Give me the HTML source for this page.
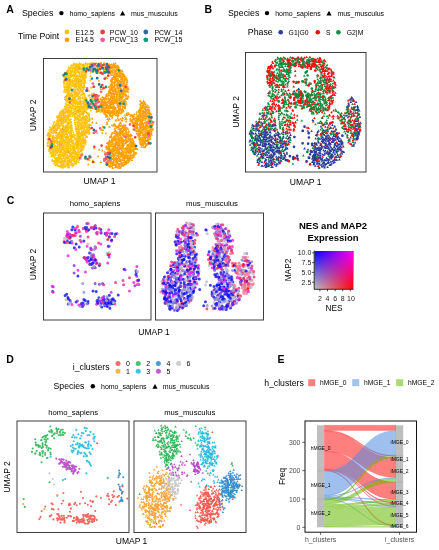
<!DOCTYPE html>
<html lang="en"><head><meta charset="utf-8"><title>Figure</title>
<style>html,body{margin:0;padding:0;background:#fff}svg{display:block}text{white-space:pre}</style></head>
<body>
<svg width="439" height="550" viewBox="0 0 439 550" font-family="'Liberation Sans', sans-serif">
<rect width="439" height="550" fill="#fff"/>
<path fill="#FF9E00" d="M133.8 154.4l1.3 2.3h-2.6zM138.9 117.8l1.3 2.3h-2.6zM114.3 85.1l1.3 2.3h-2.6zM113.5 147.4l1.3 2.3h-2.6zM101.7 103.3l1.3 2.3h-2.6zM98.1 154.9l1.3 2.3h-2.6zM103.8 67.7l1.3 2.3h-2.6zM120.7 86.8l1.3 2.3h-2.6zM119.8 72.5l1.3 2.3h-2.6zM65.2 95.6l1.3 2.3h-2.6zM105.7 96.4l1.3 2.3h-2.6zM144.4 106.1l1.3 2.3h-2.6zM143.4 139.5l1.3 2.3h-2.6zM144.7 140.7l1.3 2.3h-2.6zM112.1 109.5l1.3 2.3h-2.6zM115.9 118.7l1.3 2.3h-2.6zM135.8 151.8l1.3 2.3h-2.6zM126.2 119.9l1.3 2.3h-2.6zM118.7 65.4l1.3 2.3h-2.6zM128.6 138l1.3 2.3h-2.6zM149.7 129.6l1.3 2.3h-2.6zM116.5 78.7l1.3 2.3h-2.6zM105.5 112.9l1.3 2.3h-2.6zM124.7 76.4l1.3 2.3h-2.6zM116.5 84l1.3 2.3h-2.6zM152.7 123.2l1.3 2.3h-2.6zM107.2 77l1.3 2.3h-2.6zM121.5 144.3l1.3 2.3h-2.6zM118 159.4l1.3 2.3h-2.6zM99.9 71.3l1.3 2.3h-2.6zM133 148.4l1.3 2.3h-2.6zM110.9 83.1l1.3 2.3h-2.6zM114.1 63.4l1.3 2.3h-2.6zM124.7 76.2l1.3 2.3h-2.6zM137.1 110.4l1.3 2.3h-2.6zM69.1 77.7l1.3 2.3h-2.6zM122.2 129.7l1.3 2.3h-2.6zM109.4 106.8l1.3 2.3h-2.6zM88.1 123.7l1.3 2.3h-2.6zM121.3 102.5l1.3 2.3h-2.6zM56.6 131.2l1.3 2.3h-2.6zM102.4 149.3l1.3 2.3h-2.6zM114.2 105.1l1.3 2.3h-2.6zM116.6 141.6l1.3 2.3h-2.6zM146.5 143.6l1.3 2.3h-2.6zM117.5 131.1l1.3 2.3h-2.6zM141.5 121.9l1.3 2.3h-2.6zM105.2 96.1l1.3 2.3h-2.6zM120.5 130.3l1.3 2.3h-2.6zM134.4 143.4l1.3 2.3h-2.6zM119.4 165.3l1.3 2.3h-2.6zM114.6 99.5l1.3 2.3h-2.6zM125.4 104.3l1.3 2.3h-2.6zM127.3 86l1.3 2.3h-2.6zM133.1 117.8l1.3 2.3h-2.6zM139.2 127.9l1.3 2.3h-2.6zM110.7 148.2l1.3 2.3h-2.6zM114.5 101.6l1.3 2.3h-2.6zM109.2 90.6l1.3 2.3h-2.6zM133.5 140l1.3 2.3h-2.6zM117 71.8l1.3 2.3h-2.6zM123.1 142.3l1.3 2.3h-2.6zM116.3 159.5l1.3 2.3h-2.6zM114.4 70.2l1.3 2.3h-2.6zM102.8 65.8l1.3 2.3h-2.6zM104.9 71.4l1.3 2.3h-2.6zM116.7 67.4l1.3 2.3h-2.6zM125.5 141.1l1.3 2.3h-2.6zM119 96.7l1.3 2.3h-2.6zM133.5 150.2l1.3 2.3h-2.6zM116.2 166l1.3 2.3h-2.6zM115.4 62.1l1.3 2.3h-2.6zM147.5 126.9l1.3 2.3h-2.6zM92.5 64.9l1.3 2.3h-2.6zM145.8 109.7l1.3 2.3h-2.6zM113.5 103.5l1.3 2.3h-2.6zM149.9 137.1l1.3 2.3h-2.6zM146.6 122.3l1.3 2.3h-2.6zM128.3 95.5l1.3 2.3h-2.6zM127.7 157l1.3 2.3h-2.6zM142.6 101.6l1.3 2.3h-2.6zM142.8 122.6l1.3 2.3h-2.6zM142.3 111.7l1.3 2.3h-2.6zM143.6 136l1.3 2.3h-2.6zM117.5 154.4l1.3 2.3h-2.6zM149.7 121.9l1.3 2.3h-2.6zM108.3 111.1l1.3 2.3h-2.6zM122.8 101.8l1.3 2.3h-2.6zM144.5 114.2l1.3 2.3h-2.6zM122.6 126l1.3 2.3h-2.6zM113.9 150.5l1.3 2.3h-2.6zM106.5 93.8l1.3 2.3h-2.6zM147.6 129.4l1.3 2.3h-2.6zM121 93.1l1.3 2.3h-2.6zM134.9 124.3l1.3 2.3h-2.6zM129.6 151l1.3 2.3h-2.6zM122.9 139.7l1.3 2.3h-2.6zM106.4 161.1l1.3 2.3h-2.6zM123.6 87.1l1.3 2.3h-2.6zM116.4 156.8l1.3 2.3h-2.6zM107.6 162.7l1.3 2.3h-2.6zM140.7 114.3l1.3 2.3h-2.6zM150.7 112.4l1.3 2.3h-2.6zM125.5 151.3l1.3 2.3h-2.6zM110.2 66.3l1.3 2.3h-2.6zM125.2 156.4l1.3 2.3h-2.6zM122.5 107.4l1.3 2.3h-2.6zM122.1 90.8l1.3 2.3h-2.6zM117.2 151.5l1.3 2.3h-2.6zM122.9 93.2l1.3 2.3h-2.6zM112.5 84l1.3 2.3h-2.6zM130.8 135l1.3 2.3h-2.6zM118.1 147.7l1.3 2.3h-2.6zM117.9 110.4l1.3 2.3h-2.6zM125.9 139.4l1.3 2.3h-2.6zM116.6 77.2l1.3 2.3h-2.6zM115.6 129.2l1.3 2.3h-2.6zM117 98.3l1.3 2.3h-2.6zM115.3 71.6l1.3 2.3h-2.6zM136.3 123.2l1.3 2.3h-2.6zM113 92.3l1.3 2.3h-2.6zM140.5 120l1.3 2.3h-2.6zM141 131.1l1.3 2.3h-2.6zM120.5 101.6l1.3 2.3h-2.6zM112.6 148.6l1.3 2.3h-2.6zM141.7 119.4l1.3 2.3h-2.6zM150.1 133.3l1.3 2.3h-2.6zM116.2 101.2l1.3 2.3h-2.6zM140.6 111.3l1.3 2.3h-2.6zM123.7 143.8l1.3 2.3h-2.6zM92.5 65.7l1.3 2.3h-2.6zM121.4 96.6l1.3 2.3h-2.6zM140.5 126.8l1.3 2.3h-2.6zM131.4 119.9l1.3 2.3h-2.6zM100 103.8l1.3 2.3h-2.6zM133.6 124.5l1.3 2.3h-2.6zM148.1 130.9l1.3 2.3h-2.6zM113.1 68.4l1.3 2.3h-2.6zM126.8 97l1.3 2.3h-2.6zM127.2 146.7l1.3 2.3h-2.6zM138.5 132.5l1.3 2.3h-2.6zM101.5 99.8l1.3 2.3h-2.6zM135.9 119.8l1.3 2.3h-2.6zM106.5 104.6l1.3 2.3h-2.6zM112.3 157.7l1.3 2.3h-2.6zM117.9 115l1.3 2.3h-2.6zM115.8 90l1.3 2.3h-2.6zM134.2 144.6l1.3 2.3h-2.6zM121.3 91l1.3 2.3h-2.6zM115.6 91.7l1.3 2.3h-2.6zM119.6 108.4l1.3 2.3h-2.6zM106.5 94.7l1.3 2.3h-2.6zM145.4 132.1l1.3 2.3h-2.6zM114.6 73.1l1.3 2.3h-2.6zM109.3 153.9l1.3 2.3h-2.6zM95.6 93.9l1.3 2.3h-2.6zM118.9 163.1l1.3 2.3h-2.6zM105.9 98.2l1.3 2.3h-2.6zM119.9 127.1l1.3 2.3h-2.6zM152.4 128.4l1.3 2.3h-2.6zM122.3 143.2l1.3 2.3h-2.6zM114.1 157.5l1.3 2.3h-2.6zM114.7 65.8l1.3 2.3h-2.6zM109.1 149.7l1.3 2.3h-2.6zM115.7 119.3l1.3 2.3h-2.6zM122.8 151.9l1.3 2.3h-2.6zM130.5 137.9l1.3 2.3h-2.6zM116.9 142.9l1.3 2.3h-2.6zM103.6 102.9l1.3 2.3h-2.6zM119.2 74.5l1.3 2.3h-2.6zM119.9 157.7l1.3 2.3h-2.6zM126.6 86.9l1.3 2.3h-2.6zM143.5 99.6l1.3 2.3h-2.6zM143.6 133.4l1.3 2.3h-2.6zM117.6 64.2l1.3 2.3h-2.6zM119.2 94.9l1.3 2.3h-2.6zM129.4 142.4l1.3 2.3h-2.6zM105.9 106.3l1.3 2.3h-2.6zM101.1 101.7l1.3 2.3h-2.6zM106.5 93l1.3 2.3h-2.6zM148.7 117.8l1.3 2.3h-2.6zM113.7 62.5l1.3 2.3h-2.6zM111 95.7l1.3 2.3h-2.6zM117.3 109.8l1.3 2.3h-2.6zM123.9 86.4l1.3 2.3h-2.6zM110 63.9l1.3 2.3h-2.6zM110.9 102.9l1.3 2.3h-2.6zM118 113.6l1.3 2.3h-2.6zM97.9 66.4l1.3 2.3h-2.6zM108 106.1l1.3 2.3h-2.6zM124.5 139.1l1.3 2.3h-2.6zM143.3 106.2l1.3 2.3h-2.6zM111.5 94l1.3 2.3h-2.6zM142.5 126.1l1.3 2.3h-2.6zM116.4 148.9l1.3 2.3h-2.6zM122.4 145.9l1.3 2.3h-2.6zM140.1 113.1l1.3 2.3h-2.6zM119.3 111.1l1.3 2.3h-2.6zM123.6 89.6l1.3 2.3h-2.6zM151.6 130.2l1.3 2.3h-2.6zM108.8 66.5l1.3 2.3h-2.6zM126.1 153.6l1.3 2.3h-2.6zM95.4 63.6l1.3 2.3h-2.6zM130.5 114.5l1.3 2.3h-2.6zM117.2 74.8l1.3 2.3h-2.6zM143.6 138.2l1.3 2.3h-2.6zM127.5 159l1.3 2.3h-2.6zM115.3 160.8l1.3 2.3h-2.6zM140.5 134l1.3 2.3h-2.6zM112.9 100.7l1.3 2.3h-2.6zM116.4 113.6l1.3 2.3h-2.6zM111.1 134.9l1.3 2.3h-2.6zM119.8 129.5l1.3 2.3h-2.6zM113.8 154.8l1.3 2.3h-2.6zM108.7 104.7l1.3 2.3h-2.6zM131.9 145.6l1.3 2.3h-2.6zM118.7 137l1.3 2.3h-2.6zM124.1 157l1.3 2.3h-2.6zM120.4 69l1.3 2.3h-2.6zM113.6 156.6l1.3 2.3h-2.6zM112.8 77.4l1.3 2.3h-2.6zM111.1 65l1.3 2.3h-2.6zM126.5 113.6l1.3 2.3h-2.6zM123.7 128.5l1.3 2.3h-2.6zM111 159.5l1.3 2.3h-2.6zM113.9 86.3l1.3 2.3h-2.6zM132.9 141.9l1.3 2.3h-2.6zM126.7 146.6l1.3 2.3h-2.6zM99.2 62l1.3 2.3h-2.6zM117.5 117.3l1.3 2.3h-2.6zM143.6 127.6l1.3 2.3h-2.6zM112.3 80.8l1.3 2.3h-2.6zM114.5 111.7l1.3 2.3h-2.6zM123.9 150.6l1.3 2.3h-2.6zM106.4 97.3l1.3 2.3h-2.6zM148.3 109.4l1.3 2.3h-2.6zM113 111.4l1.3 2.3h-2.6zM110.2 102.6l1.3 2.3h-2.6zM124.1 82.5l1.3 2.3h-2.6zM119.1 83.7l1.3 2.3h-2.6zM111.6 98.9l1.3 2.3h-2.6zM115.4 71.9l1.3 2.3h-2.6zM116.7 74.9l1.3 2.3h-2.6zM116.4 139.9l1.3 2.3h-2.6zM126.2 149.9l1.3 2.3h-2.6zM111.1 162l1.3 2.3h-2.6zM112.6 138.6l1.3 2.3h-2.6zM127.6 127.3l1.3 2.3h-2.6zM102.8 109.9l1.3 2.3h-2.6zM136.6 123.8l1.3 2.3h-2.6zM123.1 82.5l1.3 2.3h-2.6zM120 152.8l1.3 2.3h-2.6zM118 135.4l1.3 2.3h-2.6zM112.7 113.8l1.3 2.3h-2.6zM114 85.7l1.3 2.3h-2.6zM121 71.6l1.3 2.3h-2.6zM120.6 84.7l1.3 2.3h-2.6zM77.4 154.5l1.3 2.3h-2.6zM136.7 120.2l1.3 2.3h-2.6zM120.3 155.2l1.3 2.3h-2.6zM133.9 116.7l1.3 2.3h-2.6zM149.4 113.2l1.3 2.3h-2.6zM100.3 97.4l1.3 2.3h-2.6zM111.6 105.5l1.3 2.3h-2.6zM107.1 152.5l1.3 2.3h-2.6zM136.6 123l1.3 2.3h-2.6zM116.3 137.3l1.3 2.3h-2.6zM145.5 112.2l1.3 2.3h-2.6zM144.2 111.9l1.3 2.3h-2.6zM121.3 127.8l1.3 2.3h-2.6zM126.6 90.2l1.3 2.3h-2.6zM128.9 159.2l1.3 2.3h-2.6zM119.5 79.5l1.3 2.3h-2.6zM101.9 107.7l1.3 2.3h-2.6zM128.1 94.8l1.3 2.3h-2.6zM106 75.7l1.3 2.3h-2.6zM111.4 157.8l1.3 2.3h-2.6zM117.5 85.3l1.3 2.3h-2.6zM123 152.8l1.3 2.3h-2.6zM121.8 126.7l1.3 2.3h-2.6z"/>
<path fill="#FFC20A" d="M59.7 164.8l1.3 2.3h-2.6zM60.5 112.2l1.3 2.3h-2.6zM65.7 157l1.3 2.3h-2.6zM83.6 82l1.3 2.3h-2.6zM68.4 70.3l1.3 2.3h-2.6zM72.6 80.9l1.3 2.3h-2.6zM66.5 94.2l1.3 2.3h-2.6zM72.5 114.8l1.3 2.3h-2.6zM69.4 72.2l1.3 2.3h-2.6zM76.3 93.1l1.3 2.3h-2.6zM63.4 132.9l1.3 2.3h-2.6zM75.9 106.2l1.3 2.3h-2.6zM77.1 124.9l1.3 2.3h-2.6zM92.5 97.6l1.3 2.3h-2.6zM72.4 94.2l1.3 2.3h-2.6zM64.2 159.5l1.3 2.3h-2.6zM88.7 128.8l1.3 2.3h-2.6zM52.4 140.5l1.3 2.3h-2.6zM71.6 137.1l1.3 2.3h-2.6zM77.3 155.9l1.3 2.3h-2.6zM65.6 124.7l1.3 2.3h-2.6zM70.9 69.6l1.3 2.3h-2.6zM76.7 100.2l1.3 2.3h-2.6zM81.5 64.2l1.3 2.3h-2.6zM98 69.1l1.3 2.3h-2.6zM71.3 162.9l1.3 2.3h-2.6zM82.8 116.8l1.3 2.3h-2.6zM62.1 120.4l1.3 2.3h-2.6zM62.2 108.9l1.3 2.3h-2.6zM84 66.4l1.3 2.3h-2.6zM79.3 97.2l1.3 2.3h-2.6zM84.7 74.3l1.3 2.3h-2.6zM78.6 110.8l1.3 2.3h-2.6zM73.2 130.5l1.3 2.3h-2.6zM91.9 96.9l1.3 2.3h-2.6zM79.2 157.2l1.3 2.3h-2.6zM59.5 152.8l1.3 2.3h-2.6zM73.2 150.9l1.3 2.3h-2.6zM56.3 141l1.3 2.3h-2.6zM69.9 101l1.3 2.3h-2.6zM76.1 112.4l1.3 2.3h-2.6zM61.1 137.8l1.3 2.3h-2.6zM91 106.7l1.3 2.3h-2.6zM83.6 130.4l1.3 2.3h-2.6zM57.8 142.3l1.3 2.3h-2.6zM72.5 150.8l1.3 2.3h-2.6zM75.3 153.2l1.3 2.3h-2.6zM72.7 100.5l1.3 2.3h-2.6zM58.2 126.3l1.3 2.3h-2.6zM83.7 106.1l1.3 2.3h-2.6zM86 74.1l1.3 2.3h-2.6zM87.2 123.9l1.3 2.3h-2.6zM78 133.3l1.3 2.3h-2.6zM62.9 127.1l1.3 2.3h-2.6zM80.1 105.8l1.3 2.3h-2.6zM85.9 71.8l1.3 2.3h-2.6zM58.2 123.5l1.3 2.3h-2.6zM56 156.5l1.3 2.3h-2.6zM76.6 152.3l1.3 2.3h-2.6zM70.7 98l1.3 2.3h-2.6zM73.6 87.8l1.3 2.3h-2.6zM67.4 122.9l1.3 2.3h-2.6zM80.1 138.3l1.3 2.3h-2.6zM123.7 150.1l1.3 2.3h-2.6zM77.5 101.7l1.3 2.3h-2.6zM65.3 125.6l1.3 2.3h-2.6zM66 110.6l1.3 2.3h-2.6zM58.1 121.4l1.3 2.3h-2.6zM92 103.4l1.3 2.3h-2.6zM63.4 144.1l1.3 2.3h-2.6zM85.8 61.7l1.3 2.3h-2.6zM68.1 142.3l1.3 2.3h-2.6zM79.2 81.9l1.3 2.3h-2.6zM116.9 112.6l1.3 2.3h-2.6zM61.3 129.9l1.3 2.3h-2.6zM75.2 96.5l1.3 2.3h-2.6zM81.1 102.4l1.3 2.3h-2.6zM98.5 98.9l1.3 2.3h-2.6zM73.6 98.9l1.3 2.3h-2.6zM89.1 65.1l1.3 2.3h-2.6zM53.4 150.8l1.3 2.3h-2.6zM67.1 75.3l1.3 2.3h-2.6zM53.6 145.3l1.3 2.3h-2.6zM50.7 150.2l1.3 2.3h-2.6zM50.3 138.5l1.3 2.3h-2.6zM81.9 68.1l1.3 2.3h-2.6zM81.7 148l1.3 2.3h-2.6zM82.2 141.6l1.3 2.3h-2.6zM75 155.1l1.3 2.3h-2.6zM74.9 136.8l1.3 2.3h-2.6zM74.2 74.3l1.3 2.3h-2.6zM66.4 95.9l1.3 2.3h-2.6zM68.1 117.1l1.3 2.3h-2.6zM62.3 119.2l1.3 2.3h-2.6zM76.1 64.1l1.3 2.3h-2.6zM56 150.3l1.3 2.3h-2.6zM74.7 86l1.3 2.3h-2.6zM67 140.6l1.3 2.3h-2.6zM67.4 157.1l1.3 2.3h-2.6zM82.9 121.5l1.3 2.3h-2.6zM55.3 158.7l1.3 2.3h-2.6zM64.1 84.7l1.3 2.3h-2.6zM68.7 141.8l1.3 2.3h-2.6zM59.7 150.7l1.3 2.3h-2.6zM84.2 77l1.3 2.3h-2.6zM82.1 80.3l1.3 2.3h-2.6zM68.8 163.2l1.3 2.3h-2.6zM83.3 112.8l1.3 2.3h-2.6zM71 73.7l1.3 2.3h-2.6zM78.3 78.7l1.3 2.3h-2.6zM78.9 134.6l1.3 2.3h-2.6zM68.2 118.7l1.3 2.3h-2.6zM80.6 110l1.3 2.3h-2.6zM69 108.4l1.3 2.3h-2.6zM78.7 106.1l1.3 2.3h-2.6zM77.4 114.5l1.3 2.3h-2.6zM97.3 131.6l1.3 2.3h-2.6zM86.8 112l1.3 2.3h-2.6zM101.6 101.5l1.3 2.3h-2.6zM79.4 124.3l1.3 2.3h-2.6zM65.3 158.5l1.3 2.3h-2.6zM63.6 118l1.3 2.3h-2.6zM61.4 124.1l1.3 2.3h-2.6zM75.9 81.6l1.3 2.3h-2.6zM73.4 63.6l1.3 2.3h-2.6zM67.3 141.9l1.3 2.3h-2.6zM85.5 114.8l1.3 2.3h-2.6zM57.7 134.7l1.3 2.3h-2.6zM77.6 128.1l1.3 2.3h-2.6zM48 140.9l1.3 2.3h-2.6zM70.9 122.4l1.3 2.3h-2.6zM66.8 72.6l1.3 2.3h-2.6zM124.5 113.9l1.3 2.3h-2.6zM50 125.9l1.3 2.3h-2.6zM68.9 95.9l1.3 2.3h-2.6zM50.6 151.1l1.3 2.3h-2.6zM55.8 136.7l1.3 2.3h-2.6zM74.1 88.4l1.3 2.3h-2.6zM70.8 93.1l1.3 2.3h-2.6zM62 118.1l1.3 2.3h-2.6zM64.5 140.7l1.3 2.3h-2.6zM77.8 122.5l1.3 2.3h-2.6zM82.2 81.7l1.3 2.3h-2.6zM74.4 78.8l1.3 2.3h-2.6zM66.7 77.4l1.3 2.3h-2.6zM69.9 150.2l1.3 2.3h-2.6zM67.1 72.3l1.3 2.3h-2.6zM63.9 151.8l1.3 2.3h-2.6zM74.5 80l1.3 2.3h-2.6zM62.6 147.6l1.3 2.3h-2.6zM57.3 141.4l1.3 2.3h-2.6zM80.9 67.8l1.3 2.3h-2.6zM69 166l1.3 2.3h-2.6zM76.3 102.2l1.3 2.3h-2.6zM56.6 160.8l1.3 2.3h-2.6zM63.8 79.1l1.3 2.3h-2.6zM82.3 112.1l1.3 2.3h-2.6zM72.8 73.5l1.3 2.3h-2.6zM84.8 128.2l1.3 2.3h-2.6zM80.1 108.6l1.3 2.3h-2.6zM75.9 90.6l1.3 2.3h-2.6zM74.6 112.2l1.3 2.3h-2.6zM66.1 127.3l1.3 2.3h-2.6zM57.1 157.1l1.3 2.3h-2.6zM62.7 139.4l1.3 2.3h-2.6zM56 149l1.3 2.3h-2.6zM68.5 107.3l1.3 2.3h-2.6zM62.3 152.5l1.3 2.3h-2.6zM72.4 156.1l1.3 2.3h-2.6zM61.7 116.5l1.3 2.3h-2.6zM85.2 141l1.3 2.3h-2.6zM67.7 88.5l1.3 2.3h-2.6zM81.2 145.6l1.3 2.3h-2.6zM51.9 145.4l1.3 2.3h-2.6zM76 91.8l1.3 2.3h-2.6zM71.5 111.2l1.3 2.3h-2.6zM67 124l1.3 2.3h-2.6zM83.2 136.1l1.3 2.3h-2.6zM84 66.3l1.3 2.3h-2.6zM70.9 163.4l1.3 2.3h-2.6zM83.4 139.7l1.3 2.3h-2.6zM93.1 61.8l1.3 2.3h-2.6zM79.7 152.8l1.3 2.3h-2.6zM69.2 151.8l1.3 2.3h-2.6zM76.2 127.8l1.3 2.3h-2.6zM71 70.4l1.3 2.3h-2.6zM68.6 129.1l1.3 2.3h-2.6zM61.3 132.5l1.3 2.3h-2.6zM59.9 123.8l1.3 2.3h-2.6zM58.3 156l1.3 2.3h-2.6zM47.4 141.9l1.3 2.3h-2.6zM88.7 120l1.3 2.3h-2.6zM84.5 128.5l1.3 2.3h-2.6zM70.2 79.8l1.3 2.3h-2.6zM72.8 158.3l1.3 2.3h-2.6zM67.1 133.1l1.3 2.3h-2.6zM56.2 162.5l1.3 2.3h-2.6zM77.7 70.7l1.3 2.3h-2.6zM57.1 147l1.3 2.3h-2.6zM81.6 143.1l1.3 2.3h-2.6zM74.4 100.3l1.3 2.3h-2.6zM95.3 97.4l1.3 2.3h-2.6zM96.7 71.3l1.3 2.3h-2.6zM51.4 130.9l1.3 2.3h-2.6zM82.7 77.6l1.3 2.3h-2.6zM60.5 128.6l1.3 2.3h-2.6zM97.5 63.5l1.3 2.3h-2.6zM65.3 129.1l1.3 2.3h-2.6zM71 152.8l1.3 2.3h-2.6zM90.9 64.3l1.3 2.3h-2.6zM76.4 141.7l1.3 2.3h-2.6zM56.5 138.4l1.3 2.3h-2.6zM60.5 143.6l1.3 2.3h-2.6zM55.5 140.2l1.3 2.3h-2.6zM73.9 132.7l1.3 2.3h-2.6zM65.3 138.1l1.3 2.3h-2.6zM86.4 120.9l1.3 2.3h-2.6zM71 94.8l1.3 2.3h-2.6zM78.1 105.6l1.3 2.3h-2.6zM71.1 131.9l1.3 2.3h-2.6zM81.4 131.6l1.3 2.3h-2.6zM57.9 116.5l1.3 2.3h-2.6zM84.7 134l1.3 2.3h-2.6zM71.6 151.5l1.3 2.3h-2.6zM76.1 161.5l1.3 2.3h-2.6zM73.3 146.9l1.3 2.3h-2.6zM56.4 122.5l1.3 2.3h-2.6zM51.4 154.8l1.3 2.3h-2.6zM71.8 148.2l1.3 2.3h-2.6zM84.3 78.6l1.3 2.3h-2.6zM67.9 79.2l1.3 2.3h-2.6zM74.8 118.7l1.3 2.3h-2.6zM83.1 117.6l1.3 2.3h-2.6zM86.1 98.5l1.3 2.3h-2.6zM82.5 152.2l1.3 2.3h-2.6zM60.4 117.5l1.3 2.3h-2.6zM61.1 121.2l1.3 2.3h-2.6zM67 86.3l1.3 2.3h-2.6zM54.8 126.8l1.3 2.3h-2.6zM65.6 160.1l1.3 2.3h-2.6zM52.9 150.1l1.3 2.3h-2.6zM50.1 130l1.3 2.3h-2.6zM80.5 86.9l1.3 2.3h-2.6zM75.3 137.8l1.3 2.3h-2.6zM58.3 132.1l1.3 2.3h-2.6zM80.9 119l1.3 2.3h-2.6zM93.6 65.5l1.3 2.3h-2.6zM81.3 84.4l1.3 2.3h-2.6zM70.8 83.1l1.3 2.3h-2.6zM48.3 138.3l1.3 2.3h-2.6zM72.6 154.5l1.3 2.3h-2.6zM57.1 124.4l1.3 2.3h-2.6zM78.7 154.9l1.3 2.3h-2.6zM70.8 86.3l1.3 2.3h-2.6zM64.7 134.5l1.3 2.3h-2.6z"/>
<path fill="#FF9E00" d="M130.8 113.8l1.3 2.3h-2.6zM96.1 61.9l1.3 2.3h-2.6zM130.4 119.1l1.3 2.3h-2.6zM130.2 117.3l1.3 2.3h-2.6zM113.6 159.2l1.3 2.3h-2.6zM109.2 117.5l1.3 2.3h-2.6zM112.2 154.7l1.3 2.3h-2.6zM139.5 128.9l1.3 2.3h-2.6zM130.7 136.9l1.3 2.3h-2.6zM134.7 123.2l1.3 2.3h-2.6zM144.5 127l1.3 2.3h-2.6zM119.3 107.4l1.3 2.3h-2.6zM141.7 145.5l1.3 2.3h-2.6zM129.5 148.4l1.3 2.3h-2.6zM132.7 115.8l1.3 2.3h-2.6zM101.4 98.8l1.3 2.3h-2.6zM116.4 126.1l1.3 2.3h-2.6zM103.7 96.5l1.3 2.3h-2.6zM139.8 139.2l1.3 2.3h-2.6zM150.7 132.2l1.3 2.3h-2.6zM109.6 138.9l1.3 2.3h-2.6zM121.3 158.5l1.3 2.3h-2.6zM126.7 80.6l1.3 2.3h-2.6zM122.3 119l1.3 2.3h-2.6zM146.7 142.7l1.3 2.3h-2.6zM104.2 108l1.3 2.3h-2.6zM121.6 147.8l1.3 2.3h-2.6zM101.4 128.5l1.3 2.3h-2.6zM134.5 113l1.3 2.3h-2.6zM145.2 145.9l1.3 2.3h-2.6zM112.2 99.1l1.3 2.3h-2.6zM116.7 165.6l1.3 2.3h-2.6zM149.2 137.9l1.3 2.3h-2.6zM112 151l1.3 2.3h-2.6zM143.1 129.2l1.3 2.3h-2.6zM146.7 108.6l1.3 2.3h-2.6zM114.7 64.8l1.3 2.3h-2.6zM96.2 108l1.3 2.3h-2.6zM127.4 132.6l1.3 2.3h-2.6zM150.1 116.9l1.3 2.3h-2.6zM129.3 152.1l1.3 2.3h-2.6zM110.1 71.1l1.3 2.3h-2.6zM111.1 69.9l1.3 2.3h-2.6zM93.1 92.4l1.3 2.3h-2.6zM145.8 105.4l1.3 2.3h-2.6zM143.5 109.6l1.3 2.3h-2.6zM109.6 156.6l1.3 2.3h-2.6zM144.8 107.8l1.3 2.3h-2.6zM141.2 120.6l1.3 2.3h-2.6zM136.2 116.7l1.3 2.3h-2.6zM129 150.3l1.3 2.3h-2.6zM128.5 143.4l1.3 2.3h-2.6zM107.8 109.2l1.3 2.3h-2.6zM119.3 136.9l1.3 2.3h-2.6zM147.2 114l1.3 2.3h-2.6zM121.9 72.9l1.3 2.3h-2.6zM121.7 80.1l1.3 2.3h-2.6zM125.3 83.7l1.3 2.3h-2.6zM145 139.9l1.3 2.3h-2.6zM108.6 66.1l1.3 2.3h-2.6zM104.4 97.8l1.3 2.3h-2.6zM115.1 142l1.3 2.3h-2.6zM136.1 151.5l1.3 2.3h-2.6zM109.3 147.2l1.3 2.3h-2.6zM66.7 132.6l1.3 2.3h-2.6zM148 108.7l1.3 2.3h-2.6zM130.8 155.9l1.3 2.3h-2.6zM111.8 70l1.3 2.3h-2.6zM145.1 116.8l1.3 2.3h-2.6zM117.5 103.7l1.3 2.3h-2.6zM147.4 132.2l1.3 2.3h-2.6zM110.7 144.9l1.3 2.3h-2.6zM131 142.8l1.3 2.3h-2.6zM143.9 145.7l1.3 2.3h-2.6zM97.7 101l1.3 2.3h-2.6zM126.5 133l1.3 2.3h-2.6zM122.5 116.4l1.3 2.3h-2.6zM94.9 102.5l1.3 2.3h-2.6zM145.6 144.5l1.3 2.3h-2.6zM146.8 126.5l1.3 2.3h-2.6zM117.5 157.7l1.3 2.3h-2.6zM110.4 110.4l1.3 2.3h-2.6zM132.4 156.5l1.3 2.3h-2.6zM125.9 100.1l1.3 2.3h-2.6zM126.8 126.5l1.3 2.3h-2.6zM112.5 95.1l1.3 2.3h-2.6zM108.9 146.2l1.3 2.3h-2.6zM112.6 114l1.3 2.3h-2.6zM112.3 142.5l1.3 2.3h-2.6zM118.6 104.7l1.3 2.3h-2.6zM92.3 121.1l1.3 2.3h-2.6zM118.5 118.6l1.3 2.3h-2.6zM108.2 96.5l1.3 2.3h-2.6zM105 69.3l1.3 2.3h-2.6zM97.8 104l1.3 2.3h-2.6zM150.8 119.5l1.3 2.3h-2.6zM138.7 129.6l1.3 2.3h-2.6zM131.5 141.1l1.3 2.3h-2.6zM133.4 141.4l1.3 2.3h-2.6zM124 128.7l1.3 2.3h-2.6zM112.8 105.5l1.3 2.3h-2.6zM147.1 114.4l1.3 2.3h-2.6zM122.7 134l1.3 2.3h-2.6zM125.8 142.1l1.3 2.3h-2.6zM117.1 73.6l1.3 2.3h-2.6zM109 89.4l1.3 2.3h-2.6zM123.3 128.9l1.3 2.3h-2.6zM95.7 100l1.3 2.3h-2.6zM140.2 131.8l1.3 2.3h-2.6zM115.5 156.7l1.3 2.3h-2.6zM119.8 83.1l1.3 2.3h-2.6zM132.1 118.9l1.3 2.3h-2.6zM126.3 159.7l1.3 2.3h-2.6zM147 123.6l1.3 2.3h-2.6zM124.4 79.5l1.3 2.3h-2.6zM101.9 99l1.3 2.3h-2.6zM117.7 143l1.3 2.3h-2.6zM125.4 127.4l1.3 2.3h-2.6zM140.7 107.9l1.3 2.3h-2.6zM119.2 151.7l1.3 2.3h-2.6zM108.4 119.4l1.3 2.3h-2.6zM113.7 149.8l1.3 2.3h-2.6zM121.2 91.4l1.3 2.3h-2.6zM139.6 108.1l1.3 2.3h-2.6zM116.2 64.8l1.3 2.3h-2.6zM121.7 136.1l1.3 2.3h-2.6zM142.1 104.3l1.3 2.3h-2.6zM110.3 69.8l1.3 2.3h-2.6zM110.3 106.7l1.3 2.3h-2.6zM112.3 102.7l1.3 2.3h-2.6zM112.1 79.1l1.3 2.3h-2.6zM110.8 162.9l1.3 2.3h-2.6zM121 109.2l1.3 2.3h-2.6zM116.4 151l1.3 2.3h-2.6zM117.7 105.6l1.3 2.3h-2.6zM136.5 126.1l1.3 2.3h-2.6zM122.5 137.4l1.3 2.3h-2.6zM109.1 159.2l1.3 2.3h-2.6zM131.6 118.9l1.3 2.3h-2.6zM126.5 136.6l1.3 2.3h-2.6zM105.8 131.9l1.3 2.3h-2.6zM118.7 103.6l1.3 2.3h-2.6zM113.6 163.3l1.3 2.3h-2.6zM109.5 152l1.3 2.3h-2.6zM124.8 142.3l1.3 2.3h-2.6zM138.5 114.3l1.3 2.3h-2.6zM106.3 157.8l1.3 2.3h-2.6zM104.2 107.4l1.3 2.3h-2.6zM113.9 75l1.3 2.3h-2.6zM71.3 140.2l1.3 2.3h-2.6zM136.7 126l1.3 2.3h-2.6zM142.5 101.6l1.3 2.3h-2.6zM129.4 158.1l1.3 2.3h-2.6zM115.7 69.5l1.3 2.3h-2.6zM107.5 155.7l1.3 2.3h-2.6zM113.4 124.1l1.3 2.3h-2.6zM127.7 85.2l1.3 2.3h-2.6zM109.1 99l1.3 2.3h-2.6zM125.5 146.7l1.3 2.3h-2.6zM144.8 125.8l1.3 2.3h-2.6zM128.2 145.2l1.3 2.3h-2.6zM111 66.3l1.3 2.3h-2.6zM60 118.6l1.3 2.3h-2.6zM92.6 106.8l1.3 2.3h-2.6zM102.8 98.2l1.3 2.3h-2.6zM117 161.4l1.3 2.3h-2.6zM101.4 110.2l1.3 2.3h-2.6zM121.6 161.6l1.3 2.3h-2.6zM121.2 77.7l1.3 2.3h-2.6zM120.1 89.9l1.3 2.3h-2.6zM116.6 164.8l1.3 2.3h-2.6zM116.3 92.7l1.3 2.3h-2.6zM145.4 109.4l1.3 2.3h-2.6zM126.6 140.7l1.3 2.3h-2.6zM134.3 117.9l1.3 2.3h-2.6zM150.4 135.1l1.3 2.3h-2.6zM133.2 149l1.3 2.3h-2.6zM135.5 126.9l1.3 2.3h-2.6zM123 129.8l1.3 2.3h-2.6zM123 88.9l1.3 2.3h-2.6zM63.6 113.9l1.3 2.3h-2.6zM107.4 68.3l1.3 2.3h-2.6zM97.5 108.6l1.3 2.3h-2.6zM110.2 90.5l1.3 2.3h-2.6zM125.4 126l1.3 2.3h-2.6zM109.3 146.8l1.3 2.3h-2.6zM110.8 136.1l1.3 2.3h-2.6zM121.5 76.5l1.3 2.3h-2.6zM145.2 138.1l1.3 2.3h-2.6zM104.7 107.9l1.3 2.3h-2.6zM129.4 146l1.3 2.3h-2.6zM107.1 100.6l1.3 2.3h-2.6zM104.1 61.6l1.3 2.3h-2.6zM145.4 135.9l1.3 2.3h-2.6zM149 114.7l1.3 2.3h-2.6zM93.6 99.8l1.3 2.3h-2.6zM113.7 89.7l1.3 2.3h-2.6zM126.6 136.2l1.3 2.3h-2.6zM112.8 151.9l1.3 2.3h-2.6zM149.6 113l1.3 2.3h-2.6zM117.9 76.7l1.3 2.3h-2.6zM120 157.6l1.3 2.3h-2.6zM126.1 155.2l1.3 2.3h-2.6zM111.5 106l1.3 2.3h-2.6zM124.1 128l1.3 2.3h-2.6zM78.8 138.4l1.3 2.3h-2.6zM119.4 139.9l1.3 2.3h-2.6zM119.5 133.1l1.3 2.3h-2.6zM126.3 139.7l1.3 2.3h-2.6zM113.7 111.2l1.3 2.3h-2.6zM118.2 163.4l1.3 2.3h-2.6zM133.5 123.2l1.3 2.3h-2.6zM117 139.4l1.3 2.3h-2.6zM120.7 80.7l1.3 2.3h-2.6zM148.3 111.8l1.3 2.3h-2.6zM135.7 146.9l1.3 2.3h-2.6zM112 88.9l1.3 2.3h-2.6zM112.5 71.1l1.3 2.3h-2.6zM110.1 114.3l1.3 2.3h-2.6zM112 139.8l1.3 2.3h-2.6zM137.2 114.4l1.3 2.3h-2.6zM125.6 93.2l1.3 2.3h-2.6zM122.9 92.6l1.3 2.3h-2.6zM107.8 115.2l1.3 2.3h-2.6zM149.7 121.8l1.3 2.3h-2.6zM112.9 163.7l1.3 2.3h-2.6zM116.2 95l1.3 2.3h-2.6zM143 131.3l1.3 2.3h-2.6zM147.1 138.9l1.3 2.3h-2.6zM145.3 114.6l1.3 2.3h-2.6zM111.2 134.6l1.3 2.3h-2.6zM115.6 106.5l1.3 2.3h-2.6zM124 105.4l1.3 2.3h-2.6zM135.3 128.8l1.3 2.3h-2.6zM121.5 119.2l1.3 2.3h-2.6zM91.6 67.5l1.3 2.3h-2.6zM142.4 106.1l1.3 2.3h-2.6zM119.2 93.3l1.3 2.3h-2.6zM111.9 149.7l1.3 2.3h-2.6zM89.4 93.9l1.3 2.3h-2.6zM69.8 105.7l1.3 2.3h-2.6zM108.1 163.3l1.3 2.3h-2.6zM120.1 159.5l1.3 2.3h-2.6zM120.4 106.5l1.3 2.3h-2.6zM109.9 139.6l1.3 2.3h-2.6zM111.1 78.6l1.3 2.3h-2.6zM114.8 144.6l1.3 2.3h-2.6zM145.3 118.5l1.3 2.3h-2.6zM109.9 157.5l1.3 2.3h-2.6zM138.6 115.7l1.3 2.3h-2.6z"/>
<path fill="#FFC20A" d="M60.5 165.5l1.3 2.3h-2.6zM62.9 149l1.3 2.3h-2.6zM76.8 130.3l1.3 2.3h-2.6zM85.9 70.4l1.3 2.3h-2.6zM66 138.1l1.3 2.3h-2.6zM78.1 120.1l1.3 2.3h-2.6zM56.3 137l1.3 2.3h-2.6zM67.5 127.5l1.3 2.3h-2.6zM64.9 114.6l1.3 2.3h-2.6zM65.9 102.3l1.3 2.3h-2.6zM84.9 125.7l1.3 2.3h-2.6zM78.8 68.1l1.3 2.3h-2.6zM81.8 104.5l1.3 2.3h-2.6zM71.2 99.7l1.3 2.3h-2.6zM57.2 126.2l1.3 2.3h-2.6zM86.3 110.8l1.3 2.3h-2.6zM84.1 79.4l1.3 2.3h-2.6zM87.5 107.3l1.3 2.3h-2.6zM53.6 146.5l1.3 2.3h-2.6zM64.8 105l1.3 2.3h-2.6zM71 153.5l1.3 2.3h-2.6zM89.1 69.6l1.3 2.3h-2.6zM74.8 97.8l1.3 2.3h-2.6zM74.4 107.4l1.3 2.3h-2.6zM59.4 113.9l1.3 2.3h-2.6zM72.6 78.7l1.3 2.3h-2.6zM49 149.5l1.3 2.3h-2.6zM78.5 70.9l1.3 2.3h-2.6zM79.2 146.4l1.3 2.3h-2.6zM78.4 153l1.3 2.3h-2.6zM88.7 100.7l1.3 2.3h-2.6zM70.4 160.8l1.3 2.3h-2.6zM66.7 117.8l1.3 2.3h-2.6zM78.6 142.4l1.3 2.3h-2.6zM71.2 148.2l1.3 2.3h-2.6zM55.8 149.6l1.3 2.3h-2.6zM72.8 93l1.3 2.3h-2.6zM49.9 132.7l1.3 2.3h-2.6zM75.1 77.4l1.3 2.3h-2.6zM81.9 130.3l1.3 2.3h-2.6zM61.8 144.1l1.3 2.3h-2.6zM69 81.3l1.3 2.3h-2.6zM49.1 133.7l1.3 2.3h-2.6zM74.6 69.2l1.3 2.3h-2.6zM84.3 75.5l1.3 2.3h-2.6zM71 106.7l1.3 2.3h-2.6zM79.6 114.6l1.3 2.3h-2.6zM65.6 143.1l1.3 2.3h-2.6zM73.3 111.1l1.3 2.3h-2.6zM59.2 144.7l1.3 2.3h-2.6zM59.4 135.6l1.3 2.3h-2.6zM71 153.3l1.3 2.3h-2.6zM66.6 105.9l1.3 2.3h-2.6zM57.5 127.9l1.3 2.3h-2.6zM75.9 140.9l1.3 2.3h-2.6zM80.6 126.2l1.3 2.3h-2.6zM67 146.3l1.3 2.3h-2.6zM72.2 80.3l1.3 2.3h-2.6zM85.4 130l1.3 2.3h-2.6zM58.8 124.2l1.3 2.3h-2.6zM60.6 116.3l1.3 2.3h-2.6zM81.5 130.8l1.3 2.3h-2.6zM81.2 144.1l1.3 2.3h-2.6zM88.1 112.5l1.3 2.3h-2.6zM66.8 70l1.3 2.3h-2.6zM83 145l1.3 2.3h-2.6zM80.5 89.4l1.3 2.3h-2.6zM50.9 126.9l1.3 2.3h-2.6zM60.1 148.6l1.3 2.3h-2.6zM93.9 68.2l1.3 2.3h-2.6zM53.1 152.1l1.3 2.3h-2.6zM79.8 109.6l1.3 2.3h-2.6zM63.3 163.6l1.3 2.3h-2.6zM72.1 133.8l1.3 2.3h-2.6zM54.2 127.5l1.3 2.3h-2.6zM69.8 153.2l1.3 2.3h-2.6zM59.6 144.8l1.3 2.3h-2.6zM57.3 151.6l1.3 2.3h-2.6zM75.6 65.6l1.3 2.3h-2.6zM86.7 131.9l1.3 2.3h-2.6zM75 112.7l1.3 2.3h-2.6zM64.1 82l1.3 2.3h-2.6zM84 81.9l1.3 2.3h-2.6zM77.9 91.9l1.3 2.3h-2.6zM61.7 122.9l1.3 2.3h-2.6zM64.8 149.7l1.3 2.3h-2.6zM62.7 144.9l1.3 2.3h-2.6zM52.7 159.8l1.3 2.3h-2.6zM78.8 95.6l1.3 2.3h-2.6zM64 108.2l1.3 2.3h-2.6zM78.8 143.3l1.3 2.3h-2.6zM57.8 120.3l1.3 2.3h-2.6zM88 62.5l1.3 2.3h-2.6zM81.5 149.9l1.3 2.3h-2.6zM51.9 131.1l1.3 2.3h-2.6zM70.4 137.5l1.3 2.3h-2.6zM88.5 65.4l1.3 2.3h-2.6zM80.1 116.1l1.3 2.3h-2.6zM87.4 125.6l1.3 2.3h-2.6zM62.4 137.3l1.3 2.3h-2.6zM81.4 75.1l1.3 2.3h-2.6zM79.6 71.8l1.3 2.3h-2.6zM82 107.4l1.3 2.3h-2.6zM85.6 139l1.3 2.3h-2.6zM65 117.7l1.3 2.3h-2.6zM79.6 61.7l1.3 2.3h-2.6zM56 131.9l1.3 2.3h-2.6zM64.8 86.3l1.3 2.3h-2.6zM63.6 135.3l1.3 2.3h-2.6zM82 123.8l1.3 2.3h-2.6zM59.7 146l1.3 2.3h-2.6zM89.4 123.2l1.3 2.3h-2.6zM75.4 103.5l1.3 2.3h-2.6zM78.5 97.1l1.3 2.3h-2.6zM73.3 98.1l1.3 2.3h-2.6zM60.6 153.2l1.3 2.3h-2.6zM90.4 123.8l1.3 2.3h-2.6zM81.9 110l1.3 2.3h-2.6zM69.5 82.5l1.3 2.3h-2.6zM149.7 124.7l1.3 2.3h-2.6zM87.8 130.4l1.3 2.3h-2.6zM73.7 139.3l1.3 2.3h-2.6zM78.8 142.5l1.3 2.3h-2.6zM74.4 67.6l1.3 2.3h-2.6zM68.3 86l1.3 2.3h-2.6zM150.2 124.1l1.3 2.3h-2.6zM72.7 95.5l1.3 2.3h-2.6zM79.1 124l1.3 2.3h-2.6zM89.7 117.8l1.3 2.3h-2.6zM82.4 70.5l1.3 2.3h-2.6zM68.3 71.2l1.3 2.3h-2.6zM85.9 122l1.3 2.3h-2.6zM54.5 155.2l1.3 2.3h-2.6zM74.2 147.3l1.3 2.3h-2.6zM70.5 109.5l1.3 2.3h-2.6zM52.6 154.6l1.3 2.3h-2.6zM81.6 130.5l1.3 2.3h-2.6zM81.3 83.3l1.3 2.3h-2.6zM71.6 155.6l1.3 2.3h-2.6zM70.6 70.9l1.3 2.3h-2.6zM72.5 164.9l1.3 2.3h-2.6zM53.5 150.1l1.3 2.3h-2.6zM50.7 128l1.3 2.3h-2.6zM84 99.8l1.3 2.3h-2.6zM61.3 110.1l1.3 2.3h-2.6zM86.7 135.7l1.3 2.3h-2.6zM74.4 96.6l1.3 2.3h-2.6zM66.6 79.8l1.3 2.3h-2.6zM72.1 142.3l1.3 2.3h-2.6zM73.8 147.8l1.3 2.3h-2.6zM61.5 162.2l1.3 2.3h-2.6zM64 111.7l1.3 2.3h-2.6zM62.8 163.1l1.3 2.3h-2.6zM79.9 121.1l1.3 2.3h-2.6zM49.8 134.2l1.3 2.3h-2.6zM59.1 126.7l1.3 2.3h-2.6zM52 142.8l1.3 2.3h-2.6zM75.2 72.8l1.3 2.3h-2.6zM73.7 163.4l1.3 2.3h-2.6zM71.3 148.5l1.3 2.3h-2.6zM78.9 141.8l1.3 2.3h-2.6zM80.6 67.9l1.3 2.3h-2.6zM97.1 100.7l1.3 2.3h-2.6zM94.4 147.1l1.3 2.3h-2.6zM71.3 79.1l1.3 2.3h-2.6zM82.4 120.1l1.3 2.3h-2.6zM51.1 148.5l1.3 2.3h-2.6zM57.9 115.6l1.3 2.3h-2.6zM69.2 162.3l1.3 2.3h-2.6zM75.1 89.8l1.3 2.3h-2.6zM73.6 135.4l1.3 2.3h-2.6zM67.6 160.4l1.3 2.3h-2.6zM60.1 139.4l1.3 2.3h-2.6zM84 100.6l1.3 2.3h-2.6zM89.5 105.9l1.3 2.3h-2.6zM82.8 75.6l1.3 2.3h-2.6zM70.1 121.8l1.3 2.3h-2.6zM62 133.4l1.3 2.3h-2.6zM69.8 113.7l1.3 2.3h-2.6zM79.2 89.9l1.3 2.3h-2.6zM83.9 106.1l1.3 2.3h-2.6zM70.7 110.1l1.3 2.3h-2.6zM86.7 99.7l1.3 2.3h-2.6zM65.6 153.5l1.3 2.3h-2.6zM64.1 154.3l1.3 2.3h-2.6zM88 111.6l1.3 2.3h-2.6zM64.4 75.8l1.3 2.3h-2.6zM58.7 149.6l1.3 2.3h-2.6zM86 123.5l1.3 2.3h-2.6zM79.9 115.9l1.3 2.3h-2.6zM49.2 135.9l1.3 2.3h-2.6zM78.4 66.9l1.3 2.3h-2.6zM68 157.1l1.3 2.3h-2.6zM55.5 126.6l1.3 2.3h-2.6zM86.1 67.3l1.3 2.3h-2.6zM81.7 147.4l1.3 2.3h-2.6zM81.4 132.8l1.3 2.3h-2.6zM66.7 70.6l1.3 2.3h-2.6zM80.2 157.5l1.3 2.3h-2.6zM84.2 92.2l1.3 2.3h-2.6zM92.8 62l1.3 2.3h-2.6zM74.7 159.8l1.3 2.3h-2.6zM78.4 117.6l1.3 2.3h-2.6zM53.3 131.6l1.3 2.3h-2.6zM76.8 99.4l1.3 2.3h-2.6zM76.3 112.2l1.3 2.3h-2.6zM95.6 67.3l1.3 2.3h-2.6zM51 151.6l1.3 2.3h-2.6zM72.9 96.2l1.3 2.3h-2.6zM76 151.9l1.3 2.3h-2.6zM68.5 67.9l1.3 2.3h-2.6zM84.8 101.9l1.3 2.3h-2.6zM77 77.8l1.3 2.3h-2.6zM71.2 65.3l1.3 2.3h-2.6zM51.1 134.2l1.3 2.3h-2.6zM89.4 62.3l1.3 2.3h-2.6zM77.7 142.1l1.3 2.3h-2.6zM77.9 120.2l1.3 2.3h-2.6zM86.4 119.3l1.3 2.3h-2.6zM68.3 94.7l1.3 2.3h-2.6zM69.1 126.9l1.3 2.3h-2.6zM83.7 87.5l1.3 2.3h-2.6zM79 128.4l1.3 2.3h-2.6zM51.3 129.1l1.3 2.3h-2.6zM59.1 122.3l1.3 2.3h-2.6zM89.5 126.7l1.3 2.3h-2.6zM132.1 147.6l1.3 2.3h-2.6zM84.3 99.3l1.3 2.3h-2.6zM73.8 112.3l1.3 2.3h-2.6zM61.3 109.8l1.3 2.3h-2.6zM66.9 143.1l1.3 2.3h-2.6zM90 96.2l1.3 2.3h-2.6zM67.7 92.1l1.3 2.3h-2.6zM65.7 75.8l1.3 2.3h-2.6zM66.9 78.7l1.3 2.3h-2.6zM57.4 144.1l1.3 2.3h-2.6zM68.6 121.4l1.3 2.3h-2.6zM68.4 162.5l1.3 2.3h-2.6zM67.1 153.2l1.3 2.3h-2.6zM68.4 146.8l1.3 2.3h-2.6zM66.6 144.5l1.3 2.3h-2.6zM76.2 129.2l1.3 2.3h-2.6zM68.9 108.3l1.3 2.3h-2.6zM64 115.1l1.3 2.3h-2.6zM68.3 148.4l1.3 2.3h-2.6zM81.6 107.8l1.3 2.3h-2.6zM69.1 103.5l1.3 2.3h-2.6zM63.2 160.2l1.3 2.3h-2.6zM51.1 144l1.3 2.3h-2.6zM80.8 123.3l1.3 2.3h-2.6zM83.4 133.1l1.3 2.3h-2.6zM87.4 64.7l1.3 2.3h-2.6zM97.2 100.4l1.3 2.3h-2.6zM73.9 107.8l1.3 2.3h-2.6zM57.1 115.4l1.3 2.3h-2.6zM54.9 146.4l1.3 2.3h-2.6zM89.7 126.2l1.3 2.3h-2.6zM70.5 152.1l1.3 2.3h-2.6zM56.9 138.1l1.3 2.3h-2.6zM70.4 71.8l1.3 2.3h-2.6zM69.7 83.6l1.3 2.3h-2.6zM76.7 116.5l1.3 2.3h-2.6zM83.3 65.9l1.3 2.3h-2.6zM56.9 160.6l1.3 2.3h-2.6zM71.9 88.5l1.3 2.3h-2.6zM84.7 63.7l1.3 2.3h-2.6zM64.7 162.5l1.3 2.3h-2.6zM57.8 139.6l1.3 2.3h-2.6zM90.9 109.2l1.3 2.3h-2.6zM67.5 115.5l1.3 2.3h-2.6zM65.6 137.1l1.3 2.3h-2.6zM78.2 102.4l1.3 2.3h-2.6zM52.3 146.5l1.3 2.3h-2.6zM83.4 116.9l1.3 2.3h-2.6zM50.8 150.7l1.3 2.3h-2.6zM77.7 147l1.3 2.3h-2.6zM75 117.2l1.3 2.3h-2.6zM79.3 92.3l1.3 2.3h-2.6zM68.8 97l1.3 2.3h-2.6zM51.2 126.9l1.3 2.3h-2.6zM87 62.8l1.3 2.3h-2.6zM49.5 132.8l1.3 2.3h-2.6zM76.5 139.8l1.3 2.3h-2.6zM79 139.7l1.3 2.3h-2.6zM79 74.6l1.3 2.3h-2.6z"/>
<path fill="#FF9E00" d="M112.8 86.3l1.3 2.3h-2.6zM119.5 162.9l1.3 2.3h-2.6zM106.8 104.1l1.3 2.3h-2.6zM123.1 72.9l1.3 2.3h-2.6zM119.1 148l1.3 2.3h-2.6zM124.7 78.9l1.3 2.3h-2.6zM136.7 116.6l1.3 2.3h-2.6zM123.1 140.5l1.3 2.3h-2.6zM142.1 125.4l1.3 2.3h-2.6zM112.2 65.4l1.3 2.3h-2.6zM111.4 73.4l1.3 2.3h-2.6zM151.6 133.4l1.3 2.3h-2.6zM113.8 101.6l1.3 2.3h-2.6zM113.5 62.2l1.3 2.3h-2.6zM139 135.2l1.3 2.3h-2.6zM106.5 110l1.3 2.3h-2.6zM138 123.1l1.3 2.3h-2.6zM125 148.9l1.3 2.3h-2.6zM102.3 131.5l1.3 2.3h-2.6zM110.7 150.6l1.3 2.3h-2.6zM123.7 163.9l1.3 2.3h-2.6zM145.3 130.9l1.3 2.3h-2.6zM127.5 158.4l1.3 2.3h-2.6zM110.6 149.6l1.3 2.3h-2.6zM112.1 101.5l1.3 2.3h-2.6zM101 65.9l1.3 2.3h-2.6zM102.4 95.8l1.3 2.3h-2.6zM107.8 160.6l1.3 2.3h-2.6zM109 161.7l1.3 2.3h-2.6zM123.5 150.2l1.3 2.3h-2.6zM113 160.3l1.3 2.3h-2.6zM115.4 165.6l1.3 2.3h-2.6zM136.3 112.8l1.3 2.3h-2.6zM105.5 110.2l1.3 2.3h-2.6zM104.1 101.8l1.3 2.3h-2.6zM111 86.4l1.3 2.3h-2.6zM120.8 131l1.3 2.3h-2.6zM111.5 67.1l1.3 2.3h-2.6zM118.5 80.9l1.3 2.3h-2.6zM107.8 65.7l1.3 2.3h-2.6zM148.9 105.7l1.3 2.3h-2.6zM126.4 162l1.3 2.3h-2.6zM134.4 153.2l1.3 2.3h-2.6zM141.8 130.6l1.3 2.3h-2.6zM121.9 109.7l1.3 2.3h-2.6zM127.6 155.3l1.3 2.3h-2.6zM142.4 137.1l1.3 2.3h-2.6zM143.8 125.7l1.3 2.3h-2.6zM126.5 94.3l1.3 2.3h-2.6zM114 93.3l1.3 2.3h-2.6zM114.5 75.5l1.3 2.3h-2.6zM124.8 131.8l1.3 2.3h-2.6zM112.7 101.9l1.3 2.3h-2.6zM129.3 134.9l1.3 2.3h-2.6zM130.3 132.9l1.3 2.3h-2.6zM133.3 140.1l1.3 2.3h-2.6zM110.3 72.2l1.3 2.3h-2.6zM114.3 109.6l1.3 2.3h-2.6zM61.4 135.2l1.3 2.3h-2.6zM128.4 156.5l1.3 2.3h-2.6zM128.6 148.9l1.3 2.3h-2.6zM117.9 125.3l1.3 2.3h-2.6zM112.9 141.5l1.3 2.3h-2.6zM115.4 87.4l1.3 2.3h-2.6zM120.7 104.4l1.3 2.3h-2.6zM138.6 131.9l1.3 2.3h-2.6zM121.6 100.1l1.3 2.3h-2.6zM110 88.4l1.3 2.3h-2.6zM116.2 98.5l1.3 2.3h-2.6zM118.5 137.8l1.3 2.3h-2.6zM98.3 106.4l1.3 2.3h-2.6zM117.1 101.2l1.3 2.3h-2.6zM109.7 63l1.3 2.3h-2.6zM120.8 112l1.3 2.3h-2.6zM127 156.5l1.3 2.3h-2.6zM136.7 132.2l1.3 2.3h-2.6zM135.6 146.4l1.3 2.3h-2.6zM119 143.8l1.3 2.3h-2.6zM99.2 108.6l1.3 2.3h-2.6zM113 73.5l1.3 2.3h-2.6zM112 77.3l1.3 2.3h-2.6zM126.6 134.5l1.3 2.3h-2.6zM108.1 94.1l1.3 2.3h-2.6zM134.1 147.3l1.3 2.3h-2.6zM151.2 118.3l1.3 2.3h-2.6zM110 158.5l1.3 2.3h-2.6zM109.8 91.6l1.3 2.3h-2.6zM114.1 155.2l1.3 2.3h-2.6zM109.4 147.7l1.3 2.3h-2.6zM140.2 130.4l1.3 2.3h-2.6zM140.6 140.4l1.3 2.3h-2.6zM146 122.5l1.3 2.3h-2.6zM144.2 115.2l1.3 2.3h-2.6zM121.4 162l1.3 2.3h-2.6zM115.6 77.1l1.3 2.3h-2.6zM133.4 116.6l1.3 2.3h-2.6zM114.2 152.8l1.3 2.3h-2.6zM131.7 144.3l1.3 2.3h-2.6zM104 67.6l1.3 2.3h-2.6zM117.7 161.7l1.3 2.3h-2.6zM119.3 85.3l1.3 2.3h-2.6zM117.6 144.3l1.3 2.3h-2.6zM117.2 81.3l1.3 2.3h-2.6zM123.7 92.6l1.3 2.3h-2.6zM112.1 147.3l1.3 2.3h-2.6zM106.4 146.3l1.3 2.3h-2.6zM147.5 124.8l1.3 2.3h-2.6zM133.8 118.1l1.3 2.3h-2.6zM118.8 155.1l1.3 2.3h-2.6zM146 120.4l1.3 2.3h-2.6zM119.1 94.7l1.3 2.3h-2.6zM122.3 110.5l1.3 2.3h-2.6zM126.5 155.1l1.3 2.3h-2.6zM111.7 140.4l1.3 2.3h-2.6zM112.9 153.1l1.3 2.3h-2.6zM118.5 86.7l1.3 2.3h-2.6zM120.3 96.2l1.3 2.3h-2.6zM115.1 89.6l1.3 2.3h-2.6zM108.7 157l1.3 2.3h-2.6zM118.7 73.7l1.3 2.3h-2.6zM121.9 69.3l1.3 2.3h-2.6zM109.5 125.4l1.3 2.3h-2.6zM62.3 127.5l1.3 2.3h-2.6zM116.1 146.6l1.3 2.3h-2.6zM124.7 99.2l1.3 2.3h-2.6zM121.9 109.2l1.3 2.3h-2.6zM134.3 120.8l1.3 2.3h-2.6zM122.7 164l1.3 2.3h-2.6zM119.2 141.8l1.3 2.3h-2.6zM140.8 129.6l1.3 2.3h-2.6zM148.2 120.4l1.3 2.3h-2.6zM138.7 119.9l1.3 2.3h-2.6zM118.2 139.9l1.3 2.3h-2.6zM147.8 138.3l1.3 2.3h-2.6zM121.3 164.2l1.3 2.3h-2.6zM116.2 156.3l1.3 2.3h-2.6zM140.3 137.2l1.3 2.3h-2.6zM111.4 135.1l1.3 2.3h-2.6zM131.4 156.2l1.3 2.3h-2.6zM125.3 125.4l1.3 2.3h-2.6zM106.4 114l1.3 2.3h-2.6zM139.7 137.9l1.3 2.3h-2.6zM92.2 117.1l1.3 2.3h-2.6zM113.4 107.4l1.3 2.3h-2.6zM151 117.3l1.3 2.3h-2.6zM125.3 97.5l1.3 2.3h-2.6zM114.3 130.5l1.3 2.3h-2.6zM114.4 135l1.3 2.3h-2.6zM126.3 77.4l1.3 2.3h-2.6zM141.6 138.6l1.3 2.3h-2.6zM143.8 114.3l1.3 2.3h-2.6zM99.1 65.8l1.3 2.3h-2.6zM151.7 119.8l1.3 2.3h-2.6zM109.8 87.7l1.3 2.3h-2.6zM122.9 74.4l1.3 2.3h-2.6zM144.1 135.1l1.3 2.3h-2.6zM115.4 135.1l1.3 2.3h-2.6zM105.2 86.5l1.3 2.3h-2.6zM140.5 121.7l1.3 2.3h-2.6zM145.1 128.2l1.3 2.3h-2.6zM112.9 89.5l1.3 2.3h-2.6zM107.8 163.4l1.3 2.3h-2.6zM137.2 147.6l1.3 2.3h-2.6zM97 110l1.3 2.3h-2.6zM95.5 104.2l1.3 2.3h-2.6zM123.9 135.1l1.3 2.3h-2.6zM118.1 140.5l1.3 2.3h-2.6zM110.1 143.5l1.3 2.3h-2.6zM122.2 109.3l1.3 2.3h-2.6zM99 93.9l1.3 2.3h-2.6zM116.3 132.3l1.3 2.3h-2.6zM143.4 117.5l1.3 2.3h-2.6zM116 142.6l1.3 2.3h-2.6zM137.2 129.5l1.3 2.3h-2.6zM142.7 109.6l1.3 2.3h-2.6zM140.5 142.4l1.3 2.3h-2.6zM65.8 108l1.3 2.3h-2.6zM124 90.9l1.3 2.3h-2.6zM149.3 108.9l1.3 2.3h-2.6zM150.1 126.1l1.3 2.3h-2.6zM132.1 113.6l1.3 2.3h-2.6zM112.9 161.5l1.3 2.3h-2.6zM109.3 93.9l1.3 2.3h-2.6zM118.8 123.6l1.3 2.3h-2.6zM121.9 138.7l1.3 2.3h-2.6zM106.5 144.9l1.3 2.3h-2.6zM130.3 134.2l1.3 2.3h-2.6zM122.5 77.4l1.3 2.3h-2.6zM115.8 70.1l1.3 2.3h-2.6zM125.6 93.5l1.3 2.3h-2.6zM122 139.3l1.3 2.3h-2.6zM128.9 134.1l1.3 2.3h-2.6zM124.9 106.9l1.3 2.3h-2.6zM125 105.5l1.3 2.3h-2.6zM118.9 106.6l1.3 2.3h-2.6zM119.1 101.1l1.3 2.3h-2.6zM121.4 73.5l1.3 2.3h-2.6zM118.9 150.4l1.3 2.3h-2.6zM102.9 66.6l1.3 2.3h-2.6zM125.2 123.6l1.3 2.3h-2.6zM122.8 124.8l1.3 2.3h-2.6zM122.5 158.7l1.3 2.3h-2.6zM123.6 138.6l1.3 2.3h-2.6zM109.7 104.2l1.3 2.3h-2.6zM142.4 128.2l1.3 2.3h-2.6zM102.7 125.3l1.3 2.3h-2.6zM130.4 154.9l1.3 2.3h-2.6zM112.7 166.6l1.3 2.3h-2.6zM114.4 83l1.3 2.3h-2.6zM116.9 79.6l1.3 2.3h-2.6zM118.5 125.9l1.3 2.3h-2.6zM123.8 153l1.3 2.3h-2.6zM119.9 93.2l1.3 2.3h-2.6zM111.9 82.3l1.3 2.3h-2.6zM134.3 120.7l1.3 2.3h-2.6zM134.7 142.6l1.3 2.3h-2.6zM120.4 124.5l1.3 2.3h-2.6zM128 132.1l1.3 2.3h-2.6zM123.7 133.6l1.3 2.3h-2.6zM128 90.3l1.3 2.3h-2.6zM130.4 143.7l1.3 2.3h-2.6zM109.2 164.7l1.3 2.3h-2.6zM67.4 115.1l1.3 2.3h-2.6zM109 108.6l1.3 2.3h-2.6zM143.1 144l1.3 2.3h-2.6zM122.3 76.1l1.3 2.3h-2.6zM138.8 111.1l1.3 2.3h-2.6zM108 67.5l1.3 2.3h-2.6zM138.9 132.8l1.3 2.3h-2.6zM116.4 160.4l1.3 2.3h-2.6zM145.2 102.9l1.3 2.3h-2.6zM127.2 148.4l1.3 2.3h-2.6zM134.7 118.2l1.3 2.3h-2.6zM115.9 164.2l1.3 2.3h-2.6zM121.2 154.3l1.3 2.3h-2.6zM148 139.8l1.3 2.3h-2.6zM136.3 126.9l1.3 2.3h-2.6zM90.8 66.6l1.3 2.3h-2.6zM94 68.4l1.3 2.3h-2.6zM125.3 88.8l1.3 2.3h-2.6zM102.1 106l1.3 2.3h-2.6zM99.1 148.3l1.3 2.3h-2.6zM140.9 106.5l1.3 2.3h-2.6zM147.6 132.2l1.3 2.3h-2.6zM122.1 136.9l1.3 2.3h-2.6zM146.4 112.9l1.3 2.3h-2.6zM146.8 136l1.3 2.3h-2.6zM105.4 100.7l1.3 2.3h-2.6zM120.8 166l1.3 2.3h-2.6zM108.4 142.4l1.3 2.3h-2.6zM115 137.4l1.3 2.3h-2.6zM106.2 97.8l1.3 2.3h-2.6zM127.2 113.6l1.3 2.3h-2.6zM134.6 150.9l1.3 2.3h-2.6zM102.7 108.7l1.3 2.3h-2.6zM118.4 74.8l1.3 2.3h-2.6zM119.1 150.2l1.3 2.3h-2.6zM56.7 128.4l1.3 2.3h-2.6zM137.1 130l1.3 2.3h-2.6zM144.6 107.1l1.3 2.3h-2.6zM116.8 83.7l1.3 2.3h-2.6zM116.7 93.9l1.3 2.3h-2.6zM117 137.8l1.3 2.3h-2.6zM144.6 134.7l1.3 2.3h-2.6zM122.7 116.9l1.3 2.3h-2.6zM115.2 138.8l1.3 2.3h-2.6zM141 117.7l1.3 2.3h-2.6zM140.3 125.8l1.3 2.3h-2.6zM147.8 107.7l1.3 2.3h-2.6zM114.2 94.8l1.3 2.3h-2.6zM122.2 141.1l1.3 2.3h-2.6zM117.4 68.8l1.3 2.3h-2.6zM101.9 71.7l1.3 2.3h-2.6z"/>
<path fill="#FFC20A" d="M77.4 143.6l1.3 2.3h-2.6zM78.4 84.5l1.3 2.3h-2.6zM83.2 137.7l1.3 2.3h-2.6zM73.3 141.3l1.3 2.3h-2.6zM74.4 105.3l1.3 2.3h-2.6zM62.1 113.9l1.3 2.3h-2.6zM70.6 80.8l1.3 2.3h-2.6zM57.4 148.2l1.3 2.3h-2.6zM66.8 81.1l1.3 2.3h-2.6zM89.5 102.2l1.3 2.3h-2.6zM68.3 122.8l1.3 2.3h-2.6zM85.9 117.6l1.3 2.3h-2.6zM70.4 158.4l1.3 2.3h-2.6zM59.8 141.1l1.3 2.3h-2.6zM73.9 145.7l1.3 2.3h-2.6zM66.9 162.6l1.3 2.3h-2.6zM55.9 145l1.3 2.3h-2.6zM58.6 119l1.3 2.3h-2.6zM67.3 73.5l1.3 2.3h-2.6zM69.7 118.4l1.3 2.3h-2.6zM60.2 129.6l1.3 2.3h-2.6zM68.7 150.8l1.3 2.3h-2.6zM75.6 77.8l1.3 2.3h-2.6zM82 92.4l1.3 2.3h-2.6zM72.2 66.5l1.3 2.3h-2.6zM66.1 83.3l1.3 2.3h-2.6zM82.2 85.6l1.3 2.3h-2.6zM79.4 84.5l1.3 2.3h-2.6zM60.8 113.7l1.3 2.3h-2.6zM68.7 149.2l1.3 2.3h-2.6zM73.9 101.1l1.3 2.3h-2.6zM56.5 150.3l1.3 2.3h-2.6zM68.2 75.5l1.3 2.3h-2.6zM76.6 132.1l1.3 2.3h-2.6zM60.6 153.2l1.3 2.3h-2.6zM85.6 69.1l1.3 2.3h-2.6zM47.8 144l1.3 2.3h-2.6zM54.5 144l1.3 2.3h-2.6zM79.6 85.7l1.3 2.3h-2.6zM79.3 99.8l1.3 2.3h-2.6zM83.4 64.8l1.3 2.3h-2.6zM89.4 130.3l1.3 2.3h-2.6zM63.1 121.8l1.3 2.3h-2.6zM84.4 97.3l1.3 2.3h-2.6zM82.9 148.3l1.3 2.3h-2.6zM74.6 94l1.3 2.3h-2.6zM47.6 137.8l1.3 2.3h-2.6zM81.6 104.7l1.3 2.3h-2.6zM73.9 144.4l1.3 2.3h-2.6zM58.2 157.9l1.3 2.3h-2.6zM81.2 79.6l1.3 2.3h-2.6zM75 83.6l1.3 2.3h-2.6zM63.1 162.1l1.3 2.3h-2.6zM74.5 92.3l1.3 2.3h-2.6zM75.9 85.8l1.3 2.3h-2.6zM65.4 78.8l1.3 2.3h-2.6zM60.3 110.4l1.3 2.3h-2.6zM61.8 164.4l1.3 2.3h-2.6zM67.4 121.3l1.3 2.3h-2.6zM82.1 73.8l1.3 2.3h-2.6zM76.6 138.2l1.3 2.3h-2.6zM61.6 166l1.3 2.3h-2.6zM70.6 75.5l1.3 2.3h-2.6zM70.1 78.8l1.3 2.3h-2.6zM63.5 116.9l1.3 2.3h-2.6zM70.1 132.3l1.3 2.3h-2.6zM60.8 128l1.3 2.3h-2.6zM71 143.9l1.3 2.3h-2.6zM72.5 106.6l1.3 2.3h-2.6zM85.2 100.6l1.3 2.3h-2.6zM81.1 62.9l1.3 2.3h-2.6zM84.1 108.6l1.3 2.3h-2.6zM65.9 155.2l1.3 2.3h-2.6zM84.2 127.3l1.3 2.3h-2.6zM83.3 141.5l1.3 2.3h-2.6zM84.8 76.3l1.3 2.3h-2.6zM63.9 115.9l1.3 2.3h-2.6zM74.6 152.3l1.3 2.3h-2.6zM63.1 125.8l1.3 2.3h-2.6zM74.9 92.4l1.3 2.3h-2.6zM65.6 151.4l1.3 2.3h-2.6zM73.2 84.4l1.3 2.3h-2.6zM93.1 159.1l1.3 2.3h-2.6zM81.1 138.5l1.3 2.3h-2.6zM79.1 127.5l1.3 2.3h-2.6zM58.6 156l1.3 2.3h-2.6zM78 123.7l1.3 2.3h-2.6zM60.8 161.8l1.3 2.3h-2.6zM69.7 140.5l1.3 2.3h-2.6zM66.8 149.8l1.3 2.3h-2.6zM80.2 147.7l1.3 2.3h-2.6zM68.8 106.2l1.3 2.3h-2.6zM78.7 135.7l1.3 2.3h-2.6zM68.6 115.9l1.3 2.3h-2.6zM127 131.8l1.3 2.3h-2.6zM71.1 102.6l1.3 2.3h-2.6zM92.4 85.7l1.3 2.3h-2.6zM78.3 149.3l1.3 2.3h-2.6zM50.2 134.3l1.3 2.3h-2.6zM74.7 94.7l1.3 2.3h-2.6zM110.2 112.4l1.3 2.3h-2.6zM71.8 126.4l1.3 2.3h-2.6zM60.3 155.1l1.3 2.3h-2.6zM58.5 120.9l1.3 2.3h-2.6zM68.9 98.8l1.3 2.3h-2.6zM71.7 72.8l1.3 2.3h-2.6zM76.8 75.9l1.3 2.3h-2.6zM67.7 91.8l1.3 2.3h-2.6zM49.9 148.4l1.3 2.3h-2.6zM71.8 97.9l1.3 2.3h-2.6zM84.2 84.3l1.3 2.3h-2.6zM72.4 135.4l1.3 2.3h-2.6zM74.8 120.7l1.3 2.3h-2.6zM63.6 120.3l1.3 2.3h-2.6zM54.3 120.6l1.3 2.3h-2.6zM72.5 156l1.3 2.3h-2.6zM73.4 151.4l1.3 2.3h-2.6zM75.7 102.3l1.3 2.3h-2.6zM73.3 145.3l1.3 2.3h-2.6zM61.3 137.5l1.3 2.3h-2.6zM69.5 96.1l1.3 2.3h-2.6zM94.8 98.6l1.3 2.3h-2.6zM71.6 99.8l1.3 2.3h-2.6zM54.9 161.1l1.3 2.3h-2.6zM80.5 118.9l1.3 2.3h-2.6zM63 130.5l1.3 2.3h-2.6zM62.7 133.6l1.3 2.3h-2.6zM82 99.7l1.3 2.3h-2.6zM70.4 130.5l1.3 2.3h-2.6zM68.5 144.9l1.3 2.3h-2.6zM80.2 132.1l1.3 2.3h-2.6zM68.9 65.9l1.3 2.3h-2.6zM77.2 76.6l1.3 2.3h-2.6zM82 126.7l1.3 2.3h-2.6zM63.9 129.4l1.3 2.3h-2.6zM70.4 120.2l1.3 2.3h-2.6zM69.3 155.2l1.3 2.3h-2.6zM82.4 113.1l1.3 2.3h-2.6zM83.1 126.9l1.3 2.3h-2.6zM74.1 65.6l1.3 2.3h-2.6zM75.4 69.2l1.3 2.3h-2.6zM77.2 68.2l1.3 2.3h-2.6zM76.6 159.7l1.3 2.3h-2.6zM73.8 62.1l1.3 2.3h-2.6zM49.8 147.5l1.3 2.3h-2.6zM91 86.2l1.3 2.3h-2.6zM80.6 101l1.3 2.3h-2.6zM76.5 138.9l1.3 2.3h-2.6zM62.5 132.5l1.3 2.3h-2.6zM90.5 66.9l1.3 2.3h-2.6zM70.1 98.8l1.3 2.3h-2.6zM71.4 123.7l1.3 2.3h-2.6zM77 74l1.3 2.3h-2.6zM86.7 115.1l1.3 2.3h-2.6zM80.9 156.1l1.3 2.3h-2.6zM72.3 134.3l1.3 2.3h-2.6zM148.2 127l1.3 2.3h-2.6zM57.4 136.3l1.3 2.3h-2.6zM69.1 120.4l1.3 2.3h-2.6zM82.9 136.2l1.3 2.3h-2.6zM78.3 93.3l1.3 2.3h-2.6zM71.4 127.7l1.3 2.3h-2.6zM78.5 115.1l1.3 2.3h-2.6zM66.8 155.8l1.3 2.3h-2.6zM60.1 134.1l1.3 2.3h-2.6zM77.8 155.9l1.3 2.3h-2.6zM84 69.3l1.3 2.3h-2.6zM63.1 110.6l1.3 2.3h-2.6zM62.6 158.5l1.3 2.3h-2.6zM62.2 116.5l1.3 2.3h-2.6zM73.6 90.8l1.3 2.3h-2.6zM82.1 106.2l1.3 2.3h-2.6zM84.6 72.8l1.3 2.3h-2.6zM49.4 143.4l1.3 2.3h-2.6zM58.3 133.8l1.3 2.3h-2.6zM83.5 144.2l1.3 2.3h-2.6zM71.6 94.6l1.3 2.3h-2.6zM69.2 89.6l1.3 2.3h-2.6zM69 138.2l1.3 2.3h-2.6zM89.4 116.2l1.3 2.3h-2.6zM77.5 92.2l1.3 2.3h-2.6zM80.6 127.4l1.3 2.3h-2.6zM83.2 87.5l1.3 2.3h-2.6zM60.2 115.9l1.3 2.3h-2.6zM65.3 132.7l1.3 2.3h-2.6zM79 118.8l1.3 2.3h-2.6zM84.1 144l1.3 2.3h-2.6zM71.4 92.1l1.3 2.3h-2.6zM60.9 147.9l1.3 2.3h-2.6zM67.3 124.1l1.3 2.3h-2.6zM77.3 87.8l1.3 2.3h-2.6zM85.5 109.4l1.3 2.3h-2.6zM49.9 142.3l1.3 2.3h-2.6zM85.1 81.2l1.3 2.3h-2.6zM84.8 131.7l1.3 2.3h-2.6zM81.7 138.3l1.3 2.3h-2.6zM82.3 96l1.3 2.3h-2.6zM74.6 109.9l1.3 2.3h-2.6zM80.5 88.1l1.3 2.3h-2.6zM65.5 124.1l1.3 2.3h-2.6zM68.1 89.5l1.3 2.3h-2.6zM54.8 136.3l1.3 2.3h-2.6zM72 138.9l1.3 2.3h-2.6zM76.8 94.7l1.3 2.3h-2.6zM74.4 135.8l1.3 2.3h-2.6zM56.3 146.9l1.3 2.3h-2.6zM78.8 70l1.3 2.3h-2.6zM52.4 135l1.3 2.3h-2.6zM61.5 158.2l1.3 2.3h-2.6zM69 90.9l1.3 2.3h-2.6zM70 101.8l1.3 2.3h-2.6zM51.1 144.6l1.3 2.3h-2.6zM83.5 114.7l1.3 2.3h-2.6zM88.5 124.3l1.3 2.3h-2.6zM71.9 106l1.3 2.3h-2.6zM76.2 80.7l1.3 2.3h-2.6zM64.9 149.6l1.3 2.3h-2.6zM72.7 141.7l1.3 2.3h-2.6zM76.8 102.2l1.3 2.3h-2.6zM73.4 104.8l1.3 2.3h-2.6zM80.5 143.3l1.3 2.3h-2.6zM66.7 108.6l1.3 2.3h-2.6zM75.7 99.3l1.3 2.3h-2.6zM55.1 148.2l1.3 2.3h-2.6zM70.2 77.6l1.3 2.3h-2.6zM76.6 157.1l1.3 2.3h-2.6zM83.2 70.4l1.3 2.3h-2.6zM76.9 64.9l1.3 2.3h-2.6zM103.2 98.9l1.3 2.3h-2.6zM73.5 81.2l1.3 2.3h-2.6zM93.8 70l1.3 2.3h-2.6zM89.2 126.4l1.3 2.3h-2.6zM75.8 126.4l1.3 2.3h-2.6zM78.4 65.8l1.3 2.3h-2.6zM80.3 128l1.3 2.3h-2.6zM82.1 73.1l1.3 2.3h-2.6zM70.6 134.6l1.3 2.3h-2.6zM66.5 116.4l1.3 2.3h-2.6zM76.6 74.4l1.3 2.3h-2.6zM74 96.4l1.3 2.3h-2.6zM76.7 143.1l1.3 2.3h-2.6zM53 139.7l1.3 2.3h-2.6zM67 79.8l1.3 2.3h-2.6zM65.1 158.3l1.3 2.3h-2.6zM57.1 162.6l1.3 2.3h-2.6zM48.3 131.4l1.3 2.3h-2.6zM71.4 161.5l1.3 2.3h-2.6zM80.1 74.6l1.3 2.3h-2.6zM54.4 129.5l1.3 2.3h-2.6zM85.6 119.2l1.3 2.3h-2.6zM77.6 66.9l1.3 2.3h-2.6zM82.5 131.8l1.3 2.3h-2.6zM68.3 101l1.3 2.3h-2.6zM85.2 130.4l1.3 2.3h-2.6zM56.6 135.6l1.3 2.3h-2.6zM66.5 147l1.3 2.3h-2.6zM71.5 88.4l1.3 2.3h-2.6zM67 148.9l1.3 2.3h-2.6zM67.6 103.9l1.3 2.3h-2.6zM73.9 154.9l1.3 2.3h-2.6zM79.8 79.8l1.3 2.3h-2.6zM86.6 127.5l1.3 2.3h-2.6z"/>
<path fill="#FF9E00" d="M109.5 112l1.3 2.3h-2.6zM121.5 153.7l1.3 2.3h-2.6zM119 83.1l1.3 2.3h-2.6zM150.2 128l1.3 2.3h-2.6zM102.5 107.8l1.3 2.3h-2.6zM121.5 83.8l1.3 2.3h-2.6zM103.4 104.4l1.3 2.3h-2.6zM101.9 100.9l1.3 2.3h-2.6zM81.5 133.7l1.3 2.3h-2.6zM66.7 71.4l1.3 2.3h-2.6zM121.4 141.3l1.3 2.3h-2.6zM59.3 114.5l1.3 2.3h-2.6zM87.1 105.6l1.3 2.3h-2.6zM128.4 87.7l1.3 2.3h-2.6zM115.8 88.5l1.3 2.3h-2.6zM142.8 122.7l1.3 2.3h-2.6zM118.8 127.7l1.3 2.3h-2.6zM117.2 110.2l1.3 2.3h-2.6zM145.9 111.2l1.3 2.3h-2.6zM145.1 129.6l1.3 2.3h-2.6zM144.5 110.8l1.3 2.3h-2.6zM118.2 78.4l1.3 2.3h-2.6zM120.8 162.1l1.3 2.3h-2.6zM119.4 98.6l1.3 2.3h-2.6zM110.1 104.4l1.3 2.3h-2.6zM130.4 139.6l1.3 2.3h-2.6zM139.9 132.7l1.3 2.3h-2.6zM125.4 160.5l1.3 2.3h-2.6zM117.9 67.6l1.3 2.3h-2.6zM110.3 160.7l1.3 2.3h-2.6zM120.8 132.3l1.3 2.3h-2.6zM121.8 84.9l1.3 2.3h-2.6zM126.7 161.1l1.3 2.3h-2.6zM110.6 65.6l1.3 2.3h-2.6zM121.8 153.8l1.3 2.3h-2.6zM112.4 64.3l1.3 2.3h-2.6zM105.1 71.2l1.3 2.3h-2.6zM124.1 81.2l1.3 2.3h-2.6zM124.6 154.7l1.3 2.3h-2.6zM127.5 127.5l1.3 2.3h-2.6zM146.2 134.1l1.3 2.3h-2.6zM142.1 136l1.3 2.3h-2.6zM114.2 109.7l1.3 2.3h-2.6zM115.5 99.8l1.3 2.3h-2.6zM128.4 148.6l1.3 2.3h-2.6zM107.5 117.8l1.3 2.3h-2.6zM114 153.5l1.3 2.3h-2.6zM104 108.4l1.3 2.3h-2.6zM134.4 121.8l1.3 2.3h-2.6zM147.2 120.4l1.3 2.3h-2.6zM108.9 144.7l1.3 2.3h-2.6zM131.6 133.7l1.3 2.3h-2.6zM91.7 93.3l1.3 2.3h-2.6zM126.4 117.4l1.3 2.3h-2.6zM139.5 135.5l1.3 2.3h-2.6zM89.1 125.8l1.3 2.3h-2.6zM122.7 101.1l1.3 2.3h-2.6zM148.5 129.6l1.3 2.3h-2.6zM122.5 78.5l1.3 2.3h-2.6zM137.6 125.7l1.3 2.3h-2.6zM108.3 91.8l1.3 2.3h-2.6zM102.6 88l1.3 2.3h-2.6zM125.7 78l1.3 2.3h-2.6zM120.3 117.5l1.3 2.3h-2.6zM123.4 88.8l1.3 2.3h-2.6zM113.8 69l1.3 2.3h-2.6zM98.4 108.8l1.3 2.3h-2.6zM117.7 93.1l1.3 2.3h-2.6zM125.7 84.7l1.3 2.3h-2.6zM149.8 119.6l1.3 2.3h-2.6zM119.4 139.9l1.3 2.3h-2.6zM118.6 102.1l1.3 2.3h-2.6zM128.7 134.9l1.3 2.3h-2.6zM96.5 121.8l1.3 2.3h-2.6zM152.9 127.7l1.3 2.3h-2.6zM101.5 107.8l1.3 2.3h-2.6zM117.8 148.6l1.3 2.3h-2.6zM115.1 81.1l1.3 2.3h-2.6zM100.6 67.1l1.3 2.3h-2.6zM115.8 77.4l1.3 2.3h-2.6zM121.8 102.9l1.3 2.3h-2.6zM116 158l1.3 2.3h-2.6zM147.3 130.3l1.3 2.3h-2.6zM120.1 75.7l1.3 2.3h-2.6zM130.7 150.5l1.3 2.3h-2.6zM122.8 144.8l1.3 2.3h-2.6zM135.4 152.5l1.3 2.3h-2.6zM129.3 157.7l1.3 2.3h-2.6zM125.5 115.5l1.3 2.3h-2.6zM106.4 64.2l1.3 2.3h-2.6zM110.9 111l1.3 2.3h-2.6zM151.9 123.9l1.3 2.3h-2.6zM109.5 113l1.3 2.3h-2.6zM111.3 63l1.3 2.3h-2.6zM150.4 137.3l1.3 2.3h-2.6zM111.6 151.5l1.3 2.3h-2.6zM141 122.5l1.3 2.3h-2.6zM113.9 135.6l1.3 2.3h-2.6zM111.1 80l1.3 2.3h-2.6zM108.1 145.5l1.3 2.3h-2.6zM137.8 127.3l1.3 2.3h-2.6zM141.9 143.6l1.3 2.3h-2.6zM120.6 100.9l1.3 2.3h-2.6zM109.9 68.8l1.3 2.3h-2.6zM117.9 82.2l1.3 2.3h-2.6zM109 156.4l1.3 2.3h-2.6zM100.8 70.5l1.3 2.3h-2.6zM116.8 125.7l1.3 2.3h-2.6zM120.2 137.2l1.3 2.3h-2.6zM118.6 164.4l1.3 2.3h-2.6zM151.7 127.7l1.3 2.3h-2.6zM107.9 158.9l1.3 2.3h-2.6zM118.9 111.9l1.3 2.3h-2.6zM112.1 97.1l1.3 2.3h-2.6zM143.9 125.8l1.3 2.3h-2.6zM109.9 92.3l1.3 2.3h-2.6zM139.8 113.2l1.3 2.3h-2.6zM106.2 67.7l1.3 2.3h-2.6zM148.7 135.7l1.3 2.3h-2.6zM114.6 80.3l1.3 2.3h-2.6zM122.3 107.8l1.3 2.3h-2.6zM111.4 112l1.3 2.3h-2.6zM123 156.2l1.3 2.3h-2.6zM114.3 112.7l1.3 2.3h-2.6zM124 80.9l1.3 2.3h-2.6zM127.4 161.2l1.3 2.3h-2.6zM127.1 80.9l1.3 2.3h-2.6zM107.3 62.5l1.3 2.3h-2.6zM104.6 111.1l1.3 2.3h-2.6zM143.6 124.3l1.3 2.3h-2.6zM116.9 141.7l1.3 2.3h-2.6zM121.7 160.9l1.3 2.3h-2.6zM108.4 69.3l1.3 2.3h-2.6zM121.4 78.3l1.3 2.3h-2.6zM129 112.7l1.3 2.3h-2.6zM142.3 112.9l1.3 2.3h-2.6zM146.4 105.8l1.3 2.3h-2.6zM109 100.3l1.3 2.3h-2.6zM144.3 139.5l1.3 2.3h-2.6zM117.7 161.7l1.3 2.3h-2.6zM126.7 152.2l1.3 2.3h-2.6zM115.5 124.6l1.3 2.3h-2.6zM107.7 158.8l1.3 2.3h-2.6zM150.3 122.2l1.3 2.3h-2.6zM112.3 116.1l1.3 2.3h-2.6zM121.8 155.2l1.3 2.3h-2.6zM108.6 151.3l1.3 2.3h-2.6zM90.5 99.1l1.3 2.3h-2.6zM118.5 156.6l1.3 2.3h-2.6zM129.4 156.4l1.3 2.3h-2.6zM112.3 66.3l1.3 2.3h-2.6zM119.7 143.8l1.3 2.3h-2.6zM143.3 104.1l1.3 2.3h-2.6zM124.3 158.8l1.3 2.3h-2.6zM122.8 72.4l1.3 2.3h-2.6zM124.6 75.7l1.3 2.3h-2.6zM112.6 99.1l1.3 2.3h-2.6zM123 95.2l1.3 2.3h-2.6zM114.3 137.9l1.3 2.3h-2.6zM103.7 96.9l1.3 2.3h-2.6zM142.2 114.3l1.3 2.3h-2.6zM151 113l1.3 2.3h-2.6zM113.2 96.2l1.3 2.3h-2.6zM140.2 110.9l1.3 2.3h-2.6zM111.9 110.8l1.3 2.3h-2.6zM111.5 84.2l1.3 2.3h-2.6zM130.7 149l1.3 2.3h-2.6zM142.2 121.9l1.3 2.3h-2.6zM106.9 67.4l1.3 2.3h-2.6zM146.4 121.4l1.3 2.3h-2.6zM123.3 106l1.3 2.3h-2.6zM135 145.1l1.3 2.3h-2.6zM113.7 96.6l1.3 2.3h-2.6zM109.9 67.8l1.3 2.3h-2.6zM146.2 139.7l1.3 2.3h-2.6zM125.5 95.3l1.3 2.3h-2.6zM142.3 109.3l1.3 2.3h-2.6zM107.5 154.6l1.3 2.3h-2.6zM114.5 134.9l1.3 2.3h-2.6zM111.5 82.6l1.3 2.3h-2.6zM107.8 109.2l1.3 2.3h-2.6zM126.1 129.3l1.3 2.3h-2.6zM119.1 145.3l1.3 2.3h-2.6zM126 131l1.3 2.3h-2.6zM123 143.6l1.3 2.3h-2.6zM118.3 113.6l1.3 2.3h-2.6zM110 100.5l1.3 2.3h-2.6zM117.1 73l1.3 2.3h-2.6zM126.8 147.6l1.3 2.3h-2.6zM119.3 147.2l1.3 2.3h-2.6zM124.5 162.9l1.3 2.3h-2.6zM140 122.4l1.3 2.3h-2.6zM151.6 115.2l1.3 2.3h-2.6zM116 73l1.3 2.3h-2.6zM120.7 70.3l1.3 2.3h-2.6zM102.9 128.8l1.3 2.3h-2.6zM118.1 151.2l1.3 2.3h-2.6zM140.2 109.4l1.3 2.3h-2.6zM114.1 145l1.3 2.3h-2.6zM112.3 131.5l1.3 2.3h-2.6zM147.6 104.3l1.3 2.3h-2.6zM141.6 139.7l1.3 2.3h-2.6zM103.7 69.8l1.3 2.3h-2.6zM114.5 148.8l1.3 2.3h-2.6zM119.8 142.3l1.3 2.3h-2.6zM104.1 106.4l1.3 2.3h-2.6zM106 97.1l1.3 2.3h-2.6zM132.4 143.2l1.3 2.3h-2.6zM113.8 136.4l1.3 2.3h-2.6zM125.1 92.3l1.3 2.3h-2.6zM130.3 154l1.3 2.3h-2.6zM118.5 71.1l1.3 2.3h-2.6zM96.6 110.3l1.3 2.3h-2.6zM117.8 91.2l1.3 2.3h-2.6zM119.5 152.4l1.3 2.3h-2.6zM133.5 155.4l1.3 2.3h-2.6zM121.2 82.5l1.3 2.3h-2.6zM121.3 140.4l1.3 2.3h-2.6zM121.1 87.8l1.3 2.3h-2.6zM123 132.4l1.3 2.3h-2.6zM145 136.5l1.3 2.3h-2.6zM113.3 76l1.3 2.3h-2.6zM123.8 160.9l1.3 2.3h-2.6zM100.9 160.7l1.3 2.3h-2.6zM118.3 108.6l1.3 2.3h-2.6zM145 101.5l1.3 2.3h-2.6zM98.2 67.6l1.3 2.3h-2.6zM104.5 63.3l1.3 2.3h-2.6zM62.5 141.1l1.3 2.3h-2.6zM114.4 162.9l1.3 2.3h-2.6zM106.2 70.1l1.3 2.3h-2.6zM104.1 103.8l1.3 2.3h-2.6zM114.3 143.7l1.3 2.3h-2.6zM131.3 114.2l1.3 2.3h-2.6zM127.3 149.8l1.3 2.3h-2.6zM118 153.4l1.3 2.3h-2.6zM116.8 96.9l1.3 2.3h-2.6zM101.8 103.3l1.3 2.3h-2.6zM145 133.1l1.3 2.3h-2.6zM106 108.8l1.3 2.3h-2.6zM133.3 114.8l1.3 2.3h-2.6zM104.4 110.4l1.3 2.3h-2.6zM129.7 146.6l1.3 2.3h-2.6zM111.6 156.6l1.3 2.3h-2.6zM103.8 68l1.3 2.3h-2.6zM128.1 111.4l1.3 2.3h-2.6zM149.2 132.1l1.3 2.3h-2.6zM111.2 94.4l1.3 2.3h-2.6zM107.3 159.4l1.3 2.3h-2.6zM119.9 166.8l1.3 2.3h-2.6zM110.3 151.4l1.3 2.3h-2.6zM94 96.4l1.3 2.3h-2.6zM106.8 110.9l1.3 2.3h-2.6zM146.4 116.9l1.3 2.3h-2.6zM104.9 150.4l1.3 2.3h-2.6zM127.4 135.1l1.3 2.3h-2.6zM139 109.2l1.3 2.3h-2.6zM118.5 81.6l1.3 2.3h-2.6zM112.6 77.6l1.3 2.3h-2.6zM117.6 69l1.3 2.3h-2.6zM112.2 70.5l1.3 2.3h-2.6zM124.9 89.7l1.3 2.3h-2.6zM113.6 145.1l1.3 2.3h-2.6zM143.7 100.4l1.3 2.3h-2.6zM119.7 159.1l1.3 2.3h-2.6zM137.2 117.2l1.3 2.3h-2.6zM110 98l1.3 2.3h-2.6zM124.4 157.7l1.3 2.3h-2.6zM141.2 143.7l1.3 2.3h-2.6zM140.9 115.9l1.3 2.3h-2.6z"/>
<path fill="#FFC20A" d="M71.6 124l1.3 2.3h-2.6zM69.9 85.9l1.3 2.3h-2.6zM80.3 106.4l1.3 2.3h-2.6zM86.4 114.6l1.3 2.3h-2.6zM86.5 104.8l1.3 2.3h-2.6zM71.4 132.7l1.3 2.3h-2.6zM81.2 143.6l1.3 2.3h-2.6zM73.3 157.2l1.3 2.3h-2.6zM85.9 106.4l1.3 2.3h-2.6zM59.8 156.5l1.3 2.3h-2.6zM50.1 134.5l1.3 2.3h-2.6zM59.9 140.1l1.3 2.3h-2.6zM75.1 114.8l1.3 2.3h-2.6zM86.2 108.3l1.3 2.3h-2.6zM85.1 105.1l1.3 2.3h-2.6zM65.4 113.4l1.3 2.3h-2.6zM58.7 164.8l1.3 2.3h-2.6zM60.9 149.8l1.3 2.3h-2.6zM59 147l1.3 2.3h-2.6zM70.6 92.1l1.3 2.3h-2.6zM66.1 119.8l1.3 2.3h-2.6zM79 87.1l1.3 2.3h-2.6zM76.6 106.7l1.3 2.3h-2.6zM63.8 150.7l1.3 2.3h-2.6zM72.7 162.3l1.3 2.3h-2.6zM80.4 76l1.3 2.3h-2.6zM74 108.3l1.3 2.3h-2.6zM71.2 121.3l1.3 2.3h-2.6zM67.3 70l1.3 2.3h-2.6zM58.2 153.5l1.3 2.3h-2.6zM77.6 134l1.3 2.3h-2.6zM64.1 147.8l1.3 2.3h-2.6zM79.2 130.6l1.3 2.3h-2.6zM75.1 79.3l1.3 2.3h-2.6zM71.9 128.7l1.3 2.3h-2.6zM63.9 156.5l1.3 2.3h-2.6zM68.3 97.3l1.3 2.3h-2.6zM82 89.4l1.3 2.3h-2.6zM53.5 129.7l1.3 2.3h-2.6zM67.1 145.2l1.3 2.3h-2.6zM67.1 94.3l1.3 2.3h-2.6zM68.4 143.9l1.3 2.3h-2.6zM76 109.1l1.3 2.3h-2.6zM61.3 153.9l1.3 2.3h-2.6zM91.5 98.6l1.3 2.3h-2.6zM84.8 93.9l1.3 2.3h-2.6zM77.7 81.7l1.3 2.3h-2.6zM77.1 90.8l1.3 2.3h-2.6zM65.3 118.5l1.3 2.3h-2.6zM53.8 126.6l1.3 2.3h-2.6zM64.1 127.7l1.3 2.3h-2.6zM57.4 144.8l1.3 2.3h-2.6zM78 126l1.3 2.3h-2.6zM61 114.4l1.3 2.3h-2.6zM79.4 118.8l1.3 2.3h-2.6zM55 159.7l1.3 2.3h-2.6zM74.9 62.9l1.3 2.3h-2.6zM66.9 136.2l1.3 2.3h-2.6zM62.5 141.8l1.3 2.3h-2.6zM71.5 108.7l1.3 2.3h-2.6zM62.1 130.3l1.3 2.3h-2.6zM72.9 159l1.3 2.3h-2.6zM72.1 102.8l1.3 2.3h-2.6zM72.8 145.7l1.3 2.3h-2.6zM80.1 143.2l1.3 2.3h-2.6zM58 148.4l1.3 2.3h-2.6zM51.9 153.7l1.3 2.3h-2.6zM74.3 82.4l1.3 2.3h-2.6zM62.6 119l1.3 2.3h-2.6zM68.8 92.6l1.3 2.3h-2.6zM85 95.9l1.3 2.3h-2.6zM63.1 124l1.3 2.3h-2.6zM69.4 75.8l1.3 2.3h-2.6zM77.3 116.3l1.3 2.3h-2.6zM69 124.2l1.3 2.3h-2.6zM87.3 128l1.3 2.3h-2.6zM77.7 146.5l1.3 2.3h-2.6zM65.3 141l1.3 2.3h-2.6zM84.1 115.9l1.3 2.3h-2.6zM68 135.5l1.3 2.3h-2.6zM73.6 148.7l1.3 2.3h-2.6zM90.4 63.5l1.3 2.3h-2.6zM60 143.3l1.3 2.3h-2.6zM65 164.4l1.3 2.3h-2.6zM77.5 74.5l1.3 2.3h-2.6zM76.5 145.6l1.3 2.3h-2.6zM76.7 83.5l1.3 2.3h-2.6zM79.4 108.8l1.3 2.3h-2.6zM70.5 153.2l1.3 2.3h-2.6zM81.9 106.5l1.3 2.3h-2.6zM77.2 67.1l1.3 2.3h-2.6zM75.6 67.5l1.3 2.3h-2.6zM58.2 136.6l1.3 2.3h-2.6zM67 82.1l1.3 2.3h-2.6zM90.1 127.6l1.3 2.3h-2.6zM65.4 74.7l1.3 2.3h-2.6zM56.3 157.4l1.3 2.3h-2.6zM90.9 71.3l1.3 2.3h-2.6zM74.5 145.1l1.3 2.3h-2.6zM64.7 85.8l1.3 2.3h-2.6zM78.5 147.2l1.3 2.3h-2.6zM76.4 116.1l1.3 2.3h-2.6zM53.6 129l1.3 2.3h-2.6zM84.2 123l1.3 2.3h-2.6zM72.3 81l1.3 2.3h-2.6zM69.8 130.6l1.3 2.3h-2.6zM51.3 141.9l1.3 2.3h-2.6zM65.5 113.2l1.3 2.3h-2.6zM68.3 87.4l1.3 2.3h-2.6zM83 86.2l1.3 2.3h-2.6zM64.3 74.1l1.3 2.3h-2.6zM71.4 157.4l1.3 2.3h-2.6zM78.4 70.4l1.3 2.3h-2.6zM71.8 64.1l1.3 2.3h-2.6zM79.2 100.7l1.3 2.3h-2.6zM70.5 146.4l1.3 2.3h-2.6zM74.9 115.6l1.3 2.3h-2.6zM64.6 111.3l1.3 2.3h-2.6zM75.7 124.5l1.3 2.3h-2.6zM115.1 134l1.3 2.3h-2.6zM67.3 125.4l1.3 2.3h-2.6zM75.6 118.1l1.3 2.3h-2.6zM67 110.9l1.3 2.3h-2.6zM74.5 113.8l1.3 2.3h-2.6zM70.5 94.6l1.3 2.3h-2.6zM75.4 110.3l1.3 2.3h-2.6zM85.2 72.6l1.3 2.3h-2.6zM76 127l1.3 2.3h-2.6zM61 123.8l1.3 2.3h-2.6zM81.5 148.3l1.3 2.3h-2.6zM78.7 64.6l1.3 2.3h-2.6zM83.4 67.8l1.3 2.3h-2.6zM87 135.2l1.3 2.3h-2.6zM82.8 67.5l1.3 2.3h-2.6zM94.9 104.2l1.3 2.3h-2.6zM67.4 86.1l1.3 2.3h-2.6zM84.4 120l1.3 2.3h-2.6zM50.9 138.7l1.3 2.3h-2.6zM84.8 94.5l1.3 2.3h-2.6zM48.7 136l1.3 2.3h-2.6zM72 140.7l1.3 2.3h-2.6zM59.2 125.6l1.3 2.3h-2.6zM80.8 103.4l1.3 2.3h-2.6zM80.8 105.9l1.3 2.3h-2.6zM66.5 74l1.3 2.3h-2.6zM84 83.5l1.3 2.3h-2.6zM56.7 120.3l1.3 2.3h-2.6zM53.8 155.1l1.3 2.3h-2.6zM82.4 153.3l1.3 2.3h-2.6zM63.9 128.8l1.3 2.3h-2.6zM60.8 160l1.3 2.3h-2.6zM89.4 116.3l1.3 2.3h-2.6zM65.9 130.5l1.3 2.3h-2.6zM79 158.4l1.3 2.3h-2.6zM69 150.4l1.3 2.3h-2.6zM88.9 131.4l1.3 2.3h-2.6zM78.5 82.8l1.3 2.3h-2.6zM68.4 78l1.3 2.3h-2.6zM69.5 138.6l1.3 2.3h-2.6zM84.2 141.6l1.3 2.3h-2.6zM55.9 127.8l1.3 2.3h-2.6zM94.4 160.4l1.3 2.3h-2.6zM77.1 136.8l1.3 2.3h-2.6zM61.7 160.5l1.3 2.3h-2.6zM78.5 82.8l1.3 2.3h-2.6zM67.7 98.8l1.3 2.3h-2.6zM68.4 84.5l1.3 2.3h-2.6zM61.9 131l1.3 2.3h-2.6zM52.8 138.3l1.3 2.3h-2.6zM75.3 148.2l1.3 2.3h-2.6zM66.2 103.9l1.3 2.3h-2.6zM56.3 123.4l1.3 2.3h-2.6zM68.6 137.3l1.3 2.3h-2.6zM63.4 156.8l1.3 2.3h-2.6zM78.2 101l1.3 2.3h-2.6zM78.8 125.4l1.3 2.3h-2.6zM76.7 155.5l1.3 2.3h-2.6zM76.9 87.7l1.3 2.3h-2.6zM84.5 121.4l1.3 2.3h-2.6zM70.9 71.1l1.3 2.3h-2.6zM65.9 88.3l1.3 2.3h-2.6zM98.9 71l1.3 2.3h-2.6zM65.3 110.2l1.3 2.3h-2.6zM69.8 134.3l1.3 2.3h-2.6zM52.4 136.9l1.3 2.3h-2.6zM78.7 144.4l1.3 2.3h-2.6zM56.2 134l1.3 2.3h-2.6zM84.8 65.9l1.3 2.3h-2.6zM81.8 78.8l1.3 2.3h-2.6zM55 130.8l1.3 2.3h-2.6zM78 140.7l1.3 2.3h-2.6zM66.7 150.9l1.3 2.3h-2.6zM85.2 103.5l1.3 2.3h-2.6zM66.9 147.4l1.3 2.3h-2.6zM81.6 116.9l1.3 2.3h-2.6zM74.2 84.8l1.3 2.3h-2.6zM66.9 156.5l1.3 2.3h-2.6zM100.2 105.5l1.3 2.3h-2.6zM57.1 115l1.3 2.3h-2.6zM97.9 68.8l1.3 2.3h-2.6zM79.3 133l1.3 2.3h-2.6zM81.3 140.8l1.3 2.3h-2.6zM83.9 102.1l1.3 2.3h-2.6zM78.5 120.4l1.3 2.3h-2.6zM81.3 125.3l1.3 2.3h-2.6zM57.4 118.4l1.3 2.3h-2.6zM70.6 114.5l1.3 2.3h-2.6zM72.1 152.2l1.3 2.3h-2.6zM55.7 163.2l1.3 2.3h-2.6zM48 144.8l1.3 2.3h-2.6zM59.2 117.2l1.3 2.3h-2.6zM68.9 156.4l1.3 2.3h-2.6zM64.1 74.9l1.3 2.3h-2.6zM64 132.8l1.3 2.3h-2.6zM93.6 65.9l1.3 2.3h-2.6zM55.5 124.9l1.3 2.3h-2.6zM80.3 149.8l1.3 2.3h-2.6zM76.9 152.6l1.3 2.3h-2.6zM62.7 158.9l1.3 2.3h-2.6zM66.7 120.3l1.3 2.3h-2.6zM81.9 112.5l1.3 2.3h-2.6zM76.4 79.3l1.3 2.3h-2.6zM65.3 106.1l1.3 2.3h-2.6zM78.7 138l1.3 2.3h-2.6zM71.6 108.6l1.3 2.3h-2.6zM87.4 121.5l1.3 2.3h-2.6zM70.2 154.8l1.3 2.3h-2.6zM83.1 63.2l1.3 2.3h-2.6zM77.7 132.6l1.3 2.3h-2.6zM96.8 104.1l1.3 2.3h-2.6zM66.2 87.6l1.3 2.3h-2.6zM68.4 110.4l1.3 2.3h-2.6zM80.1 77.4l1.3 2.3h-2.6zM75.6 143.8l1.3 2.3h-2.6zM58.5 155.2l1.3 2.3h-2.6zM77.7 139.1l1.3 2.3h-2.6zM77.5 150.5l1.3 2.3h-2.6zM65.2 129.8l1.3 2.3h-2.6zM80.2 112.5l1.3 2.3h-2.6zM47.9 134.3l1.3 2.3h-2.6zM55.6 153.7l1.3 2.3h-2.6zM86.3 96.8l1.3 2.3h-2.6zM81.8 72.7l1.3 2.3h-2.6zM66.5 96.9l1.3 2.3h-2.6zM81.2 93.8l1.3 2.3h-2.6zM84.3 123.8l1.3 2.3h-2.6zM50.5 146.7l1.3 2.3h-2.6zM90.9 69l1.3 2.3h-2.6zM61.4 122.3l1.3 2.3h-2.6zM81.4 134.4l1.3 2.3h-2.6zM74 149.8l1.3 2.3h-2.6zM60.8 120.3l1.3 2.3h-2.6zM86 125.6l1.3 2.3h-2.6zM76.3 111.2l1.3 2.3h-2.6zM49.5 137l1.3 2.3h-2.6zM74.8 161.7l1.3 2.3h-2.6zM52.4 141.9l1.3 2.3h-2.6zM61.5 146l1.3 2.3h-2.6zM54.9 139.5l1.3 2.3h-2.6zM77.8 113.7l1.3 2.3h-2.6zM72.8 87.9l1.3 2.3h-2.6zM49 147.5l1.3 2.3h-2.6zM72.2 69.2l1.3 2.3h-2.6zM86.2 118.4l1.3 2.3h-2.6zM80 123.2l1.3 2.3h-2.6z"/>
<path fill="#FFC20A" d="M67.7 147.8l1.3 2.3h-2.6zM74.7 154.6l1.3 2.3h-2.6zM146.1 129.4l1.3 2.3h-2.6zM68.5 114.8l1.3 2.3h-2.6zM83.1 90.5l1.3 2.3h-2.6zM71.8 74.6l1.3 2.3h-2.6zM54.5 138.2l1.3 2.3h-2.6zM58.6 131.8l1.3 2.3h-2.6zM49.5 128.4l1.3 2.3h-2.6zM74.3 157.6l1.3 2.3h-2.6zM71.5 125.6l1.3 2.3h-2.6zM75.3 71.6l1.3 2.3h-2.6zM88 117.4l1.3 2.3h-2.6zM84.3 110.3l1.3 2.3h-2.6zM72.8 89.9l1.3 2.3h-2.6zM78 104.8l1.3 2.3h-2.6zM59.2 159.7l1.3 2.3h-2.6zM80 97.1l1.3 2.3h-2.6zM62.1 135.9l1.3 2.3h-2.6zM77.4 150.1l1.3 2.3h-2.6zM93.8 102.9l1.3 2.3h-2.6zM79.7 95.5l1.3 2.3h-2.6zM80.3 143.2l1.3 2.3h-2.6zM79.7 65.2l1.3 2.3h-2.6zM72.7 111.9l1.3 2.3h-2.6zM55 124.4l1.3 2.3h-2.6zM60.8 146.1l1.3 2.3h-2.6zM68.1 139.5l1.3 2.3h-2.6zM58.6 136.8l1.3 2.3h-2.6zM87.6 100.6l1.3 2.3h-2.6zM57 122.7l1.3 2.3h-2.6zM85.5 125l1.3 2.3h-2.6zM85.8 75.7l1.3 2.3h-2.6zM72.3 103.9l1.3 2.3h-2.6zM80.8 112.4l1.3 2.3h-2.6zM73.3 82.1l1.3 2.3h-2.6zM73.2 66.4l1.3 2.3h-2.6zM64.1 141.7l1.3 2.3h-2.6zM52.3 158.5l1.3 2.3h-2.6zM60.6 151l1.3 2.3h-2.6zM97.1 71.3l1.3 2.3h-2.6zM70.2 111.3l1.3 2.3h-2.6zM68.1 110.3l1.3 2.3h-2.6zM67.8 134.4l1.3 2.3h-2.6zM69.8 160.4l1.3 2.3h-2.6zM57.9 164.1l1.3 2.3h-2.6zM66.8 125.7l1.3 2.3h-2.6zM53.8 135.4l1.3 2.3h-2.6zM67 128.9l1.3 2.3h-2.6zM85.8 98.9l1.3 2.3h-2.6zM63.1 139.8l1.3 2.3h-2.6zM82.1 117.6l1.3 2.3h-2.6zM72.8 146.4l1.3 2.3h-2.6zM79.8 72.9l1.3 2.3h-2.6zM69.6 87l1.3 2.3h-2.6zM83.8 65.3l1.3 2.3h-2.6zM69.5 110.5l1.3 2.3h-2.6zM79.2 102.6l1.3 2.3h-2.6zM83.7 109.2l1.3 2.3h-2.6zM84.4 116.6l1.3 2.3h-2.6zM68.5 102.9l1.3 2.3h-2.6zM109.8 108.5l1.3 2.3h-2.6zM82.2 116l1.3 2.3h-2.6zM49.5 144.5l1.3 2.3h-2.6zM75.7 162.4l1.3 2.3h-2.6zM63.5 164.6l1.3 2.3h-2.6zM78 139.9l1.3 2.3h-2.6zM82.7 74.8l1.3 2.3h-2.6zM81 87.7l1.3 2.3h-2.6zM91.1 61.6l1.3 2.3h-2.6zM60.8 163.4l1.3 2.3h-2.6zM77.6 92.5l1.3 2.3h-2.6zM53.3 159.5l1.3 2.3h-2.6zM86.7 104.3l1.3 2.3h-2.6zM67.8 163.9l1.3 2.3h-2.6zM59.8 111.6l1.3 2.3h-2.6zM62.4 146.6l1.3 2.3h-2.6zM84.8 68.1l1.3 2.3h-2.6zM67.1 85.6l1.3 2.3h-2.6zM58 150.3l1.3 2.3h-2.6zM68 141.1l1.3 2.3h-2.6zM70.4 73.7l1.3 2.3h-2.6zM75.7 134.3l1.3 2.3h-2.6zM58.7 158.6l1.3 2.3h-2.6zM69.7 158.5l1.3 2.3h-2.6zM73.4 89.6l1.3 2.3h-2.6zM65.1 146.8l1.3 2.3h-2.6zM63.5 137.7l1.3 2.3h-2.6zM64.7 77.8l1.3 2.3h-2.6zM71.4 134.2l1.3 2.3h-2.6zM72 84.5l1.3 2.3h-2.6zM48.2 140.5l1.3 2.3h-2.6zM68.5 76.4l1.3 2.3h-2.6zM59.2 157.7l1.3 2.3h-2.6zM89.4 158.7l1.3 2.3h-2.6zM78.8 134.3l1.3 2.3h-2.6zM70.8 66.7l1.3 2.3h-2.6zM52.4 127.1l1.3 2.3h-2.6zM72.6 69.3l1.3 2.3h-2.6zM65.9 99l1.3 2.3h-2.6zM85.3 80.5l1.3 2.3h-2.6zM74.4 134.2l1.3 2.3h-2.6zM68.2 139.5l1.3 2.3h-2.6zM51.6 152l1.3 2.3h-2.6zM145.5 116.9l1.3 2.3h-2.6zM70.2 111.5l1.3 2.3h-2.6zM77.6 145.3l1.3 2.3h-2.6zM95 107.4l1.3 2.3h-2.6zM75 142.4l1.3 2.3h-2.6zM47.5 133.8l1.3 2.3h-2.6zM67.9 68.8l1.3 2.3h-2.6zM72.5 144.2l1.3 2.3h-2.6zM59.1 148.4l1.3 2.3h-2.6zM69.7 93.6l1.3 2.3h-2.6zM80.5 90.1l1.3 2.3h-2.6zM81.8 71.3l1.3 2.3h-2.6zM78.5 129.7l1.3 2.3h-2.6zM75.8 123l1.3 2.3h-2.6zM99.2 68.3l1.3 2.3h-2.6zM79.5 73.1l1.3 2.3h-2.6zM74.5 158.7l1.3 2.3h-2.6zM79.3 136.9l1.3 2.3h-2.6zM76 160.1l1.3 2.3h-2.6zM63.5 117.1l1.3 2.3h-2.6zM59.7 134.9l1.3 2.3h-2.6zM84.6 124.3l1.3 2.3h-2.6zM51.4 147.4l1.3 2.3h-2.6zM84.8 69.6l1.3 2.3h-2.6zM83 104.9l1.3 2.3h-2.6zM59.1 161.1l1.3 2.3h-2.6zM52.6 147.4l1.3 2.3h-2.6zM80.6 83l1.3 2.3h-2.6zM70.8 129.5l1.3 2.3h-2.6zM54.3 143.3l1.3 2.3h-2.6zM70.9 106.7l1.3 2.3h-2.6zM60.5 138.8l1.3 2.3h-2.6zM53.5 122.9l1.3 2.3h-2.6zM83.7 85.5l1.3 2.3h-2.6zM77.3 117.9l1.3 2.3h-2.6zM76.1 70.9l1.3 2.3h-2.6zM88.4 114.3l1.3 2.3h-2.6zM80.2 79.3l1.3 2.3h-2.6zM78.8 130.2l1.3 2.3h-2.6zM75.2 83.1l1.3 2.3h-2.6zM76.5 151.5l1.3 2.3h-2.6zM87.2 102.9l1.3 2.3h-2.6zM74.5 160l1.3 2.3h-2.6zM62.3 133l1.3 2.3h-2.6zM80.2 135.4l1.3 2.3h-2.6zM75.4 107.8l1.3 2.3h-2.6zM65.7 140.4l1.3 2.3h-2.6zM90 63l1.3 2.3h-2.6zM86.3 130.4l1.3 2.3h-2.6zM65.3 165.3l1.3 2.3h-2.6zM82.2 75.7l1.3 2.3h-2.6zM72.3 74.5l1.3 2.3h-2.6zM80.8 135.3l1.3 2.3h-2.6zM71.1 159.7l1.3 2.3h-2.6zM80 104.8l1.3 2.3h-2.6zM67.6 89.6l1.3 2.3h-2.6zM77.5 93.8l1.3 2.3h-2.6zM79.7 156.5l1.3 2.3h-2.6zM65.3 135.6l1.3 2.3h-2.6zM64 139l1.3 2.3h-2.6zM76.1 156.3l1.3 2.3h-2.6zM52.7 124.6l1.3 2.3h-2.6zM70.7 135.5l1.3 2.3h-2.6zM76.3 147l1.3 2.3h-2.6zM75.3 100.6l1.3 2.3h-2.6zM80.8 66.8l1.3 2.3h-2.6zM76 63.6l1.3 2.3h-2.6zM78 88.7l1.3 2.3h-2.6zM64.3 79.9l1.3 2.3h-2.6zM54.9 145.1l1.3 2.3h-2.6zM53.2 153.2l1.3 2.3h-2.6zM89.9 105.1l1.3 2.3h-2.6zM70.3 104.8l1.3 2.3h-2.6zM71.6 99.6l1.3 2.3h-2.6zM60.1 132.8l1.3 2.3h-2.6zM133.8 114.9l1.3 2.3h-2.6zM74.8 122.5l1.3 2.3h-2.6zM65.9 138l1.3 2.3h-2.6zM55.1 156.8l1.3 2.3h-2.6zM85 98.6l1.3 2.3h-2.6zM65.6 119.8l1.3 2.3h-2.6zM83.6 73.1l1.3 2.3h-2.6zM75.9 65.3l1.3 2.3h-2.6zM77.6 88.8l1.3 2.3h-2.6zM83.3 102.2l1.3 2.3h-2.6zM81.9 122.3l1.3 2.3h-2.6zM80.5 89.3l1.3 2.3h-2.6zM77.9 108.1l1.3 2.3h-2.6zM76.3 143.4l1.3 2.3h-2.6zM87.2 116.5l1.3 2.3h-2.6zM67.6 99.8l1.3 2.3h-2.6zM61 128l1.3 2.3h-2.6zM64.9 120.9l1.3 2.3h-2.6zM70.1 92.2l1.3 2.3h-2.6zM89 129.9l1.3 2.3h-2.6zM77.3 97.9l1.3 2.3h-2.6zM62.9 153.4l1.3 2.3h-2.6zM83.3 137.4l1.3 2.3h-2.6zM65.9 161l1.3 2.3h-2.6zM71.2 138.2l1.3 2.3h-2.6zM67.7 153.8l1.3 2.3h-2.6zM89.2 132.4l1.3 2.3h-2.6zM80.5 154.6l1.3 2.3h-2.6zM83.1 101.5l1.3 2.3h-2.6zM62.5 159.5l1.3 2.3h-2.6zM88.2 68l1.3 2.3h-2.6zM67.2 84.1l1.3 2.3h-2.6zM68 154.9l1.3 2.3h-2.6zM81.1 70.1l1.3 2.3h-2.6zM59.7 131l1.3 2.3h-2.6zM61.1 139.4l1.3 2.3h-2.6zM76.4 140.4l1.3 2.3h-2.6zM86.4 105.6l1.3 2.3h-2.6zM68 112.3l1.3 2.3h-2.6zM78.4 86.3l1.3 2.3h-2.6zM84.2 107.5l1.3 2.3h-2.6zM83.1 125.2l1.3 2.3h-2.6zM71.8 110.4l1.3 2.3h-2.6zM82.9 89.5l1.3 2.3h-2.6zM54.8 151.2l1.3 2.3h-2.6zM70.3 149.4l1.3 2.3h-2.6zM75.7 76.5l1.3 2.3h-2.6zM83 134l1.3 2.3h-2.6zM72.4 135.2l1.3 2.3h-2.6zM63 147.3l1.3 2.3h-2.6zM85.7 140.2l1.3 2.3h-2.6zM73.7 148.5l1.3 2.3h-2.6zM80.8 81.5l1.3 2.3h-2.6zM79.3 74.3l1.3 2.3h-2.6zM79.1 150.7l1.3 2.3h-2.6zM59 156l1.3 2.3h-2.6zM55.3 129.8l1.3 2.3h-2.6zM85.2 133.3l1.3 2.3h-2.6zM74.3 70.3l1.3 2.3h-2.6zM69.5 142.9l1.3 2.3h-2.6zM80.6 102l1.3 2.3h-2.6zM79.6 91.9l1.3 2.3h-2.6zM58.6 140.9l1.3 2.3h-2.6zM78.1 63.6l1.3 2.3h-2.6zM82.8 146l1.3 2.3h-2.6zM83.7 132.6l1.3 2.3h-2.6zM72.6 113l1.3 2.3h-2.6zM82.3 95.9l1.3 2.3h-2.6zM53.6 148.9l1.3 2.3h-2.6zM83.6 118.8l1.3 2.3h-2.6zM75 74.4l1.3 2.3h-2.6zM77.1 160l1.3 2.3h-2.6zM58.9 154l1.3 2.3h-2.6zM64.1 90.1l1.3 2.3h-2.6zM68.4 159.1l1.3 2.3h-2.6zM82.1 125.6l1.3 2.3h-2.6zM80.1 127.4l1.3 2.3h-2.6zM81.9 110.8l1.3 2.3h-2.6zM85 121.9l1.3 2.3h-2.6zM67.2 114l1.3 2.3h-2.6zM62.7 166.1l1.3 2.3h-2.6zM70.9 144.4l1.3 2.3h-2.6zM77.7 135.3l1.3 2.3h-2.6zM85.9 103.2l1.3 2.3h-2.6zM62.6 135.1l1.3 2.3h-2.6zM58.7 120.1l1.3 2.3h-2.6zM82.1 129.5l1.3 2.3h-2.6zM141.5 141l1.3 2.3h-2.6zM84.7 104.3l1.3 2.3h-2.6zM89.4 67.9l1.3 2.3h-2.6zM69.3 114.7l1.3 2.3h-2.6zM58.1 135.5l1.3 2.3h-2.6zM77.5 140.9l1.3 2.3h-2.6zM82.9 110.7l1.3 2.3h-2.6zM78.5 108.7l1.3 2.3h-2.6zM52.2 144.1l1.3 2.3h-2.6zM83.1 92l1.3 2.3h-2.6zM76.7 120.9l1.3 2.3h-2.6zM75.2 101.8l1.3 2.3h-2.6zM75.5 85l1.3 2.3h-2.6zM68.7 164.7l1.3 2.3h-2.6zM79.4 84.9l1.3 2.3h-2.6zM83.6 146.1l1.3 2.3h-2.6zM76.3 62.5l1.3 2.3h-2.6zM79.6 78.1l1.3 2.3h-2.6zM76.1 83.2l1.3 2.3h-2.6zM63.6 119.5l1.3 2.3h-2.6zM70.8 120l1.3 2.3h-2.6zM64.7 88.1l1.3 2.3h-2.6zM75 150.7l1.3 2.3h-2.6z"/>
<path fill="#FF9E00" d="M139.2 109.1l1.3 2.3h-2.6zM126.9 138.8l1.3 2.3h-2.6zM119 90.9l1.3 2.3h-2.6zM110.2 165.4l1.3 2.3h-2.6zM125.8 86.3l1.3 2.3h-2.6zM122.7 130.7l1.3 2.3h-2.6zM121.1 123.7l1.3 2.3h-2.6zM120.8 129.4l1.3 2.3h-2.6zM122.6 150.2l1.3 2.3h-2.6zM121.1 146.6l1.3 2.3h-2.6zM78.5 80.4l1.3 2.3h-2.6zM118.1 166.3l1.3 2.3h-2.6zM124.7 77.9l1.3 2.3h-2.6zM97.9 68.2l1.3 2.3h-2.6zM124.6 105.5l1.3 2.3h-2.6zM119.2 149.9l1.3 2.3h-2.6zM101.5 107.9l1.3 2.3h-2.6zM114.2 84.5l1.3 2.3h-2.6zM145.9 132.6l1.3 2.3h-2.6zM117.6 146.2l1.3 2.3h-2.6zM145.6 109.2l1.3 2.3h-2.6zM115.7 108.3l1.3 2.3h-2.6zM105.2 102.5l1.3 2.3h-2.6zM147.3 111.8l1.3 2.3h-2.6zM112.4 142.6l1.3 2.3h-2.6zM111 91.3l1.3 2.3h-2.6zM118.4 124.5l1.3 2.3h-2.6zM123 102.7l1.3 2.3h-2.6zM143.4 110.7l1.3 2.3h-2.6zM108.3 69.3l1.3 2.3h-2.6zM120.4 107.3l1.3 2.3h-2.6zM119.4 70.8l1.3 2.3h-2.6zM149 110.4l1.3 2.3h-2.6zM102.2 104.3l1.3 2.3h-2.6zM139.1 134.3l1.3 2.3h-2.6zM108.7 85.8l1.3 2.3h-2.6zM125.3 118l1.3 2.3h-2.6zM126.8 134.1l1.3 2.3h-2.6zM139.2 116.8l1.3 2.3h-2.6zM128.6 130.5l1.3 2.3h-2.6zM107.8 109.2l1.3 2.3h-2.6zM121.9 159l1.3 2.3h-2.6zM128.2 160.9l1.3 2.3h-2.6zM115.8 146.5l1.3 2.3h-2.6zM116.6 126.2l1.3 2.3h-2.6zM111.8 92.9l1.3 2.3h-2.6zM136.4 118.8l1.3 2.3h-2.6zM122.6 154l1.3 2.3h-2.6zM80.7 99.8l1.3 2.3h-2.6zM145.7 107.8l1.3 2.3h-2.6zM107.8 111.2l1.3 2.3h-2.6zM111.5 132.7l1.3 2.3h-2.6zM144.5 121.5l1.3 2.3h-2.6zM124.1 73.4l1.3 2.3h-2.6zM144.2 102.5l1.3 2.3h-2.6zM120.4 74.6l1.3 2.3h-2.6zM115.3 107.2l1.3 2.3h-2.6zM116.8 89.9l1.3 2.3h-2.6zM136.2 124.2l1.3 2.3h-2.6zM127.9 133.1l1.3 2.3h-2.6zM110.7 104.9l1.3 2.3h-2.6zM61.8 143.2l1.3 2.3h-2.6zM120.6 134.2l1.3 2.3h-2.6zM120.1 89l1.3 2.3h-2.6zM127.8 153.9l1.3 2.3h-2.6zM110.1 84.7l1.3 2.3h-2.6zM121.5 95.6l1.3 2.3h-2.6zM121 128.1l1.3 2.3h-2.6zM136.4 129.6l1.3 2.3h-2.6zM48.3 132.1l1.3 2.3h-2.6zM124 125l1.3 2.3h-2.6zM149.1 133.9l1.3 2.3h-2.6zM151.2 131.2l1.3 2.3h-2.6zM140.9 108.1l1.3 2.3h-2.6zM113.3 146.4l1.3 2.3h-2.6zM149.6 116.7l1.3 2.3h-2.6zM100.8 102.7l1.3 2.3h-2.6zM107.7 106.2l1.3 2.3h-2.6zM142.3 142.4l1.3 2.3h-2.6zM150.3 129.7l1.3 2.3h-2.6zM124 98.4l1.3 2.3h-2.6zM114.7 79.7l1.3 2.3h-2.6zM92.4 64.8l1.3 2.3h-2.6zM149.5 140.9l1.3 2.3h-2.6zM112.1 91.8l1.3 2.3h-2.6zM118.1 134.4l1.3 2.3h-2.6zM119.8 124.8l1.3 2.3h-2.6zM131.9 120.3l1.3 2.3h-2.6zM142.5 123.1l1.3 2.3h-2.6zM114.9 74.9l1.3 2.3h-2.6zM110.1 110.4l1.3 2.3h-2.6zM100.8 87.8l1.3 2.3h-2.6zM120.1 121.5l1.3 2.3h-2.6zM149.4 119.1l1.3 2.3h-2.6zM127.1 89.9l1.3 2.3h-2.6zM140.2 102.7l1.3 2.3h-2.6zM148 139.1l1.3 2.3h-2.6zM109 101.8l1.3 2.3h-2.6zM114 88.5l1.3 2.3h-2.6zM124 100.2l1.3 2.3h-2.6zM144.1 114.2l1.3 2.3h-2.6zM106.9 121.3l1.3 2.3h-2.6zM133.9 148.1l1.3 2.3h-2.6zM146 124.8l1.3 2.3h-2.6zM126.4 151.5l1.3 2.3h-2.6zM116.1 83.5l1.3 2.3h-2.6zM106.6 69.3l1.3 2.3h-2.6zM109.5 155.7l1.3 2.3h-2.6zM100.9 103.3l1.3 2.3h-2.6zM100.2 104.5l1.3 2.3h-2.6zM114.8 78.2l1.3 2.3h-2.6zM120.8 151.1l1.3 2.3h-2.6zM114 131.8l1.3 2.3h-2.6zM120.4 94.8l1.3 2.3h-2.6zM117.2 65.7l1.3 2.3h-2.6zM138.1 117.2l1.3 2.3h-2.6zM146.6 128.2l1.3 2.3h-2.6zM142.7 113.1l1.3 2.3h-2.6zM126.7 82.6l1.3 2.3h-2.6zM112.1 87.6l1.3 2.3h-2.6zM119.4 105l1.3 2.3h-2.6zM145 103.2l1.3 2.3h-2.6zM139.5 123.5l1.3 2.3h-2.6zM120.1 79.9l1.3 2.3h-2.6zM99 106.7l1.3 2.3h-2.6zM122.5 84.2l1.3 2.3h-2.6zM88.2 162.9l1.3 2.3h-2.6zM133.4 114.2l1.3 2.3h-2.6zM112.7 71.2l1.3 2.3h-2.6zM110.7 87.8l1.3 2.3h-2.6zM125.6 162.8l1.3 2.3h-2.6zM124.3 147.4l1.3 2.3h-2.6zM130.3 141.2l1.3 2.3h-2.6zM113.7 81.5l1.3 2.3h-2.6zM107.5 63.2l1.3 2.3h-2.6zM127.5 97.6l1.3 2.3h-2.6zM117.6 132.7l1.3 2.3h-2.6zM127 140.5l1.3 2.3h-2.6zM113.6 105.5l1.3 2.3h-2.6zM139.2 114.2l1.3 2.3h-2.6zM119 69.6l1.3 2.3h-2.6zM123.9 155.3l1.3 2.3h-2.6zM114.6 88l1.3 2.3h-2.6zM105.8 101.7l1.3 2.3h-2.6zM130.7 147.7l1.3 2.3h-2.6zM149.8 111.1l1.3 2.3h-2.6zM101.8 106.1l1.3 2.3h-2.6zM139.7 111.7l1.3 2.3h-2.6zM107.1 102.7l1.3 2.3h-2.6zM105.6 112.6l1.3 2.3h-2.6zM109.9 140.9l1.3 2.3h-2.6zM113.3 66.1l1.3 2.3h-2.6zM135.6 121.6l1.3 2.3h-2.6zM107.1 103.4l1.3 2.3h-2.6zM115.8 66.5l1.3 2.3h-2.6zM126.7 82.5l1.3 2.3h-2.6zM141.6 131.7l1.3 2.3h-2.6zM148.2 122.2l1.3 2.3h-2.6zM115.4 64.8l1.3 2.3h-2.6zM124.7 102.7l1.3 2.3h-2.6zM52.3 140.2l1.3 2.3h-2.6zM112.5 162.1l1.3 2.3h-2.6zM117 150l1.3 2.3h-2.6zM114.2 106.7l1.3 2.3h-2.6zM77.9 109.6l1.3 2.3h-2.6zM147.2 115.3l1.3 2.3h-2.6zM145.4 117.3l1.3 2.3h-2.6zM123.4 156.7l1.3 2.3h-2.6zM115.5 66.2l1.3 2.3h-2.6zM101.9 104.2l1.3 2.3h-2.6zM115.3 147.6l1.3 2.3h-2.6zM148.9 125.6l1.3 2.3h-2.6zM120.6 81.7l1.3 2.3h-2.6zM121.7 97.9l1.3 2.3h-2.6zM108.5 69.7l1.3 2.3h-2.6zM119.6 123.6l1.3 2.3h-2.6zM124.8 100.3l1.3 2.3h-2.6zM132.6 137.5l1.3 2.3h-2.6zM121.1 131.6l1.3 2.3h-2.6zM151.7 122l1.3 2.3h-2.6zM130.5 145.4l1.3 2.3h-2.6zM120 99.2l1.3 2.3h-2.6zM114.8 163.7l1.3 2.3h-2.6zM122 91.8l1.3 2.3h-2.6zM116.1 154l1.3 2.3h-2.6zM116.7 102.3l1.3 2.3h-2.6zM110.2 71.5l1.3 2.3h-2.6zM115.9 137.4l1.3 2.3h-2.6zM122.8 81.9l1.3 2.3h-2.6zM115.5 90.9l1.3 2.3h-2.6zM112.9 144.8l1.3 2.3h-2.6zM114.6 76.1l1.3 2.3h-2.6zM96.6 105.1l1.3 2.3h-2.6zM142.2 120.2l1.3 2.3h-2.6zM115.6 144.3l1.3 2.3h-2.6zM110 89.5l1.3 2.3h-2.6zM127.2 88.1l1.3 2.3h-2.6zM108.8 154.6l1.3 2.3h-2.6zM140.6 103.9l1.3 2.3h-2.6zM111.1 100.6l1.3 2.3h-2.6zM145.7 103.1l1.3 2.3h-2.6zM109.7 111.2l1.3 2.3h-2.6zM102.3 102.8l1.3 2.3h-2.6zM109.7 106.4l1.3 2.3h-2.6zM110.2 152.9l1.3 2.3h-2.6zM104.3 99.9l1.3 2.3h-2.6zM143.2 140.1l1.3 2.3h-2.6zM113.5 139.1l1.3 2.3h-2.6zM132.7 121.5l1.3 2.3h-2.6zM62.8 128.1l1.3 2.3h-2.6zM136.2 125.8l1.3 2.3h-2.6zM116.8 95.9l1.3 2.3h-2.6zM134.6 128.2l1.3 2.3h-2.6zM127.5 143.7l1.3 2.3h-2.6zM148.9 111.9l1.3 2.3h-2.6zM108.8 109.2l1.3 2.3h-2.6zM128.7 129.8l1.3 2.3h-2.6zM120.8 146.1l1.3 2.3h-2.6zM106.4 145.2l1.3 2.3h-2.6zM101.4 108.8l1.3 2.3h-2.6zM125.3 132.5l1.3 2.3h-2.6zM116.9 95.4l1.3 2.3h-2.6zM79.2 66.7l1.3 2.3h-2.6zM113.8 81.3l1.3 2.3h-2.6zM59.4 142.8l1.3 2.3h-2.6zM122.7 79.7l1.3 2.3h-2.6zM137.8 134.1l1.3 2.3h-2.6zM150.9 132.3l1.3 2.3h-2.6zM124.2 103.3l1.3 2.3h-2.6zM113.8 97.1l1.3 2.3h-2.6zM98.6 109.7l1.3 2.3h-2.6zM125.8 90l1.3 2.3h-2.6zM122.6 70.3l1.3 2.3h-2.6zM125.5 138.4l1.3 2.3h-2.6zM121.9 148.8l1.3 2.3h-2.6zM142.9 118.6l1.3 2.3h-2.6zM143.3 104.1l1.3 2.3h-2.6zM140 118.6l1.3 2.3h-2.6zM103 101.7l1.3 2.3h-2.6zM109.3 65l1.3 2.3h-2.6zM137.3 122l1.3 2.3h-2.6zM148.4 118.9l1.3 2.3h-2.6zM111.8 138.4l1.3 2.3h-2.6zM112.1 106.5l1.3 2.3h-2.6zM106.4 106.6l1.3 2.3h-2.6z"/>
<path fill="#FF9E00" d="M140.9 114.9l1.3 2.3h-2.6zM53.4 125.9l1.3 2.3h-2.6zM104.6 97.9l1.3 2.3h-2.6zM111.7 85.6l1.3 2.3h-2.6zM116.6 68.6l1.3 2.3h-2.6zM52.8 136.9l1.3 2.3h-2.6zM123.4 109.5l1.3 2.3h-2.6zM122.4 142.5l1.3 2.3h-2.6zM109.2 97.8l1.3 2.3h-2.6zM114.8 148.8l1.3 2.3h-2.6zM114.4 92.6l1.3 2.3h-2.6zM103.2 106.7l1.3 2.3h-2.6zM104.5 100.1l1.3 2.3h-2.6zM123.4 126.4l1.3 2.3h-2.6zM115.2 123.5l1.3 2.3h-2.6zM123.3 93.2l1.3 2.3h-2.6zM96 70.7l1.3 2.3h-2.6zM127.7 87l1.3 2.3h-2.6zM122 96.7l1.3 2.3h-2.6zM108.3 99.8l1.3 2.3h-2.6zM140.9 124.5l1.3 2.3h-2.6zM98.4 107.6l1.3 2.3h-2.6zM140.4 99.6l1.3 2.3h-2.6zM120.1 86.5l1.3 2.3h-2.6zM103.9 70.1l1.3 2.3h-2.6zM132.9 146.3l1.3 2.3h-2.6zM118 79l1.3 2.3h-2.6zM111.1 153.8l1.3 2.3h-2.6zM135.7 116.8l1.3 2.3h-2.6zM109.7 143.5l1.3 2.3h-2.6zM117.3 157.9l1.3 2.3h-2.6zM118.7 110.4l1.3 2.3h-2.6zM122.2 89.9l1.3 2.3h-2.6zM122.8 74.6l1.3 2.3h-2.6zM116.1 132.4l1.3 2.3h-2.6zM111.9 141.1l1.3 2.3h-2.6zM119.1 110.3l1.3 2.3h-2.6zM141.4 124.1l1.3 2.3h-2.6zM103.4 106.1l1.3 2.3h-2.6zM130.4 149.1l1.3 2.3h-2.6zM120.3 138.8l1.3 2.3h-2.6zM145.3 137.9l1.3 2.3h-2.6zM109 148.5l1.3 2.3h-2.6zM119.2 130.9l1.3 2.3h-2.6zM111.9 165l1.3 2.3h-2.6zM110.5 158.8l1.3 2.3h-2.6zM126.1 102.5l1.3 2.3h-2.6zM122.8 132.8l1.3 2.3h-2.6zM105.9 64.2l1.3 2.3h-2.6zM131.9 158.7l1.3 2.3h-2.6zM145.5 126.5l1.3 2.3h-2.6zM119.5 133.6l1.3 2.3h-2.6zM139.3 137.1l1.3 2.3h-2.6zM131.5 141.2l1.3 2.3h-2.6zM95.9 70l1.3 2.3h-2.6zM109.1 104.2l1.3 2.3h-2.6zM110.4 135.7l1.3 2.3h-2.6zM109.3 117.7l1.3 2.3h-2.6zM116.1 162.8l1.3 2.3h-2.6zM112.1 110.2l1.3 2.3h-2.6zM113.9 98.5l1.3 2.3h-2.6zM129.4 159.1l1.3 2.3h-2.6zM124.7 74.8l1.3 2.3h-2.6zM120.3 136.1l1.3 2.3h-2.6zM144 141.3l1.3 2.3h-2.6zM137.9 129.8l1.3 2.3h-2.6zM111 141.3l1.3 2.3h-2.6zM118 147.4l1.3 2.3h-2.6zM117.1 134.8l1.3 2.3h-2.6zM113.4 148.9l1.3 2.3h-2.6zM132.2 149.4l1.3 2.3h-2.6zM116.7 110.6l1.3 2.3h-2.6zM117.8 74.7l1.3 2.3h-2.6zM124.8 156.1l1.3 2.3h-2.6zM122.8 105l1.3 2.3h-2.6zM101.4 64.1l1.3 2.3h-2.6zM107.6 63.6l1.3 2.3h-2.6zM72.3 98.3l1.3 2.3h-2.6zM116.4 130.7l1.3 2.3h-2.6zM116.8 66.2l1.3 2.3h-2.6zM150.2 128.2l1.3 2.3h-2.6zM123.8 84.2l1.3 2.3h-2.6zM141.1 128.1l1.3 2.3h-2.6zM110.1 164.2l1.3 2.3h-2.6zM122.8 164.1l1.3 2.3h-2.6zM132.3 138.6l1.3 2.3h-2.6zM144.8 142.2l1.3 2.3h-2.6zM105.1 65.5l1.3 2.3h-2.6zM134.6 125.9l1.3 2.3h-2.6zM120.3 132l1.3 2.3h-2.6zM147.6 133.8l1.3 2.3h-2.6zM142 101.9l1.3 2.3h-2.6zM145.4 134.7l1.3 2.3h-2.6zM116.7 109.2l1.3 2.3h-2.6zM114.5 159l1.3 2.3h-2.6zM116.2 74.5l1.3 2.3h-2.6zM119.1 159.5l1.3 2.3h-2.6zM147.4 135.4l1.3 2.3h-2.6zM145.4 141.9l1.3 2.3h-2.6zM143.8 142.5l1.3 2.3h-2.6zM116.2 133.6l1.3 2.3h-2.6zM116.7 111.6l1.3 2.3h-2.6zM112.4 137.3l1.3 2.3h-2.6zM123.7 123.7l1.3 2.3h-2.6zM121.2 152.2l1.3 2.3h-2.6zM97.4 96.4l1.3 2.3h-2.6zM149.3 124.4l1.3 2.3h-2.6zM114.8 129.8l1.3 2.3h-2.6zM103.2 63.4l1.3 2.3h-2.6zM68 150.4l1.3 2.3h-2.6zM107.6 146.6l1.3 2.3h-2.6zM150.9 116.1l1.3 2.3h-2.6zM117.9 99.1l1.3 2.3h-2.6zM127.3 79.2l1.3 2.3h-2.6zM150.9 125.5l1.3 2.3h-2.6zM130.5 154l1.3 2.3h-2.6zM130.1 157.5l1.3 2.3h-2.6zM96.5 96.2l1.3 2.3h-2.6zM140.1 124.7l1.3 2.3h-2.6zM110.7 96.6l1.3 2.3h-2.6zM108.7 152l1.3 2.3h-2.6zM108.4 93.6l1.3 2.3h-2.6zM111.4 102.9l1.3 2.3h-2.6zM108.7 63.5l1.3 2.3h-2.6zM123 144.6l1.3 2.3h-2.6zM111 115l1.3 2.3h-2.6zM119.5 163l1.3 2.3h-2.6zM107 141.8l1.3 2.3h-2.6zM148.9 107.9l1.3 2.3h-2.6zM130.1 138.8l1.3 2.3h-2.6zM148.4 116l1.3 2.3h-2.6zM105.3 104.1l1.3 2.3h-2.6zM114.4 107.6l1.3 2.3h-2.6zM146.6 131l1.3 2.3h-2.6zM104.1 112.2l1.3 2.3h-2.6zM120 145.6l1.3 2.3h-2.6zM136.6 118.8l1.3 2.3h-2.6zM142.2 106.7l1.3 2.3h-2.6zM123 99.4l1.3 2.3h-2.6zM118.1 99.1l1.3 2.3h-2.6zM109.1 141.9l1.3 2.3h-2.6zM144 122l1.3 2.3h-2.6zM113.3 162.7l1.3 2.3h-2.6zM117.5 92.8l1.3 2.3h-2.6zM118.9 138.5l1.3 2.3h-2.6zM142.3 117.3l1.3 2.3h-2.6zM122.4 94.9l1.3 2.3h-2.6zM133.6 143.7l1.3 2.3h-2.6zM140.4 137.1l1.3 2.3h-2.6zM113.1 91.5l1.3 2.3h-2.6zM142.7 104.1l1.3 2.3h-2.6zM126.4 112.3l1.3 2.3h-2.6zM131.1 151.3l1.3 2.3h-2.6zM149.3 131.8l1.3 2.3h-2.6zM111.7 144.6l1.3 2.3h-2.6zM111.3 114.5l1.3 2.3h-2.6zM127.6 150.4l1.3 2.3h-2.6zM120.7 121.4l1.3 2.3h-2.6zM114.5 96l1.3 2.3h-2.6zM120 104.1l1.3 2.3h-2.6zM131.2 153.9l1.3 2.3h-2.6zM108.2 67.9l1.3 2.3h-2.6zM117.2 85.9l1.3 2.3h-2.6zM128.2 140l1.3 2.3h-2.6zM136.1 147.6l1.3 2.3h-2.6zM124.9 160.2l1.3 2.3h-2.6zM94.1 63.4l1.3 2.3h-2.6zM93.3 104.1l1.3 2.3h-2.6zM123.5 134.2l1.3 2.3h-2.6zM114.9 153l1.3 2.3h-2.6zM107 157.6l1.3 2.3h-2.6zM107.5 68.1l1.3 2.3h-2.6zM97.3 65.2l1.3 2.3h-2.6zM99.4 82.9l1.3 2.3h-2.6zM119.9 92l1.3 2.3h-2.6zM128.6 136.4l1.3 2.3h-2.6zM104.3 100.8l1.3 2.3h-2.6zM148.7 129.7l1.3 2.3h-2.6zM121.6 151.3l1.3 2.3h-2.6zM141.1 101.4l1.3 2.3h-2.6zM124.4 87.1l1.3 2.3h-2.6zM119.7 97.8l1.3 2.3h-2.6zM94 94l1.3 2.3h-2.6zM114.3 68.3l1.3 2.3h-2.6zM118.4 88.9l1.3 2.3h-2.6zM137.1 120.4l1.3 2.3h-2.6zM132.6 154.2l1.3 2.3h-2.6zM113.5 64l1.3 2.3h-2.6zM117.9 83.2l1.3 2.3h-2.6zM128.2 154.5l1.3 2.3h-2.6zM138.3 114.7l1.3 2.3h-2.6zM108.5 143.2l1.3 2.3h-2.6zM118.8 131.8l1.3 2.3h-2.6zM129.2 151.5l1.3 2.3h-2.6zM147.9 137.1l1.3 2.3h-2.6zM107 147.9l1.3 2.3h-2.6zM120.2 154l1.3 2.3h-2.6zM118.5 66.7l1.3 2.3h-2.6zM127.4 144.8l1.3 2.3h-2.6zM108.3 140.9l1.3 2.3h-2.6zM125 134.4l1.3 2.3h-2.6zM112.9 166.8l1.3 2.3h-2.6zM108.7 97.7l1.3 2.3h-2.6zM115.7 114l1.3 2.3h-2.6zM138.1 118.3l1.3 2.3h-2.6zM121.2 111.4l1.3 2.3h-2.6zM129.6 146.4l1.3 2.3h-2.6zM133.5 152.5l1.3 2.3h-2.6zM113.1 108.7l1.3 2.3h-2.6zM117.3 133.1l1.3 2.3h-2.6zM144.5 133.3l1.3 2.3h-2.6zM144.6 135.8l1.3 2.3h-2.6zM115.8 151.3l1.3 2.3h-2.6zM123.6 155.3l1.3 2.3h-2.6zM123.5 125.4l1.3 2.3h-2.6zM107.3 122.6l1.3 2.3h-2.6zM114.7 136.9l1.3 2.3h-2.6zM114 91.9l1.3 2.3h-2.6zM142.6 137.9l1.3 2.3h-2.6zM107 113.9l1.3 2.3h-2.6zM140.2 141.3l1.3 2.3h-2.6zM109.8 99.2l1.3 2.3h-2.6zM138.9 130l1.3 2.3h-2.6zM114.7 158.3l1.3 2.3h-2.6zM114.6 127.4l1.3 2.3h-2.6zM115.1 146.5l1.3 2.3h-2.6zM125.1 153.6l1.3 2.3h-2.6zM110 135.4l1.3 2.3h-2.6zM110.3 113.6l1.3 2.3h-2.6zM102.7 100l1.3 2.3h-2.6zM116.1 110.7l1.3 2.3h-2.6zM116.1 101.5l1.3 2.3h-2.6zM111.9 123.9l1.3 2.3h-2.6zM116.5 99.7l1.3 2.3h-2.6zM112 88.3l1.3 2.3h-2.6zM105.6 108.7l1.3 2.3h-2.6zM92.9 102.2l1.3 2.3h-2.6zM69.2 79l1.3 2.3h-2.6zM115.5 141.1l1.3 2.3h-2.6zM101.4 98.2l1.3 2.3h-2.6zM101.1 61.5l1.3 2.3h-2.6zM119.8 84.9l1.3 2.3h-2.6zM98.9 79.2l1.3 2.3h-2.6zM117.3 87.3l1.3 2.3h-2.6zM132.1 144.7l1.3 2.3h-2.6zM125.1 103.5l1.3 2.3h-2.6zM143 115.7l1.3 2.3h-2.6zM114.1 122.7l1.3 2.3h-2.6zM142.6 133.4l1.3 2.3h-2.6zM122.8 162.2l1.3 2.3h-2.6zM123.2 146.4l1.3 2.3h-2.6zM133.7 122l1.3 2.3h-2.6zM130.2 137.4l1.3 2.3h-2.6zM106 115.1l1.3 2.3h-2.6zM110 155.2l1.3 2.3h-2.6zM142.3 141.7l1.3 2.3h-2.6zM105.5 110.8l1.3 2.3h-2.6zM147 106l1.3 2.3h-2.6zM147.4 120.6l1.3 2.3h-2.6zM103.8 103.2l1.3 2.3h-2.6zM119.3 89.1l1.3 2.3h-2.6zM111.6 160.7l1.3 2.3h-2.6zM134.8 143.9l1.3 2.3h-2.6zM108.8 153.2l1.3 2.3h-2.6zM140.5 105.4l1.3 2.3h-2.6zM112.2 76.8l1.3 2.3h-2.6zM115.2 97.8l1.3 2.3h-2.6zM145.8 123.9l1.3 2.3h-2.6zM126.1 129.2l1.3 2.3h-2.6zM115.4 76.2l1.3 2.3h-2.6zM120.6 147.6l1.3 2.3h-2.6z"/>
<path fill="#FFC20A" d="M81 140.1l1.3 2.3h-2.6zM72.2 158.7l1.3 2.3h-2.6zM76.4 95l1.3 2.3h-2.6zM84.7 70.6l1.3 2.3h-2.6zM74.6 98.4l1.3 2.3h-2.6zM79.2 107.4l1.3 2.3h-2.6zM81 67.5l1.3 2.3h-2.6zM60.6 157.1l1.3 2.3h-2.6zM83.8 111.5l1.3 2.3h-2.6zM88.5 94.3l1.3 2.3h-2.6zM84 138.3l1.3 2.3h-2.6zM125.2 148.8l1.3 2.3h-2.6zM71.4 112.8l1.3 2.3h-2.6zM72.4 84.1l1.3 2.3h-2.6zM87 129.2l1.3 2.3h-2.6zM61.5 150.7l1.3 2.3h-2.6zM93.9 104.9l1.3 2.3h-2.6zM63.7 165.2l1.3 2.3h-2.6zM51.1 152.3l1.3 2.3h-2.6zM81.2 149l1.3 2.3h-2.6zM80.4 96.3l1.3 2.3h-2.6zM54 124.7l1.3 2.3h-2.6zM90.4 79l1.3 2.3h-2.6zM54.1 139.4l1.3 2.3h-2.6zM70.6 80.6l1.3 2.3h-2.6zM90.4 74.8l1.3 2.3h-2.6zM61.5 156.7l1.3 2.3h-2.6zM59.1 113.6l1.3 2.3h-2.6zM64.6 89.2l1.3 2.3h-2.6zM73.6 104.6l1.3 2.3h-2.6zM80.5 99.6l1.3 2.3h-2.6zM73.1 102.1l1.3 2.3h-2.6zM84 92.9l1.3 2.3h-2.6zM85.8 75.9l1.3 2.3h-2.6zM59.3 144.5l1.3 2.3h-2.6zM77.6 77.6l1.3 2.3h-2.6zM78.9 132.1l1.3 2.3h-2.6zM75.6 87.8l1.3 2.3h-2.6zM88.9 114.2l1.3 2.3h-2.6zM78.5 154.3l1.3 2.3h-2.6zM73.7 142.2l1.3 2.3h-2.6zM69.5 85.2l1.3 2.3h-2.6zM85.5 120.5l1.3 2.3h-2.6zM85.4 142.4l1.3 2.3h-2.6zM64.7 72.1l1.3 2.3h-2.6zM82.9 97.3l1.3 2.3h-2.6zM86.6 135l1.3 2.3h-2.6zM72 68.9l1.3 2.3h-2.6zM75.8 75.5l1.3 2.3h-2.6zM72.7 163.1l1.3 2.3h-2.6zM76.9 130.8l1.3 2.3h-2.6zM66.9 129.7l1.3 2.3h-2.6zM93.8 91.8l1.3 2.3h-2.6zM68 162l1.3 2.3h-2.6zM74.7 156.4l1.3 2.3h-2.6zM49.9 140.9l1.3 2.3h-2.6zM90.3 69.9l1.3 2.3h-2.6zM68.5 82.5l1.3 2.3h-2.6zM78.3 101.7l1.3 2.3h-2.6zM89.5 118.8l1.3 2.3h-2.6zM63.8 145.9l1.3 2.3h-2.6zM67.2 159.3l1.3 2.3h-2.6zM76.3 137.2l1.3 2.3h-2.6zM69.7 146.4l1.3 2.3h-2.6zM89.1 113l1.3 2.3h-2.6zM73.5 76.7l1.3 2.3h-2.6zM62.1 111.7l1.3 2.3h-2.6zM67.4 140.4l1.3 2.3h-2.6zM66.6 109.4l1.3 2.3h-2.6zM60.9 141.4l1.3 2.3h-2.6zM76.7 94.3l1.3 2.3h-2.6zM62.2 109.7l1.3 2.3h-2.6zM73.4 66.9l1.3 2.3h-2.6zM68.6 74.3l1.3 2.3h-2.6zM77.7 105.2l1.3 2.3h-2.6zM65.4 152.8l1.3 2.3h-2.6zM83.6 85.4l1.3 2.3h-2.6zM82.3 77.6l1.3 2.3h-2.6zM68.3 160.5l1.3 2.3h-2.6zM76.9 154.6l1.3 2.3h-2.6zM108 149.9l1.3 2.3h-2.6zM69.7 94.7l1.3 2.3h-2.6zM77.1 69.3l1.3 2.3h-2.6zM81.1 142.4l1.3 2.3h-2.6zM82.2 66.1l1.3 2.3h-2.6zM71 136.3l1.3 2.3h-2.6zM84.7 139.2l1.3 2.3h-2.6zM82.3 139.4l1.3 2.3h-2.6zM69.1 89.5l1.3 2.3h-2.6zM82.3 63.5l1.3 2.3h-2.6zM82.2 109.7l1.3 2.3h-2.6zM96 99l1.3 2.3h-2.6zM53.5 129.1l1.3 2.3h-2.6zM77.8 136.6l1.3 2.3h-2.6zM76.8 66.7l1.3 2.3h-2.6zM83.8 74.1l1.3 2.3h-2.6zM86.2 100.9l1.3 2.3h-2.6zM85.3 110.2l1.3 2.3h-2.6zM63.6 130.6l1.3 2.3h-2.6zM84.6 85.7l1.3 2.3h-2.6zM77.2 110.6l1.3 2.3h-2.6zM80 114.2l1.3 2.3h-2.6zM68.1 87.5l1.3 2.3h-2.6zM90.6 123.2l1.3 2.3h-2.6zM69 125.7l1.3 2.3h-2.6zM126.5 76.3l1.3 2.3h-2.6zM54.3 140.8l1.3 2.3h-2.6zM57.5 146.6l1.3 2.3h-2.6zM53 134.1l1.3 2.3h-2.6zM63.8 154.6l1.3 2.3h-2.6zM85.3 117.7l1.3 2.3h-2.6zM81.3 152l1.3 2.3h-2.6zM66.9 106.1l1.3 2.3h-2.6zM82.3 121l1.3 2.3h-2.6zM85.7 115.4l1.3 2.3h-2.6zM65.1 148.6l1.3 2.3h-2.6zM68.4 97.7l1.3 2.3h-2.6zM66.7 144.9l1.3 2.3h-2.6zM87.5 119.3l1.3 2.3h-2.6zM63.9 143.2l1.3 2.3h-2.6zM70.1 69l1.3 2.3h-2.6zM72.7 70.5l1.3 2.3h-2.6zM95.8 64.6l1.3 2.3h-2.6zM54.8 159.6l1.3 2.3h-2.6zM57.1 140.5l1.3 2.3h-2.6zM83.7 129.1l1.3 2.3h-2.6zM49 131.5l1.3 2.3h-2.6zM70.2 158.8l1.3 2.3h-2.6zM126.2 83.8l1.3 2.3h-2.6zM66.8 135.4l1.3 2.3h-2.6zM55.6 122.9l1.3 2.3h-2.6zM65 152.4l1.3 2.3h-2.6zM78.2 136.8l1.3 2.3h-2.6zM51.8 127.8l1.3 2.3h-2.6zM81.4 84.4l1.3 2.3h-2.6zM70.3 125.1l1.3 2.3h-2.6zM66.2 128.5l1.3 2.3h-2.6zM91.8 62.9l1.3 2.3h-2.6zM74.6 115.2l1.3 2.3h-2.6zM85.6 64l1.3 2.3h-2.6zM56.5 152l1.3 2.3h-2.6zM70.9 117.7l1.3 2.3h-2.6zM67.5 137.2l1.3 2.3h-2.6zM59.9 160.3l1.3 2.3h-2.6zM85.9 135.5l1.3 2.3h-2.6zM52.3 146.3l1.3 2.3h-2.6zM51.2 142.3l1.3 2.3h-2.6zM84.4 67l1.3 2.3h-2.6zM66.7 110l1.3 2.3h-2.6zM82.1 143.9l1.3 2.3h-2.6zM75.6 79.9l1.3 2.3h-2.6zM80.7 112.2l1.3 2.3h-2.6zM95.1 66.2l1.3 2.3h-2.6zM71.2 130.6l1.3 2.3h-2.6zM66.4 107.6l1.3 2.3h-2.6zM65.5 126.6l1.3 2.3h-2.6zM54.6 148.3l1.3 2.3h-2.6zM99.8 110.1l1.3 2.3h-2.6zM62.3 154.8l1.3 2.3h-2.6zM85.2 137.5l1.3 2.3h-2.6zM80.5 154.7l1.3 2.3h-2.6zM73.1 74.2l1.3 2.3h-2.6zM82.2 93.3l1.3 2.3h-2.6zM77.3 104.6l1.3 2.3h-2.6zM66.9 100.1l1.3 2.3h-2.6zM84.3 103.6l1.3 2.3h-2.6zM67.5 162.3l1.3 2.3h-2.6zM67 102.9l1.3 2.3h-2.6zM85.4 68l1.3 2.3h-2.6zM75.9 67.9l1.3 2.3h-2.6zM75.6 150.2l1.3 2.3h-2.6zM65.3 144.4l1.3 2.3h-2.6zM61.2 136.7l1.3 2.3h-2.6zM88.9 89.5l1.3 2.3h-2.6zM72.3 89.9l1.3 2.3h-2.6zM70.2 97.1l1.3 2.3h-2.6zM83.3 67.9l1.3 2.3h-2.6zM87.5 65.4l1.3 2.3h-2.6zM85 78.4l1.3 2.3h-2.6zM86.8 129.9l1.3 2.3h-2.6zM72.8 80.6l1.3 2.3h-2.6zM66.3 98.5l1.3 2.3h-2.6zM58.2 132.9l1.3 2.3h-2.6zM73.1 72.7l1.3 2.3h-2.6zM55 153l1.3 2.3h-2.6zM65.1 97.8l1.3 2.3h-2.6zM68.2 109.3l1.3 2.3h-2.6zM80.2 119l1.3 2.3h-2.6zM86.1 67.4l1.3 2.3h-2.6zM61.7 145.6l1.3 2.3h-2.6zM83.3 63.2l1.3 2.3h-2.6zM66.2 136.2l1.3 2.3h-2.6zM77.7 62.8l1.3 2.3h-2.6zM81.1 144.6l1.3 2.3h-2.6zM68 92.7l1.3 2.3h-2.6zM79 63.4l1.3 2.3h-2.6zM57.6 159.5l1.3 2.3h-2.6zM65.4 115.1l1.3 2.3h-2.6zM69 113.1l1.3 2.3h-2.6zM82.9 64l1.3 2.3h-2.6zM99.6 108l1.3 2.3h-2.6zM62.2 140.5l1.3 2.3h-2.6zM86.9 127.3l1.3 2.3h-2.6zM68.5 126.9l1.3 2.3h-2.6zM65.7 78.2l1.3 2.3h-2.6zM68.8 131.4l1.3 2.3h-2.6zM60.6 114.4l1.3 2.3h-2.6zM63.5 109.7l1.3 2.3h-2.6zM64.8 116.3l1.3 2.3h-2.6zM54.2 162.1l1.3 2.3h-2.6zM63.9 80.6l1.3 2.3h-2.6zM71 82.2l1.3 2.3h-2.6zM70.1 99.6l1.3 2.3h-2.6zM77.1 140.1l1.3 2.3h-2.6zM80.4 136.6l1.3 2.3h-2.6zM61.7 113.2l1.3 2.3h-2.6zM56.3 158.7l1.3 2.3h-2.6zM80.3 141.4l1.3 2.3h-2.6zM69.5 67.2l1.3 2.3h-2.6zM71.1 64.1l1.3 2.3h-2.6zM65.6 131.2l1.3 2.3h-2.6zM75.1 70.4l1.3 2.3h-2.6zM67 109.3l1.3 2.3h-2.6zM78.9 112l1.3 2.3h-2.6zM73.3 152.1l1.3 2.3h-2.6zM77.3 157.6l1.3 2.3h-2.6zM55.7 163.9l1.3 2.3h-2.6zM68.3 128.8l1.3 2.3h-2.6zM63.5 112.2l1.3 2.3h-2.6zM77.6 127.5l1.3 2.3h-2.6zM70.5 126.5l1.3 2.3h-2.6zM59.7 137.1l1.3 2.3h-2.6zM62.1 148.5l1.3 2.3h-2.6zM70.3 147.3l1.3 2.3h-2.6zM66.3 76.2l1.3 2.3h-2.6zM79.8 121.8l1.3 2.3h-2.6zM63.5 125.5l1.3 2.3h-2.6zM77.1 84.8l1.3 2.3h-2.6zM61.5 161.7l1.3 2.3h-2.6zM75.9 105.6l1.3 2.3h-2.6zM52.6 153.9l1.3 2.3h-2.6zM66 164.3l1.3 2.3h-2.6zM74.8 73.1l1.3 2.3h-2.6zM54 135.6l1.3 2.3h-2.6zM68 165.9l1.3 2.3h-2.6zM67.4 130.5l1.3 2.3h-2.6zM75.2 83.3l1.3 2.3h-2.6zM78.6 160.9l1.3 2.3h-2.6zM70 143.2l1.3 2.3h-2.6zM54.2 142l1.3 2.3h-2.6zM66.2 94.9l1.3 2.3h-2.6zM56.7 119.8l1.3 2.3h-2.6zM66 85.4l1.3 2.3h-2.6zM64.1 107.8l1.3 2.3h-2.6zM80 62.8l1.3 2.3h-2.6zM71.4 139.5l1.3 2.3h-2.6zM59.4 124.5l1.3 2.3h-2.6zM73.5 63l1.3 2.3h-2.6zM64.6 82.1l1.3 2.3h-2.6zM78.5 76.9l1.3 2.3h-2.6zM66.6 89.7l1.3 2.3h-2.6zM65.7 90.9l1.3 2.3h-2.6zM77.8 80.5l1.3 2.3h-2.6z"/>
<path fill="none" stroke="#E8413C" stroke-width="2.7" stroke-linecap="round" d="M133.5 125.8h0M109.1 67.6h0M97.5 66.1h0M99.3 65.4h0M65.4 80h0M148.6 143.4h0M104.7 78.7h0M103.5 65h0M94.2 104.9h0M96.2 107.2h0M95.6 131.5h0M96.4 101.3h0M94.9 64.1h0M96.8 100.9h0M88.1 103.9h0M95.5 96.1h0M105.3 159.5h0M65.4 73.6h0M94.6 95.1h0M96.5 95.4h0M110.2 158h0M87 90.4h0M107.8 153.4h0M103.6 87.9h0M94.3 146.8h0M108.3 75.7h0M102.6 73.7h0M93.9 86.7h0M135.2 137.3h0M107.2 64.7h0M91.7 64.8h0M100.8 73h0M93 162h0M101 65.6h0M90.3 157.1h0M108 70.1h0M87.6 159.2h0M125.5 86.8h0M97.7 70.7h0M97.6 99.5h0M51.7 145.5h0M109.7 152.9h0M91.8 128h0M49.4 139.2h0M50.4 147.6h0M91.9 66.4h0M100.1 69h0M148.4 133.7h0M101.6 145.6h0M102.3 85h0M106 157.4h0M98.8 107h0M51.8 146h0M106.1 67.4h0M150.9 126.2h0M86.2 71.3h0"/>
<path fill="none" stroke="#F0628E" stroke-width="2.7" stroke-linecap="round" d="M96.3 102.9h0M87.1 88.4h0M91.7 107.4h0M95.7 98.1h0M96.7 102h0M96 103.6h0M93.3 64h0M93.8 133h0M100.2 128.4h0M148.8 135.6h0M70.1 102.3h0M104.3 160.6h0M88.6 104.2h0M99.1 102h0M109.4 160.4h0M51.1 141.4h0M96 131.1h0M125.2 136.8h0M89.6 156h0M104.3 159.2h0M93.2 66h0M91.5 66.4h0M89.2 107.4h0M91.4 103.5h0M106.7 162.6h0M106.4 153.6h0M97.9 96.2h0M133.8 129.5h0M106.4 156.8h0M149 123.2h0M105.2 154.3h0M101.1 91.8h0M81.6 155.3h0M80 158h0M96.9 102.5h0M153.1 122.3h0M100.5 64.4h0M90.3 69.9h0M90 104.6h0M130 124.4h0M92.9 83.6h0"/>
<path fill="none" stroke="#149A82" stroke-width="2.7" stroke-linecap="round" d="M83.8 68.7h0M63.5 75.3h0M92.8 71.3h0M83.9 69.7h0M109.7 153.8h0M150.2 121.6h0M95.9 108.7h0M150.5 143.3h0M149.1 116.9h0M123.8 103.7h0M52.1 144.4h0M98.6 66h0M102.1 67.9h0M95.1 106.7h0M97 72.7h0M106 86.9h0M90.6 107.3h0M86.7 68.7h0M108.6 66.7h0M106.9 71.4h0M118.9 70.4h0M88.8 105.6h0M96 69.8h0M91.8 101.6h0M89.6 157.3h0M151.3 126.8h0M106 72.1h0M151.1 126.9h0M91.9 78.6h0M107.3 71h0M71.8 90h0M104.6 72.4h0M93.1 103.6h0M101 106.6h0M108.1 66.5h0M95.5 100.3h0M85.4 158.3h0M86.2 100.3h0M66.5 73.9h0M104.2 127.6h0"/>
<path fill="none" stroke="#1F6FA5" stroke-width="2.7" stroke-linecap="round" d="M151.4 117.4h0M90.8 100.4h0M92.2 65.5h0M106.3 68.7h0M106.8 164.6h0M120 103.5h0M69.5 98.7h0M96.6 70.9h0M88.4 69.8h0M86.6 90.7h0M94.6 69.1h0M66.3 79.2h0M99.2 84.4h0M101 87h0M90.1 67.2h0M106.8 64h0M89 106.5h0M93.9 129.9h0M107.6 72.1h0M136.1 146h0M92.6 96.3h0M102.7 68.1h0M109.9 157.9h0M87.7 102.7h0M108.9 72.4h0M93.6 69.1h0M107.7 157.1h0M121.2 90.8h0M97.2 78.2h0M98.4 64.3h0M120 85.4h0M85.5 156.9h0M65 73.8h0M51.5 146.9h0M108.1 67.1h0"/>
<rect x="43.5" y="58.5" width="113.5" height="113.5" fill="none" stroke="#2a2a2a" stroke-width="0.9"/>
<text x="6.2" y="12.6" font-size="10.5" font-weight="bold">A</text>
<text x="22" y="16.3" font-size="8.8">Species</text>
<circle cx="61.4" cy="13.1" r="2.2" fill="#000"/>
<text x="69.5" y="15.8" font-size="7">homo_sapiens</text>
<path fill="#000" d="M122.6 10.8l2.6 4.6h-5.2z"/>
<text x="131" y="15.8" font-size="7">mus_musculus</text>
<text x="18" y="39.4" font-size="8.7">Time Point</text>
<circle cx="67" cy="32" r="2.4" fill="#FFC20A"/>
<text x="75.6" y="34.5" font-size="7">E12.5</text>
<circle cx="67" cy="39.8" r="2.4" fill="#FF9E00"/>
<text x="75.6" y="42.3" font-size="7">E14.5</text>
<circle cx="102.6" cy="32" r="2.4" fill="#E8413C"/>
<text x="109.8" y="34.5" font-size="7">PCW_10</text>
<circle cx="102.6" cy="39.8" r="2.4" fill="#F0628E"/>
<text x="109.8" y="42.3" font-size="7">PCW_13</text>
<circle cx="145.8" cy="32" r="2.4" fill="#1F6FA5"/>
<text x="154.4" y="34.5" font-size="7">PCW_14</text>
<circle cx="145.8" cy="39.8" r="2.4" fill="#149A82"/>
<text x="154.4" y="42.3" font-size="7">PCW_15</text>
<text x="99.5" y="184.3" font-size="8.6" text-anchor="middle">UMAP 1</text>
<text x="36.2" y="115.3" font-size="8.6" text-anchor="middle" transform="rotate(-90 36.2 115.3)">UMAP 2</text>
<path fill="#2B3A9C" d="M326.7 151.9l1.3 2.3h-2.6zM330.7 149l1.3 2.3h-2.6zM255.7 151.1l1.3 2.3h-2.6zM321.2 143.3l1.3 2.3h-2.6zM276.3 155.2l1.3 2.3h-2.6zM259.1 156.7l1.3 2.3h-2.6zM326.1 138.3l1.3 2.3h-2.6zM253.6 147.3l1.3 2.3h-2.6zM285.5 142.2l1.3 2.3h-2.6zM323.5 148.9l1.3 2.3h-2.6zM328.6 152.9l1.3 2.3h-2.6zM326.6 157l1.3 2.3h-2.6zM271.3 163.6l1.3 2.3h-2.6zM280.4 145.8l1.3 2.3h-2.6zM261.4 154.4l1.3 2.3h-2.6zM321 125.1l1.3 2.3h-2.6zM327.6 144.8l1.3 2.3h-2.6zM328.5 160.4l1.3 2.3h-2.6zM278.1 146l1.3 2.3h-2.6zM327.9 129.5l1.3 2.3h-2.6zM326 146l1.3 2.3h-2.6zM336.9 150l1.3 2.3h-2.6zM350.1 98.2l1.3 2.3h-2.6zM337.8 147.9l1.3 2.3h-2.6zM272.1 135.5l1.3 2.3h-2.6zM340.8 147.9l1.3 2.3h-2.6zM320.5 143.6l1.3 2.3h-2.6zM258.4 152.8l1.3 2.3h-2.6zM262.7 149.6l1.3 2.3h-2.6zM343.8 150.5l1.3 2.3h-2.6zM316.4 150.4l1.3 2.3h-2.6zM257.6 143.7l1.3 2.3h-2.6zM321.8 165.3l1.3 2.3h-2.6zM336.2 158.6l1.3 2.3h-2.6zM274.9 128.5l1.3 2.3h-2.6zM356.5 128.8l1.3 2.3h-2.6zM328.7 158.4l1.3 2.3h-2.6zM353.5 99.3l1.3 2.3h-2.6zM251.3 148.4l1.3 2.3h-2.6zM320.5 151.8l1.3 2.3h-2.6zM314 162.9l1.3 2.3h-2.6zM335.7 141.9l1.3 2.3h-2.6zM283.3 149.7l1.3 2.3h-2.6zM318.4 153.9l1.3 2.3h-2.6zM268.7 126.9l1.3 2.3h-2.6zM265.9 131.7l1.3 2.3h-2.6zM257.6 137.9l1.3 2.3h-2.6zM263.5 142.1l1.3 2.3h-2.6zM272.6 123.4l1.3 2.3h-2.6zM334.5 148.7l1.3 2.3h-2.6zM330.5 137l1.3 2.3h-2.6zM339.7 148.2l1.3 2.3h-2.6zM307.9 129.4l1.3 2.3h-2.6zM337.9 136.1l1.3 2.3h-2.6zM348.2 128.3l1.3 2.3h-2.6zM268.2 148.6l1.3 2.3h-2.6zM343.5 150.8l1.3 2.3h-2.6zM321.5 145.2l1.3 2.3h-2.6zM253.8 126.9l1.3 2.3h-2.6zM264.8 113.6l1.3 2.3h-2.6zM325.6 142.4l1.3 2.3h-2.6zM269 150.4l1.3 2.3h-2.6zM327 137.1l1.3 2.3h-2.6zM320.3 149.5l1.3 2.3h-2.6zM265.8 133.2l1.3 2.3h-2.6zM337.7 142.3l1.3 2.3h-2.6zM256.7 122.2l1.3 2.3h-2.6zM313.2 158.9l1.3 2.3h-2.6zM340.1 153.3l1.3 2.3h-2.6zM264.8 120.4l1.3 2.3h-2.6zM349 114.9l1.3 2.3h-2.6zM273.8 154l1.3 2.3h-2.6zM315.5 146.5l1.3 2.3h-2.6zM255.4 136.6l1.3 2.3h-2.6zM332.1 152.7l1.3 2.3h-2.6zM251.9 135.2l1.3 2.3h-2.6zM257.6 160.6l1.3 2.3h-2.6zM272.4 155.6l1.3 2.3h-2.6zM324.6 152.5l1.3 2.3h-2.6zM261.7 164.5l1.3 2.3h-2.6zM339.1 142.9l1.3 2.3h-2.6zM324.2 141.5l1.3 2.3h-2.6zM304.5 147.1l1.3 2.3h-2.6zM272 124.6l1.3 2.3h-2.6zM283.2 157.8l1.3 2.3h-2.6zM332.4 123.7l1.3 2.3h-2.6zM278.9 135l1.3 2.3h-2.6zM284.4 156.8l1.3 2.3h-2.6zM280.7 156.4l1.3 2.3h-2.6zM319.8 146.2l1.3 2.3h-2.6zM312.2 157.2l1.3 2.3h-2.6zM281.6 139.4l1.3 2.3h-2.6zM326.2 162.6l1.3 2.3h-2.6zM268.9 159.5l1.3 2.3h-2.6zM318.5 129.5l1.3 2.3h-2.6zM334.7 142.3l1.3 2.3h-2.6zM273.1 136.9l1.3 2.3h-2.6zM256.5 124.2l1.3 2.3h-2.6zM338.9 139.6l1.3 2.3h-2.6zM289.8 135.8l1.3 2.3h-2.6zM264.5 133.3l1.3 2.3h-2.6zM270.2 148.7l1.3 2.3h-2.6zM266.1 147.9l1.3 2.3h-2.6zM271.5 154.1l1.3 2.3h-2.6zM265 142.7l1.3 2.3h-2.6zM318.9 147.4l1.3 2.3h-2.6zM253.5 132.3l1.3 2.3h-2.6zM335.4 143.8l1.3 2.3h-2.6zM259.4 133.7l1.3 2.3h-2.6z"/>
<path fill="#FF0A0A" d="M287.5 124.6l1.3 2.3h-2.6zM352.4 112.2l1.3 2.3h-2.6zM320.7 80.6l1.3 2.3h-2.6zM278.8 88.3l1.3 2.3h-2.6zM331 94.6l1.3 2.3h-2.6zM331.7 73l1.3 2.3h-2.6zM288.6 105.3l1.3 2.3h-2.6zM298.9 64.7l1.3 2.3h-2.6zM328.7 106.5l1.3 2.3h-2.6zM348 115.9l1.3 2.3h-2.6zM330 138.9l1.3 2.3h-2.6zM351 120.1l1.3 2.3h-2.6zM325.7 78.5l1.3 2.3h-2.6zM308.6 126.6l1.3 2.3h-2.6zM291.1 101.4l1.3 2.3h-2.6zM313.8 106l1.3 2.3h-2.6zM269.4 80.9l1.3 2.3h-2.6zM270.5 99.4l1.3 2.3h-2.6zM312.4 89.7l1.3 2.3h-2.6zM320 56.8l1.3 2.3h-2.6zM355.7 108.7l1.3 2.3h-2.6zM320.8 64.9l1.3 2.3h-2.6zM270.2 67.4l1.3 2.3h-2.6zM279.6 83.4l1.3 2.3h-2.6zM331.7 74.1l1.3 2.3h-2.6zM312.7 100.6l1.3 2.3h-2.6zM330.9 96.5l1.3 2.3h-2.6zM306.5 60.3l1.3 2.3h-2.6zM298.2 56l1.3 2.3h-2.6zM342.5 121.9l1.3 2.3h-2.6zM315.4 59.4l1.3 2.3h-2.6zM323.9 63.4l1.3 2.3h-2.6zM274.6 103.3l1.3 2.3h-2.6zM270.3 134.4l1.3 2.3h-2.6zM271.7 70.5l1.3 2.3h-2.6zM273.9 75l1.3 2.3h-2.6zM275.4 105.3l1.3 2.3h-2.6zM321 71.1l1.3 2.3h-2.6zM274.7 65.1l1.3 2.3h-2.6zM309.5 62.6l1.3 2.3h-2.6zM282.1 138.2l1.3 2.3h-2.6zM327.8 66.4l1.3 2.3h-2.6zM356.7 124.7l1.3 2.3h-2.6zM264.1 125.7l1.3 2.3h-2.6zM334 93.1l1.3 2.3h-2.6zM325.4 68.6l1.3 2.3h-2.6zM328.5 75.3l1.3 2.3h-2.6zM297.6 103.4l1.3 2.3h-2.6zM295 125.4l1.3 2.3h-2.6zM332 102.1l1.3 2.3h-2.6zM316.3 99l1.3 2.3h-2.6zM283.2 126.2l1.3 2.3h-2.6zM318.1 164.7l1.3 2.3h-2.6zM313.4 62.6l1.3 2.3h-2.6zM320.8 78.4l1.3 2.3h-2.6zM354.1 99.5l1.3 2.3h-2.6zM315.8 142.1l1.3 2.3h-2.6zM274.2 152.2l1.3 2.3h-2.6zM354.7 102.4l1.3 2.3h-2.6zM270.5 77.4l1.3 2.3h-2.6zM273.5 97.3l1.3 2.3h-2.6zM275.7 139.1l1.3 2.3h-2.6zM318.4 107l1.3 2.3h-2.6zM288.7 104.2l1.3 2.3h-2.6zM313.2 120.1l1.3 2.3h-2.6zM332.6 91.3l1.3 2.3h-2.6zM316.5 110.6l1.3 2.3h-2.6zM326.7 144.3l1.3 2.3h-2.6zM327.8 89l1.3 2.3h-2.6zM324.6 133.6l1.3 2.3h-2.6zM329.1 106.1l1.3 2.3h-2.6zM265.4 125.2l1.3 2.3h-2.6zM336.7 140.9l1.3 2.3h-2.6zM287.8 131.1l1.3 2.3h-2.6zM271.8 116l1.3 2.3h-2.6zM276.4 110l1.3 2.3h-2.6zM320.4 57.7l1.3 2.3h-2.6zM270.9 118.7l1.3 2.3h-2.6zM285.4 57.2l1.3 2.3h-2.6zM318.4 74.3l1.3 2.3h-2.6zM266.3 123.4l1.3 2.3h-2.6zM270.5 81.1l1.3 2.3h-2.6zM317.3 133l1.3 2.3h-2.6zM308.6 61.1l1.3 2.3h-2.6zM312.2 58.6l1.3 2.3h-2.6zM351.7 106.3l1.3 2.3h-2.6zM353.2 134.7l1.3 2.3h-2.6zM328 77.9l1.3 2.3h-2.6zM323.6 68.4l1.3 2.3h-2.6zM273.4 128.5l1.3 2.3h-2.6zM318.4 59.9l1.3 2.3h-2.6zM305.7 101l1.3 2.3h-2.6zM322.5 67.8l1.3 2.3h-2.6zM319.3 63l1.3 2.3h-2.6zM355 128.9l1.3 2.3h-2.6z"/>
<path fill="#0B8E3F" d="M301.8 119.2l1.3 2.3h-2.6zM313.7 112.3l1.3 2.3h-2.6zM310.3 107.9l1.3 2.3h-2.6zM277.8 143l1.3 2.3h-2.6zM279.2 152.3l1.3 2.3h-2.6zM347.8 110.2l1.3 2.3h-2.6zM316.8 83.4l1.3 2.3h-2.6zM311.5 92.5l1.3 2.3h-2.6zM323 79.4l1.3 2.3h-2.6zM349.7 138l1.3 2.3h-2.6zM283.9 91.5l1.3 2.3h-2.6zM309.9 103l1.3 2.3h-2.6zM312.4 101.1l1.3 2.3h-2.6zM285.6 78.6l1.3 2.3h-2.6zM282.5 79.9l1.3 2.3h-2.6zM324.2 130.7l1.3 2.3h-2.6zM277.5 95.1l1.3 2.3h-2.6zM324.1 88.7l1.3 2.3h-2.6zM282.4 148.1l1.3 2.3h-2.6zM284.8 62.5l1.3 2.3h-2.6zM323.6 94.5l1.3 2.3h-2.6zM278 80.3l1.3 2.3h-2.6zM288.8 95.5l1.3 2.3h-2.6zM326.3 121.1l1.3 2.3h-2.6zM316.1 84l1.3 2.3h-2.6zM258.3 120.4l1.3 2.3h-2.6zM283.5 88.1l1.3 2.3h-2.6zM335.4 108.3l1.3 2.3h-2.6zM288.2 81l1.3 2.3h-2.6zM297.3 118.5l1.3 2.3h-2.6zM353.6 111.6l1.3 2.3h-2.6zM283 62.7l1.3 2.3h-2.6zM298 98.6l1.3 2.3h-2.6zM310.2 94l1.3 2.3h-2.6zM326.8 118.9l1.3 2.3h-2.6zM277.1 156.5l1.3 2.3h-2.6zM298.7 60l1.3 2.3h-2.6zM287.3 93.4l1.3 2.3h-2.6zM262.6 128.9l1.3 2.3h-2.6zM287.9 62.4l1.3 2.3h-2.6zM287.8 98.5l1.3 2.3h-2.6zM282.6 81.9l1.3 2.3h-2.6zM318.2 83.9l1.3 2.3h-2.6zM304.6 60.2l1.3 2.3h-2.6zM296 103.3l1.3 2.3h-2.6zM279 114.3l1.3 2.3h-2.6zM275 74.3l1.3 2.3h-2.6zM255.2 153l1.3 2.3h-2.6zM305.5 100.2l1.3 2.3h-2.6zM346.7 108l1.3 2.3h-2.6zM350.7 131.4l1.3 2.3h-2.6zM280.6 136.5l1.3 2.3h-2.6zM317.9 81.1l1.3 2.3h-2.6zM353.3 114l1.3 2.3h-2.6zM257.2 154.4l1.3 2.3h-2.6zM283.1 132.7l1.3 2.3h-2.6zM352.4 98.9l1.3 2.3h-2.6zM271.8 106l1.3 2.3h-2.6zM289.8 75.8l1.3 2.3h-2.6zM256.7 137.7l1.3 2.3h-2.6zM330.3 156l1.3 2.3h-2.6zM352.6 102.7l1.3 2.3h-2.6zM317.6 68.3l1.3 2.3h-2.6zM282.7 93.2l1.3 2.3h-2.6zM275.8 140.8l1.3 2.3h-2.6zM309.1 100.9l1.3 2.3h-2.6zM319.9 100l1.3 2.3h-2.6zM314.2 62.4l1.3 2.3h-2.6zM276.3 142.8l1.3 2.3h-2.6zM280.5 137.2l1.3 2.3h-2.6zM259.6 126.2l1.3 2.3h-2.6zM266.1 124.8l1.3 2.3h-2.6zM269.3 136.3l1.3 2.3h-2.6zM270.9 112.6l1.3 2.3h-2.6zM285.1 120.8l1.3 2.3h-2.6zM329.4 158.1l1.3 2.3h-2.6zM325.4 121.2l1.3 2.3h-2.6zM274.6 142.5l1.3 2.3h-2.6zM283.7 80.4l1.3 2.3h-2.6zM311.1 100.6l1.3 2.3h-2.6zM289.6 91.9l1.3 2.3h-2.6zM266 125.8l1.3 2.3h-2.6zM269.9 145.7l1.3 2.3h-2.6zM323.8 60.2l1.3 2.3h-2.6zM289.1 67.7l1.3 2.3h-2.6zM308 91.8l1.3 2.3h-2.6zM287.3 85.2l1.3 2.3h-2.6zM285.5 74.8l1.3 2.3h-2.6zM280.2 127l1.3 2.3h-2.6zM296.5 94.8l1.3 2.3h-2.6zM314.8 61l1.3 2.3h-2.6zM286.2 62.7l1.3 2.3h-2.6zM284.6 103l1.3 2.3h-2.6zM282 120l1.3 2.3h-2.6zM347.9 130.7l1.3 2.3h-2.6zM350.3 117.5l1.3 2.3h-2.6zM260 123.8l1.3 2.3h-2.6zM319.5 92.3l1.3 2.3h-2.6zM307.5 97.2l1.3 2.3h-2.6zM260 112.1l1.3 2.3h-2.6zM303.3 60.9l1.3 2.3h-2.6zM322.2 64.2l1.3 2.3h-2.6zM314 102.7l1.3 2.3h-2.6zM318.9 95.3l1.3 2.3h-2.6zM324 114.5l1.3 2.3h-2.6zM268.1 101.5l1.3 2.3h-2.6zM304.4 103.3l1.3 2.3h-2.6zM280.3 135.4l1.3 2.3h-2.6zM306.6 98l1.3 2.3h-2.6zM276.6 145.2l1.3 2.3h-2.6zM313.7 106l1.3 2.3h-2.6zM358 110.2l1.3 2.3h-2.6zM309.1 102.7l1.3 2.3h-2.6zM290 140.9l1.3 2.3h-2.6zM307 58.5l1.3 2.3h-2.6zM304.4 89.8l1.3 2.3h-2.6zM264.5 119.8l1.3 2.3h-2.6zM285.7 70.1l1.3 2.3h-2.6zM301.9 66l1.3 2.3h-2.6zM280.3 76l1.3 2.3h-2.6zM312.4 106.8l1.3 2.3h-2.6zM289.9 114.9l1.3 2.3h-2.6zM269.3 163.9l1.3 2.3h-2.6zM303.8 105.6l1.3 2.3h-2.6zM283.4 77.3l1.3 2.3h-2.6zM275.3 95.8l1.3 2.3h-2.6zM351.1 112.8l1.3 2.3h-2.6zM300.9 96.3l1.3 2.3h-2.6zM281.6 88.1l1.3 2.3h-2.6zM283.1 130.1l1.3 2.3h-2.6zM307.3 102.6l1.3 2.3h-2.6zM357.4 108.8l1.3 2.3h-2.6zM304.3 74.4l1.3 2.3h-2.6zM283.3 121.5l1.3 2.3h-2.6zM276.6 88.9l1.3 2.3h-2.6zM267.3 104.9l1.3 2.3h-2.6zM327.1 114.7l1.3 2.3h-2.6zM355.6 117.8l1.3 2.3h-2.6zM301.8 101.6l1.3 2.3h-2.6zM279.9 59.8l1.3 2.3h-2.6zM321.5 132l1.3 2.3h-2.6zM288 116.1l1.3 2.3h-2.6zM315.1 95.2l1.3 2.3h-2.6zM325 69.7l1.3 2.3h-2.6zM340.2 118.9l1.3 2.3h-2.6zM282.1 123.6l1.3 2.3h-2.6zM313.6 145.3l1.3 2.3h-2.6zM325.1 65.8l1.3 2.3h-2.6zM275.9 61l1.3 2.3h-2.6zM284.8 97.3l1.3 2.3h-2.6z"/>
<path fill="#0B8E3F" d="M309.8 100.3l1.3 2.3h-2.6zM324.5 95.4l1.3 2.3h-2.6zM315.5 123l1.3 2.3h-2.6zM320.6 109.7l1.3 2.3h-2.6zM317.6 108.9l1.3 2.3h-2.6zM283.7 67.9l1.3 2.3h-2.6zM285.3 83.3l1.3 2.3h-2.6zM265.3 117.8l1.3 2.3h-2.6zM350.2 123l1.3 2.3h-2.6zM280.9 59.3l1.3 2.3h-2.6zM288.5 77.2l1.3 2.3h-2.6zM268.7 69.6l1.3 2.3h-2.6zM302.3 106.8l1.3 2.3h-2.6zM286.9 129.7l1.3 2.3h-2.6zM321 75.5l1.3 2.3h-2.6zM288.5 63.9l1.3 2.3h-2.6zM286.7 118.4l1.3 2.3h-2.6zM269.1 104.7l1.3 2.3h-2.6zM320.4 84.2l1.3 2.3h-2.6zM356.2 136.6l1.3 2.3h-2.6zM324.5 77.5l1.3 2.3h-2.6zM253.5 142.5l1.3 2.3h-2.6zM329.3 135.6l1.3 2.3h-2.6zM334.3 76.2l1.3 2.3h-2.6zM281.5 111.6l1.3 2.3h-2.6zM311.4 109.8l1.3 2.3h-2.6zM343.6 117.1l1.3 2.3h-2.6zM310.9 60l1.3 2.3h-2.6zM322.1 87.6l1.3 2.3h-2.6zM283 141.9l1.3 2.3h-2.6zM344 113.8l1.3 2.3h-2.6zM276 63.9l1.3 2.3h-2.6zM267.4 77.3l1.3 2.3h-2.6zM358.4 116.9l1.3 2.3h-2.6zM358.7 125.7l1.3 2.3h-2.6zM282.5 65.1l1.3 2.3h-2.6zM283.5 69.2l1.3 2.3h-2.6zM307.2 97.8l1.3 2.3h-2.6zM332.9 96.3l1.3 2.3h-2.6zM317.3 75.2l1.3 2.3h-2.6zM290.2 63.7l1.3 2.3h-2.6zM353.5 144.6l1.3 2.3h-2.6zM310.4 94.1l1.3 2.3h-2.6zM289.2 65.3l1.3 2.3h-2.6zM320.8 92.1l1.3 2.3h-2.6zM275.2 108l1.3 2.3h-2.6zM276.6 68.4l1.3 2.3h-2.6zM271.8 83l1.3 2.3h-2.6zM348 110l1.3 2.3h-2.6zM276.4 63.9l1.3 2.3h-2.6zM325 84.6l1.3 2.3h-2.6zM347.1 113.9l1.3 2.3h-2.6zM319.2 166.6l1.3 2.3h-2.6zM284.6 148.7l1.3 2.3h-2.6zM294.3 102.5l1.3 2.3h-2.6zM307.7 102.6l1.3 2.3h-2.6zM320.6 106.4l1.3 2.3h-2.6zM293.3 90.3l1.3 2.3h-2.6zM307.5 100.7l1.3 2.3h-2.6zM284.4 105.3l1.3 2.3h-2.6zM337.6 153.1l1.3 2.3h-2.6zM257 139.2l1.3 2.3h-2.6zM348.9 113l1.3 2.3h-2.6zM251.3 129.4l1.3 2.3h-2.6zM288.7 125l1.3 2.3h-2.6zM321 95.8l1.3 2.3h-2.6zM353.7 114.4l1.3 2.3h-2.6zM357.5 107.3l1.3 2.3h-2.6zM279.7 70.5l1.3 2.3h-2.6zM326.2 131.1l1.3 2.3h-2.6zM319.2 97l1.3 2.3h-2.6zM322.9 128.6l1.3 2.3h-2.6zM309.9 104.7l1.3 2.3h-2.6zM280.6 159.1l1.3 2.3h-2.6zM319.2 88.1l1.3 2.3h-2.6zM264.1 121.4l1.3 2.3h-2.6zM279.1 72.5l1.3 2.3h-2.6zM285.4 98.8l1.3 2.3h-2.6zM281.2 80.3l1.3 2.3h-2.6zM327.1 103.1l1.3 2.3h-2.6zM290.9 92.9l1.3 2.3h-2.6zM317.7 102.6l1.3 2.3h-2.6zM283 91.6l1.3 2.3h-2.6zM318.4 93.2l1.3 2.3h-2.6zM315.8 103l1.3 2.3h-2.6zM299.1 92.5l1.3 2.3h-2.6zM323.3 123.3l1.3 2.3h-2.6zM310.4 104.6l1.3 2.3h-2.6zM290.1 122.6l1.3 2.3h-2.6zM287.6 83.1l1.3 2.3h-2.6zM297.5 59.3l1.3 2.3h-2.6zM281.6 149.4l1.3 2.3h-2.6zM290.7 61.8l1.3 2.3h-2.6zM337.8 116.4l1.3 2.3h-2.6zM278.7 116l1.3 2.3h-2.6zM291.8 102.2l1.3 2.3h-2.6zM314.8 106l1.3 2.3h-2.6zM276.7 158.4l1.3 2.3h-2.6zM313.7 102.8l1.3 2.3h-2.6zM354.8 118.8l1.3 2.3h-2.6zM274 148.3l1.3 2.3h-2.6zM312.2 111l1.3 2.3h-2.6zM325.3 101.2l1.3 2.3h-2.6zM320.6 101.6l1.3 2.3h-2.6zM279.1 65.1l1.3 2.3h-2.6zM307.4 99.8l1.3 2.3h-2.6zM307.6 104.4l1.3 2.3h-2.6zM325.7 97.4l1.3 2.3h-2.6zM309.6 64.8l1.3 2.3h-2.6zM261.2 130.1l1.3 2.3h-2.6zM298.7 96.1l1.3 2.3h-2.6zM299 101.4l1.3 2.3h-2.6zM266.3 119.2l1.3 2.3h-2.6zM311.3 107.6l1.3 2.3h-2.6zM282.6 112.2l1.3 2.3h-2.6zM321.8 59.2l1.3 2.3h-2.6zM322.1 105l1.3 2.3h-2.6zM353.7 134.1l1.3 2.3h-2.6zM281.9 75.8l1.3 2.3h-2.6zM288.7 120.5l1.3 2.3h-2.6zM307 95l1.3 2.3h-2.6zM294.7 101.7l1.3 2.3h-2.6zM352.1 123.5l1.3 2.3h-2.6zM277.1 139.8l1.3 2.3h-2.6zM260 156.4l1.3 2.3h-2.6zM289.3 64.3l1.3 2.3h-2.6zM273.5 81.4l1.3 2.3h-2.6zM320.9 98l1.3 2.3h-2.6zM321.5 76.4l1.3 2.3h-2.6zM315.3 89.8l1.3 2.3h-2.6zM263.9 125.7l1.3 2.3h-2.6z"/>
<path fill="#2B3A9C" d="M349.6 119.3l1.3 2.3h-2.6zM290.5 133.6l1.3 2.3h-2.6zM274.7 134.5l1.3 2.3h-2.6zM354.9 119.8l1.3 2.3h-2.6zM270.4 155.8l1.3 2.3h-2.6zM319.6 162.2l1.3 2.3h-2.6zM333.4 148.8l1.3 2.3h-2.6zM336.2 132.1l1.3 2.3h-2.6zM259.1 158l1.3 2.3h-2.6zM349.6 139.4l1.3 2.3h-2.6zM355.1 105.4l1.3 2.3h-2.6zM280 150.9l1.3 2.3h-2.6zM359.3 109.3l1.3 2.3h-2.6zM271.5 161.6l1.3 2.3h-2.6zM253.7 124.6l1.3 2.3h-2.6zM273.7 141.7l1.3 2.3h-2.6zM278.7 159.2l1.3 2.3h-2.6zM274.7 152.6l1.3 2.3h-2.6zM330.7 142.4l1.3 2.3h-2.6zM250.2 143.4l1.3 2.3h-2.6zM262.8 155.7l1.3 2.3h-2.6zM325.2 164.1l1.3 2.3h-2.6zM317.7 130.7l1.3 2.3h-2.6zM348.9 103.1l1.3 2.3h-2.6zM322.6 162.4l1.3 2.3h-2.6zM324.3 161.2l1.3 2.3h-2.6zM322.5 153.1l1.3 2.3h-2.6zM267.1 150.8l1.3 2.3h-2.6zM255.4 135.1l1.3 2.3h-2.6zM265.8 165.8l1.3 2.3h-2.6zM341.2 142.3l1.3 2.3h-2.6zM323.1 140.1l1.3 2.3h-2.6zM308 148.2l1.3 2.3h-2.6zM312.9 156.9l1.3 2.3h-2.6zM325.8 143.9l1.3 2.3h-2.6zM330.6 154.5l1.3 2.3h-2.6zM337.4 137.1l1.3 2.3h-2.6zM322.9 138.3l1.3 2.3h-2.6zM278.8 161.2l1.3 2.3h-2.6zM325.9 140.3l1.3 2.3h-2.6zM321.1 157.6l1.3 2.3h-2.6zM333.5 150.5l1.3 2.3h-2.6zM266 162.7l1.3 2.3h-2.6zM338.1 146.5l1.3 2.3h-2.6zM287.4 147.1l1.3 2.3h-2.6zM328.7 137.1l1.3 2.3h-2.6zM335.7 147.4l1.3 2.3h-2.6zM271.7 137.8l1.3 2.3h-2.6zM302.6 129.5l1.3 2.3h-2.6zM358.2 119.3l1.3 2.3h-2.6zM356 127.2l1.3 2.3h-2.6zM259.4 129.2l1.3 2.3h-2.6zM353.5 136.4l1.3 2.3h-2.6zM332.6 136.7l1.3 2.3h-2.6zM333 137.8l1.3 2.3h-2.6zM359 133.3l1.3 2.3h-2.6zM265.2 131.5l1.3 2.3h-2.6zM263.3 154.3l1.3 2.3h-2.6zM277.8 130.7l1.3 2.3h-2.6zM341 149.1l1.3 2.3h-2.6zM271.1 152.9l1.3 2.3h-2.6zM281.9 155.2l1.3 2.3h-2.6zM270.1 130.6l1.3 2.3h-2.6zM272 158.5l1.3 2.3h-2.6zM272.6 149.3l1.3 2.3h-2.6zM333.9 151.2l1.3 2.3h-2.6zM334 146.3l1.3 2.3h-2.6zM279.3 147l1.3 2.3h-2.6zM262 160.6l1.3 2.3h-2.6zM315.5 151l1.3 2.3h-2.6zM284 155.7l1.3 2.3h-2.6zM264 148.7l1.3 2.3h-2.6zM263.7 150l1.3 2.3h-2.6zM341.1 138.4l1.3 2.3h-2.6zM264.9 160l1.3 2.3h-2.6zM277.1 143.9l1.3 2.3h-2.6zM332.5 139.6l1.3 2.3h-2.6zM332.3 155.7l1.3 2.3h-2.6zM350.8 100.6l1.3 2.3h-2.6zM314.5 141.7l1.3 2.3h-2.6zM277.1 149.8l1.3 2.3h-2.6zM250.5 138.9l1.3 2.3h-2.6zM321.6 137.1l1.3 2.3h-2.6zM266.1 152.5l1.3 2.3h-2.6zM263.1 130.8l1.3 2.3h-2.6zM270.9 128.3l1.3 2.3h-2.6zM345.9 114.3l1.3 2.3h-2.6zM320 148.7l1.3 2.3h-2.6zM357.8 136.1l1.3 2.3h-2.6zM252.2 132.2l1.3 2.3h-2.6zM338.1 149.5l1.3 2.3h-2.6zM267.3 112.1l1.3 2.3h-2.6zM320.8 133l1.3 2.3h-2.6zM257 141.8l1.3 2.3h-2.6zM312.3 160.6l1.3 2.3h-2.6zM269 156.3l1.3 2.3h-2.6zM281.5 153.6l1.3 2.3h-2.6zM334.6 160.7l1.3 2.3h-2.6zM339.5 146.3l1.3 2.3h-2.6zM329.5 149.1l1.3 2.3h-2.6zM271.2 146.5l1.3 2.3h-2.6zM271.9 145.5l1.3 2.3h-2.6zM329.2 141l1.3 2.3h-2.6zM315.7 137.2l1.3 2.3h-2.6zM356.6 119.7l1.3 2.3h-2.6zM270.1 143.5l1.3 2.3h-2.6zM332.4 160l1.3 2.3h-2.6zM269.2 128.3l1.3 2.3h-2.6zM330.7 160.4l1.3 2.3h-2.6zM255 138.9l1.3 2.3h-2.6zM337.7 138l1.3 2.3h-2.6zM259 162.1l1.3 2.3h-2.6zM350.7 136.2l1.3 2.3h-2.6zM328.3 142.9l1.3 2.3h-2.6zM297.5 81.2l1.3 2.3h-2.6zM279 149.7l1.3 2.3h-2.6z"/>
<path fill="#FF0A0A" d="M351.6 114.6l1.3 2.3h-2.6zM274.9 59.7l1.3 2.3h-2.6zM328.7 124.3l1.3 2.3h-2.6zM348.8 127.4l1.3 2.3h-2.6zM334.7 93.8l1.3 2.3h-2.6zM353.3 138.3l1.3 2.3h-2.6zM286.7 92l1.3 2.3h-2.6zM329.7 77.2l1.3 2.3h-2.6zM279.1 85.6l1.3 2.3h-2.6zM330.9 126.5l1.3 2.3h-2.6zM328 108.2l1.3 2.3h-2.6zM273.6 98.1l1.3 2.3h-2.6zM275.3 96.1l1.3 2.3h-2.6zM291 116.6l1.3 2.3h-2.6zM309.4 64.4l1.3 2.3h-2.6zM272 107.2l1.3 2.3h-2.6zM314.1 144.1l1.3 2.3h-2.6zM329.7 101.6l1.3 2.3h-2.6zM348.2 107.8l1.3 2.3h-2.6zM310.2 96.3l1.3 2.3h-2.6zM278.2 157l1.3 2.3h-2.6zM328.1 86.8l1.3 2.3h-2.6zM282.8 58.9l1.3 2.3h-2.6zM273.1 61.7l1.3 2.3h-2.6zM270.4 81.9l1.3 2.3h-2.6zM286.5 127.3l1.3 2.3h-2.6zM319.2 159.8l1.3 2.3h-2.6zM351.8 125.3l1.3 2.3h-2.6zM273.1 77.9l1.3 2.3h-2.6zM309.8 109.1l1.3 2.3h-2.6zM324.2 58.6l1.3 2.3h-2.6zM287.8 60.3l1.3 2.3h-2.6zM340.9 113.7l1.3 2.3h-2.6zM268.9 124.3l1.3 2.3h-2.6zM298.1 158.5l1.3 2.3h-2.6zM301.3 56.1l1.3 2.3h-2.6zM329.4 113.5l1.3 2.3h-2.6zM287.3 58.4l1.3 2.3h-2.6zM271.4 74.4l1.3 2.3h-2.6zM334.9 82.5l1.3 2.3h-2.6zM332.7 89.4l1.3 2.3h-2.6zM301.2 65.4l1.3 2.3h-2.6zM345.8 127.6l1.3 2.3h-2.6zM290 62.6l1.3 2.3h-2.6zM327.8 125.9l1.3 2.3h-2.6zM301.8 92.3l1.3 2.3h-2.6zM289.5 123.3l1.3 2.3h-2.6zM278.4 75.2l1.3 2.3h-2.6zM293.8 127.8l1.3 2.3h-2.6zM326.1 131.6l1.3 2.3h-2.6zM272.8 161.8l1.3 2.3h-2.6zM313.1 99.9l1.3 2.3h-2.6zM273.3 79l1.3 2.3h-2.6zM287.4 143.6l1.3 2.3h-2.6zM288.3 69l1.3 2.3h-2.6zM270.1 66.1l1.3 2.3h-2.6zM318.9 66l1.3 2.3h-2.6zM268.9 122.3l1.3 2.3h-2.6zM272.4 60.4l1.3 2.3h-2.6zM350.3 119.3l1.3 2.3h-2.6zM328.8 147.6l1.3 2.3h-2.6zM333.2 98.9l1.3 2.3h-2.6zM300.1 98.9l1.3 2.3h-2.6zM300.2 104l1.3 2.3h-2.6zM333.5 114.6l1.3 2.3h-2.6zM353.8 114l1.3 2.3h-2.6zM321.8 66.4l1.3 2.3h-2.6zM313.4 57.5l1.3 2.3h-2.6zM269.1 73.3l1.3 2.3h-2.6zM283.9 59.6l1.3 2.3h-2.6zM317.5 57.3l1.3 2.3h-2.6zM317.2 64.6l1.3 2.3h-2.6zM330.3 84.5l1.3 2.3h-2.6zM278.2 77.8l1.3 2.3h-2.6zM307.5 66.5l1.3 2.3h-2.6zM329.7 67.2l1.3 2.3h-2.6zM329 85.7l1.3 2.3h-2.6zM325.4 129.8l1.3 2.3h-2.6zM320.1 93.2l1.3 2.3h-2.6zM318.5 60.8l1.3 2.3h-2.6zM322.1 111l1.3 2.3h-2.6zM334.2 138.9l1.3 2.3h-2.6zM345 111.5l1.3 2.3h-2.6zM285.7 130.8l1.3 2.3h-2.6zM325.4 59.9l1.3 2.3h-2.6zM277.5 140.7l1.3 2.3h-2.6zM327.2 122l1.3 2.3h-2.6zM306.3 65.2l1.3 2.3h-2.6zM325.8 90.9l1.3 2.3h-2.6zM347.7 136.2l1.3 2.3h-2.6zM283.4 99l1.3 2.3h-2.6zM334.8 80.7l1.3 2.3h-2.6zM281.8 145.7l1.3 2.3h-2.6zM354.1 106.4l1.3 2.3h-2.6zM311.4 107l1.3 2.3h-2.6zM348.9 111.9l1.3 2.3h-2.6zM329.9 99.1l1.3 2.3h-2.6zM352.7 118.9l1.3 2.3h-2.6zM279.7 95.5l1.3 2.3h-2.6zM283.4 61.2l1.3 2.3h-2.6zM297.8 56.3l1.3 2.3h-2.6zM353 139.1l1.3 2.3h-2.6zM295.5 120.7l1.3 2.3h-2.6zM288.5 60.9l1.3 2.3h-2.6zM271.9 80l1.3 2.3h-2.6zM287.5 57.6l1.3 2.3h-2.6zM300.7 57.9l1.3 2.3h-2.6z"/>
<path fill="#FF0A0A" d="M320.8 133.1l1.3 2.3h-2.6zM331 68.3l1.3 2.3h-2.6zM329.4 104l1.3 2.3h-2.6zM347.4 121l1.3 2.3h-2.6zM337.6 114.5l1.3 2.3h-2.6zM290.7 123.2l1.3 2.3h-2.6zM323.2 61.9l1.3 2.3h-2.6zM324.5 71.7l1.3 2.3h-2.6zM259.1 145.6l1.3 2.3h-2.6zM307.9 100.8l1.3 2.3h-2.6zM314 62l1.3 2.3h-2.6zM346.5 129.8l1.3 2.3h-2.6zM348.1 106.2l1.3 2.3h-2.6zM256.2 126.9l1.3 2.3h-2.6zM278.3 104l1.3 2.3h-2.6zM258.5 163.5l1.3 2.3h-2.6zM307.1 96.1l1.3 2.3h-2.6zM275.3 90.5l1.3 2.3h-2.6zM296.7 57.2l1.3 2.3h-2.6zM332.4 84.5l1.3 2.3h-2.6zM351 115.9l1.3 2.3h-2.6zM314.3 96.1l1.3 2.3h-2.6zM354.4 127.2l1.3 2.3h-2.6zM308.2 104.5l1.3 2.3h-2.6zM288.1 128.2l1.3 2.3h-2.6zM269.3 84l1.3 2.3h-2.6zM265.8 116.3l1.3 2.3h-2.6zM330 77.8l1.3 2.3h-2.6zM323.2 107.4l1.3 2.3h-2.6zM274.6 119.8l1.3 2.3h-2.6zM321.8 83l1.3 2.3h-2.6zM295.3 57.8l1.3 2.3h-2.6zM330.2 89.1l1.3 2.3h-2.6zM293.6 129.3l1.3 2.3h-2.6zM264.4 106.6l1.3 2.3h-2.6zM268.1 81.9l1.3 2.3h-2.6zM292.8 121.2l1.3 2.3h-2.6zM331.7 71.4l1.3 2.3h-2.6zM329.8 88.5l1.3 2.3h-2.6zM294.4 124.4l1.3 2.3h-2.6zM276.5 96.8l1.3 2.3h-2.6zM274.4 106.9l1.3 2.3h-2.6zM344.4 117.5l1.3 2.3h-2.6zM288.5 88.8l1.3 2.3h-2.6zM272.1 71.4l1.3 2.3h-2.6zM269.6 83.2l1.3 2.3h-2.6zM265.4 106.4l1.3 2.3h-2.6zM345.6 125l1.3 2.3h-2.6zM299.1 63l1.3 2.3h-2.6zM354.4 122.3l1.3 2.3h-2.6zM267.4 69.8l1.3 2.3h-2.6zM332.9 85.7l1.3 2.3h-2.6zM328.2 68.3l1.3 2.3h-2.6zM321.9 71.2l1.3 2.3h-2.6zM274 122.7l1.3 2.3h-2.6zM281.4 94l1.3 2.3h-2.6zM264.1 111.5l1.3 2.3h-2.6zM260.5 132.8l1.3 2.3h-2.6zM269.5 78.7l1.3 2.3h-2.6zM287.1 72.7l1.3 2.3h-2.6zM331.7 99.1l1.3 2.3h-2.6zM358.6 131.3l1.3 2.3h-2.6zM341.1 122l1.3 2.3h-2.6zM329.9 91.2l1.3 2.3h-2.6zM321 60.2l1.3 2.3h-2.6zM271.7 83.1l1.3 2.3h-2.6zM280.7 78.9l1.3 2.3h-2.6zM352.3 133.2l1.3 2.3h-2.6zM327.5 130.2l1.3 2.3h-2.6zM314.6 60.5l1.3 2.3h-2.6zM329.3 90.9l1.3 2.3h-2.6zM285.6 122.9l1.3 2.3h-2.6zM295.9 81.8l1.3 2.3h-2.6zM269.4 107.4l1.3 2.3h-2.6zM268 66.9l1.3 2.3h-2.6zM261.2 155.2l1.3 2.3h-2.6zM333.6 131l1.3 2.3h-2.6zM350.4 109.8l1.3 2.3h-2.6zM290.2 58.4l1.3 2.3h-2.6zM324.5 62.2l1.3 2.3h-2.6zM277.8 104.5l1.3 2.3h-2.6zM353.7 106.2l1.3 2.3h-2.6zM354.9 126l1.3 2.3h-2.6zM319 110.8l1.3 2.3h-2.6zM334.6 125.2l1.3 2.3h-2.6zM328.3 71.6l1.3 2.3h-2.6zM272.3 162.8l1.3 2.3h-2.6zM316.2 65.8l1.3 2.3h-2.6zM266.6 130.9l1.3 2.3h-2.6zM272.6 110.1l1.3 2.3h-2.6zM318.7 58.7l1.3 2.3h-2.6zM306.7 55.7l1.3 2.3h-2.6zM312.4 88.9l1.3 2.3h-2.6zM344 120.7l1.3 2.3h-2.6zM267.5 75.1l1.3 2.3h-2.6zM333.4 72.5l1.3 2.3h-2.6zM274.8 99l1.3 2.3h-2.6zM356.4 138.2l1.3 2.3h-2.6zM258 127.6l1.3 2.3h-2.6zM333.7 90.3l1.3 2.3h-2.6zM310.7 149.3l1.3 2.3h-2.6zM289.3 71.3l1.3 2.3h-2.6zM275.1 137.8l1.3 2.3h-2.6zM268.5 91.6l1.3 2.3h-2.6zM289.8 128.3l1.3 2.3h-2.6zM321 67.9l1.3 2.3h-2.6zM279.5 75.1l1.3 2.3h-2.6zM280.1 161l1.3 2.3h-2.6z"/>
<path fill="#2B3A9C" d="M255.6 138.1l1.3 2.3h-2.6zM343.3 145.1l1.3 2.3h-2.6zM328.5 134.2l1.3 2.3h-2.6zM268.6 136.4l1.3 2.3h-2.6zM318.6 141.1l1.3 2.3h-2.6zM332 147.7l1.3 2.3h-2.6zM334.7 157.8l1.3 2.3h-2.6zM316.7 148.5l1.3 2.3h-2.6zM269 141.6l1.3 2.3h-2.6zM277.7 146.6l1.3 2.3h-2.6zM264.8 144.3l1.3 2.3h-2.6zM285.9 131.7l1.3 2.3h-2.6zM265.8 157.9l1.3 2.3h-2.6zM348.9 122l1.3 2.3h-2.6zM319.9 137.5l1.3 2.3h-2.6zM258.5 134.9l1.3 2.3h-2.6zM358.2 122.3l1.3 2.3h-2.6zM352.1 144.3l1.3 2.3h-2.6zM313.4 154.9l1.3 2.3h-2.6zM265.6 135.5l1.3 2.3h-2.6zM266.7 136l1.3 2.3h-2.6zM281.2 159.4l1.3 2.3h-2.6zM315.3 145.5l1.3 2.3h-2.6zM272.6 165.8l1.3 2.3h-2.6zM283.5 131l1.3 2.3h-2.6zM265.7 139.6l1.3 2.3h-2.6zM270.3 155l1.3 2.3h-2.6zM265.5 154l1.3 2.3h-2.6zM265.9 137.8l1.3 2.3h-2.6zM325.8 158.9l1.3 2.3h-2.6zM274.6 163.1l1.3 2.3h-2.6zM340.5 140.4l1.3 2.3h-2.6zM265 141.7l1.3 2.3h-2.6zM249.7 131.9l1.3 2.3h-2.6zM322.4 157.4l1.3 2.3h-2.6zM281.5 142.1l1.3 2.3h-2.6zM276.6 157.6l1.3 2.3h-2.6zM270.4 147.7l1.3 2.3h-2.6zM273.5 149.1l1.3 2.3h-2.6zM283.4 145.2l1.3 2.3h-2.6zM277.4 133.5l1.3 2.3h-2.6zM285.9 141.6l1.3 2.3h-2.6zM321.2 163.4l1.3 2.3h-2.6zM334.4 145.5l1.3 2.3h-2.6zM269.5 125l1.3 2.3h-2.6zM259.4 149.2l1.3 2.3h-2.6zM276.6 144.4l1.3 2.3h-2.6zM283.1 140.2l1.3 2.3h-2.6zM340.5 147.3l1.3 2.3h-2.6zM322.5 141.2l1.3 2.3h-2.6zM283.5 135.1l1.3 2.3h-2.6zM265.2 134l1.3 2.3h-2.6zM298.8 87.6l1.3 2.3h-2.6zM262.7 133l1.3 2.3h-2.6zM271.5 149.4l1.3 2.3h-2.6zM315.1 147.4l1.3 2.3h-2.6zM256.9 125.2l1.3 2.3h-2.6zM280.1 155.6l1.3 2.3h-2.6zM338.1 135.2l1.3 2.3h-2.6zM275.5 147.1l1.3 2.3h-2.6zM313.9 148.8l1.3 2.3h-2.6zM265.4 138.9l1.3 2.3h-2.6zM322.2 145.2l1.3 2.3h-2.6zM336.6 151.1l1.3 2.3h-2.6zM264.4 127.8l1.3 2.3h-2.6zM324.6 146.2l1.3 2.3h-2.6zM262.7 144.7l1.3 2.3h-2.6zM273.4 152.3l1.3 2.3h-2.6zM266.2 128.3l1.3 2.3h-2.6zM331.6 153.8l1.3 2.3h-2.6zM273.1 141.4l1.3 2.3h-2.6zM260.6 138l1.3 2.3h-2.6zM337.9 144.1l1.3 2.3h-2.6zM321.7 146.4l1.3 2.3h-2.6zM272.6 124.5l1.3 2.3h-2.6zM253.3 137l1.3 2.3h-2.6zM261.9 153.2l1.3 2.3h-2.6zM269.3 160.5l1.3 2.3h-2.6zM263 138.4l1.3 2.3h-2.6zM283 136.7l1.3 2.3h-2.6zM264.9 164.1l1.3 2.3h-2.6zM298.1 88.3l1.3 2.3h-2.6zM317.3 161.5l1.3 2.3h-2.6zM337.8 154l1.3 2.3h-2.6zM312.8 118.7l1.3 2.3h-2.6zM357.5 111.7l1.3 2.3h-2.6zM333.7 134.4l1.3 2.3h-2.6zM285.8 147.1l1.3 2.3h-2.6zM269.4 136.4l1.3 2.3h-2.6zM262.3 141.3l1.3 2.3h-2.6zM320.9 158.3l1.3 2.3h-2.6zM270.3 162.2l1.3 2.3h-2.6zM260.2 150.6l1.3 2.3h-2.6zM329.2 141.7l1.3 2.3h-2.6zM312.4 143.5l1.3 2.3h-2.6zM320 155.8l1.3 2.3h-2.6zM277.9 148.7l1.3 2.3h-2.6zM287.3 134.4l1.3 2.3h-2.6z"/>
<path fill="#0B8E3F" d="M307 104.5l1.3 2.3h-2.6zM275.1 88l1.3 2.3h-2.6zM267.9 77.4l1.3 2.3h-2.6zM259.3 136.7l1.3 2.3h-2.6zM312.3 90.6l1.3 2.3h-2.6zM277.4 71.8l1.3 2.3h-2.6zM276.4 73.9l1.3 2.3h-2.6zM322.2 116.6l1.3 2.3h-2.6zM330.8 133.3l1.3 2.3h-2.6zM279.8 76.9l1.3 2.3h-2.6zM288.1 77.3l1.3 2.3h-2.6zM355.2 134.2l1.3 2.3h-2.6zM283.2 69.5l1.3 2.3h-2.6zM280 57.9l1.3 2.3h-2.6zM341.4 115.3l1.3 2.3h-2.6zM342.4 115.4l1.3 2.3h-2.6zM320.2 97.9l1.3 2.3h-2.6zM319.1 85.2l1.3 2.3h-2.6zM319.1 102l1.3 2.3h-2.6zM295.8 106l1.3 2.3h-2.6zM280.5 150.5l1.3 2.3h-2.6zM354.7 114.1l1.3 2.3h-2.6zM324.1 80.7l1.3 2.3h-2.6zM286.6 72.6l1.3 2.3h-2.6zM316.3 86.2l1.3 2.3h-2.6zM308.2 83.6l1.3 2.3h-2.6zM355.2 124.2l1.3 2.3h-2.6zM271.9 97.3l1.3 2.3h-2.6zM317.7 78l1.3 2.3h-2.6zM268.8 110.1l1.3 2.3h-2.6zM344.4 130.2l1.3 2.3h-2.6zM270.9 125.2l1.3 2.3h-2.6zM282.9 136.2l1.3 2.3h-2.6zM332.9 81.9l1.3 2.3h-2.6zM290.5 66.5l1.3 2.3h-2.6zM272.5 95l1.3 2.3h-2.6zM315 105.3l1.3 2.3h-2.6zM347.1 111.2l1.3 2.3h-2.6zM318.1 139.5l1.3 2.3h-2.6zM279 111.9l1.3 2.3h-2.6zM314.2 64l1.3 2.3h-2.6zM354.2 130.6l1.3 2.3h-2.6zM253.9 146.2l1.3 2.3h-2.6zM336.2 109.6l1.3 2.3h-2.6zM290.3 138.6l1.3 2.3h-2.6zM323.8 82.9l1.3 2.3h-2.6zM267.7 70.8l1.3 2.3h-2.6zM319 81.8l1.3 2.3h-2.6zM286.1 136.6l1.3 2.3h-2.6zM290.7 61.9l1.3 2.3h-2.6zM282 106.4l1.3 2.3h-2.6zM326 107.9l1.3 2.3h-2.6zM330.5 82.7l1.3 2.3h-2.6zM303.8 104.3l1.3 2.3h-2.6zM330.3 126.7l1.3 2.3h-2.6zM279 74.4l1.3 2.3h-2.6zM323 73.8l1.3 2.3h-2.6zM344.3 121.4l1.3 2.3h-2.6zM317.2 91.7l1.3 2.3h-2.6zM269.6 90.9l1.3 2.3h-2.6zM290.4 70.7l1.3 2.3h-2.6zM280.3 108l1.3 2.3h-2.6zM320.3 87.7l1.3 2.3h-2.6zM292.2 59.8l1.3 2.3h-2.6zM351.8 131.4l1.3 2.3h-2.6zM259.5 117.2l1.3 2.3h-2.6zM353.8 109.1l1.3 2.3h-2.6zM351.7 95.8l1.3 2.3h-2.6zM277 67.5l1.3 2.3h-2.6zM268.6 102.7l1.3 2.3h-2.6zM279.5 60l1.3 2.3h-2.6zM277.1 77.4l1.3 2.3h-2.6zM265.4 131.1l1.3 2.3h-2.6zM316.4 103.3l1.3 2.3h-2.6zM335.5 91.5l1.3 2.3h-2.6zM281 83.4l1.3 2.3h-2.6zM263.1 115.9l1.3 2.3h-2.6zM324.7 95.3l1.3 2.3h-2.6zM272.5 91.9l1.3 2.3h-2.6zM327.1 92.2l1.3 2.3h-2.6zM324.5 107.2l1.3 2.3h-2.6zM309.7 62.2l1.3 2.3h-2.6zM314.2 92.5l1.3 2.3h-2.6zM352.7 124.7l1.3 2.3h-2.6zM320.3 94.7l1.3 2.3h-2.6zM348.6 108.2l1.3 2.3h-2.6zM291.4 112.2l1.3 2.3h-2.6zM277.2 61.5l1.3 2.3h-2.6zM323.7 97.6l1.3 2.3h-2.6zM283.2 82.7l1.3 2.3h-2.6zM323.4 109.5l1.3 2.3h-2.6zM267 149.7l1.3 2.3h-2.6zM273.1 80.7l1.3 2.3h-2.6zM290.7 94.7l1.3 2.3h-2.6zM273.8 93.2l1.3 2.3h-2.6zM316.3 152l1.3 2.3h-2.6zM253.6 151.4l1.3 2.3h-2.6zM299.2 57.8l1.3 2.3h-2.6zM329.1 127.5l1.3 2.3h-2.6zM279 79l1.3 2.3h-2.6zM300 100.7l1.3 2.3h-2.6zM284.8 85.8l1.3 2.3h-2.6zM323.4 91.4l1.3 2.3h-2.6zM286.6 113.1l1.3 2.3h-2.6zM326.9 85.7l1.3 2.3h-2.6zM272.4 93.1l1.3 2.3h-2.6zM268.2 111.6l1.3 2.3h-2.6zM319.7 121.7l1.3 2.3h-2.6zM284 67.7l1.3 2.3h-2.6zM316.5 64.5l1.3 2.3h-2.6zM268.5 94l1.3 2.3h-2.6zM313 110.9l1.3 2.3h-2.6zM257.5 159l1.3 2.3h-2.6zM325.6 108.8l1.3 2.3h-2.6zM320 85.4l1.3 2.3h-2.6zM285 96.1l1.3 2.3h-2.6zM287.2 70.6l1.3 2.3h-2.6zM283.8 55.9l1.3 2.3h-2.6zM307.9 99.2l1.3 2.3h-2.6zM323.2 89.8l1.3 2.3h-2.6zM284.7 92.3l1.3 2.3h-2.6zM311.8 105.5l1.3 2.3h-2.6zM338.9 117.3l1.3 2.3h-2.6zM315.9 105.2l1.3 2.3h-2.6zM251.4 146.2l1.3 2.3h-2.6zM261.6 129.7l1.3 2.3h-2.6zM288.4 98.4l1.3 2.3h-2.6zM257.5 134.5l1.3 2.3h-2.6zM309.9 98.2l1.3 2.3h-2.6zM315.5 103.5l1.3 2.3h-2.6zM280.4 113.2l1.3 2.3h-2.6zM275.8 63.6l1.3 2.3h-2.6zM286.5 68.7l1.3 2.3h-2.6zM359.6 130.2l1.3 2.3h-2.6zM293.3 59.9l1.3 2.3h-2.6zM324.1 100.1l1.3 2.3h-2.6zM303.3 62.8l1.3 2.3h-2.6zM268.2 148.5l1.3 2.3h-2.6zM320.6 103.4l1.3 2.3h-2.6zM289.8 67.4l1.3 2.3h-2.6zM311.7 102.9l1.3 2.3h-2.6zM271.2 95l1.3 2.3h-2.6zM308.9 103.3l1.3 2.3h-2.6zM290.5 65.1l1.3 2.3h-2.6zM289.2 69.2l1.3 2.3h-2.6zM327.1 90.8l1.3 2.3h-2.6zM256.2 120.3l1.3 2.3h-2.6zM324.5 78.6l1.3 2.3h-2.6z"/>
<path fill="#2B3A9C" d="M335.8 136.3l1.3 2.3h-2.6zM272.8 150.8l1.3 2.3h-2.6zM250.2 132.4l1.3 2.3h-2.6zM355.9 124.6l1.3 2.3h-2.6zM272.9 154.4l1.3 2.3h-2.6zM332.9 140.6l1.3 2.3h-2.6zM328.4 161.1l1.3 2.3h-2.6zM321.9 139.6l1.3 2.3h-2.6zM280.5 144.3l1.3 2.3h-2.6zM266.3 138.2l1.3 2.3h-2.6zM348.5 102l1.3 2.3h-2.6zM317.3 152.9l1.3 2.3h-2.6zM279.7 132.4l1.3 2.3h-2.6zM256 123.5l1.3 2.3h-2.6zM271.1 159.9l1.3 2.3h-2.6zM319.8 147.7l1.3 2.3h-2.6zM261.9 155.3l1.3 2.3h-2.6zM276.5 162.7l1.3 2.3h-2.6zM257.7 128.7l1.3 2.3h-2.6zM315.3 146l1.3 2.3h-2.6zM264 139.9l1.3 2.3h-2.6zM284.8 153.7l1.3 2.3h-2.6zM276.2 133.6l1.3 2.3h-2.6zM339.9 155.7l1.3 2.3h-2.6zM327.3 146.4l1.3 2.3h-2.6zM278.3 133.9l1.3 2.3h-2.6zM258.7 143.6l1.3 2.3h-2.6zM329.6 163.7l1.3 2.3h-2.6zM327.2 128.1l1.3 2.3h-2.6zM357.8 129.8l1.3 2.3h-2.6zM326.8 158.9l1.3 2.3h-2.6zM326 135.1l1.3 2.3h-2.6zM278.7 155.6l1.3 2.3h-2.6zM339.4 158.1l1.3 2.3h-2.6zM271.5 165.7l1.3 2.3h-2.6zM336.6 133l1.3 2.3h-2.6zM355.1 141.2l1.3 2.3h-2.6zM277.6 163l1.3 2.3h-2.6zM257.5 150.2l1.3 2.3h-2.6zM315.4 153l1.3 2.3h-2.6zM312.2 143.9l1.3 2.3h-2.6zM331.5 162.5l1.3 2.3h-2.6zM336.7 155.6l1.3 2.3h-2.6zM286.9 151.2l1.3 2.3h-2.6zM270.3 146.2l1.3 2.3h-2.6zM263.5 137.2l1.3 2.3h-2.6zM329.7 143.5l1.3 2.3h-2.6zM356.4 137.5l1.3 2.3h-2.6zM284.4 141.7l1.3 2.3h-2.6zM272.2 148.1l1.3 2.3h-2.6zM318.6 157.1l1.3 2.3h-2.6zM330.9 149.6l1.3 2.3h-2.6zM262.6 143.5l1.3 2.3h-2.6zM338.9 139.6l1.3 2.3h-2.6zM329.7 163.8l1.3 2.3h-2.6zM264.2 137.8l1.3 2.3h-2.6zM358.4 108l1.3 2.3h-2.6zM274.6 151.9l1.3 2.3h-2.6zM256.6 133.7l1.3 2.3h-2.6zM294.3 89.9l1.3 2.3h-2.6zM356.8 108.7l1.3 2.3h-2.6zM335 153l1.3 2.3h-2.6zM272 143.5l1.3 2.3h-2.6zM268 132.6l1.3 2.3h-2.6zM285.6 147.8l1.3 2.3h-2.6zM320.4 156.8l1.3 2.3h-2.6zM324.3 161.2l1.3 2.3h-2.6zM357.8 105.6l1.3 2.3h-2.6zM275.8 137.3l1.3 2.3h-2.6zM275.3 135.3l1.3 2.3h-2.6zM356.1 131.8l1.3 2.3h-2.6zM267.3 153.4l1.3 2.3h-2.6zM333.5 159.2l1.3 2.3h-2.6zM316.9 143.5l1.3 2.3h-2.6zM357.4 104.6l1.3 2.3h-2.6zM263.9 144.8l1.3 2.3h-2.6zM323.4 140.2l1.3 2.3h-2.6zM332.3 147.6l1.3 2.3h-2.6zM316.5 160.1l1.3 2.3h-2.6zM316.2 142.1l1.3 2.3h-2.6zM316.1 133.6l1.3 2.3h-2.6zM254.8 145.2l1.3 2.3h-2.6zM262.7 135.4l1.3 2.3h-2.6zM333.5 161.5l1.3 2.3h-2.6zM270 143.2l1.3 2.3h-2.6zM335.7 155.8l1.3 2.3h-2.6zM280.6 151.3l1.3 2.3h-2.6zM265.2 147.3l1.3 2.3h-2.6zM326.7 156.9l1.3 2.3h-2.6zM328.2 161.6l1.3 2.3h-2.6zM268.6 123.2l1.3 2.3h-2.6zM270.4 139.1l1.3 2.3h-2.6zM324.7 166.1l1.3 2.3h-2.6zM276.3 149.8l1.3 2.3h-2.6zM261.6 139.4l1.3 2.3h-2.6zM266.6 142.7l1.3 2.3h-2.6zM315.3 164.4l1.3 2.3h-2.6zM329.9 151.9l1.3 2.3h-2.6zM324.1 153.5l1.3 2.3h-2.6zM278.3 132.3l1.3 2.3h-2.6zM264.3 134.9l1.3 2.3h-2.6zM275.3 123.2l1.3 2.3h-2.6zM265.7 158.9l1.3 2.3h-2.6zM276.2 164.5l1.3 2.3h-2.6zM357 127.4l1.3 2.3h-2.6zM331.8 140.8l1.3 2.3h-2.6zM330.1 145.1l1.3 2.3h-2.6zM270.8 156.4l1.3 2.3h-2.6zM324 129l1.3 2.3h-2.6zM275.6 124l1.3 2.3h-2.6zM282.7 145.9l1.3 2.3h-2.6z"/>
<path fill="#0B8E3F" d="M269.8 91.9l1.3 2.3h-2.6zM276.1 76.2l1.3 2.3h-2.6zM348.1 122.3l1.3 2.3h-2.6zM317.3 73.7l1.3 2.3h-2.6zM360.4 125.5l1.3 2.3h-2.6zM268.4 145.5l1.3 2.3h-2.6zM355.8 130.2l1.3 2.3h-2.6zM259.3 151l1.3 2.3h-2.6zM321.8 66.7l1.3 2.3h-2.6zM274.3 70.5l1.3 2.3h-2.6zM311.4 105.4l1.3 2.3h-2.6zM318.4 87.6l1.3 2.3h-2.6zM271.6 114.3l1.3 2.3h-2.6zM315.5 109.9l1.3 2.3h-2.6zM268.8 121.6l1.3 2.3h-2.6zM256.2 145.2l1.3 2.3h-2.6zM314.5 64.3l1.3 2.3h-2.6zM311 98.9l1.3 2.3h-2.6zM287.4 81.7l1.3 2.3h-2.6zM336.3 149.2l1.3 2.3h-2.6zM281.3 62.8l1.3 2.3h-2.6zM315.9 87.4l1.3 2.3h-2.6zM254.5 141.3l1.3 2.3h-2.6zM352.8 133.9l1.3 2.3h-2.6zM280.2 125.6l1.3 2.3h-2.6zM280.9 61.2l1.3 2.3h-2.6zM313.1 96.8l1.3 2.3h-2.6zM321.7 103.8l1.3 2.3h-2.6zM284.4 102.3l1.3 2.3h-2.6zM306.4 99.8l1.3 2.3h-2.6zM280.4 74.5l1.3 2.3h-2.6zM277.1 60.9l1.3 2.3h-2.6zM285.5 64.8l1.3 2.3h-2.6zM286.3 119.7l1.3 2.3h-2.6zM320.2 69.9l1.3 2.3h-2.6zM310 104l1.3 2.3h-2.6zM285 109.1l1.3 2.3h-2.6zM279.5 72.9l1.3 2.3h-2.6zM283.4 104l1.3 2.3h-2.6zM344.3 116l1.3 2.3h-2.6zM278.5 109.1l1.3 2.3h-2.6zM334.5 133.2l1.3 2.3h-2.6zM317.8 95.1l1.3 2.3h-2.6zM269.7 94.7l1.3 2.3h-2.6zM282.2 101.3l1.3 2.3h-2.6zM263 141.8l1.3 2.3h-2.6zM332 85.5l1.3 2.3h-2.6zM263.2 127.5l1.3 2.3h-2.6zM275.6 58.4l1.3 2.3h-2.6zM256.5 133.5l1.3 2.3h-2.6zM309.4 93l1.3 2.3h-2.6zM288.4 102.7l1.3 2.3h-2.6zM276.1 85.6l1.3 2.3h-2.6zM318 88.8l1.3 2.3h-2.6zM286.5 102.8l1.3 2.3h-2.6zM287.7 109.7l1.3 2.3h-2.6zM295.7 61.1l1.3 2.3h-2.6zM345.6 132.2l1.3 2.3h-2.6zM341.3 119.4l1.3 2.3h-2.6zM253.3 149.7l1.3 2.3h-2.6zM278.9 69.3l1.3 2.3h-2.6zM323.3 98.7l1.3 2.3h-2.6zM302.8 57.8l1.3 2.3h-2.6zM298.7 60.3l1.3 2.3h-2.6zM259.1 139.4l1.3 2.3h-2.6zM333.7 132.6l1.3 2.3h-2.6zM323.3 92l1.3 2.3h-2.6zM351.1 129.2l1.3 2.3h-2.6zM280.4 140.2l1.3 2.3h-2.6zM274.4 94.2l1.3 2.3h-2.6zM251.8 142l1.3 2.3h-2.6zM282.7 75.7l1.3 2.3h-2.6zM308.4 96.3l1.3 2.3h-2.6zM325.3 98.5l1.3 2.3h-2.6zM338.1 110.8l1.3 2.3h-2.6zM325.4 107.2l1.3 2.3h-2.6zM287.9 138l1.3 2.3h-2.6zM260.4 158.9l1.3 2.3h-2.6zM323.3 165.3l1.3 2.3h-2.6zM315 98.2l1.3 2.3h-2.6zM283.8 81.2l1.3 2.3h-2.6zM277.5 83.4l1.3 2.3h-2.6zM314.2 107.9l1.3 2.3h-2.6zM283.6 116l1.3 2.3h-2.6zM278.8 118l1.3 2.3h-2.6zM285.1 76.8l1.3 2.3h-2.6zM335.8 128.4l1.3 2.3h-2.6zM312.2 93.4l1.3 2.3h-2.6zM253.5 150.5l1.3 2.3h-2.6zM332.4 130.5l1.3 2.3h-2.6zM322.1 103.1l1.3 2.3h-2.6zM288.6 74.5l1.3 2.3h-2.6zM319.3 108.2l1.3 2.3h-2.6zM320.4 120.1l1.3 2.3h-2.6zM320.1 92.7l1.3 2.3h-2.6zM315.2 93.9l1.3 2.3h-2.6zM328.6 154.4l1.3 2.3h-2.6zM280.4 56.8l1.3 2.3h-2.6zM279.8 120.5l1.3 2.3h-2.6zM273.4 145.1l1.3 2.3h-2.6zM290.5 119.5l1.3 2.3h-2.6zM349 120l1.3 2.3h-2.6zM309.3 99.3l1.3 2.3h-2.6zM302.8 105.3l1.3 2.3h-2.6zM279.8 124.1l1.3 2.3h-2.6zM252.5 127.9l1.3 2.3h-2.6zM285.8 79.8l1.3 2.3h-2.6zM277.6 147.3l1.3 2.3h-2.6zM283 128l1.3 2.3h-2.6zM348.5 119.1l1.3 2.3h-2.6zM257.2 142.6l1.3 2.3h-2.6zM341.9 118l1.3 2.3h-2.6zM281.8 101.8l1.3 2.3h-2.6zM270.1 117.7l1.3 2.3h-2.6zM285.3 62l1.3 2.3h-2.6zM253.1 149.2l1.3 2.3h-2.6zM262.8 108.4l1.3 2.3h-2.6zM269 129.1l1.3 2.3h-2.6zM277.9 92.5l1.3 2.3h-2.6zM290.8 115.6l1.3 2.3h-2.6zM340.2 112.9l1.3 2.3h-2.6zM327.2 69.6l1.3 2.3h-2.6zM278.3 73.9l1.3 2.3h-2.6zM272.1 111.9l1.3 2.3h-2.6zM326.1 65.5l1.3 2.3h-2.6zM251.8 126.2l1.3 2.3h-2.6zM315 96.6l1.3 2.3h-2.6zM264.4 153l1.3 2.3h-2.6zM279.2 67.6l1.3 2.3h-2.6zM255.9 129.5l1.3 2.3h-2.6zM347.2 135.3l1.3 2.3h-2.6zM309.5 99.7l1.3 2.3h-2.6zM333.7 85.9l1.3 2.3h-2.6zM321.9 86.7l1.3 2.3h-2.6zM312.7 107.7l1.3 2.3h-2.6zM322.6 78.9l1.3 2.3h-2.6zM266.9 115.2l1.3 2.3h-2.6z"/>
<path fill="#FF0A0A" d="M288.9 61.5l1.3 2.3h-2.6zM335.7 83.4l1.3 2.3h-2.6zM280 105.9l1.3 2.3h-2.6zM331.5 137.5l1.3 2.3h-2.6zM331.4 74.6l1.3 2.3h-2.6zM329.3 79.7l1.3 2.3h-2.6zM326 104l1.3 2.3h-2.6zM287.3 118.9l1.3 2.3h-2.6zM332.4 93.6l1.3 2.3h-2.6zM328.1 98.9l1.3 2.3h-2.6zM293.9 123.4l1.3 2.3h-2.6zM275.2 121.3l1.3 2.3h-2.6zM297.4 59.2l1.3 2.3h-2.6zM358.2 127.5l1.3 2.3h-2.6zM310.9 65.9l1.3 2.3h-2.6zM313.7 108.1l1.3 2.3h-2.6zM287.8 57.5l1.3 2.3h-2.6zM328.7 67.7l1.3 2.3h-2.6zM320.8 88.4l1.3 2.3h-2.6zM283.6 105.5l1.3 2.3h-2.6zM341.1 154.6l1.3 2.3h-2.6zM334.3 85.6l1.3 2.3h-2.6zM330.2 102.6l1.3 2.3h-2.6zM258.6 148.5l1.3 2.3h-2.6zM329.9 84.5l1.3 2.3h-2.6zM266.8 123.1l1.3 2.3h-2.6zM263.6 113.4l1.3 2.3h-2.6zM312.1 62.3l1.3 2.3h-2.6zM294.6 123.9l1.3 2.3h-2.6zM325.4 125.5l1.3 2.3h-2.6zM270.2 65.3l1.3 2.3h-2.6zM257.7 122l1.3 2.3h-2.6zM274 101.3l1.3 2.3h-2.6zM282.5 98.1l1.3 2.3h-2.6zM277.2 85.3l1.3 2.3h-2.6zM270.2 105.3l1.3 2.3h-2.6zM352.8 132.8l1.3 2.3h-2.6zM316.7 60l1.3 2.3h-2.6zM321.6 121.1l1.3 2.3h-2.6zM312.3 103.2l1.3 2.3h-2.6zM328.3 79.2l1.3 2.3h-2.6zM313.6 58l1.3 2.3h-2.6zM322.3 115.9l1.3 2.3h-2.6zM334.5 81.5l1.3 2.3h-2.6zM329.8 89.1l1.3 2.3h-2.6zM316 63.5l1.3 2.3h-2.6zM289.4 62.6l1.3 2.3h-2.6zM330.9 86.7l1.3 2.3h-2.6zM291.1 102.2l1.3 2.3h-2.6zM326.8 82l1.3 2.3h-2.6zM339 116.2l1.3 2.3h-2.6zM328.9 86.6l1.3 2.3h-2.6zM280.9 151.6l1.3 2.3h-2.6zM329.5 114.1l1.3 2.3h-2.6zM333.6 71.3l1.3 2.3h-2.6zM271.8 66l1.3 2.3h-2.6zM314.4 116.7l1.3 2.3h-2.6zM309.9 55.8l1.3 2.3h-2.6zM273 70.8l1.3 2.3h-2.6zM331 77.9l1.3 2.3h-2.6zM324.8 73.6l1.3 2.3h-2.6zM286.5 106.5l1.3 2.3h-2.6zM322.2 64.8l1.3 2.3h-2.6zM328.7 80.4l1.3 2.3h-2.6zM259.2 119.9l1.3 2.3h-2.6zM315.1 155.7l1.3 2.3h-2.6zM289.7 101.7l1.3 2.3h-2.6zM261.6 117.5l1.3 2.3h-2.6zM328.8 87.7l1.3 2.3h-2.6zM328.4 96.4l1.3 2.3h-2.6zM322.2 84.1l1.3 2.3h-2.6zM350 142.2l1.3 2.3h-2.6zM292.8 108.5l1.3 2.3h-2.6zM283.4 85.6l1.3 2.3h-2.6zM320.9 108.6l1.3 2.3h-2.6zM318.7 91.1l1.3 2.3h-2.6zM327.8 106l1.3 2.3h-2.6zM284.2 93.2l1.3 2.3h-2.6zM323.7 107l1.3 2.3h-2.6zM274.5 78.5l1.3 2.3h-2.6zM287.5 122.8l1.3 2.3h-2.6zM283.8 73.3l1.3 2.3h-2.6zM325.7 86.7l1.3 2.3h-2.6zM270.2 76.4l1.3 2.3h-2.6zM292.1 59.1l1.3 2.3h-2.6zM285.4 143.2l1.3 2.3h-2.6zM267 74.3l1.3 2.3h-2.6zM262.5 151.9l1.3 2.3h-2.6zM283.9 151.8l1.3 2.3h-2.6zM275.2 84l1.3 2.3h-2.6zM281.8 65.4l1.3 2.3h-2.6zM304.7 56.2l1.3 2.3h-2.6zM295.9 63.6l1.3 2.3h-2.6zM331.6 70.6l1.3 2.3h-2.6zM270.1 106.8l1.3 2.3h-2.6zM271.5 109.2l1.3 2.3h-2.6zM330.6 131.7l1.3 2.3h-2.6zM335.3 86l1.3 2.3h-2.6zM329.6 74.9l1.3 2.3h-2.6zM327.9 83.4l1.3 2.3h-2.6zM285.5 89.7l1.3 2.3h-2.6zM278.9 109.6l1.3 2.3h-2.6zM298.9 99.4l1.3 2.3h-2.6zM329.2 104.5l1.3 2.3h-2.6zM272.5 105l1.3 2.3h-2.6zM290.6 121l1.3 2.3h-2.6z"/>
<path fill="#FF0A0A" d="M292.9 109.5l1.3 2.3h-2.6zM270.5 107.7l1.3 2.3h-2.6zM333.2 127l1.3 2.3h-2.6zM268.5 127.6l1.3 2.3h-2.6zM271.9 65l1.3 2.3h-2.6zM268 81.3l1.3 2.3h-2.6zM273.8 72.6l1.3 2.3h-2.6zM332.5 100.8l1.3 2.3h-2.6zM314.8 57.9l1.3 2.3h-2.6zM328 72.8l1.3 2.3h-2.6zM351.2 142.6l1.3 2.3h-2.6zM350.6 98l1.3 2.3h-2.6zM263.5 114.7l1.3 2.3h-2.6zM272.6 76.6l1.3 2.3h-2.6zM311.8 58.5l1.3 2.3h-2.6zM287.4 132l1.3 2.3h-2.6zM254.9 124.9l1.3 2.3h-2.6zM332.3 115.2l1.3 2.3h-2.6zM281 68.9l1.3 2.3h-2.6zM331.5 110.9l1.3 2.3h-2.6zM271.9 73.1l1.3 2.3h-2.6zM276.9 98.5l1.3 2.3h-2.6zM344 124.6l1.3 2.3h-2.6zM341.1 151.5l1.3 2.3h-2.6zM344.3 123.8l1.3 2.3h-2.6zM322.7 155.5l1.3 2.3h-2.6zM350.6 123.8l1.3 2.3h-2.6zM327.5 82.4l1.3 2.3h-2.6zM265.4 151.5l1.3 2.3h-2.6zM360.3 128.1l1.3 2.3h-2.6zM355.6 111l1.3 2.3h-2.6zM348.2 129.7l1.3 2.3h-2.6zM323.5 66.6l1.3 2.3h-2.6zM267.9 108.2l1.3 2.3h-2.6zM317.2 81.9l1.3 2.3h-2.6zM333.3 79.2l1.3 2.3h-2.6zM277.7 56.3l1.3 2.3h-2.6zM268.8 74l1.3 2.3h-2.6zM270.3 123.4l1.3 2.3h-2.6zM322 122.2l1.3 2.3h-2.6zM286.6 77l1.3 2.3h-2.6zM260.4 125.7l1.3 2.3h-2.6zM259.8 120.2l1.3 2.3h-2.6zM340.6 115l1.3 2.3h-2.6zM318.4 95.4l1.3 2.3h-2.6zM359.9 129.1l1.3 2.3h-2.6zM277.9 84.1l1.3 2.3h-2.6zM322.7 94.7l1.3 2.3h-2.6zM324.4 69.7l1.3 2.3h-2.6zM270.7 79.5l1.3 2.3h-2.6zM325.9 69.4l1.3 2.3h-2.6zM316.1 85.2l1.3 2.3h-2.6zM293.9 64.3l1.3 2.3h-2.6zM294.2 128.1l1.3 2.3h-2.6zM267.4 80.1l1.3 2.3h-2.6zM264.6 161.2l1.3 2.3h-2.6zM278.3 96.5l1.3 2.3h-2.6zM288.5 60.8l1.3 2.3h-2.6zM276.3 103.2l1.3 2.3h-2.6zM307 94.4l1.3 2.3h-2.6zM276.1 94.5l1.3 2.3h-2.6zM294.2 113.5l1.3 2.3h-2.6zM306.4 160.2l1.3 2.3h-2.6zM317.4 132.7l1.3 2.3h-2.6zM281.4 83.4l1.3 2.3h-2.6zM265.3 108.5l1.3 2.3h-2.6zM355.5 111.5l1.3 2.3h-2.6zM320.7 142.3l1.3 2.3h-2.6zM272.6 100l1.3 2.3h-2.6zM317.6 157.1l1.3 2.3h-2.6zM274 157.8l1.3 2.3h-2.6zM295.3 74.2l1.3 2.3h-2.6zM316.1 58.2l1.3 2.3h-2.6zM281.6 69.4l1.3 2.3h-2.6zM351.7 134.1l1.3 2.3h-2.6zM307.5 95.2l1.3 2.3h-2.6zM263.8 117.6l1.3 2.3h-2.6zM285.6 142.7l1.3 2.3h-2.6zM274.5 81.9l1.3 2.3h-2.6zM358.2 119.2l1.3 2.3h-2.6zM262.1 123.3l1.3 2.3h-2.6zM281.3 61.6l1.3 2.3h-2.6zM326.9 75.1l1.3 2.3h-2.6zM314.7 101.2l1.3 2.3h-2.6zM354.3 120l1.3 2.3h-2.6zM326 80.8l1.3 2.3h-2.6zM333.3 117.2l1.3 2.3h-2.6zM346.5 127.4l1.3 2.3h-2.6zM351.9 123.3l1.3 2.3h-2.6zM293.3 121.8l1.3 2.3h-2.6zM358.8 125.9l1.3 2.3h-2.6zM294.9 57.3l1.3 2.3h-2.6zM288.8 100.1l1.3 2.3h-2.6zM289.1 118.8l1.3 2.3h-2.6zM324.6 74.1l1.3 2.3h-2.6zM347.4 133.7l1.3 2.3h-2.6zM323 95.9l1.3 2.3h-2.6zM313.8 105.9l1.3 2.3h-2.6zM302.6 59.7l1.3 2.3h-2.6zM311.6 129.8l1.3 2.3h-2.6zM311.9 93.2l1.3 2.3h-2.6zM265.1 128.9l1.3 2.3h-2.6zM357.4 123.2l1.3 2.3h-2.6zM284.8 116.2l1.3 2.3h-2.6zM330.8 79.6l1.3 2.3h-2.6zM355.7 128.1l1.3 2.3h-2.6zM274.6 64.3l1.3 2.3h-2.6zM273 67l1.3 2.3h-2.6zM274.1 128.3l1.3 2.3h-2.6zM341.7 146l1.3 2.3h-2.6z"/>
<path fill="#0B8E3F" d="M266.9 110.9l1.3 2.3h-2.6zM287.1 69.7l1.3 2.3h-2.6zM256.2 147.7l1.3 2.3h-2.6zM322 60.6l1.3 2.3h-2.6zM353.7 132.8l1.3 2.3h-2.6zM322.9 123.8l1.3 2.3h-2.6zM272.8 85.4l1.3 2.3h-2.6zM318.6 99.1l1.3 2.3h-2.6zM279.3 100l1.3 2.3h-2.6zM284.4 69.5l1.3 2.3h-2.6zM279.5 62.1l1.3 2.3h-2.6zM315.9 95.4l1.3 2.3h-2.6zM311.4 109.6l1.3 2.3h-2.6zM279.2 78.7l1.3 2.3h-2.6zM270.8 64.7l1.3 2.3h-2.6zM284.3 57.1l1.3 2.3h-2.6zM325.4 100.1l1.3 2.3h-2.6zM280.1 65.7l1.3 2.3h-2.6zM318.4 106.3l1.3 2.3h-2.6zM265.7 146.4l1.3 2.3h-2.6zM342.2 125.9l1.3 2.3h-2.6zM265.4 105.7l1.3 2.3h-2.6zM257.1 127.4l1.3 2.3h-2.6zM262.2 111.5l1.3 2.3h-2.6zM286.6 70.7l1.3 2.3h-2.6zM262.8 139.5l1.3 2.3h-2.6zM306.3 83.5l1.3 2.3h-2.6zM331.7 71.3l1.3 2.3h-2.6zM283.4 156.5l1.3 2.3h-2.6zM322.6 130.4l1.3 2.3h-2.6zM284.3 101.3l1.3 2.3h-2.6zM251.5 134.1l1.3 2.3h-2.6zM288.8 79.7l1.3 2.3h-2.6zM288.8 70.5l1.3 2.3h-2.6zM329.2 107.4l1.3 2.3h-2.6zM281.7 132l1.3 2.3h-2.6zM290.9 105l1.3 2.3h-2.6zM284.2 120.6l1.3 2.3h-2.6zM326.6 80.3l1.3 2.3h-2.6zM267.1 126.6l1.3 2.3h-2.6zM270 85.4l1.3 2.3h-2.6zM276.2 79.6l1.3 2.3h-2.6zM354.2 108l1.3 2.3h-2.6zM266.7 114.2l1.3 2.3h-2.6zM263.1 132.1l1.3 2.3h-2.6zM261.2 121.1l1.3 2.3h-2.6zM277.3 58l1.3 2.3h-2.6zM320.3 81.2l1.3 2.3h-2.6zM268.6 157.9l1.3 2.3h-2.6zM316.3 60.8l1.3 2.3h-2.6zM318.1 121.4l1.3 2.3h-2.6zM325.1 82.3l1.3 2.3h-2.6zM304 106.4l1.3 2.3h-2.6zM280.1 109.4l1.3 2.3h-2.6zM332.7 89.1l1.3 2.3h-2.6zM312.1 94l1.3 2.3h-2.6zM254.1 151.1l1.3 2.3h-2.6zM310.2 107.2l1.3 2.3h-2.6zM324.5 112l1.3 2.3h-2.6zM303.2 100.5l1.3 2.3h-2.6zM278.7 90.7l1.3 2.3h-2.6zM338.8 111.2l1.3 2.3h-2.6zM310.1 97.1l1.3 2.3h-2.6zM322.7 97.5l1.3 2.3h-2.6zM282.6 65.6l1.3 2.3h-2.6zM272.9 111.7l1.3 2.3h-2.6zM321.7 160.3l1.3 2.3h-2.6zM325.9 128.8l1.3 2.3h-2.6zM281.2 122.5l1.3 2.3h-2.6zM274.2 75.9l1.3 2.3h-2.6zM284.5 74.5l1.3 2.3h-2.6zM294.9 92.3l1.3 2.3h-2.6zM322.2 85.8l1.3 2.3h-2.6zM251 134.1l1.3 2.3h-2.6zM259.5 117.7l1.3 2.3h-2.6zM271.2 84.2l1.3 2.3h-2.6zM316.5 67l1.3 2.3h-2.6zM300.8 100.7l1.3 2.3h-2.6zM299.1 90l1.3 2.3h-2.6zM290.4 70.9l1.3 2.3h-2.6zM352.7 107.6l1.3 2.3h-2.6zM348.6 138.8l1.3 2.3h-2.6zM289 93.5l1.3 2.3h-2.6zM321.1 135.1l1.3 2.3h-2.6zM281.7 144l1.3 2.3h-2.6zM326.7 100.6l1.3 2.3h-2.6zM273.4 159.8l1.3 2.3h-2.6zM262.1 147.2l1.3 2.3h-2.6zM344.8 117.7l1.3 2.3h-2.6zM316.3 109.4l1.3 2.3h-2.6zM316.8 92.7l1.3 2.3h-2.6zM354.6 138l1.3 2.3h-2.6zM350.5 126l1.3 2.3h-2.6zM318.1 107.6l1.3 2.3h-2.6zM332 132.5l1.3 2.3h-2.6zM268.6 165l1.3 2.3h-2.6zM315.9 83.3l1.3 2.3h-2.6zM323.8 106.6l1.3 2.3h-2.6zM318.8 79.4l1.3 2.3h-2.6zM257.5 124.5l1.3 2.3h-2.6zM270.7 123l1.3 2.3h-2.6zM281.6 89.7l1.3 2.3h-2.6zM325.2 76.1l1.3 2.3h-2.6zM261.6 135l1.3 2.3h-2.6zM267.2 108.6l1.3 2.3h-2.6zM254.8 138.6l1.3 2.3h-2.6zM290.4 95.1l1.3 2.3h-2.6zM288.7 72.1l1.3 2.3h-2.6zM317.2 112.1l1.3 2.3h-2.6zM323.2 106l1.3 2.3h-2.6zM302.1 100.6l1.3 2.3h-2.6zM285.3 62.4l1.3 2.3h-2.6zM255.1 146.1l1.3 2.3h-2.6zM323.2 108.5l1.3 2.3h-2.6zM315.7 155.8l1.3 2.3h-2.6zM279.7 122.1l1.3 2.3h-2.6zM321.9 133.2l1.3 2.3h-2.6zM286.7 92l1.3 2.3h-2.6zM300.8 89.9l1.3 2.3h-2.6zM320.6 80l1.3 2.3h-2.6zM282.4 73.8l1.3 2.3h-2.6zM316.2 107.2l1.3 2.3h-2.6zM272.1 126.9l1.3 2.3h-2.6zM322.1 127l1.3 2.3h-2.6zM287.9 114.1l1.3 2.3h-2.6zM342.9 126.6l1.3 2.3h-2.6zM343.9 121.7l1.3 2.3h-2.6zM281.7 72.7l1.3 2.3h-2.6zM282.5 61.4l1.3 2.3h-2.6zM286.7 109l1.3 2.3h-2.6zM356.8 116.1l1.3 2.3h-2.6zM350.6 120.6l1.3 2.3h-2.6zM327.4 132.2l1.3 2.3h-2.6zM319.7 104.1l1.3 2.3h-2.6zM284.8 95.8l1.3 2.3h-2.6z"/>
<path fill="#2B3A9C" d="M319.2 152.2l1.3 2.3h-2.6zM259.1 135.2l1.3 2.3h-2.6zM325.5 149.3l1.3 2.3h-2.6zM328.2 139.8l1.3 2.3h-2.6zM320.1 154l1.3 2.3h-2.6zM266.8 106.5l1.3 2.3h-2.6zM250.6 130.1l1.3 2.3h-2.6zM356.1 100.7l1.3 2.3h-2.6zM350.7 97.9l1.3 2.3h-2.6zM275 138.6l1.3 2.3h-2.6zM261.6 155.2l1.3 2.3h-2.6zM355.8 133.5l1.3 2.3h-2.6zM323.6 161l1.3 2.3h-2.6zM342.1 152.3l1.3 2.3h-2.6zM288.7 140.1l1.3 2.3h-2.6zM270.5 131.2l1.3 2.3h-2.6zM281 153.7l1.3 2.3h-2.6zM337 145.3l1.3 2.3h-2.6zM284.8 153.8l1.3 2.3h-2.6zM279.9 139.4l1.3 2.3h-2.6zM330.6 126.2l1.3 2.3h-2.6zM258.2 122.5l1.3 2.3h-2.6zM326.9 135.4l1.3 2.3h-2.6zM313.7 163l1.3 2.3h-2.6zM325.8 146.8l1.3 2.3h-2.6zM333.1 154.4l1.3 2.3h-2.6zM263.6 152.3l1.3 2.3h-2.6zM314.7 156.2l1.3 2.3h-2.6zM261 133.7l1.3 2.3h-2.6zM334.7 149.3l1.3 2.3h-2.6zM279.7 161.9l1.3 2.3h-2.6zM329.7 122.4l1.3 2.3h-2.6zM270.5 145l1.3 2.3h-2.6zM338.8 155.5l1.3 2.3h-2.6zM285.2 155.3l1.3 2.3h-2.6zM314.8 152.3l1.3 2.3h-2.6zM266.7 164.3l1.3 2.3h-2.6zM269.1 138.8l1.3 2.3h-2.6zM318.1 136.7l1.3 2.3h-2.6zM278.5 158.1l1.3 2.3h-2.6zM267.4 140.2l1.3 2.3h-2.6zM269.3 154.4l1.3 2.3h-2.6zM274.2 124.2l1.3 2.3h-2.6zM265.6 140.3l1.3 2.3h-2.6zM317.8 155.8l1.3 2.3h-2.6zM316.6 133.8l1.3 2.3h-2.6zM339.6 143.3l1.3 2.3h-2.6zM323.1 164.5l1.3 2.3h-2.6zM256.9 140.4l1.3 2.3h-2.6zM313.5 153.8l1.3 2.3h-2.6zM331.8 155.3l1.3 2.3h-2.6zM288.5 136.6l1.3 2.3h-2.6zM282.9 143l1.3 2.3h-2.6zM322.7 131.7l1.3 2.3h-2.6zM322.7 135.6l1.3 2.3h-2.6zM256.1 127.5l1.3 2.3h-2.6zM329.8 138.1l1.3 2.3h-2.6zM262.7 164.5l1.3 2.3h-2.6zM328.5 146.6l1.3 2.3h-2.6zM324.8 138.3l1.3 2.3h-2.6zM316.7 158.2l1.3 2.3h-2.6zM278.9 140.9l1.3 2.3h-2.6zM265.8 143.5l1.3 2.3h-2.6zM260.7 140.8l1.3 2.3h-2.6zM323.6 137.7l1.3 2.3h-2.6zM333.6 134.8l1.3 2.3h-2.6zM356 122.3l1.3 2.3h-2.6zM260 138.9l1.3 2.3h-2.6zM258.9 132l1.3 2.3h-2.6zM260.3 142.7l1.3 2.3h-2.6zM334.7 158.4l1.3 2.3h-2.6zM335.8 134.6l1.3 2.3h-2.6zM326.2 151.5l1.3 2.3h-2.6zM329.9 155.4l1.3 2.3h-2.6zM259.8 136.3l1.3 2.3h-2.6zM353.9 143.1l1.3 2.3h-2.6zM322.8 158.9l1.3 2.3h-2.6zM342 141.9l1.3 2.3h-2.6zM274.4 133.7l1.3 2.3h-2.6zM317 134.3l1.3 2.3h-2.6zM318.5 141l1.3 2.3h-2.6zM314.6 150.2l1.3 2.3h-2.6zM265.6 130.5l1.3 2.3h-2.6zM260.3 143.5l1.3 2.3h-2.6zM324.5 122.9l1.3 2.3h-2.6zM285.6 144.3l1.3 2.3h-2.6zM258 158.1l1.3 2.3h-2.6zM262.2 114.3l1.3 2.3h-2.6zM271.6 139.6l1.3 2.3h-2.6zM268.6 139.4l1.3 2.3h-2.6zM270.6 143.9l1.3 2.3h-2.6zM257.1 136.5l1.3 2.3h-2.6zM266.5 163.2l1.3 2.3h-2.6zM340.9 139.8l1.3 2.3h-2.6zM268 162.1l1.3 2.3h-2.6zM267.3 146.6l1.3 2.3h-2.6zM270.7 158.7l1.3 2.3h-2.6zM336 133.1l1.3 2.3h-2.6zM360.6 121.4l1.3 2.3h-2.6zM336 127.7l1.3 2.3h-2.6zM358.1 113.8l1.3 2.3h-2.6zM327.6 165.8l1.3 2.3h-2.6zM267.2 130.8l1.3 2.3h-2.6zM335.4 138.4l1.3 2.3h-2.6zM339.7 136.9l1.3 2.3h-2.6zM336.7 158.5l1.3 2.3h-2.6zM262.1 124.4l1.3 2.3h-2.6zM252.3 147.2l1.3 2.3h-2.6zM277.6 137.7l1.3 2.3h-2.6z"/>
<path fill="#0B8E3F" d="M324.2 102.2l1.3 2.3h-2.6zM281.3 71.6l1.3 2.3h-2.6zM303.4 154.1l1.3 2.3h-2.6zM287.2 114l1.3 2.3h-2.6zM316.3 66.2l1.3 2.3h-2.6zM328.3 116.5l1.3 2.3h-2.6zM256 149.8l1.3 2.3h-2.6zM318.9 136.9l1.3 2.3h-2.6zM316.6 107.2l1.3 2.3h-2.6zM320.7 106.3l1.3 2.3h-2.6zM342.4 142.5l1.3 2.3h-2.6zM282.7 117.8l1.3 2.3h-2.6zM305.3 66l1.3 2.3h-2.6zM259.9 112.5l1.3 2.3h-2.6zM323.4 74.8l1.3 2.3h-2.6zM272.5 86.6l1.3 2.3h-2.6zM326.5 122.4l1.3 2.3h-2.6zM271 96.1l1.3 2.3h-2.6zM262.2 157l1.3 2.3h-2.6zM287.8 59.2l1.3 2.3h-2.6zM319 98.3l1.3 2.3h-2.6zM273.3 89.6l1.3 2.3h-2.6zM272.4 88.4l1.3 2.3h-2.6zM287.7 62.4l1.3 2.3h-2.6zM251.4 131.8l1.3 2.3h-2.6zM289.2 58.1l1.3 2.3h-2.6zM289.3 60.4l1.3 2.3h-2.6zM307 105.5l1.3 2.3h-2.6zM275.2 161l1.3 2.3h-2.6zM301.5 104.7l1.3 2.3h-2.6zM268.2 118.3l1.3 2.3h-2.6zM320.7 104.2l1.3 2.3h-2.6zM269.5 117.1l1.3 2.3h-2.6zM274.9 118.7l1.3 2.3h-2.6zM286.8 110l1.3 2.3h-2.6zM252.7 136.8l1.3 2.3h-2.6zM325.7 79.1l1.3 2.3h-2.6zM250.6 129.3l1.3 2.3h-2.6zM280.1 78.6l1.3 2.3h-2.6zM273.7 119.2l1.3 2.3h-2.6zM270.2 133.6l1.3 2.3h-2.6zM326 101.6l1.3 2.3h-2.6zM316 88.2l1.3 2.3h-2.6zM324.2 89l1.3 2.3h-2.6zM302.7 92.5l1.3 2.3h-2.6zM347.6 104.8l1.3 2.3h-2.6zM274.2 76.1l1.3 2.3h-2.6zM325.8 107.1l1.3 2.3h-2.6zM298.4 100.6l1.3 2.3h-2.6zM341.9 115.2l1.3 2.3h-2.6zM353 140.7l1.3 2.3h-2.6zM290.2 116.4l1.3 2.3h-2.6zM272.6 105.1l1.3 2.3h-2.6zM275.7 126.5l1.3 2.3h-2.6zM277.4 76.5l1.3 2.3h-2.6zM282.6 127.5l1.3 2.3h-2.6zM303 97.3l1.3 2.3h-2.6zM308.9 95.1l1.3 2.3h-2.6zM252.3 139.4l1.3 2.3h-2.6zM320.7 128.3l1.3 2.3h-2.6zM314.8 93.8l1.3 2.3h-2.6zM253.9 128.8l1.3 2.3h-2.6zM286.1 101l1.3 2.3h-2.6zM288.8 73.8l1.3 2.3h-2.6zM314.4 63.9l1.3 2.3h-2.6zM335.2 130l1.3 2.3h-2.6zM312.5 63.9l1.3 2.3h-2.6zM327.1 63.6l1.3 2.3h-2.6zM266.3 107.5l1.3 2.3h-2.6zM318.2 138.1l1.3 2.3h-2.6zM257.3 147.2l1.3 2.3h-2.6zM270.4 127.5l1.3 2.3h-2.6zM346.4 111.4l1.3 2.3h-2.6zM321.2 73.3l1.3 2.3h-2.6zM318.7 65.9l1.3 2.3h-2.6zM348.5 124.5l1.3 2.3h-2.6zM312.9 146.7l1.3 2.3h-2.6zM296.6 62l1.3 2.3h-2.6zM314 90.1l1.3 2.3h-2.6zM282.2 58l1.3 2.3h-2.6zM269.9 90.1l1.3 2.3h-2.6zM271 161.9l1.3 2.3h-2.6zM311.6 98l1.3 2.3h-2.6zM303.7 103l1.3 2.3h-2.6zM278.8 57.3l1.3 2.3h-2.6zM280.3 141.9l1.3 2.3h-2.6zM292.9 162.5l1.3 2.3h-2.6zM320.1 76.8l1.3 2.3h-2.6zM316.2 96.8l1.3 2.3h-2.6zM286.5 142.5l1.3 2.3h-2.6zM275.9 131.9l1.3 2.3h-2.6zM301.1 64.7l1.3 2.3h-2.6zM316.1 94.1l1.3 2.3h-2.6zM320.7 62.9l1.3 2.3h-2.6zM347.6 108.6l1.3 2.3h-2.6zM281.2 63.9l1.3 2.3h-2.6zM318.8 111l1.3 2.3h-2.6zM320 108l1.3 2.3h-2.6zM284.4 113.2l1.3 2.3h-2.6zM319.3 68.4l1.3 2.3h-2.6zM311.9 112.1l1.3 2.3h-2.6zM349.2 125.8l1.3 2.3h-2.6zM331.8 96.6l1.3 2.3h-2.6zM264.5 121.6l1.3 2.3h-2.6zM273.4 110.7l1.3 2.3h-2.6zM345.1 119.5l1.3 2.3h-2.6zM268.8 112.2l1.3 2.3h-2.6zM270 75l1.3 2.3h-2.6zM286.5 67.9l1.3 2.3h-2.6zM330.7 152.1l1.3 2.3h-2.6zM249.6 140.3l1.3 2.3h-2.6zM276.6 85.7l1.3 2.3h-2.6zM281.1 72.9l1.3 2.3h-2.6zM345.5 123.3l1.3 2.3h-2.6zM290.6 69l1.3 2.3h-2.6zM290.4 55.9l1.3 2.3h-2.6zM278.5 63.8l1.3 2.3h-2.6zM353.3 127.4l1.3 2.3h-2.6zM282.2 139.2l1.3 2.3h-2.6zM326.5 67.3l1.3 2.3h-2.6zM274.5 127.3l1.3 2.3h-2.6zM320.2 81.8l1.3 2.3h-2.6zM308.4 94.3l1.3 2.3h-2.6zM279.9 62.4l1.3 2.3h-2.6zM290.1 137.3l1.3 2.3h-2.6zM284.9 78.4l1.3 2.3h-2.6zM317.1 107.9l1.3 2.3h-2.6zM342 118.2l1.3 2.3h-2.6zM285.7 132.5l1.3 2.3h-2.6zM253 145.4l1.3 2.3h-2.6zM317.8 102l1.3 2.3h-2.6z"/>
<path fill="#FF0A0A" d="M323.2 69.8l1.3 2.3h-2.6zM344.1 127.4l1.3 2.3h-2.6zM332.1 88.2l1.3 2.3h-2.6zM311 82.1l1.3 2.3h-2.6zM267.6 69l1.3 2.3h-2.6zM296.6 89.2l1.3 2.3h-2.6zM280.8 141.6l1.3 2.3h-2.6zM325.9 89.2l1.3 2.3h-2.6zM295.4 95.3l1.3 2.3h-2.6zM310.7 66.2l1.3 2.3h-2.6zM342.3 120.7l1.3 2.3h-2.6zM326.5 78.5l1.3 2.3h-2.6zM327.6 108.9l1.3 2.3h-2.6zM267.2 75.9l1.3 2.3h-2.6zM292.8 56.8l1.3 2.3h-2.6zM269.7 71.2l1.3 2.3h-2.6zM334.9 156.3l1.3 2.3h-2.6zM272.3 102.8l1.3 2.3h-2.6zM294.3 116.1l1.3 2.3h-2.6zM318.3 103.2l1.3 2.3h-2.6zM331.7 69.7l1.3 2.3h-2.6zM288.6 142.6l1.3 2.3h-2.6zM339 131.8l1.3 2.3h-2.6zM327.3 77l1.3 2.3h-2.6zM304.9 78.2l1.3 2.3h-2.6zM271.4 63.4l1.3 2.3h-2.6zM290.9 128.2l1.3 2.3h-2.6zM270.9 120.4l1.3 2.3h-2.6zM297.5 60.1l1.3 2.3h-2.6zM295.2 69.7l1.3 2.3h-2.6zM306.2 61.6l1.3 2.3h-2.6zM272.8 74.1l1.3 2.3h-2.6zM314.7 81.3l1.3 2.3h-2.6zM270.2 64.7l1.3 2.3h-2.6zM270.8 112.1l1.3 2.3h-2.6zM357.2 115l1.3 2.3h-2.6zM319.6 60.6l1.3 2.3h-2.6zM308.4 60.2l1.3 2.3h-2.6zM307 126.2l1.3 2.3h-2.6zM292.2 116.6l1.3 2.3h-2.6zM349.9 128.5l1.3 2.3h-2.6zM297.2 114.3l1.3 2.3h-2.6zM290.1 106.2l1.3 2.3h-2.6zM353.2 97.9l1.3 2.3h-2.6zM326.8 84.7l1.3 2.3h-2.6zM357.2 133.8l1.3 2.3h-2.6zM294.2 62.4l1.3 2.3h-2.6zM284 75l1.3 2.3h-2.6zM350.3 111.3l1.3 2.3h-2.6zM319.8 56.4l1.3 2.3h-2.6zM303.6 62.2l1.3 2.3h-2.6zM276.4 76.2l1.3 2.3h-2.6zM319.8 58.4l1.3 2.3h-2.6zM293.7 85.2l1.3 2.3h-2.6zM276.6 83.5l1.3 2.3h-2.6zM322.7 69.5l1.3 2.3h-2.6zM286.6 140l1.3 2.3h-2.6zM288.3 59.7l1.3 2.3h-2.6zM325.8 90.7l1.3 2.3h-2.6zM323.1 123.9l1.3 2.3h-2.6zM312.1 64.8l1.3 2.3h-2.6zM322.8 130.3l1.3 2.3h-2.6zM353.3 99.6l1.3 2.3h-2.6zM332.2 100l1.3 2.3h-2.6zM333.5 109.2l1.3 2.3h-2.6zM282.3 98.8l1.3 2.3h-2.6zM277 128.3l1.3 2.3h-2.6zM299 62.7l1.3 2.3h-2.6zM326.6 87.8l1.3 2.3h-2.6zM274.5 117.3l1.3 2.3h-2.6zM351.3 127l1.3 2.3h-2.6zM284.9 123.8l1.3 2.3h-2.6zM288 142.8l1.3 2.3h-2.6zM288 67.9l1.3 2.3h-2.6zM333.8 75.8l1.3 2.3h-2.6zM312.8 61.9l1.3 2.3h-2.6zM272.7 72.8l1.3 2.3h-2.6zM341.4 112l1.3 2.3h-2.6zM348.5 140.9l1.3 2.3h-2.6zM329.1 71.1l1.3 2.3h-2.6zM351.6 107.5l1.3 2.3h-2.6zM271.8 81.5l1.3 2.3h-2.6zM348.2 99.1l1.3 2.3h-2.6zM354.1 121.4l1.3 2.3h-2.6zM358.9 127.5l1.3 2.3h-2.6zM337.6 132.2l1.3 2.3h-2.6zM271.8 120.2l1.3 2.3h-2.6zM353.4 126l1.3 2.3h-2.6zM270.3 73.8l1.3 2.3h-2.6zM284.6 139.8l1.3 2.3h-2.6zM273.4 102.3l1.3 2.3h-2.6zM353 123.4l1.3 2.3h-2.6zM279.3 104.5l1.3 2.3h-2.6zM295.2 64.6l1.3 2.3h-2.6zM301.9 107.1l1.3 2.3h-2.6zM295.3 121.3l1.3 2.3h-2.6zM273.7 74l1.3 2.3h-2.6zM281.9 57.1l1.3 2.3h-2.6zM329.9 95.6l1.3 2.3h-2.6zM315.5 154.9l1.3 2.3h-2.6zM259.1 120.9l1.3 2.3h-2.6zM283.5 128.4l1.3 2.3h-2.6zM276 75.5l1.3 2.3h-2.6zM269.1 70.8l1.3 2.3h-2.6zM289.3 126l1.3 2.3h-2.6z"/>
<path fill="#2B3A9C" d="M277.2 150.4l1.3 2.3h-2.6zM271.5 156.4l1.3 2.3h-2.6zM318.8 161.7l1.3 2.3h-2.6zM284.8 141.8l1.3 2.3h-2.6zM328.4 152.8l1.3 2.3h-2.6zM328.1 157.9l1.3 2.3h-2.6zM258.8 129.9l1.3 2.3h-2.6zM337.6 135.7l1.3 2.3h-2.6zM325.6 136.8l1.3 2.3h-2.6zM255.6 132.1l1.3 2.3h-2.6zM266.3 161.7l1.3 2.3h-2.6zM340.4 145l1.3 2.3h-2.6zM270.9 138.8l1.3 2.3h-2.6zM263.7 156.4l1.3 2.3h-2.6zM319.1 150.9l1.3 2.3h-2.6zM274 146l1.3 2.3h-2.6zM253.3 124.5l1.3 2.3h-2.6zM324.2 145l1.3 2.3h-2.6zM317 162.5l1.3 2.3h-2.6zM289.7 131.3l1.3 2.3h-2.6zM358.8 121.7l1.3 2.3h-2.6zM274 160.3l1.3 2.3h-2.6zM344.9 127.3l1.3 2.3h-2.6zM342.2 149.9l1.3 2.3h-2.6zM359.9 115.6l1.3 2.3h-2.6zM281.3 156.9l1.3 2.3h-2.6zM286.8 152.4l1.3 2.3h-2.6zM261.1 152.6l1.3 2.3h-2.6zM264.3 130.5l1.3 2.3h-2.6zM315 143.3l1.3 2.3h-2.6zM327.1 134.3l1.3 2.3h-2.6zM323.7 132.9l1.3 2.3h-2.6zM317.1 158.9l1.3 2.3h-2.6zM313.7 158.2l1.3 2.3h-2.6zM254.4 152.8l1.3 2.3h-2.6zM338.1 147.8l1.3 2.3h-2.6zM314.7 151l1.3 2.3h-2.6zM328 151.3l1.3 2.3h-2.6zM259.7 160.1l1.3 2.3h-2.6zM258.2 138.6l1.3 2.3h-2.6zM318.3 146.1l1.3 2.3h-2.6zM324.8 163l1.3 2.3h-2.6zM262.3 122.1l1.3 2.3h-2.6zM267.3 137.3l1.3 2.3h-2.6zM351.9 96.7l1.3 2.3h-2.6zM326.4 142.4l1.3 2.3h-2.6zM336.5 150.5l1.3 2.3h-2.6zM329.7 150.9l1.3 2.3h-2.6zM258.3 124.3l1.3 2.3h-2.6zM327.6 150.1l1.3 2.3h-2.6zM275.3 150.5l1.3 2.3h-2.6zM357.6 131.9l1.3 2.3h-2.6zM329.9 142.2l1.3 2.3h-2.6zM258.8 147.8l1.3 2.3h-2.6zM354.6 132.1l1.3 2.3h-2.6zM336.7 144.7l1.3 2.3h-2.6zM267.1 155.7l1.3 2.3h-2.6zM280.4 138.8l1.3 2.3h-2.6zM253 150l1.3 2.3h-2.6zM331.8 129.8l1.3 2.3h-2.6zM279.6 149.1l1.3 2.3h-2.6zM320.5 154.3l1.3 2.3h-2.6zM346.9 106l1.3 2.3h-2.6zM334 137.1l1.3 2.3h-2.6zM273.4 157.8l1.3 2.3h-2.6zM255.5 149l1.3 2.3h-2.6zM327.6 161.7l1.3 2.3h-2.6zM260.3 147l1.3 2.3h-2.6zM314.9 153.8l1.3 2.3h-2.6zM330.7 163.5l1.3 2.3h-2.6zM350.9 110.1l1.3 2.3h-2.6zM331.4 157.1l1.3 2.3h-2.6zM353.9 106l1.3 2.3h-2.6zM348.7 104.5l1.3 2.3h-2.6zM274.6 143l1.3 2.3h-2.6zM315.2 158.6l1.3 2.3h-2.6zM277.2 145.7l1.3 2.3h-2.6zM265.2 128.2l1.3 2.3h-2.6zM278.5 151.3l1.3 2.3h-2.6zM269.6 134.4l1.3 2.3h-2.6zM250.2 139.3l1.3 2.3h-2.6zM271.6 140.8l1.3 2.3h-2.6zM260.9 149.3l1.3 2.3h-2.6zM286.1 146.2l1.3 2.3h-2.6zM324.7 150.2l1.3 2.3h-2.6zM333.7 139.1l1.3 2.3h-2.6zM319 166.3l1.3 2.3h-2.6zM271.9 162l1.3 2.3h-2.6zM324.6 158.8l1.3 2.3h-2.6zM265.6 145.3l1.3 2.3h-2.6zM271 135.4l1.3 2.3h-2.6zM328.1 138.8l1.3 2.3h-2.6zM264.4 135.7l1.3 2.3h-2.6zM268.3 164.1l1.3 2.3h-2.6zM319.2 163.3l1.3 2.3h-2.6zM321.2 147.6l1.3 2.3h-2.6zM342.4 141.1l1.3 2.3h-2.6zM266.9 133.4l1.3 2.3h-2.6zM252.4 123.5l1.3 2.3h-2.6zM334.6 143.4l1.3 2.3h-2.6zM261.3 131.9l1.3 2.3h-2.6zM274.8 129.8l1.3 2.3h-2.6zM320.9 147.7l1.3 2.3h-2.6zM318.1 148.6l1.3 2.3h-2.6zM341.8 143.2l1.3 2.3h-2.6zM279.3 136l1.3 2.3h-2.6zM268.8 151.9l1.3 2.3h-2.6zM331.1 156.3l1.3 2.3h-2.6zM316.9 147l1.3 2.3h-2.6zM268.7 143l1.3 2.3h-2.6zM265.9 158.3l1.3 2.3h-2.6zM334.1 129.8l1.3 2.3h-2.6zM331.2 146.2l1.3 2.3h-2.6zM284.5 141.8l1.3 2.3h-2.6zM266.9 164.9l1.3 2.3h-2.6zM251.9 130.8l1.3 2.3h-2.6zM334.8 125l1.3 2.3h-2.6zM324.7 139l1.3 2.3h-2.6z"/>
<path fill="none" stroke="#2B3A9C" stroke-width="2.7" stroke-linecap="round" d="M294.4 137h0M342 142.6h0M310.1 154.3h0M337.2 133.4h0M315.7 159h0M358.6 133.3h0M312.1 143.8h0M309.2 157.8h0M308.9 137.5h0M294 146.8h0M308.8 157.7h0M254.9 144.9h0M314 162.7h0M357.7 136.5h0M358.4 124.4h0M293.3 158.9h0M253.5 143.1h0M314.9 156.7h0M314.9 158.7h0M304.5 126.7h0M308.1 143.7h0M311 151.7h0M342.4 135.7h0M358.4 133.2h0M312 151.8h0M308.7 133.2h0M254.3 144.9h0M285.8 160.1h0M357.4 138.8h0M302.8 130.8h0M306.6 161.3h0M313 156.6h0M302.6 143.3h0M315 151.8h0M289.9 156.2h0M357.5 133.5h0M297.5 158.6h0M297.2 155.8h0M359.4 126.1h0M252.2 138.1h0M287.5 160.3h0M293.4 157.2h0"/>
<path fill="none" stroke="#FF0A0A" stroke-width="2.7" stroke-linecap="round" d="M291.2 64.3h0M288.2 66.3h0M279 108.4h0M301.7 93.6h0M309.1 60.4h0M290.3 97.7h0M299.5 62.5h0M308.6 85.4h0M283.4 102.5h0M302.5 96.3h0M302.6 67.4h0M310.9 68.8h0M298.5 101.4h0M300.9 99.2h0M311.9 65.5h0M283.4 86.3h0M323.4 76.9h0M317.5 160.7h0M309.3 61.5h0M300.5 91.6h0M255.3 144.6h0M332.5 122.3h0M314 66.3h0M303.3 59.1h0M295.6 63.6h0M314.2 61.4h0M298.6 82.1h0M307.7 64.2h0M293.6 81.8h0M292.5 58.1h0M303.8 65.6h0M302.6 60.4h0M313.2 60.4h0M312.1 66.2h0M301 65.9h0M305.3 103.9h0M310.1 164.4h0M269.4 71.2h0M288.1 60.4h0M336.6 135.2h0M295.4 65.3h0M269.6 67.5h0M315.3 70.6h0M301.3 59.8h0M295.1 158.2h0M294.4 98.1h0M268 71.3h0M300.4 101.6h0M308.3 65.8h0M293.2 94.2h0M308.6 66.2h0M304.6 65.5h0M288.8 161.2h0M305.5 101.1h0M294.4 103.3h0M268.7 72.6h0M300.3 102.7h0M296.9 97h0M322.9 65.8h0M299.3 94.3h0M312.8 60.8h0M300.3 95.1h0M305.6 82.5h0M330.5 123.2h0M359.5 124.1h0M290 63.3h0M315 64.7h0M268.8 67.1h0M294.2 100h0M314.7 81.3h0M301 100.5h0"/>
<path fill="none" stroke="#0B8E3F" stroke-width="2.7" stroke-linecap="round" d="M296.7 95.3h0M285.1 101.8h0M311.4 59.3h0M356.6 132.9h0M295.5 94.9h0M302.4 81.4h0M312.7 59h0M302.3 59.2h0M309.7 83.7h0M305.6 72.6h0M306.9 71.4h0M306.4 79.6h0M251.1 135.4h0M329.2 81.6h0M307.9 62.4h0M306.2 95.6h0M305.4 92.1h0M298.3 62.1h0M311.8 88.6h0M302.8 95.7h0M278.6 101.4h0M295.7 93.6h0M297.3 94.5h0M296.6 82h0M252.7 137.9h0M307.7 94.7h0M307.3 151.9h0M307.6 75.5h0M295.5 107.1h0M293 61.4h0M304.7 65.8h0M308.7 59.6h0M299.1 92.7h0M302.1 101.7h0M298.9 95.9h0M357.6 119h0M317.1 156.6h0M303.1 81.6h0M358.5 125.8h0M295.1 59.6h0M302.2 96.9h0M270 73.7h0M292.1 64.8h0M329.3 99.2h0M293.8 64.6h0M298.4 58.8h0M302.7 101.3h0M301.1 65.4h0M303.4 63.4h0M304.2 66.1h0M329.3 90.7h0M305.9 82.7h0M279 110.4h0M295.4 59.7h0M297.2 97.5h0M296 102.6h0M333.3 88h0M358.8 114.4h0M290.2 67.3h0"/>
<rect x="245.5" y="52.5" width="120.5" height="119.5" fill="none" stroke="#2a2a2a" stroke-width="0.9"/>
<text x="204.6" y="13.4" font-size="10.5" font-weight="bold">B</text>
<text x="228" y="16.3" font-size="8.8">Species</text>
<circle cx="267" cy="13.1" r="2.2" fill="#000"/>
<text x="275.2" y="15.8" font-size="7">homo_sapiens</text>
<path fill="#000" d="M329 10.8l2.6 4.6h-5.2z"/>
<text x="337.4" y="15.8" font-size="7">mus_musculus</text>
<text x="247.8" y="35.4" font-size="8.8">Phase</text>
<circle cx="280.7" cy="32.2" r="2.3" fill="#2B3A9C"/>
<text x="288.6" y="34.6" font-size="6.8">G1|G0</text>
<circle cx="317.8" cy="32.2" r="2.3" fill="#FF0A0A"/>
<text x="326" y="34.6" font-size="6.8">S</text>
<circle cx="338.4" cy="32.2" r="2.3" fill="#0B8E3F"/>
<text x="346.8" y="34.6" font-size="6.8">G2|M</text>
<text x="305.7" y="184.6" font-size="8.6" text-anchor="middle">UMAP 1</text>
<text x="238.7" y="111.8" font-size="8.6" text-anchor="middle" transform="rotate(-90 238.7 111.8)">UMAP 2</text>
<path fill="none" stroke="#F21CE0" stroke-width="3.0" stroke-linecap="round" opacity="0.8" d="M100.9 244h0M96 260.3h0M129.5 291.1h0M111.3 240.9h0M91.7 249.4h0M78.9 304.9h0M96.5 304.2h0M72.3 235.5h0M107.5 232.8h0M69 237.8h0M136.8 266.5h0M109.6 253.9h0M91.1 228h0M108.7 229.7h0M87.1 246.2h0M69.8 238.2h0M117 233.6h0M81.2 242.1h0M91.2 259.4h0M95 260.8h0M64.1 241.6h0M95.5 248.3h0M97.2 302.5h0M73.6 235.3h0M137.1 280.5h0M68.2 255.8h0"/>
<path fill="none" stroke="#0C0CF2" stroke-width="3.0" stroke-linecap="round" opacity="0.8" d="M71.8 229.8h0M96.9 262.9h0M102.5 300.3h0M111.5 299.7h0M108.3 246.3h0M88.1 257.4h0M111.5 302.7h0M118.2 294.9h0M87.8 303.3h0M103.6 298.7h0M105.1 233.6h0M81.8 304.8h0M101 233h0M97.7 300.2h0M101.2 303.4h0M76.1 302h0M88.8 229.7h0M113.6 300.2h0M67.9 297.4h0M74.3 247.8h0M64.6 242.5h0M109.9 308.2h0M71.1 241.7h0M76.1 243.9h0M88.1 230.3h0M124.1 269.2h0M99.4 265.5h0M92.2 256.5h0M86.1 258h0M97 300.7h0M52.6 291.6h0M99.8 301h0M91.1 259.4h0M110.8 301.8h0M93.8 228.7h0M68.2 304.1h0M96.2 291.6h0M85.2 300.5h0M111.6 300.8h0M109.4 237.1h0M84.2 257.7h0M70 300.4h0M114.8 301h0M111.9 302.8h0M104.7 305.8h0M108 254.5h0M100.8 229.5h0M108.6 303.8h0M108.6 302.2h0M104.4 304h0M93 291.1h0M108.7 300.4h0M67.2 240.7h0M89.6 252.9h0M82.5 306.4h0M98.9 297.8h0M88.1 301.6h0M70.3 237.3h0"/>
<path fill="none" stroke="#BEBEC8" stroke-width="3.0" stroke-linecap="round" opacity="0.8" d="M107 252.9h0M66 299.7h0M93 262.3h0M100.1 299.1h0M88 244.1h0M108.1 297.6h0M69 303.4h0"/>
<path fill="none" stroke="#F22C6C" stroke-width="3.0" stroke-linecap="round" opacity="0.8" d="M80.2 240.2h0M75.3 235.4h0M99.4 228.5h0M97.2 234h0M106.1 233h0M105 303.4h0M83.2 228.5h0M90.9 249.4h0M91.9 255.7h0M114.6 236.4h0M108.3 254.6h0M72.1 235.6h0M99.8 264.1h0M115.5 282.6h0M79.4 231.8h0M96.3 263.4h0M97.3 232.3h0M66.8 236.5h0M84.5 258.1h0M86 229.8h0M107.6 305.5h0M69.3 237.9h0M106.7 235.1h0M68.7 237.7h0M67.5 236.2h0M91.9 263.6h0"/>
<path fill="none" stroke="#8A8AE2" stroke-width="3.0" stroke-linecap="round" opacity="0.8" d="M82.7 283.6h0M109.5 299.9h0M93.4 262.4h0M104.9 304.7h0M86.6 304.1h0M102.8 302.4h0"/>
<path fill="none" stroke="#FF1414" stroke-width="3.0" stroke-linecap="round" opacity="0.8" d="M109 254.1h0"/>
<path fill="none" stroke="#8A2CDC" stroke-width="3.0" stroke-linecap="round" opacity="0.8" d="M90.6 248.1h0M94.9 259.2h0M87.1 259.9h0M77.4 301h0M80.4 236.3h0M92.5 268h0M136.7 276.2h0M93.5 254.7h0M136 270.8h0M107.4 299.5h0M53.2 286.8h0M125.2 269.7h0M109.2 246.3h0M85.4 258.7h0M86.8 223.6h0"/>
<path fill="none" stroke="#F22C6C" stroke-width="3.0" stroke-linecap="round" opacity="0.8" d="M75.5 233.1h0M138.1 280.9h0M123 280.4h0M114.9 304h0M98.6 242.9h0M84.1 257.5h0M129.5 277.7h0M68.4 242.2h0M72.9 235.6h0M103.7 284.7h0M103.1 302.5h0M91.5 227.2h0M66.7 242.4h0M77.5 226.6h0M69.5 233.9h0M88.1 237h0M66.2 242.7h0M88.3 223.5h0M93.9 226.9h0"/>
<path fill="none" stroke="#0C0CF2" stroke-width="3.0" stroke-linecap="round" opacity="0.8" d="M138.6 280.1h0M105.8 302.5h0M91.2 257.9h0M111.7 240.1h0M89.2 261.1h0M110.4 303.7h0M106.6 303.3h0M86.7 227.4h0M107.3 306.4h0M89.7 264.3h0M107.2 299.9h0M81.5 303.5h0M75.1 230.1h0M70.2 242.7h0M92.8 263.3h0M101.7 306.9h0M135.9 274.4h0M83.9 241h0M94.3 266.7h0M85 227.6h0M115.5 233.9h0M112 233.6h0M97.9 303.3h0M136.5 272.6h0M77.9 276.1h0M67.3 234.6h0M82.5 303h0M112.4 303.7h0M93 262.9h0M110.8 304h0M83.1 302.9h0M109.4 295.3h0M65.1 295.5h0M106.2 299.7h0M83.9 299.5h0M95.3 260.1h0M68.4 299.1h0M66.7 294.3h0M91.4 264.4h0M79.2 247.1h0M85.9 228.8h0M105 300.9h0M72.8 227h0M106.8 303.8h0M107.8 303.5h0M113 298.8h0M111.1 303h0M96 228h0M105.5 303.3h0M107.2 300.2h0"/>
<path fill="none" stroke="#F21CE0" stroke-width="3.0" stroke-linecap="round" opacity="0.8" d="M67.8 232.8h0M67 235.3h0M111.2 292.2h0M102.3 297.8h0M72.2 243h0M67.3 231.4h0M71.9 304.6h0M53.2 292.2h0M76.1 228.2h0M74.3 228.4h0M52.1 286.3h0M139 284.4h0M133.8 282.6h0M96.4 232.9h0M95.5 247.2h0M107.7 262.9h0M87.2 261.9h0M123.6 284.7h0M86.5 260.3h0M106.2 235.1h0M70 234.8h0M101 231.9h0M94 257h0M100.2 301h0M137.2 284.5h0M77.9 270.2h0M86.4 231.4h0M86.2 259.4h0M76.5 232.7h0M85.4 271.9h0M78.7 230.2h0M75.8 249.4h0"/>
<path fill="none" stroke="#8A2CDC" stroke-width="3.0" stroke-linecap="round" opacity="0.8" d="M109.1 236.7h0M94.5 227.8h0M81 304.4h0M74.1 272.9h0M95.3 225.6h0M99.4 284.2h0M134.9 285.8h0M110.2 233.5h0M93 260.1h0M74.1 265.4h0M95.2 267.7h0M95.1 283.6h0M83.6 305.1h0M102.6 283.6h0M103.9 296.4h0M109.1 256.9h0"/>
<path fill="none" stroke="#8A8AE2" stroke-width="3.0" stroke-linecap="round" opacity="0.8" d="M94.2 249.5h0M70.7 302.1h0M80.1 306.3h0M109.3 305.5h0M90.7 256.8h0M95 246.5h0M71.8 241.2h0M100.5 305.6h0M91.1 253.7h0M107 296.8h0M83.8 292.2h0M137.1 271.6h0"/>
<path fill="none" stroke="#BEBEC8" stroke-width="3.0" stroke-linecap="round" opacity="0.8" d="M113.2 302.6h0M65.8 239.3h0M93.5 266.2h0M109.3 252.5h0M106.5 300.5h0M65.1 238.8h0M137.6 271.5h0M94 266.6h0M64.4 238.4h0"/>
<path fill="none" stroke="#FF1414" stroke-width="3.0" stroke-linecap="round" opacity="0.8" d="M107.8 239.6h0"/>
<rect x="43.5" y="213" width="107.5" height="107" fill="none" stroke="#2a2a2a" stroke-width="0.9"/>
<path fill="none" stroke="#8A8AE2" stroke-width="3.0" stroke-linecap="round" opacity="0.8" d="M190.1 280.4h0M226.9 307.9h0M181.3 267.8h0M174.7 278h0M243.7 260.8h0M172.5 286.2h0M243 269.9h0M168.8 304.2h0M165.6 294.5h0M226.3 274.5h0M181 250h0M181.5 263.9h0M176.4 295.2h0M165.3 298h0M230 286.5h0M165.3 283.9h0M224.3 301.8h0M172.3 306.3h0M221.3 301.8h0M218.6 259.1h0M167.3 288.7h0M216.3 264.2h0M249.6 279.8h0M227.7 293h0M190.6 287.4h0M214.4 255.8h0M193.7 269.3h0M193.6 225.8h0M196.1 257.5h0M212.3 263.2h0M251.8 261.8h0M207.2 305.4h0M228.4 231.6h0M214.7 293.5h0M187.3 291.8h0M246.8 253.6h0M192.3 227.8h0M228.8 260.6h0M184 227.9h0M169.6 270.8h0M232.2 278.7h0M167.7 303.8h0M162.6 289.1h0M168.4 305.5h0M247 271.5h0M185 290.2h0M192.5 286.5h0M185 298.4h0M192.2 298.1h0M243.6 277.7h0M214.2 259.7h0M228 297.2h0M193.5 234.8h0M174.4 289.7h0M222.6 296.1h0M220.4 307.3h0M193.1 259.1h0M221.5 233.7h0M180.5 263.2h0"/>
<path fill="none" stroke="#0C0CF2" stroke-width="3.0" stroke-linecap="round" opacity="0.8" d="M170.3 290h0M170.4 279.1h0M214.8 248.9h0M184.2 241.1h0M230.8 294.1h0M217.1 284.8h0M188 290.4h0M199.7 289.5h0M176.6 278.6h0M180.3 298.5h0M173.7 266.8h0M228.1 257.2h0M188.7 257.4h0M177.3 280.2h0M187.4 239.8h0M180.4 276h0M219.3 277.6h0M220.2 261.7h0M227.5 290.8h0M218.9 305.4h0M176.2 288.9h0M187.4 233.9h0M213.7 297.1h0M178.2 270.7h0M177.6 271.1h0M165.7 284.2h0M189.7 228.1h0M178.1 237.4h0M218.4 245.1h0M187 261.7h0M220.2 289.7h0M229.4 297.1h0M215.9 257.6h0M224.5 233.5h0M183 303.6h0M184.6 285.1h0M216.7 252.4h0M223 286.9h0M228.2 240.7h0M214.3 265.9h0M221 261.7h0M162.9 283.3h0M224.8 245.7h0M188.4 270.6h0M214 286.4h0M174 276.4h0M225.4 281.5h0M222.5 309.1h0M178.7 298.2h0M181.3 242.1h0M196.3 233.4h0M226.2 279.6h0M175.3 285.5h0M203.7 305.8h0M184.1 259.2h0M188.1 238.2h0M193.7 290.3h0M165.7 291.4h0M198.6 273.3h0M179.8 290.2h0M226.6 237h0M172.2 308h0M185.2 247.8h0M185.3 256.3h0M185.1 245.6h0M176.9 272.2h0M223.8 299.4h0M227.3 283.8h0M193.4 278.6h0M164.2 298.5h0M217 256h0M226.2 309.4h0M248.7 264.9h0M174.4 294.7h0M212.1 292h0M215.7 251.8h0M192.8 244h0M218.3 265h0M192.2 254.3h0M234.6 301.2h0M212 293.9h0M194.9 257h0M249.7 262.9h0M198.3 268.3h0M189.1 241.1h0M179.2 268.8h0M179.4 260.1h0M166 288.5h0M177.5 301.2h0M216.2 298.8h0M189.7 254.5h0M218.9 284.5h0M184.7 241.2h0M178.8 279.7h0M187 302.1h0M224.2 286.9h0M228.6 296h0"/>
<path fill="none" stroke="#BEBEC8" stroke-width="3.0" stroke-linecap="round" opacity="0.8" d="M231.4 250.2h0M239.5 264h0M178.9 249.8h0M173.5 274.1h0M180.2 263.2h0M229.1 257.1h0M196.4 278.6h0M170.1 275.4h0M223 236.7h0M191.3 284.9h0M180.4 262.9h0M224.4 282.1h0M241.8 278.3h0M224.4 238.8h0M190.9 275.7h0M164.4 302.7h0M189.9 260.1h0M240.9 278.6h0M249.7 287.8h0M219.8 234.1h0M209.2 265.5h0M221.9 240.1h0M243.2 259.1h0M170.8 283.1h0M187.8 233.1h0M173.3 266h0M193.8 228.8h0M225 284.4h0M179.8 273h0M232.2 284.6h0M240.3 284.2h0M179.1 306.7h0M225.5 299.4h0M173.7 282.3h0M214.2 302.6h0M192.1 259.3h0M195.1 268.3h0M233 298.9h0M235 290.6h0M192.7 237.1h0M197.6 276.6h0M188.2 261.6h0M226.4 261.4h0"/>
<path fill="none" stroke="#F22C6C" stroke-width="3.0" stroke-linecap="round" opacity="0.8" d="M208.3 254.7h0M238.6 299.9h0M232.5 263.3h0M181.8 305.7h0M188.1 237.6h0M184.3 265.3h0M194.7 243.2h0M221.7 230.1h0M190.1 275.6h0M218.6 255.6h0M242.3 285.4h0M218.2 267.8h0M238.1 294.4h0M168.2 286.3h0M171.3 265.9h0M229.6 259.8h0M254 277h0M177.4 263.3h0M224.4 264.6h0M231.5 249.5h0M179.4 241.7h0M251.9 266h0M242.9 272.4h0M182.4 259.8h0M221.4 240.5h0M245.1 284.4h0M219 235h0M189.7 283.8h0M180.6 251.2h0M234 301.5h0M228.2 241.4h0M171.6 262.1h0M244 279.2h0"/>
<path fill="none" stroke="#8A2CDC" stroke-width="3.0" stroke-linecap="round" opacity="0.8" d="M178.7 234.8h0M195 267.6h0M219 279.6h0M168.9 292.9h0M185.1 271.9h0M176.4 244.8h0M176.6 279.3h0M165.7 294.8h0M214.9 299.2h0M212.3 295.7h0M218.7 261.1h0M232.5 302.5h0M183.9 306.1h0M193.1 231.2h0M169.5 295.3h0M174.5 310.2h0M224.9 279.7h0M228.6 302.7h0M170.9 273.7h0M179.6 243.4h0M181.1 261.4h0M228.5 262.3h0"/>
<path fill="none" stroke="#F07C92" stroke-width="3.0" stroke-linecap="round" opacity="0.8" d="M245.9 291h0M219.6 240.7h0M187.2 275.1h0M226 261.4h0M238.1 273.8h0M252.4 285.1h0M182.6 296h0M189.3 230.5h0M225.5 259.7h0M247.6 287.9h0M248.9 284.5h0M226.2 228.4h0M166.8 279.5h0M184.9 264.5h0M217 256.6h0M245.2 275.5h0M190.2 245.8h0M238.3 266.4h0M213 247.6h0M234.6 297h0M252 280.2h0M233.9 288.2h0M165.7 282.5h0M247.4 278h0M186.5 223h0M234.9 286h0M211.3 259.8h0"/>
<path fill="none" stroke="#F21CE0" stroke-width="3.0" stroke-linecap="round" opacity="0.8" d="M186.3 249.6h0M193.5 271.2h0M193.3 288h0M179 232.6h0M243.4 266.4h0M184.2 289.2h0M208.3 254.7h0M184.3 266h0M232.7 240.2h0M212.2 267.7h0M210.9 263.9h0M218 304.5h0M226.3 259.8h0M168.2 296.6h0"/>
<path fill="none" stroke="#FF1414" stroke-width="3.0" stroke-linecap="round" opacity="0.8" d="M233 266.1h0"/>
<path fill="none" stroke="#F22C6C" stroke-width="3.0" stroke-linecap="round" opacity="0.8" d="M220.7 263.8h0M213.5 308.6h0M221.1 245.2h0M217.6 234.4h0M227.6 263.5h0M187.8 280.6h0M184.7 226.2h0M180.2 249.1h0M190.5 271.5h0M218.9 294.5h0M228.7 231h0M193.2 232h0M238.8 288.3h0M217.1 226h0M189 302h0M248.8 261.1h0M241.1 282.3h0M208.5 259.4h0M183.3 226.4h0M187.7 235.8h0M191.3 227.2h0M185.5 240.9h0M251.7 269.6h0M181.4 302.1h0M238.3 269.1h0M181.9 250.1h0M225.4 259.5h0M224.8 234.5h0M249 287.3h0M176.3 234.8h0M190 250.1h0M222.5 229.5h0M183.4 228.6h0M220.6 251.5h0M191.1 237.9h0"/>
<path fill="none" stroke="#0C0CF2" stroke-width="3.0" stroke-linecap="round" opacity="0.8" d="M174.7 263h0M229.3 300.7h0M223.9 272.3h0M178.7 292.1h0M180.2 252.2h0M188.1 296.6h0M224.2 299.1h0M194.2 269h0M190 289.7h0M216.2 248h0M240.4 282.1h0M174.1 289.8h0M177.4 310.5h0M170.9 286.8h0M164.4 291.5h0M220.2 309.1h0M186.2 248.9h0M223.1 275.1h0M227.7 240.1h0M165.2 303.3h0M243.4 264.6h0M187.8 244.8h0M241.4 280.6h0M180.5 256.2h0M169.4 308.3h0M217.7 295.4h0M222.5 258.7h0M178.3 258.7h0M182 293.4h0M231.2 284.9h0M222.8 296.9h0M230.5 241.1h0M181.6 260.2h0M188.1 301.1h0M168.4 276.7h0M232.8 281.7h0M215.7 262.9h0M171.9 305.9h0M178.6 258h0M222.4 299.3h0M224.8 254.3h0M220.4 293.6h0M227.8 295.6h0M227.1 304.7h0M210.4 285.3h0M191 237.8h0M188.1 284h0M171.2 269.5h0M219.5 302h0M231.6 281h0M223.9 265.4h0M190 281.3h0M181.7 304.3h0M194.5 265.6h0M178.3 280.6h0M189.8 269.5h0M190.6 252h0M165.7 301h0M219.5 306.7h0M184.2 298.4h0M176.7 300.2h0M216.8 303.3h0M187.5 285h0M223 276.1h0M173.4 302.9h0M222.3 259.5h0M218.6 289h0M222.1 290h0M217.5 246.6h0M191.3 296h0M213 253.7h0M197 272h0M166.6 292.7h0M195 287.3h0M170.9 300.5h0M184.4 304.1h0M234.9 270.3h0M224.7 294.3h0M223.7 279.4h0M190.9 237.4h0M216.3 298.3h0M168.8 288.5h0M175.4 281.8h0M173.5 264.4h0M192.8 241.3h0M176 266.6h0M219.2 284.8h0M210.5 262.1h0M173.1 285h0M217.1 274h0M187.9 291.4h0M177.8 240.9h0M176.7 253.8h0M194.5 247h0M215.4 289.2h0"/>
<path fill="none" stroke="#BEBEC8" stroke-width="3.0" stroke-linecap="round" opacity="0.8" d="M224.8 252.1h0M190.1 244h0M175 296.7h0M192.8 229.5h0M185.6 235.4h0M228.9 279.3h0M234.2 291.9h0M229.7 285.1h0M249.5 286.2h0M245.7 270.2h0M253.6 273.9h0M210.6 261.5h0M247.6 257.3h0M188 302.5h0M207.1 233.7h0M174.6 296.1h0M195.7 235.6h0M230.8 284.9h0M176 289.5h0M174.7 269.4h0M184 236.2h0M225 248.1h0M249.9 280.7h0M198.5 272.3h0M250.5 276.8h0M166.6 280.4h0M229.7 234.8h0M181.3 232.2h0M184.1 285.4h0M180.4 248.1h0M165.6 276.4h0M230.7 299.8h0M179.8 258.4h0M251.3 272.8h0M185.7 227.7h0M242.7 285.7h0M230.7 283h0"/>
<path fill="none" stroke="#F07C92" stroke-width="3.0" stroke-linecap="round" opacity="0.8" d="M186.8 266.5h0M181.3 246.5h0M234.1 284.8h0M240.9 265.7h0M221.7 239.7h0M243.8 293.6h0M239.1 295h0M243 256.9h0M238.3 271h0M224.7 238.1h0M239.7 266.2h0M241.1 271.3h0M217.9 241.3h0M185.3 235.2h0M246.6 260.6h0M185.1 238.8h0M248 274.7h0M160.8 291.9h0M221.4 247.9h0M221.7 276.7h0M191.7 269h0M223.3 263.4h0M214.3 233.8h0M244.3 285.9h0M253.4 283.7h0M228 235.4h0M237.8 293.7h0M235.2 303.5h0M228.3 257.3h0M185.4 231.5h0M242 274.3h0M244.9 286.8h0M249.5 268.1h0"/>
<path fill="none" stroke="#8A2CDC" stroke-width="3.0" stroke-linecap="round" opacity="0.8" d="M219.6 309h0M217.6 238.8h0M192.3 284.1h0M173.2 294.4h0M165.8 289.5h0M189.9 257.8h0M210.2 258.3h0M221.1 280.3h0M178.1 243.5h0M220.4 267h0M187 235.4h0M221.1 274.2h0M215.9 244.6h0M223.5 277.2h0M188.6 290h0M218.8 288.1h0M226.7 256.1h0M177.9 262.8h0M225.7 293.2h0M185.6 243.1h0M225.5 289h0M229.9 247.7h0M220.6 282.5h0M191 300.3h0M178.3 293.9h0M225.5 307.2h0M225.3 237.6h0M171.7 276.8h0M222.5 269.7h0M217.8 235.6h0M226.6 292.7h0"/>
<path fill="none" stroke="#F21CE0" stroke-width="3.0" stroke-linecap="round" opacity="0.8" d="M192.4 232.3h0M216.3 225.9h0M228 248.7h0M212.8 227.2h0M246.5 265.2h0M222.9 281.9h0M232.4 246.6h0M182.4 270.8h0M235.2 291.6h0M231.7 305.5h0M163 284h0M198.1 275.2h0M179.7 269h0M175.4 300.1h0M239.8 279.1h0M180.6 238.9h0M163.9 281h0M216.1 255.3h0M224.9 279.6h0M216.8 276.7h0"/>
<path fill="none" stroke="#8A8AE2" stroke-width="3.0" stroke-linecap="round" opacity="0.8" d="M176 308.6h0M188.1 265.6h0M194.6 278.1h0M215.8 298.9h0M240.9 273.8h0M193.7 274.6h0M220.6 278h0M171.8 298.8h0M177.6 262.2h0M227.5 250.8h0M224.5 300.3h0M188.3 292h0M225.3 258.8h0M219.3 244h0M226.7 250.8h0M190.6 291.1h0M182.4 294h0M216.2 231.8h0M178.7 304.6h0M240.1 282.6h0M220.6 294.4h0M189.3 266.6h0M223.8 232.3h0M194.2 283.7h0M190.2 296.4h0M172.4 302.4h0M169.7 307.8h0M193.4 290.5h0M170.1 283.7h0M231.2 295.8h0M178.8 266.9h0M234 287.4h0M191.7 294.7h0M217.5 275.4h0M196.1 259h0M236.4 299.6h0M190.3 272.9h0M171.5 282.5h0M177.1 277.7h0M183.1 251.5h0M186.6 299h0M176.6 267.7h0"/>
<path fill="none" stroke="#FF1414" stroke-width="3.0" stroke-linecap="round" opacity="0.8" d="M246.5 281.7h0M243.1 271.5h0M247.7 289h0"/>
<path fill="none" stroke="#8A8AE2" stroke-width="3.0" stroke-linecap="round" opacity="0.8" d="M174.2 277.3h0M238.8 291h0M250 271.6h0M242.4 274h0M189.6 290.5h0M175.8 282.9h0M175.2 265.6h0M218.1 224h0M173.6 283.4h0M228.8 280.6h0M177.6 250.9h0M176.6 307h0M228 233.3h0M220.5 230.7h0M173.6 302.5h0M227 278.3h0M178 299.1h0M228.7 238.6h0M219.5 262.8h0M217.4 288.2h0M166.8 287.9h0M212.1 306h0M234.7 296.5h0M182.2 290.2h0M248.9 267.4h0M183.9 306.6h0M212.6 255.2h0M226.3 244.5h0M192.1 234h0M213.3 254.2h0M226.9 271.7h0M190.2 276.6h0M213.4 228h0M188.7 298.1h0M223 300.3h0M216.9 297.2h0M222.4 306.7h0M186.1 263.1h0M164.2 282.5h0M176.9 231.6h0M220.9 228.1h0M226.8 270h0M231.6 281.7h0M199 270.8h0M220.3 243.7h0M185.5 239.3h0M187.4 288.7h0M171.3 290.1h0M219.9 300.4h0M241.9 260h0M231.3 301.1h0M167.3 286.2h0M214.1 256.1h0M218.4 230.1h0M221.8 263.4h0M206.6 230.2h0M182.6 296.5h0"/>
<path fill="none" stroke="#0C0CF2" stroke-width="3.0" stroke-linecap="round" opacity="0.8" d="M189.3 296.5h0M220.5 287.4h0M217.7 259.9h0M184.4 281.9h0M216.8 285.8h0M193.9 260.1h0M223.3 263.6h0M177.6 237.6h0M221 267h0M168.5 301.4h0M191.9 253.8h0M165.5 293h0M219.9 288.5h0M180.3 306.8h0M220.8 247.7h0M167.5 272.7h0M217.6 299.8h0M188.5 255.3h0M175.1 241.7h0M248.1 265.3h0M219 253h0M196 282.3h0M190.3 288.8h0M190 295.1h0M183.9 294.1h0M190.5 292.9h0M170.1 309.3h0M180 256.9h0M170.3 285.8h0M230.5 307.9h0M231.5 279.2h0M190.5 263.8h0M193.2 292.5h0M217.3 290.6h0M215.8 276.6h0M184.9 287.2h0M188.5 243.7h0M176.2 236.5h0M179.4 252.5h0M239.2 299.5h0M189.7 261.5h0M216.9 246.8h0M223 308.8h0M225.5 276.3h0M247.2 260.9h0M224.7 291.3h0M217.2 249.4h0M210.6 258.7h0M221.9 306h0M240.8 269.7h0M182 263.3h0M221.7 249.3h0M182.9 231.3h0M222.1 259.7h0M179.2 264.4h0M178.6 287.7h0M184.1 283.5h0M245 281.4h0M230.5 298.2h0M229.3 291.1h0M219.4 297.5h0M190 248.1h0M220.9 272.6h0M227.8 306.1h0M172.8 288h0M205.8 229.7h0M223.1 299h0M164.9 297.1h0M182.3 260.6h0M190 288.1h0M171 281.1h0M195.1 262.2h0M195.3 254.7h0M196.1 278.7h0M174.1 290.8h0M220.4 227.5h0M174.9 273.3h0M215.1 308.3h0M193.2 258.5h0M226.8 294.2h0M175.6 293h0M187.8 277.2h0M227.7 287.2h0"/>
<path fill="none" stroke="#F22C6C" stroke-width="3.0" stroke-linecap="round" opacity="0.8" d="M188 254.2h0M249.2 276.9h0M217.4 228.5h0M195 240.2h0M243.7 278.4h0M224.3 247h0M248.3 285h0M253.7 271.6h0M170.6 265.7h0M216.4 234.7h0M187.4 269.7h0M216.2 238.2h0M191.7 247.7h0M236 266.6h0M228.5 247.8h0M245.3 289.8h0M193.1 224.4h0M217.5 253.3h0M181.7 232.5h0M193.8 281.1h0M197.6 235h0M217.8 251.5h0M221.1 268.7h0M209.9 262.9h0M245.2 257.4h0M229.7 246.4h0M168.5 276.3h0M179.8 251.1h0M228.1 288.1h0M188.7 250.6h0M188 227.9h0M188.2 233.7h0M206.9 308.7h0"/>
<path fill="none" stroke="#8A2CDC" stroke-width="3.0" stroke-linecap="round" opacity="0.8" d="M178.4 237.8h0M221.1 266.9h0M181 279.7h0M184.8 286.6h0M180.1 296.5h0M228 265.5h0M227.2 274h0M187.7 271.9h0M223.2 307.3h0M228.8 237.3h0M182.5 233.7h0M221.3 273.9h0M163.3 279.5h0M189.8 231.6h0M222.7 252.2h0M168.2 279.4h0M184 286.4h0M197.7 267.1h0M190.6 224.1h0M185.3 243.4h0M193.2 251.9h0M175.9 243.5h0M219.2 308.6h0M213.7 260.3h0M173.3 276.4h0M228.5 304.3h0M225.5 236.6h0M167.4 298.5h0M177 267.4h0M193.7 276.9h0M229.9 236h0M219 298h0M185.7 233.2h0M220 249.6h0"/>
<path fill="none" stroke="#BEBEC8" stroke-width="3.0" stroke-linecap="round" opacity="0.8" d="M191.5 270.2h0M218.5 306.2h0M190.4 292.7h0M191.6 233.5h0M227.9 277.4h0M184.2 289.2h0M178.3 233.1h0M189.1 224.3h0M251.1 287.3h0M189.1 226.2h0M227 301.3h0M228 270.9h0M225.7 268.9h0M193.4 286.5h0M191.3 244.1h0M180.3 261.3h0M186 304.7h0M233.4 298.6h0M172.5 298h0M216.4 289.5h0M222.5 302.8h0M225.6 241.4h0M225 247.5h0M212 250.4h0M229.5 305.9h0M173.7 277.3h0M198.8 271.1h0M176.9 304.9h0M188.7 256.3h0M173.2 290.6h0M235.8 291.6h0M193.7 229.4h0M244.7 253.4h0M240.5 269.1h0M180.3 272.6h0M192.7 246.3h0M238.7 274.6h0M176.8 284.2h0M206.7 281.8h0M227.4 301.7h0M194.6 285.4h0M192.2 287.2h0M213.5 264h0M217 299.6h0M223.8 248.5h0M219.3 303.8h0M221.4 232.5h0M194.3 249.1h0M222.8 255.7h0M192.7 266.6h0"/>
<path fill="none" stroke="#F21CE0" stroke-width="3.0" stroke-linecap="round" opacity="0.8" d="M189.3 274.1h0M186.8 247.5h0M189.1 266.2h0M191.8 265.1h0M163.3 293.2h0M250.1 278.7h0M196.9 283.8h0M211.3 257.1h0M221.2 224.9h0M239.1 299.3h0M172.2 281.7h0M184.9 225.4h0M224.4 239.3h0M173.8 271.1h0"/>
<path fill="none" stroke="#F07C92" stroke-width="3.0" stroke-linecap="round" opacity="0.8" d="M247.8 279.1h0M224.1 236.4h0M245 257.9h0M218.6 244h0M248.1 291.1h0M216.9 263.4h0M248.3 285.5h0M246.6 293.6h0M213.2 264.3h0M225.6 266.2h0M244.9 270.6h0M233.5 295.8h0M178 281.4h0M237.6 266.8h0M238 273.7h0M213.8 250.6h0M162.2 281.6h0M244.1 291.2h0M247.5 262.5h0M250.6 284.1h0M223.9 265h0M193 250.4h0M188.7 233.8h0M237.6 273.8h0M181.9 305.8h0"/>
<path fill="none" stroke="#BEBEC8" stroke-width="3.0" stroke-linecap="round" opacity="0.8" d="M189.8 223.1h0M223.9 284.8h0M172.2 305.9h0M236.1 268.5h0M217.6 292.3h0M189 289.7h0M215.8 229.1h0M186.7 234.7h0M245.7 265.9h0M243.1 270.7h0M213.5 226.6h0M220.9 259.9h0M186.7 289.2h0M215.2 262.7h0M215.6 263.9h0M227 278.3h0M205.5 284.9h0M172.9 272.1h0M233.7 297.6h0M227 301.1h0M180.5 268.3h0M195.7 282h0M224.2 240.6h0M218.4 297.1h0M177.4 273h0M184.8 279h0M215 253.1h0M249.6 266.9h0M191.9 242.5h0M216.5 224.3h0M179.6 295.7h0M220.5 236.4h0M194.6 260.4h0M187.2 252.3h0M192.8 296.5h0M240.2 274.3h0M223.2 243.7h0M213.8 290.8h0M196.9 265h0M185.9 281h0M192.4 254.4h0M251.9 268.7h0M176.7 264.8h0M219.9 305.4h0"/>
<path fill="none" stroke="#0C0CF2" stroke-width="3.0" stroke-linecap="round" opacity="0.8" d="M169.7 297.2h0M181.2 300.5h0M171.8 292.5h0M193.8 251.8h0M188.3 298.6h0M194.7 282h0M213.7 264.1h0M209.1 251.7h0M162.8 291h0M190.7 268.4h0M214.8 274.4h0M222.7 290.8h0M176 245.1h0M196 266.2h0M226.3 306.5h0M184.6 293.4h0M236.1 290.3h0M220.1 264.2h0M223.2 231.2h0M218.4 226.5h0M232.8 294.8h0M220 265.9h0M226.3 289.4h0M182.6 256.1h0M246 271.2h0M183.9 259.8h0M187.8 296.2h0M218.6 277.3h0M174.9 285.6h0M218.6 266.3h0M215 265.1h0M217 256.8h0M186.5 246.8h0M216.1 305.3h0M192.1 263.3h0M197.9 272.2h0M171.7 273.7h0M231.5 276.7h0M221.7 283.7h0M184.5 274h0M234.3 265.3h0M176.3 299.8h0M188 297.9h0M176.1 282.9h0M179.1 278.1h0M210.6 257.1h0M193.7 291.3h0M214.2 268.2h0M181.7 255.2h0M195.2 278h0M170.7 301.9h0M229.1 277.7h0M190.2 284.4h0M177.5 267.2h0M193.4 273.6h0M170.8 268.9h0M225.8 265h0M180.5 286.6h0M217.6 250.9h0M215.9 260.6h0M216.4 291.7h0M186.2 293.2h0M228.9 295.3h0M167.9 282.7h0M221.2 296.4h0M205.4 301.7h0M164.4 277.1h0M214.7 226.4h0M179.1 290.2h0M193.9 278.6h0M178.8 295.7h0M186.3 305.5h0M164.8 298.9h0M199.3 279h0M246.6 281.1h0M233.1 304.4h0M237.9 296.3h0M185.4 302.6h0M184.6 266.1h0M223.8 287.2h0M170.1 306.2h0M188.8 246.9h0M196.5 254.2h0M170.2 293h0M167 299.2h0M189.7 237.5h0M188.7 256.9h0M226.2 290.9h0M215.6 304.2h0M172.5 271.9h0M180.8 282.7h0M228.7 276.1h0M169.5 284.9h0M227.8 285.2h0M169.4 278.6h0M163.7 283h0M175.7 290h0M187.2 270.1h0M215.2 261.4h0M232.8 303.7h0M224.2 256.5h0M227.8 305.9h0M220.6 287.1h0M183.2 279.3h0M232.3 293.5h0M182.5 308.1h0"/>
<path fill="none" stroke="#F22C6C" stroke-width="3.0" stroke-linecap="round" opacity="0.8" d="M165.9 303.1h0M236.5 289.3h0M182.2 227.9h0M216.9 268.4h0M240 277.8h0M215.7 233.5h0M184.3 235h0M217.7 247.3h0M182.9 234.4h0M196.1 260.1h0M248.4 283.3h0M179.6 255.2h0M174.5 262.6h0M236 272.4h0M241.3 284.4h0M191.3 231.8h0M240.6 296h0M192.6 272.5h0M231.5 250.9h0M235.4 263.5h0M245.5 260.7h0M244.8 283.4h0M245.4 281h0M183 248.5h0M214.6 250.4h0M184.9 248.4h0M176.7 265.5h0M228.1 256.9h0M222.7 224.8h0M232.4 253.1h0M177.8 229.2h0M233.8 292.8h0M226.5 252.6h0M246.6 260.8h0"/>
<path fill="none" stroke="#F07C92" stroke-width="3.0" stroke-linecap="round" opacity="0.8" d="M179.2 247.3h0M190.4 240.4h0M242.4 288h0M194.8 252.6h0M243.6 288.6h0M248.7 273.3h0M225.7 259.8h0M239.9 269.3h0M183.4 264.7h0M172 281.9h0M245.1 283.9h0M246.1 273.6h0M215.9 264.6h0M224.2 250.1h0M242.5 264.8h0M243.9 291.2h0M239.6 296.9h0M217.9 231.6h0M245.2 286.2h0M184.5 299.8h0M230.5 253.7h0M244.1 273.5h0M239.6 266.4h0M179.5 305h0M238.9 263.1h0"/>
<path fill="none" stroke="#8A8AE2" stroke-width="3.0" stroke-linecap="round" opacity="0.8" d="M182.6 275.3h0M220.4 251.8h0M216.7 231.7h0M181.8 291.3h0M189.9 298.5h0M169.8 290h0M220 256.8h0M184.3 254.5h0M176.6 264h0M180 285.3h0M219.7 254.3h0M184.9 245h0M233 290.2h0M232.5 270.5h0M172.5 274.3h0M228.9 275.6h0M224 309.1h0M218.7 282.5h0M188.4 287.8h0M190.7 250.3h0M221.3 228.2h0M174.9 300.3h0M186.2 251.6h0M191.7 262h0M215.4 235.7h0M170.2 278.9h0M180.6 231.8h0M224.5 308h0M182.7 232.1h0M191.9 234.3h0M175.1 275.6h0M193.1 274.2h0M184.1 289.1h0M186.9 240.3h0M185.6 247.2h0M227.3 275.3h0M195.5 277.8h0M186.1 305.1h0M236.5 302.9h0M183.3 270.6h0M218.2 299.7h0M222.1 287.5h0M168.3 289.2h0M177.2 281.1h0M189.6 277.4h0M184 270.8h0"/>
<path fill="none" stroke="#8A2CDC" stroke-width="3.0" stroke-linecap="round" opacity="0.8" d="M181 275.3h0M176.1 302.7h0M185.9 225.5h0M229.2 283.2h0M214.1 289.8h0M225.4 228.7h0M176.3 293.3h0M178.9 309h0M180.7 286h0M218.9 252.5h0M232.4 303.9h0M195.8 277h0M182.3 232.8h0M221.8 291.5h0M179.3 231.5h0M231.1 291.5h0M214.6 270.3h0M190.7 283.9h0M188.2 250.4h0"/>
<path fill="none" stroke="#F21CE0" stroke-width="3.0" stroke-linecap="round" opacity="0.8" d="M237.2 277.7h0M165.7 286.8h0M224 288.7h0M177.6 274.1h0M219.8 232.3h0M237.8 277.5h0M221.9 245.1h0M192.7 265.9h0M181 277.3h0M191.4 272.6h0M248.4 291.6h0M215.4 228.5h0M198.5 265.4h0M220.7 235.7h0M176.9 269.5h0M180.1 264.3h0M173 295.9h0M227 244.9h0M251.4 268.2h0M176.5 250.8h0"/>
<path fill="none" stroke="#FF1414" stroke-width="3.0" stroke-linecap="round" opacity="0.8" d="M243.4 265.1h0"/>
<rect x="155.5" y="213" width="108.0" height="107" fill="none" stroke="#2a2a2a" stroke-width="0.9"/>
<text x="6.8" y="204" font-size="10.5" font-weight="bold">C</text>
<text x="95" y="206.2" font-size="7.8" text-anchor="middle">homo_sapiens</text>
<text x="212" y="206.2" font-size="7.8" text-anchor="middle">mus_musculus</text>
<text x="154" y="334.6" font-size="8.5" text-anchor="middle">UMAP 1</text>
<text x="36.2" y="264.5" font-size="8.5" text-anchor="middle" transform="rotate(-90 36.2 264.5)">UMAP 2</text>
<defs><linearGradient id="gb" x1="0" y1="1" x2="0" y2="0"><stop offset="0" stop-color="#C0C0C0"/><stop offset="1" stop-color="#0000FF"/></linearGradient><linearGradient id="gt" x1="0" y1="1" x2="0" y2="0"><stop offset="0" stop-color="#FF0000"/><stop offset="1" stop-color="#FF00FF"/></linearGradient><linearGradient id="gm" x1="0" y1="0" x2="1" y2="0"><stop offset="0" stop-color="#fff" stop-opacity="0"/><stop offset="1" stop-color="#fff" stop-opacity="1"/></linearGradient><mask id="mk"><rect x="314.5" y="251" width="39" height="38" fill="url(#gm)"/></mask></defs>
<rect x="314.5" y="251" width="39" height="38" fill="url(#gb)"/>
<rect x="314.5" y="251" width="39" height="38" fill="url(#gt)" mask="url(#mk)"/>
<path d="M314.2 250.5V289.3H353.5" fill="none" stroke="#111" stroke-width="0.9"/>
<path d="M312.2 282.2h2" stroke="#111" stroke-width="0.8"/>
<text x="311.3" y="284.7" font-size="7" text-anchor="end" fill="#222">2.5</text>
<path d="M312.2 272.4h2" stroke="#111" stroke-width="0.8"/>
<text x="311.3" y="274.9" font-size="7" text-anchor="end" fill="#222">5.0</text>
<path d="M312.2 262.7h2" stroke="#111" stroke-width="0.8"/>
<text x="311.3" y="265.2" font-size="7" text-anchor="end" fill="#222">7.5</text>
<path d="M312.2 252.9h2" stroke="#111" stroke-width="0.8"/>
<text x="311.3" y="255.4" font-size="7" text-anchor="end" fill="#222">10.0</text>
<path d="M319.9 289.3v2" stroke="#111" stroke-width="0.8"/>
<text x="319.9" y="301.2" font-size="7" text-anchor="middle" fill="#222">2</text>
<path d="M327.5 289.3v2" stroke="#111" stroke-width="0.8"/>
<text x="327.5" y="301.2" font-size="7" text-anchor="middle" fill="#222">4</text>
<path d="M335.1 289.3v2" stroke="#111" stroke-width="0.8"/>
<text x="335.1" y="301.2" font-size="7" text-anchor="middle" fill="#222">6</text>
<path d="M342.7 289.3v2" stroke="#111" stroke-width="0.8"/>
<text x="342.7" y="301.2" font-size="7" text-anchor="middle" fill="#222">8</text>
<path d="M350.3 289.3v2" stroke="#111" stroke-width="0.8"/>
<text x="350.9" y="301.2" font-size="7" text-anchor="middle" fill="#222">10</text>
<text x="333" y="228.6" font-size="9.5" font-weight="bold" text-anchor="middle">NES and MAP2</text>
<text x="333" y="241" font-size="9.5" font-weight="bold" text-anchor="middle">Expression</text>
<text x="334" y="310.5" font-size="8.3" text-anchor="middle">NES</text>
<text x="290.8" y="270" font-size="8.3" text-anchor="middle" transform="rotate(-90 290.8 270)">MAP2</text>
<path fill="none" stroke="#1FBBDD" stroke-width="2.1" stroke-linecap="round" opacity="0.9" d="M87.1 461.3h0M80.4 445.1h0M83.5 446.9h0M88.7 441.6h0M87.9 461.5h0M80.6 453.2h0M84.8 453.5h0M88.7 448.2h0M73.7 441.3h0M80.7 445.8h0M84.4 452.7h0M93.5 434.4h0M85.2 442.3h0M72.7 444.9h0M87 455.9h0M83.5 433.3h0M81.4 435.7h0M87.7 435.2h0M94.3 437.1h0M86.8 460.8h0M73.6 450.7h0M74.5 437.4h0M76.5 437.5h0M83.8 456.2h0M75.6 448.7h0M89.1 462.1h0M88.1 444.7h0M72.4 452.4h0M75.9 444.5h0M93.9 438.6h0M80.2 438.4h0M85.2 447.9h0M85.6 454.2h0M70.8 446h0M88.1 446.1h0M87 448.4h0M90.8 445.4h0M92.6 449.1h0M77.4 454h0M77.7 443h0M82 433h0M76.3 429.9h0M82.2 446h0M65.2 479h0M71.6 450.5h0M50.6 456.7h0M90.2 464.2h0M89.5 452.4h0M79 446.4h0M62.9 480.1h0M78 452.7h0M94.7 436.9h0M81.4 453h0M79.5 445.9h0M90.4 431.9h0M78.4 434.2h0M74.1 448.6h0M79.1 447.6h0M89.8 463.6h0M78.9 452.1h0M90.8 445.7h0M90.7 454h0M73.3 435.1h0M71.6 450.6h0M86.7 428.3h0M81.3 452.8h0M86 442.6h0M84.7 427.9h0M86.3 456.3h0M78.1 451.1h0M93.3 438.6h0M89.4 435.1h0M85.8 431.1h0M83.4 445.7h0M79.7 443.9h0M90.9 465.6h0M94.3 441.3h0M77.5 444h0M72.1 437.3h0M72.7 447.5h0M88.7 443.7h0M86.4 473.4h0M82.1 444.9h0"/>
<path fill="none" stroke="#F0554B" stroke-width="2.1" stroke-linecap="round" opacity="0.9" d="M112 500.7h0M91.2 519h0M95.2 511h0M68.9 504.4h0M75.2 502.9h0M76.7 516.9h0M74 517.9h0M61.6 515.9h0M64.6 520.5h0M127.3 498.6h0M91.3 519.6h0M92.5 501.9h0M107.1 495.7h0M93.3 515.8h0M73.5 520.5h0M87.4 520h0M78.1 521h0M82 522.1h0M93 519.9h0M76.8 522.6h0M60.5 519.4h0M62.4 519.8h0M70.8 508.4h0M89.6 521.2h0M70 511.7h0M63.8 515.8h0M51.5 503.4h0M83.4 518.3h0M58.5 509.3h0M86.8 516.9h0M41.7 511.1h0M91 506.2h0M39.4 519.1h0M82.9 519.6h0M89.7 516.3h0M66.9 517.7h0M79 521.6h0M62.5 518h0M63.4 493h0M92.4 515.8h0M107.9 493.8h0M93.2 520.2h0M83.5 515.1h0M58.6 518.9h0M73.5 520.5h0M91 516.5h0M74 521h0M57.2 514.1h0M57.1 518.4h0M53.3 519.4h0M69.7 503.6h0M83 498h0M53.5 509.4h0M84.4 520.2h0M74.2 504.1h0M78 519.8h0M113.7 491.2h0M79.9 503.7h0M80.8 521.8h0M59.7 517.5h0M72.8 520.9h0M81.6 519.4h0M40.5 516.9h0M83.2 514.7h0M51.4 515.2h0M92.9 519.1h0M70.9 508.8h0M61.8 503.5h0M60.5 522.6h0M92.5 519.3h0M76.3 518h0M122.5 486.5h0M87.8 504.8h0M119.4 501.7h0M80.2 520h0M93 501.4h0M85 523.5h0M70.2 516h0M77 518.7h0M64.1 518.9h0M94.1 519.5h0M113 497.2h0M94.4 516.5h0M108.6 496.3h0M78.2 520.6h0M90.8 515.5h0M83.4 516h0M76.7 505.3h0M88.9 519h0M50 516.5h0M91.2 519.5h0M87.5 516.1h0M111 501.9h0M96.7 519.9h0M96.4 496.4h0M57.6 520.4h0M59.3 516.4h0M92.4 522.3h0M45.3 506.5h0M77.8 518.2h0M58.5 514.3h0M87.9 523.7h0M88.5 516.7h0M100.9 498h0M90 518.3h0M52 508.9h0M115.7 505h0M64.5 522.5h0M90.5 500.9h0M109.1 499.3h0M88.1 514.1h0M97.1 443.3h0M117.5 497h0M80.9 491.7h0M86.5 515.1h0M64.5 517.8h0M62.6 519.1h0M64.5 522h0M94.2 521.1h0M90.5 518.5h0M88.2 521.5h0M94.6 518.9h0M82.4 521.1h0M68.3 516h0M79.1 522.5h0M114.4 496.3h0M94.9 517.9h0M112.4 495h0M85.8 523.7h0M83.3 515.5h0M70.3 504.8h0M122.8 491.7h0M58.4 514.8h0M109 504.2h0M78.5 519.3h0M88.2 521.7h0M84.4 523h0M49.9 516.1h0M71 516.4h0M69 505.3h0M91.7 521.7h0M85.8 516.3h0M88.8 522.8h0M85.1 515.3h0M76 520h0M61.4 519.7h0M85.1 503.2h0M83.5 521.8h0M118.9 495.7h0M52.7 504.3h0M76.7 519.2h0M63.2 500.7h0"/>
<path fill="none" stroke="#2FB457" stroke-width="2.1" stroke-linecap="round" opacity="0.9" d="M45.6 442.1h0M57.3 495.7h0M40 454.6h0M48.1 450.1h0M41.6 440.1h0M47.5 457.7h0M52.2 431.1h0M50.6 454.4h0M46.8 445.9h0M57.1 433.3h0M46.2 440.1h0M47.3 435.1h0M35.9 444.6h0M47.3 435h0M45.1 435.9h0M43.6 436.8h0M60.9 430.2h0M24.8 506.9h0M39.8 452.9h0M45.9 437.4h0M36.3 445.4h0M23.7 499.1h0M45.2 453h0M50.4 452.6h0M62.1 434.6h0M32.7 448.5h0M39.5 454.8h0M57.1 431.7h0M38 445.1h0M45.3 444.9h0M46.9 458h0M59.9 432.6h0M39.3 445.7h0M45.1 454.7h0M54.8 433.4h0M54.1 438.2h0M56.4 428.2h0M59.8 431.7h0M64.9 433h0M42.4 437.5h0M38.6 446.9h0M49.5 482.3h0M58.6 429h0M58.9 435.1h0M50.7 448.8h0M35.1 453.7h0M45.7 435.7h0M35.2 439.2h0M60.1 432.8h0M45.5 436.1h0M40.3 455.2h0M42.7 456.3h0M32 451.9h0M60.7 435.3h0M51.6 432.4h0M41 440.2h0M63 432.4h0M42.5 443.4h0M51.8 432.5h0M42.5 452.7h0M35.3 453.4h0M40.3 446.4h0M51.2 430.1h0M52.1 435.9h0M63.4 435h0M35.7 442.6h0M45.7 442.6h0M47.8 438.7h0M107.7 477.9h0M50.3 426.5h0M45.4 441.7h0M41.8 448.1h0M48.7 448.1h0M56.9 429.6h0M45.9 441.7h0M56.4 428.9h0M53.7 434.4h0M46.5 447.8h0M62.7 429.8h0M43.1 451.3h0M49.7 431.7h0M41.6 462.3h0M57.1 430.4h0M42.4 451.3h0M36.7 450.9h0M42.7 444.9h0M48 450.4h0M42.9 446.9h0M44.5 439.2h0M49.2 431.4h0M42.6 453.4h0"/>
<path fill="none" stroke="#B842C8" stroke-width="2.1" stroke-linecap="round" opacity="0.9" d="M78.4 472h0M61.7 461.7h0M74.2 470.4h0M67.2 463h0M70 467.9h0M65.2 463.3h0M62.9 462.8h0M65.7 467.3h0M59.8 463.6h0M60.6 460.3h0M77.5 472.7h0M56.3 458.6h0M66.5 469.4h0M74.6 468.4h0M69.2 467.1h0M66.3 463.9h0M64.4 462.9h0M66.6 465.7h0M60.7 462.3h0M71.9 471.4h0M73.3 473.6h0M72.9 465.3h0M74.4 470.7h0M71.9 469.6h0M74.9 471h0M61.3 461.3h0M73 467.7h0M59.3 459.2h0M70.3 462.6h0M71.8 470.8h0M77.4 473.1h0M73.7 471.5h0M68.7 461.7h0M60.9 460.5h0M64.9 465.7h0M59.2 463.7h0M76.3 466.7h0M72.2 468.6h0M67.8 468.5h0M71.4 471h0M75.5 470.4h0M71.5 465.6h0M66.3 460.6h0M62.7 466.7h0M65.7 464h0M66.2 465.5h0M62.9 459.2h0M64.4 466.8h0M72.3 466.6h0M69.6 462.3h0M74.1 467.9h0M64.2 464.7h0M61.6 459.2h0M73.1 473.6h0M64.5 462.5h0M68 463h0M68 464.9h0M67.3 462.5h0M78.1 472.3h0M63.6 459.7h0M67.3 467.5h0M71.1 469.3h0M73.2 466.8h0M61.8 461.8h0M60.1 462.9h0M74.3 471.7h0M62.1 462.8h0M71.8 470.1h0M72.1 469.4h0M69.2 465.7h0M75.5 469.5h0M79.4 468.8h0M69.3 469h0M74.6 466.2h0M72.3 469h0"/>
<path fill="none" stroke="#C4C4C4" stroke-width="2.1" stroke-linecap="round" opacity="0.9" d="M57.3 495.7h0M49.5 473.4h0M54 484.6h0M52.8 479h0"/>
<path fill="none" stroke="#F7A233" stroke-width="2.1" stroke-linecap="round" opacity="0.9" d="M23.2 504.1h0M57.3 495.1h0M44.4 509.1h0"/>
<path fill="none" stroke="#2E8BCB" stroke-width="2.1" stroke-linecap="round" opacity="0.9" d="M121.3 499.6h0M122.2 492.6h0M122.4 500h0M119.8 488.9h0M122.2 501.2h0M118.4 477.3h0M120.1 474h0M119.8 486.7h0M119.3 473.1h0M121.9 492.6h0M121.9 493.6h0M121.3 497.8h0M122.4 485.3h0M122.5 500.9h0M119 475.6h0M120.4 500.9h0M120.5 489.9h0M118.6 484.6h0M119.1 470.6h0M121 490.2h0M121.4 497.7h0M123.2 477.2h0"/>
<rect x="17" y="421" width="112" height="111.5" fill="none" stroke="#2a2a2a" stroke-width="0.9"/>
<path fill="#2E8BCB" opacity="0.95" d="M219.4 488.2l1.2 2.1h-2.4zM222.3 505.3l1.2 2.1h-2.4zM234.9 496.1l1.2 2.1h-2.4zM227.7 481.9l1.2 2.1h-2.4zM228 480.5l1.2 2.1h-2.4zM228.8 471.8l1.2 2.1h-2.4zM221.6 502.7l1.2 2.1h-2.4zM225.9 481.7l1.2 2.1h-2.4zM232.8 482.7l1.2 2.1h-2.4zM238.3 485.5l1.2 2.1h-2.4zM227.2 490.3l1.2 2.1h-2.4zM232.6 486.4l1.2 2.1h-2.4zM227.7 483.4l1.2 2.1h-2.4zM226.2 488.6l1.2 2.1h-2.4zM223 480.3l1.2 2.1h-2.4zM226.9 497.2l1.2 2.1h-2.4zM227.2 484.5l1.2 2.1h-2.4zM228.1 482.2l1.2 2.1h-2.4zM231.4 490.9l1.2 2.1h-2.4zM228.5 488.7l1.2 2.1h-2.4zM234.8 480.7l1.2 2.1h-2.4zM237.5 484.1l1.2 2.1h-2.4zM223.6 481.2l1.2 2.1h-2.4zM225.4 479.5l1.2 2.1h-2.4zM229 492.1l1.2 2.1h-2.4zM230.8 481.1l1.2 2.1h-2.4zM232 485.5l1.2 2.1h-2.4zM221.7 481.4l1.2 2.1h-2.4zM229.1 484l1.2 2.1h-2.4zM223.8 476.9l1.2 2.1h-2.4zM239.1 482.9l1.2 2.1h-2.4zM227.7 478.9l1.2 2.1h-2.4zM238.8 474.3l1.2 2.1h-2.4zM230.3 475.1l1.2 2.1h-2.4zM232.7 485.7l1.2 2.1h-2.4zM236.9 472.7l1.2 2.1h-2.4zM225.3 486.2l1.2 2.1h-2.4zM231.9 474.3l1.2 2.1h-2.4zM222.1 481.6l1.2 2.1h-2.4zM236.1 483.8l1.2 2.1h-2.4zM234.7 487l1.2 2.1h-2.4zM228.8 498.2l1.2 2.1h-2.4zM241.8 488.9l1.2 2.1h-2.4zM219.8 504.1l1.2 2.1h-2.4zM222.4 487.4l1.2 2.1h-2.4zM240.2 477.6l1.2 2.1h-2.4zM240.3 473.8l1.2 2.1h-2.4zM224.3 491.2l1.2 2.1h-2.4zM224.1 490.7l1.2 2.1h-2.4zM239.4 484l1.2 2.1h-2.4zM230.6 479.4l1.2 2.1h-2.4zM224 476l1.2 2.1h-2.4zM232.5 482.1l1.2 2.1h-2.4zM230.7 490.4l1.2 2.1h-2.4zM226 484.3l1.2 2.1h-2.4zM226.5 490l1.2 2.1h-2.4zM219.4 500l1.2 2.1h-2.4zM237.3 486.2l1.2 2.1h-2.4zM222.6 498.7l1.2 2.1h-2.4zM231.6 489.8l1.2 2.1h-2.4zM236.6 490.9l1.2 2.1h-2.4zM224.3 489.1l1.2 2.1h-2.4zM221.4 488.5l1.2 2.1h-2.4zM230.4 492.4l1.2 2.1h-2.4zM228 493.2l1.2 2.1h-2.4zM222.8 484.6l1.2 2.1h-2.4zM235.7 483l1.2 2.1h-2.4zM221.8 485.2l1.2 2.1h-2.4zM234.8 484.8l1.2 2.1h-2.4zM226.3 495l1.2 2.1h-2.4zM226.2 474.7l1.2 2.1h-2.4zM226.9 480l1.2 2.1h-2.4zM227.3 488.8l1.2 2.1h-2.4zM238.8 485.1l1.2 2.1h-2.4zM231.1 477.3l1.2 2.1h-2.4zM233.5 494.5l1.2 2.1h-2.4zM224.1 482.9l1.2 2.1h-2.4zM222.4 490.2l1.2 2.1h-2.4zM222.5 494.9l1.2 2.1h-2.4z"/>
<path fill="#F0554B" opacity="0.95" d="M202.9 491.4l1.2 2.1h-2.4zM218.5 493.1l1.2 2.1h-2.4zM213.6 507.5l1.2 2.1h-2.4zM216.9 499.4l1.2 2.1h-2.4zM209.4 520.2l1.2 2.1h-2.4zM209 509.8l1.2 2.1h-2.4zM202.6 510.4l1.2 2.1h-2.4zM211.9 489.4l1.2 2.1h-2.4zM201.3 509l1.2 2.1h-2.4zM204.1 506.8l1.2 2.1h-2.4zM208.8 495.5l1.2 2.1h-2.4zM218.6 493.4l1.2 2.1h-2.4zM203.9 504.8l1.2 2.1h-2.4zM197.1 494.2l1.2 2.1h-2.4zM208.2 491.6l1.2 2.1h-2.4zM206.2 491l1.2 2.1h-2.4zM197.2 519.1l1.2 2.1h-2.4zM217.1 510.4l1.2 2.1h-2.4zM198.3 519.8l1.2 2.1h-2.4zM209.4 513.2l1.2 2.1h-2.4zM201.3 500.5l1.2 2.1h-2.4zM211.2 497.3l1.2 2.1h-2.4zM207.5 518.8l1.2 2.1h-2.4zM207.9 494.9l1.2 2.1h-2.4zM181 503.4l1.2 2.1h-2.4zM214.3 504.4l1.2 2.1h-2.4zM217.3 497.6l1.2 2.1h-2.4zM204.1 505.8l1.2 2.1h-2.4zM207.7 512.6l1.2 2.1h-2.4zM200.6 496.7l1.2 2.1h-2.4zM207 500.3l1.2 2.1h-2.4zM200.8 500.6l1.2 2.1h-2.4zM213.7 518.4l1.2 2.1h-2.4zM211 502.5l1.2 2.1h-2.4zM219.1 503l1.2 2.1h-2.4zM204.3 502l1.2 2.1h-2.4zM219.5 506.3l1.2 2.1h-2.4zM195.7 504.2l1.2 2.1h-2.4zM213.4 504.4l1.2 2.1h-2.4zM212.3 517.2l1.2 2.1h-2.4zM210.2 515.5l1.2 2.1h-2.4zM212.5 492l1.2 2.1h-2.4zM217.9 515.4l1.2 2.1h-2.4zM205.9 488.3l1.2 2.1h-2.4zM210 508.9l1.2 2.1h-2.4zM204.7 516.2l1.2 2.1h-2.4zM218.3 489.7l1.2 2.1h-2.4zM197.1 506.7l1.2 2.1h-2.4zM200.9 515.6l1.2 2.1h-2.4zM206.9 507l1.2 2.1h-2.4zM208 490.9l1.2 2.1h-2.4zM210.6 516.1l1.2 2.1h-2.4zM204.8 523.4l1.2 2.1h-2.4zM211.8 501.7l1.2 2.1h-2.4zM204.2 519.9l1.2 2.1h-2.4zM214.4 497.7l1.2 2.1h-2.4zM217.1 496.8l1.2 2.1h-2.4zM215.6 502.6l1.2 2.1h-2.4zM200.8 518l1.2 2.1h-2.4zM210.7 521l1.2 2.1h-2.4zM214.3 504.6l1.2 2.1h-2.4zM210.5 485.6l1.2 2.1h-2.4zM219.4 502.4l1.2 2.1h-2.4zM210 505.9l1.2 2.1h-2.4zM206.9 513.2l1.2 2.1h-2.4zM214.6 517.2l1.2 2.1h-2.4zM218 454.3l1.2 2.1h-2.4zM207 505.4l1.2 2.1h-2.4zM202.2 509.2l1.2 2.1h-2.4zM208.6 503.6l1.2 2.1h-2.4zM197 518.8l1.2 2.1h-2.4zM207.6 494.3l1.2 2.1h-2.4zM209.6 502.8l1.2 2.1h-2.4zM207.5 491.8l1.2 2.1h-2.4zM212.4 430.9l1.2 2.1h-2.4zM206.3 514.5l1.2 2.1h-2.4zM203.3 494.2l1.2 2.1h-2.4zM206.9 514.1l1.2 2.1h-2.4zM206.6 497.5l1.2 2.1h-2.4zM212 513.3l1.2 2.1h-2.4zM217.3 494.6l1.2 2.1h-2.4zM204.1 499.9l1.2 2.1h-2.4zM203.4 512.3l1.2 2.1h-2.4zM203.9 506.9l1.2 2.1h-2.4zM201 521l1.2 2.1h-2.4zM210.2 498.1l1.2 2.1h-2.4zM205.1 503.6l1.2 2.1h-2.4zM211.7 492.7l1.2 2.1h-2.4zM205.2 490.9l1.2 2.1h-2.4zM196.9 503.6l1.2 2.1h-2.4zM218.7 514.6l1.2 2.1h-2.4zM210.9 520.7l1.2 2.1h-2.4zM209.8 504.9l1.2 2.1h-2.4zM195.6 517l1.2 2.1h-2.4zM220.1 506l1.2 2.1h-2.4zM212.1 501.4l1.2 2.1h-2.4zM211.7 512.7l1.2 2.1h-2.4zM208.1 501.8l1.2 2.1h-2.4zM205.4 485.8l1.2 2.1h-2.4zM206.6 502.3l1.2 2.1h-2.4zM195.6 511.2l1.2 2.1h-2.4zM200 506.3l1.2 2.1h-2.4zM217.4 509l1.2 2.1h-2.4zM222.9 506.1l1.2 2.1h-2.4z"/>
<path fill="#F7A233" opacity="0.95" d="M171.8 494l1.2 2.1h-2.4zM149.1 491.5l1.2 2.1h-2.4zM169.5 484.2l1.2 2.1h-2.4zM141.6 497.6l1.2 2.1h-2.4zM146.3 503.4l1.2 2.1h-2.4zM158.4 475.3l1.2 2.1h-2.4zM146.2 493.9l1.2 2.1h-2.4zM149.1 502.5l1.2 2.1h-2.4zM144.8 502.6l1.2 2.1h-2.4zM164.7 495l1.2 2.1h-2.4zM147.3 494.6l1.2 2.1h-2.4zM166.3 492.5l1.2 2.1h-2.4zM143.1 500.9l1.2 2.1h-2.4zM148.5 503.8l1.2 2.1h-2.4zM154.5 478.3l1.2 2.1h-2.4zM152.2 497.8l1.2 2.1h-2.4zM163.2 481.2l1.2 2.1h-2.4zM148.2 522.6l1.2 2.1h-2.4zM160.5 500.2l1.2 2.1h-2.4zM161.7 519.8l1.2 2.1h-2.4zM145.9 495.4l1.2 2.1h-2.4zM155 521l1.2 2.1h-2.4zM168.2 497.5l1.2 2.1h-2.4zM146.1 515.3l1.2 2.1h-2.4zM155.6 517.7l1.2 2.1h-2.4zM156.9 502.9l1.2 2.1h-2.4zM144.6 502.2l1.2 2.1h-2.4zM169.2 499.7l1.2 2.1h-2.4zM153.6 490.4l1.2 2.1h-2.4zM150.8 481.6l1.2 2.1h-2.4zM165.5 498.7l1.2 2.1h-2.4zM146.5 499.7l1.2 2.1h-2.4zM154.8 515.3l1.2 2.1h-2.4zM160.4 502.4l1.2 2.1h-2.4zM149.2 510.8l1.2 2.1h-2.4zM156.9 465.3l1.2 2.1h-2.4zM161.3 515.4l1.2 2.1h-2.4zM143.9 488.5l1.2 2.1h-2.4zM156.6 495.5l1.2 2.1h-2.4zM164.6 484.3l1.2 2.1h-2.4zM165 496.2l1.2 2.1h-2.4zM166.6 495.5l1.2 2.1h-2.4zM145.3 488.3l1.2 2.1h-2.4zM166.7 487.2l1.2 2.1h-2.4zM157.2 481.7l1.2 2.1h-2.4zM146.1 491.4l1.2 2.1h-2.4zM163.2 507.3l1.2 2.1h-2.4zM149.8 480.8l1.2 2.1h-2.4zM156.7 505.7l1.2 2.1h-2.4zM156.7 475.1l1.2 2.1h-2.4zM159.3 518.9l1.2 2.1h-2.4zM166.8 471.3l1.2 2.1h-2.4zM165.2 501.3l1.2 2.1h-2.4zM146 519.8l1.2 2.1h-2.4zM168.7 492.8l1.2 2.1h-2.4zM154.6 517.6l1.2 2.1h-2.4zM155.9 476.5l1.2 2.1h-2.4zM143.9 501.2l1.2 2.1h-2.4zM167 488.7l1.2 2.1h-2.4zM153.9 516.2l1.2 2.1h-2.4zM151.4 510.2l1.2 2.1h-2.4zM147.2 496.8l1.2 2.1h-2.4zM145.2 508.8l1.2 2.1h-2.4zM155.7 514.8l1.2 2.1h-2.4zM155.4 515.2l1.2 2.1h-2.4zM153.8 484.9l1.2 2.1h-2.4zM153.4 507.9l1.2 2.1h-2.4zM158.2 515.6l1.2 2.1h-2.4zM163.4 495l1.2 2.1h-2.4zM149.9 523.9l1.2 2.1h-2.4zM156.4 481.3l1.2 2.1h-2.4zM165 506.4l1.2 2.1h-2.4zM154.3 483.6l1.2 2.1h-2.4zM154.6 477.3l1.2 2.1h-2.4zM162.2 484.8l1.2 2.1h-2.4zM149 487.4l1.2 2.1h-2.4zM151.3 525.8l1.2 2.1h-2.4zM155.5 488.4l1.2 2.1h-2.4zM161.9 475.6l1.2 2.1h-2.4zM158.1 503.5l1.2 2.1h-2.4zM156.5 502.8l1.2 2.1h-2.4zM148.7 490.5l1.2 2.1h-2.4zM156.4 488.9l1.2 2.1h-2.4zM152.1 484.4l1.2 2.1h-2.4zM149.7 489.1l1.2 2.1h-2.4zM146.4 509.1l1.2 2.1h-2.4zM155.4 502.8l1.2 2.1h-2.4zM154 500.3l1.2 2.1h-2.4zM154.6 504.1l1.2 2.1h-2.4zM163.5 504.5l1.2 2.1h-2.4zM153.7 521.9l1.2 2.1h-2.4zM152.9 511.7l1.2 2.1h-2.4zM167.4 500.2l1.2 2.1h-2.4zM139.5 505.3l1.2 2.1h-2.4zM163.2 507.6l1.2 2.1h-2.4zM166 482.4l1.2 2.1h-2.4zM166.7 500.4l1.2 2.1h-2.4zM148.8 507l1.2 2.1h-2.4zM172.6 485.4l1.2 2.1h-2.4zM155.4 507.8l1.2 2.1h-2.4zM148.8 491.1l1.2 2.1h-2.4zM170.7 506.1l1.2 2.1h-2.4zM146.8 502.2l1.2 2.1h-2.4zM157.4 491.8l1.2 2.1h-2.4zM159.9 498.1l1.2 2.1h-2.4zM162.7 485.5l1.2 2.1h-2.4zM161.2 478.6l1.2 2.1h-2.4zM161.5 494l1.2 2.1h-2.4zM149.4 502.6l1.2 2.1h-2.4zM157.7 515.8l1.2 2.1h-2.4zM155.9 494.4l1.2 2.1h-2.4zM158.9 510.6l1.2 2.1h-2.4zM155.6 517.3l1.2 2.1h-2.4zM165.7 472.8l1.2 2.1h-2.4zM149.3 471.6l1.2 2.1h-2.4zM155.3 509.2l1.2 2.1h-2.4zM164 486.4l1.2 2.1h-2.4zM161.5 496.5l1.2 2.1h-2.4zM145.9 510.9l1.2 2.1h-2.4zM148.8 489.1l1.2 2.1h-2.4zM152.7 507.6l1.2 2.1h-2.4zM169.5 481.5l1.2 2.1h-2.4zM160.8 478.6l1.2 2.1h-2.4zM172.9 497.3l1.2 2.1h-2.4zM157 509.1l1.2 2.1h-2.4zM150.6 518.7l1.2 2.1h-2.4zM143.3 512.7l1.2 2.1h-2.4zM166.1 477.2l1.2 2.1h-2.4zM152.3 510.7l1.2 2.1h-2.4zM143.1 504.9l1.2 2.1h-2.4zM149 505.8l1.2 2.1h-2.4zM153.4 474.3l1.2 2.1h-2.4zM155.1 512.9l1.2 2.1h-2.4zM163 473.2l1.2 2.1h-2.4zM147 499.6l1.2 2.1h-2.4zM149.9 492.4l1.2 2.1h-2.4zM151.2 507.1l1.2 2.1h-2.4zM167.8 496.4l1.2 2.1h-2.4zM167.2 506.1l1.2 2.1h-2.4zM160.1 483.3l1.2 2.1h-2.4zM162.3 498.7l1.2 2.1h-2.4z"/>
<path fill="#C4C4C4" opacity="0.95" d="M169.4 478.9l1.2 2.1h-2.4zM178.8 484.4l1.2 2.1h-2.4zM170.1 489.9l1.2 2.1h-2.4zM177.3 488.7l1.2 2.1h-2.4zM177.5 488.2l1.2 2.1h-2.4zM173.9 487.8l1.2 2.1h-2.4zM169.4 490.8l1.2 2.1h-2.4zM172.9 487.5l1.2 2.1h-2.4zM172.4 477.6l1.2 2.1h-2.4zM181.6 478.8l1.2 2.1h-2.4zM172.8 472.9l1.2 2.1h-2.4zM176 482.4l1.2 2.1h-2.4zM169.7 479.6l1.2 2.1h-2.4zM175.8 492.7l1.2 2.1h-2.4zM172.9 477.3l1.2 2.1h-2.4zM175.3 480.6l1.2 2.1h-2.4zM178.1 479.2l1.2 2.1h-2.4zM170.1 490.2l1.2 2.1h-2.4zM174.3 482.1l1.2 2.1h-2.4zM171.1 485.9l1.2 2.1h-2.4zM172.1 488l1.2 2.1h-2.4zM175.1 484.8l1.2 2.1h-2.4zM172.5 471l1.2 2.1h-2.4zM168.5 484.8l1.2 2.1h-2.4zM168.1 480.2l1.2 2.1h-2.4zM172 484.9l1.2 2.1h-2.4zM172.5 488.6l1.2 2.1h-2.4zM174.3 479.1l1.2 2.1h-2.4zM166.8 485.9l1.2 2.1h-2.4zM171.6 476.7l1.2 2.1h-2.4zM170.5 478.8l1.2 2.1h-2.4z"/>
<path fill="#1FBBDD" opacity="0.95" d="M207.5 458.9l1.2 2.1h-2.4zM214.4 441.1l1.2 2.1h-2.4zM201.9 479.3l1.2 2.1h-2.4zM210.4 436.5l1.2 2.1h-2.4zM206.1 461.5l1.2 2.1h-2.4zM206.9 435.5l1.2 2.1h-2.4zM208.6 445.3l1.2 2.1h-2.4zM207.6 454.4l1.2 2.1h-2.4zM214.2 481.6l1.2 2.1h-2.4zM210.8 471.7l1.2 2.1h-2.4zM205.2 428.2l1.2 2.1h-2.4zM200.7 458.4l1.2 2.1h-2.4zM198.4 439.4l1.2 2.1h-2.4zM215.3 475.4l1.2 2.1h-2.4zM208.3 454.5l1.2 2.1h-2.4zM207.9 450.8l1.2 2.1h-2.4zM212.1 463.1l1.2 2.1h-2.4zM202.6 455.7l1.2 2.1h-2.4zM203 477.6l1.2 2.1h-2.4zM202.5 430.5l1.2 2.1h-2.4zM209.7 473.9l1.2 2.1h-2.4zM204.9 455.3l1.2 2.1h-2.4zM198.5 432.6l1.2 2.1h-2.4zM200.9 435.5l1.2 2.1h-2.4zM200.8 438.8l1.2 2.1h-2.4zM215.7 445l1.2 2.1h-2.4zM200.5 444.7l1.2 2.1h-2.4zM217.5 481l1.2 2.1h-2.4zM204.6 436.8l1.2 2.1h-2.4zM214.9 445.5l1.2 2.1h-2.4zM213.9 457.7l1.2 2.1h-2.4zM201.5 441.5l1.2 2.1h-2.4zM209.2 465.4l1.2 2.1h-2.4zM203.9 439.9l1.2 2.1h-2.4zM207.9 434.1l1.2 2.1h-2.4zM199.5 427.6l1.2 2.1h-2.4zM206.6 483.8l1.2 2.1h-2.4zM195.7 424.9l1.2 2.1h-2.4zM203.4 436.6l1.2 2.1h-2.4zM204 449.2l1.2 2.1h-2.4zM198.9 431.1l1.2 2.1h-2.4zM207.7 436.8l1.2 2.1h-2.4zM211.9 462.8l1.2 2.1h-2.4zM205.2 445l1.2 2.1h-2.4zM205.8 460.6l1.2 2.1h-2.4zM206.1 432l1.2 2.1h-2.4zM208.3 447.2l1.2 2.1h-2.4zM209.9 463.4l1.2 2.1h-2.4zM206.6 432.5l1.2 2.1h-2.4zM202.4 463.1l1.2 2.1h-2.4zM206.3 455.4l1.2 2.1h-2.4zM201.1 452.3l1.2 2.1h-2.4zM195.5 441.5l1.2 2.1h-2.4zM206.3 452.7l1.2 2.1h-2.4zM216.7 462.3l1.2 2.1h-2.4zM212.3 455.7l1.2 2.1h-2.4zM214.8 452.1l1.2 2.1h-2.4zM204.3 438l1.2 2.1h-2.4z"/>
<path fill="#2FB457" opacity="0.95" d="M158.9 432.4l1.2 2.1h-2.4zM175.3 446.1l1.2 2.1h-2.4zM162.1 432l1.2 2.1h-2.4zM174.2 431.6l1.2 2.1h-2.4zM165.4 446.9l1.2 2.1h-2.4zM164.9 445.3l1.2 2.1h-2.4zM187.7 436.8l1.2 2.1h-2.4zM156.3 431.9l1.2 2.1h-2.4zM167.3 436.9l1.2 2.1h-2.4zM170.4 441.4l1.2 2.1h-2.4zM173.8 449.9l1.2 2.1h-2.4zM164.3 430.1l1.2 2.1h-2.4zM177.4 443.4l1.2 2.1h-2.4zM162.2 427.9l1.2 2.1h-2.4zM157.9 442.9l1.2 2.1h-2.4zM163.6 439l1.2 2.1h-2.4zM169.3 431.8l1.2 2.1h-2.4zM174 455.2l1.2 2.1h-2.4zM168.7 456.7l1.2 2.1h-2.4zM175.3 449.8l1.2 2.1h-2.4zM160.6 440.4l1.2 2.1h-2.4zM172.1 433.6l1.2 2.1h-2.4zM174.6 430.8l1.2 2.1h-2.4zM179.2 434.3l1.2 2.1h-2.4zM163.4 437.3l1.2 2.1h-2.4zM170.1 429.6l1.2 2.1h-2.4zM166.2 456.7l1.2 2.1h-2.4zM164.1 440.4l1.2 2.1h-2.4zM173.2 435.1l1.2 2.1h-2.4zM161.2 447.8l1.2 2.1h-2.4zM161 433.9l1.2 2.1h-2.4zM160.8 446l1.2 2.1h-2.4zM232.6 464.3l1.2 2.1h-2.4zM178.8 466.6l1.2 2.1h-2.4zM173.3 445.9l1.2 2.1h-2.4zM172.7 456.6l1.2 2.1h-2.4zM172.3 444.2l1.2 2.1h-2.4zM168.4 455.4l1.2 2.1h-2.4zM172.8 430.9l1.2 2.1h-2.4zM178.5 440.2l1.2 2.1h-2.4zM161.4 437.2l1.2 2.1h-2.4zM175.5 425.3l1.2 2.1h-2.4zM176.4 452.3l1.2 2.1h-2.4zM161.7 451.2l1.2 2.1h-2.4zM164.7 461.4l1.2 2.1h-2.4zM169.5 432.4l1.2 2.1h-2.4zM168.6 435.8l1.2 2.1h-2.4zM167.6 446.1l1.2 2.1h-2.4zM170.8 429.3l1.2 2.1h-2.4zM175.9 443.4l1.2 2.1h-2.4zM172.2 438.8l1.2 2.1h-2.4zM167.2 425.9l1.2 2.1h-2.4zM170.7 463.1l1.2 2.1h-2.4zM156.7 444.3l1.2 2.1h-2.4zM160.9 438.9l1.2 2.1h-2.4zM197 444.1l1.2 2.1h-2.4zM163.5 437.5l1.2 2.1h-2.4zM164 437.5l1.2 2.1h-2.4zM173 433.4l1.2 2.1h-2.4zM163.2 426.1l1.2 2.1h-2.4zM171.8 445.7l1.2 2.1h-2.4zM168.6 461.2l1.2 2.1h-2.4zM171.1 434.8l1.2 2.1h-2.4zM166.7 463.1l1.2 2.1h-2.4zM162 444.2l1.2 2.1h-2.4zM190.8 438.6l1.2 2.1h-2.4zM166.5 433.9l1.2 2.1h-2.4zM169.2 449.7l1.2 2.1h-2.4zM171.1 449.1l1.2 2.1h-2.4zM155 435.8l1.2 2.1h-2.4zM172.6 454.1l1.2 2.1h-2.4zM157.9 435.5l1.2 2.1h-2.4zM186.3 430.5l1.2 2.1h-2.4zM166.6 430.8l1.2 2.1h-2.4zM162.3 442l1.2 2.1h-2.4zM166.7 454l1.2 2.1h-2.4zM173.3 442.3l1.2 2.1h-2.4zM161.1 424.3l1.2 2.1h-2.4zM172.3 437.3l1.2 2.1h-2.4zM165.5 449.3l1.2 2.1h-2.4zM172.6 457.4l1.2 2.1h-2.4zM164.5 442.7l1.2 2.1h-2.4zM176.6 444.8l1.2 2.1h-2.4zM170.7 439.6l1.2 2.1h-2.4zM188.5 437.1l1.2 2.1h-2.4zM169.1 458.2l1.2 2.1h-2.4zM169.6 445.2l1.2 2.1h-2.4zM177 447.1l1.2 2.1h-2.4zM167.3 441.9l1.2 2.1h-2.4zM178.9 449.6l1.2 2.1h-2.4zM183.8 428.4l1.2 2.1h-2.4z"/>
<path fill="#B842C8" opacity="0.95" d="M196.4 464.1l1.2 2.1h-2.4zM175.2 465.5l1.2 2.1h-2.4zM187.4 473.7l1.2 2.1h-2.4zM195 468.6l1.2 2.1h-2.4zM184.9 463.7l1.2 2.1h-2.4zM191.4 461.4l1.2 2.1h-2.4zM175 465.7l1.2 2.1h-2.4zM194.5 469.8l1.2 2.1h-2.4zM178.5 474l1.2 2.1h-2.4zM197.4 469l1.2 2.1h-2.4zM193.4 459l1.2 2.1h-2.4zM198 465.7l1.2 2.1h-2.4zM197.7 469.3l1.2 2.1h-2.4zM169 476.5l1.2 2.1h-2.4zM194.5 464.8l1.2 2.1h-2.4zM194.8 468l1.2 2.1h-2.4zM195.3 468.3l1.2 2.1h-2.4zM180.6 460.4l1.2 2.1h-2.4zM169.9 469l1.2 2.1h-2.4zM172.8 467.5l1.2 2.1h-2.4zM195.8 468.1l1.2 2.1h-2.4zM172.2 465l1.2 2.1h-2.4zM184.3 471.4l1.2 2.1h-2.4zM181.9 463.3l1.2 2.1h-2.4zM179.4 476.3l1.2 2.1h-2.4zM204.6 464.3l1.2 2.1h-2.4zM186.8 474.6l1.2 2.1h-2.4zM196.8 464.4l1.2 2.1h-2.4zM197.8 471.9l1.2 2.1h-2.4zM177.7 469.1l1.2 2.1h-2.4zM168.2 466.3l1.2 2.1h-2.4z"/>
<path fill="#F0554B" opacity="0.95" d="M207.9 506.5l1.2 2.1h-2.4zM200.6 494.6l1.2 2.1h-2.4zM206.2 511.3l1.2 2.1h-2.4zM202.5 517l1.2 2.1h-2.4zM208 504.7l1.2 2.1h-2.4zM206.2 518.6l1.2 2.1h-2.4zM203.3 494.5l1.2 2.1h-2.4zM209.3 505.5l1.2 2.1h-2.4zM197.4 510.9l1.2 2.1h-2.4zM203 508.1l1.2 2.1h-2.4zM210.3 494.9l1.2 2.1h-2.4zM202.1 518.9l1.2 2.1h-2.4zM212.9 499.9l1.2 2.1h-2.4zM203.1 502.5l1.2 2.1h-2.4zM205.4 509.9l1.2 2.1h-2.4zM201.5 519.2l1.2 2.1h-2.4zM202.8 513.9l1.2 2.1h-2.4zM218 508.4l1.2 2.1h-2.4zM218.9 497.9l1.2 2.1h-2.4zM208.8 487.8l1.2 2.1h-2.4zM214.1 512.9l1.2 2.1h-2.4zM200.5 519.7l1.2 2.1h-2.4zM215.8 491.5l1.2 2.1h-2.4zM200.2 515.2l1.2 2.1h-2.4zM215.7 502.1l1.2 2.1h-2.4zM210.9 500.1l1.2 2.1h-2.4zM209.2 512.6l1.2 2.1h-2.4zM211.2 512.7l1.2 2.1h-2.4zM212 500l1.2 2.1h-2.4zM217.3 515.3l1.2 2.1h-2.4zM215.5 496.1l1.2 2.1h-2.4zM215.6 520.1l1.2 2.1h-2.4zM207.3 514.8l1.2 2.1h-2.4zM214.5 499l1.2 2.1h-2.4zM210.6 514.2l1.2 2.1h-2.4zM202.5 513.3l1.2 2.1h-2.4zM229.2 491.1l1.2 2.1h-2.4zM207 506.6l1.2 2.1h-2.4zM204.1 488.7l1.2 2.1h-2.4zM207.5 499.6l1.2 2.1h-2.4zM200.8 506.7l1.2 2.1h-2.4zM197.8 510.9l1.2 2.1h-2.4zM217.2 511.4l1.2 2.1h-2.4zM208.8 511.9l1.2 2.1h-2.4zM207.8 503.9l1.2 2.1h-2.4zM214.6 504.5l1.2 2.1h-2.4zM205.6 508l1.2 2.1h-2.4zM208.8 493.3l1.2 2.1h-2.4zM218.5 507.5l1.2 2.1h-2.4zM215.9 512.1l1.2 2.1h-2.4zM220.7 493.5l1.2 2.1h-2.4zM202.1 513.6l1.2 2.1h-2.4zM210.8 511.4l1.2 2.1h-2.4zM217.8 512.9l1.2 2.1h-2.4zM208.3 498.8l1.2 2.1h-2.4zM206.9 499.8l1.2 2.1h-2.4zM214.2 517.9l1.2 2.1h-2.4zM203.6 494.2l1.2 2.1h-2.4zM200.8 495.2l1.2 2.1h-2.4zM213.3 498.8l1.2 2.1h-2.4zM203 507.7l1.2 2.1h-2.4zM199.1 496.6l1.2 2.1h-2.4zM211.4 519.7l1.2 2.1h-2.4zM205.4 491.8l1.2 2.1h-2.4zM203.7 517.5l1.2 2.1h-2.4zM198 503.7l1.2 2.1h-2.4zM209.6 520.3l1.2 2.1h-2.4zM216.4 488.7l1.2 2.1h-2.4zM207.7 507.6l1.2 2.1h-2.4zM202 492.7l1.2 2.1h-2.4zM208.5 509.4l1.2 2.1h-2.4zM203.7 504.2l1.2 2.1h-2.4zM209.7 506.4l1.2 2.1h-2.4zM214.2 495.4l1.2 2.1h-2.4zM218.8 491.7l1.2 2.1h-2.4zM214.6 489.9l1.2 2.1h-2.4zM199.1 520.2l1.2 2.1h-2.4zM207 511.1l1.2 2.1h-2.4zM213.9 516.7l1.2 2.1h-2.4zM196.9 525.2l1.2 2.1h-2.4zM216.1 504l1.2 2.1h-2.4zM197.7 526.7l1.2 2.1h-2.4zM199.1 497.3l1.2 2.1h-2.4zM204.8 518.4l1.2 2.1h-2.4zM202.3 516.6l1.2 2.1h-2.4zM202.4 503.2l1.2 2.1h-2.4zM218.9 512.7l1.2 2.1h-2.4zM216.6 503.6l1.2 2.1h-2.4zM205.6 486.6l1.2 2.1h-2.4zM203.5 519.1l1.2 2.1h-2.4zM202.8 502.1l1.2 2.1h-2.4zM204.9 513.4l1.2 2.1h-2.4zM206.9 518.6l1.2 2.1h-2.4zM213.1 487.3l1.2 2.1h-2.4zM205.8 521.8l1.2 2.1h-2.4zM221.6 499.7l1.2 2.1h-2.4zM199.3 514.7l1.2 2.1h-2.4zM217.4 511l1.2 2.1h-2.4zM217.3 495.5l1.2 2.1h-2.4zM190 508.9l1.2 2.1h-2.4zM216.2 521.1l1.2 2.1h-2.4zM202.3 499.9l1.2 2.1h-2.4zM197.7 503l1.2 2.1h-2.4zM217.8 498.1l1.2 2.1h-2.4z"/>
<path fill="#F7A233" opacity="0.95" d="M143.7 507.2l1.2 2.1h-2.4zM152.9 476.2l1.2 2.1h-2.4zM157.9 471.8l1.2 2.1h-2.4zM138 496.4l1.2 2.1h-2.4zM163.7 479l1.2 2.1h-2.4zM149 487.8l1.2 2.1h-2.4zM164.3 474.3l1.2 2.1h-2.4zM155.2 525.7l1.2 2.1h-2.4zM164.4 519.3l1.2 2.1h-2.4zM155.4 503.6l1.2 2.1h-2.4zM161.5 503.1l1.2 2.1h-2.4zM147.1 497.5l1.2 2.1h-2.4zM148 485.5l1.2 2.1h-2.4zM151.7 513.4l1.2 2.1h-2.4zM148.9 490.2l1.2 2.1h-2.4zM146.7 491.7l1.2 2.1h-2.4zM153.1 519.4l1.2 2.1h-2.4zM158.7 481.4l1.2 2.1h-2.4zM152.4 481.6l1.2 2.1h-2.4zM163 510l1.2 2.1h-2.4zM157.7 502.8l1.2 2.1h-2.4zM160.5 525.9l1.2 2.1h-2.4zM158 505l1.2 2.1h-2.4zM165.6 490.3l1.2 2.1h-2.4zM163.4 479.9l1.2 2.1h-2.4zM144 495.5l1.2 2.1h-2.4zM155.3 519.5l1.2 2.1h-2.4zM164.5 502l1.2 2.1h-2.4zM151 512.8l1.2 2.1h-2.4zM161.1 474.2l1.2 2.1h-2.4zM164.3 501.2l1.2 2.1h-2.4zM161.3 495.2l1.2 2.1h-2.4zM149.2 509.8l1.2 2.1h-2.4zM162.5 468.9l1.2 2.1h-2.4zM166 505.2l1.2 2.1h-2.4zM161.1 482l1.2 2.1h-2.4zM148.1 494.6l1.2 2.1h-2.4zM149.3 514.5l1.2 2.1h-2.4zM150.5 504.3l1.2 2.1h-2.4zM148.4 495.6l1.2 2.1h-2.4zM159.2 519.8l1.2 2.1h-2.4zM151.9 505.9l1.2 2.1h-2.4zM158.5 498.1l1.2 2.1h-2.4zM163.7 490.5l1.2 2.1h-2.4zM149.5 514.3l1.2 2.1h-2.4zM151.7 510l1.2 2.1h-2.4zM161 479.1l1.2 2.1h-2.4zM158.3 492.7l1.2 2.1h-2.4zM170.2 497l1.2 2.1h-2.4zM158.8 500l1.2 2.1h-2.4zM161.7 505.6l1.2 2.1h-2.4zM162.2 492.3l1.2 2.1h-2.4zM163.5 503.1l1.2 2.1h-2.4zM154.4 508.6l1.2 2.1h-2.4zM151.2 505l1.2 2.1h-2.4zM159.2 483l1.2 2.1h-2.4zM157.5 507.6l1.2 2.1h-2.4zM168.2 474.9l1.2 2.1h-2.4zM158.1 509.6l1.2 2.1h-2.4zM140.7 506.5l1.2 2.1h-2.4zM154.1 468.4l1.2 2.1h-2.4zM161.5 507.7l1.2 2.1h-2.4zM157.2 505.7l1.2 2.1h-2.4zM158 503.4l1.2 2.1h-2.4zM149.9 525.3l1.2 2.1h-2.4zM164 479.5l1.2 2.1h-2.4zM152.3 489l1.2 2.1h-2.4zM160.8 516.3l1.2 2.1h-2.4zM158.6 470l1.2 2.1h-2.4zM161.9 481.3l1.2 2.1h-2.4zM143.3 487l1.2 2.1h-2.4zM147.6 509.9l1.2 2.1h-2.4zM156.2 488.4l1.2 2.1h-2.4zM158.4 510.5l1.2 2.1h-2.4zM147.3 519.5l1.2 2.1h-2.4zM143.2 498l1.2 2.1h-2.4zM151.9 481.8l1.2 2.1h-2.4zM150.2 494l1.2 2.1h-2.4zM163.3 477.5l1.2 2.1h-2.4zM144.8 490.6l1.2 2.1h-2.4zM148 520.9l1.2 2.1h-2.4zM148.1 515.6l1.2 2.1h-2.4zM169.9 506.9l1.2 2.1h-2.4zM150.7 506.9l1.2 2.1h-2.4zM157.6 476.8l1.2 2.1h-2.4zM166.1 506.4l1.2 2.1h-2.4zM169.7 496l1.2 2.1h-2.4zM149.9 492.9l1.2 2.1h-2.4zM161 505.2l1.2 2.1h-2.4zM154.6 515.6l1.2 2.1h-2.4zM146.9 492l1.2 2.1h-2.4zM154.2 513.8l1.2 2.1h-2.4zM156.6 497.1l1.2 2.1h-2.4zM146.9 513.7l1.2 2.1h-2.4zM146.5 497l1.2 2.1h-2.4zM159.7 513.6l1.2 2.1h-2.4zM166.2 493.8l1.2 2.1h-2.4zM150.9 495.9l1.2 2.1h-2.4zM151.2 483.7l1.2 2.1h-2.4zM155.2 499.9l1.2 2.1h-2.4zM141.8 508.4l1.2 2.1h-2.4zM159.6 474.7l1.2 2.1h-2.4zM175.3 496.8l1.2 2.1h-2.4zM150.3 522.8l1.2 2.1h-2.4zM146.5 485.5l1.2 2.1h-2.4zM146.2 504.8l1.2 2.1h-2.4zM165.9 501.9l1.2 2.1h-2.4zM163 510.7l1.2 2.1h-2.4zM166.5 482.5l1.2 2.1h-2.4zM163.9 493.3l1.2 2.1h-2.4zM165 512.2l1.2 2.1h-2.4zM167.4 505l1.2 2.1h-2.4zM152.6 492.7l1.2 2.1h-2.4zM159.5 497.2l1.2 2.1h-2.4zM156.1 500l1.2 2.1h-2.4zM151.4 520.5l1.2 2.1h-2.4zM150 475.8l1.2 2.1h-2.4zM149.7 517.3l1.2 2.1h-2.4zM151.7 505l1.2 2.1h-2.4zM143.1 512.8l1.2 2.1h-2.4zM163.2 503.4l1.2 2.1h-2.4zM145.6 510.1l1.2 2.1h-2.4zM168.4 483.6l1.2 2.1h-2.4zM170.6 506.7l1.2 2.1h-2.4zM141.4 500.8l1.2 2.1h-2.4zM147.3 491.2l1.2 2.1h-2.4zM154.8 504.4l1.2 2.1h-2.4zM162.8 510.7l1.2 2.1h-2.4zM170.6 487.6l1.2 2.1h-2.4zM139.9 503.6l1.2 2.1h-2.4zM164.2 491.4l1.2 2.1h-2.4zM161.8 512.4l1.2 2.1h-2.4zM152.6 499.2l1.2 2.1h-2.4zM166.6 487.5l1.2 2.1h-2.4zM156.8 479.6l1.2 2.1h-2.4zM170.2 497l1.2 2.1h-2.4zM148.9 511l1.2 2.1h-2.4z"/>
<path fill="#C4C4C4" opacity="0.95" d="M178 487.3l1.2 2.1h-2.4zM175.6 491l1.2 2.1h-2.4zM167.2 487l1.2 2.1h-2.4zM171.9 490.7l1.2 2.1h-2.4zM170.4 496.8l1.2 2.1h-2.4zM166.8 498.1l1.2 2.1h-2.4zM177.8 477.8l1.2 2.1h-2.4zM169.6 485.4l1.2 2.1h-2.4zM172.1 483l1.2 2.1h-2.4zM171.3 476.8l1.2 2.1h-2.4zM166.6 478.3l1.2 2.1h-2.4zM169.2 483.5l1.2 2.1h-2.4zM166.2 486.9l1.2 2.1h-2.4zM164.7 489.7l1.2 2.1h-2.4zM173.2 498.8l1.2 2.1h-2.4zM178.8 481.9l1.2 2.1h-2.4zM173.4 490.2l1.2 2.1h-2.4zM174.8 492.3l1.2 2.1h-2.4zM175.9 474.2l1.2 2.1h-2.4zM173.1 490.4l1.2 2.1h-2.4zM177.3 484.8l1.2 2.1h-2.4zM172.2 482.7l1.2 2.1h-2.4zM175.3 491.1l1.2 2.1h-2.4zM172.8 489.7l1.2 2.1h-2.4zM174.9 486.8l1.2 2.1h-2.4zM176 482.8l1.2 2.1h-2.4zM170.1 495.7l1.2 2.1h-2.4zM173.2 489.9l1.2 2.1h-2.4zM177.5 492.2l1.2 2.1h-2.4zM175.7 472.9l1.2 2.1h-2.4zM177.8 483.3l1.2 2.1h-2.4zM167.9 482.3l1.2 2.1h-2.4z"/>
<path fill="#B842C8" opacity="0.95" d="M196.6 463l1.2 2.1h-2.4zM202.8 471.7l1.2 2.1h-2.4zM181.5 454.8l1.2 2.1h-2.4zM168.2 466.7l1.2 2.1h-2.4zM194.8 466.2l1.2 2.1h-2.4zM173.5 473.8l1.2 2.1h-2.4zM172.8 465.8l1.2 2.1h-2.4zM200.4 468.3l1.2 2.1h-2.4zM198.9 470.5l1.2 2.1h-2.4zM193.9 461.1l1.2 2.1h-2.4zM197.7 461.6l1.2 2.1h-2.4zM191.9 462.5l1.2 2.1h-2.4zM197.4 462.2l1.2 2.1h-2.4zM186.6 459.9l1.2 2.1h-2.4zM197.8 465.3l1.2 2.1h-2.4zM175.6 471.1l1.2 2.1h-2.4zM196.4 469.8l1.2 2.1h-2.4zM193.7 469.7l1.2 2.1h-2.4zM193.9 462.5l1.2 2.1h-2.4zM170.9 471.7l1.2 2.1h-2.4zM190 453.2l1.2 2.1h-2.4zM196.3 470.1l1.2 2.1h-2.4zM171.2 473.3l1.2 2.1h-2.4zM198.2 462.6l1.2 2.1h-2.4zM178.5 467.5l1.2 2.1h-2.4zM182.2 472.6l1.2 2.1h-2.4zM193 463.1l1.2 2.1h-2.4zM193.7 464.4l1.2 2.1h-2.4zM199.3 466.3l1.2 2.1h-2.4zM193.9 469.4l1.2 2.1h-2.4z"/>
<path fill="#1FBBDD" opacity="0.95" d="M211.1 462.4l1.2 2.1h-2.4zM198.6 482.1l1.2 2.1h-2.4zM199.7 485.5l1.2 2.1h-2.4zM216.7 457.4l1.2 2.1h-2.4zM198.5 439.3l1.2 2.1h-2.4zM211.6 457.6l1.2 2.1h-2.4zM217.3 475.4l1.2 2.1h-2.4zM216.3 461.1l1.2 2.1h-2.4zM214.9 458.7l1.2 2.1h-2.4zM210 461.2l1.2 2.1h-2.4zM200.6 439.4l1.2 2.1h-2.4zM209.2 440.2l1.2 2.1h-2.4zM221.4 478.8l1.2 2.1h-2.4zM209.6 442.1l1.2 2.1h-2.4zM204.7 439.6l1.2 2.1h-2.4zM206 431.4l1.2 2.1h-2.4zM209.4 440.8l1.2 2.1h-2.4zM202.8 435.3l1.2 2.1h-2.4zM208.8 454.8l1.2 2.1h-2.4zM202.3 437l1.2 2.1h-2.4zM210.1 453.2l1.2 2.1h-2.4zM201.4 432.4l1.2 2.1h-2.4zM207.9 445.2l1.2 2.1h-2.4zM206 450.1l1.2 2.1h-2.4zM208.3 456.3l1.2 2.1h-2.4zM214.8 460l1.2 2.1h-2.4zM207.8 457.6l1.2 2.1h-2.4zM207.2 456.4l1.2 2.1h-2.4zM210.9 452.1l1.2 2.1h-2.4zM210.9 448.4l1.2 2.1h-2.4zM207.1 433.2l1.2 2.1h-2.4zM216.9 454.8l1.2 2.1h-2.4zM209.2 446.3l1.2 2.1h-2.4zM202.2 431.7l1.2 2.1h-2.4zM212.8 461.9l1.2 2.1h-2.4zM212.6 468.9l1.2 2.1h-2.4zM203.7 460.8l1.2 2.1h-2.4zM208.2 444.8l1.2 2.1h-2.4zM203.3 458.6l1.2 2.1h-2.4zM210.9 456.9l1.2 2.1h-2.4zM207.8 432.3l1.2 2.1h-2.4zM201.4 445.1l1.2 2.1h-2.4zM213.8 468.6l1.2 2.1h-2.4zM204.4 452.9l1.2 2.1h-2.4zM205.6 453.4l1.2 2.1h-2.4zM209.3 436.5l1.2 2.1h-2.4zM210.4 471.5l1.2 2.1h-2.4zM207.1 446l1.2 2.1h-2.4zM212.2 462.8l1.2 2.1h-2.4zM208.7 450.3l1.2 2.1h-2.4zM204 432.1l1.2 2.1h-2.4zM202.3 434.3l1.2 2.1h-2.4zM208.8 449.6l1.2 2.1h-2.4zM204.8 444.9l1.2 2.1h-2.4zM201.6 443.4l1.2 2.1h-2.4zM203.4 450.4l1.2 2.1h-2.4zM202.9 432.1l1.2 2.1h-2.4zM209.3 456l1.2 2.1h-2.4zM217.5 456l1.2 2.1h-2.4zM212.2 452.6l1.2 2.1h-2.4zM201.2 463l1.2 2.1h-2.4zM201.5 426.9l1.2 2.1h-2.4zM201.3 453.6l1.2 2.1h-2.4zM204.6 478.2l1.2 2.1h-2.4zM200 445.4l1.2 2.1h-2.4zM200.3 429.6l1.2 2.1h-2.4zM213.3 458l1.2 2.1h-2.4zM203.5 445.1l1.2 2.1h-2.4zM204.6 436.3l1.2 2.1h-2.4zM212.1 450.5l1.2 2.1h-2.4zM200.3 435.4l1.2 2.1h-2.4zM203.2 461.6l1.2 2.1h-2.4zM214.5 464.3l1.2 2.1h-2.4zM204.1 449.7l1.2 2.1h-2.4zM205.1 425.8l1.2 2.1h-2.4zM212.4 445.3l1.2 2.1h-2.4zM205.6 458.3l1.2 2.1h-2.4zM207.5 466.9l1.2 2.1h-2.4zM203.1 447.3l1.2 2.1h-2.4z"/>
<path fill="#2E8BCB" opacity="0.95" d="M228.3 487.8l1.2 2.1h-2.4zM225.4 495.1l1.2 2.1h-2.4zM219.6 484.8l1.2 2.1h-2.4zM236.1 474.8l1.2 2.1h-2.4zM221.8 491.3l1.2 2.1h-2.4zM236.6 482.5l1.2 2.1h-2.4zM230.8 490.7l1.2 2.1h-2.4zM222.2 493.1l1.2 2.1h-2.4zM227 478.1l1.2 2.1h-2.4zM232.4 475.7l1.2 2.1h-2.4zM232.9 486.1l1.2 2.1h-2.4zM228.3 473.9l1.2 2.1h-2.4zM224.9 482.8l1.2 2.1h-2.4zM230.5 489.1l1.2 2.1h-2.4zM238.6 477.9l1.2 2.1h-2.4zM237.2 489.5l1.2 2.1h-2.4zM236 476l1.2 2.1h-2.4zM222.7 495.6l1.2 2.1h-2.4zM222.8 489.5l1.2 2.1h-2.4zM234.3 484.8l1.2 2.1h-2.4zM229.9 494.9l1.2 2.1h-2.4zM225 479.6l1.2 2.1h-2.4zM227.9 481.7l1.2 2.1h-2.4zM231.3 478l1.2 2.1h-2.4zM229.7 496.8l1.2 2.1h-2.4zM225.3 491.4l1.2 2.1h-2.4zM230.1 474.4l1.2 2.1h-2.4zM228.6 485.7l1.2 2.1h-2.4zM233.9 480.8l1.2 2.1h-2.4zM226 486.5l1.2 2.1h-2.4zM225.3 476.7l1.2 2.1h-2.4zM227.2 491.4l1.2 2.1h-2.4zM223.4 489.7l1.2 2.1h-2.4zM221.1 492.6l1.2 2.1h-2.4zM233.6 478.3l1.2 2.1h-2.4zM237.4 480.2l1.2 2.1h-2.4zM232.9 471.3l1.2 2.1h-2.4zM229.3 494.2l1.2 2.1h-2.4zM228.1 480.9l1.2 2.1h-2.4zM236.9 483.5l1.2 2.1h-2.4zM229.5 475.6l1.2 2.1h-2.4zM218.8 499.2l1.2 2.1h-2.4zM230.6 486.5l1.2 2.1h-2.4zM232.1 478.1l1.2 2.1h-2.4zM236.5 482.2l1.2 2.1h-2.4zM237 488.8l1.2 2.1h-2.4zM228.5 490.8l1.2 2.1h-2.4zM222.4 493.6l1.2 2.1h-2.4zM231.2 480.9l1.2 2.1h-2.4zM227.3 478.7l1.2 2.1h-2.4zM233.5 476.4l1.2 2.1h-2.4zM223 480.4l1.2 2.1h-2.4zM231.2 477.6l1.2 2.1h-2.4zM233.7 468.6l1.2 2.1h-2.4zM223 489.6l1.2 2.1h-2.4zM239.9 483.7l1.2 2.1h-2.4zM232.8 488.4l1.2 2.1h-2.4zM230.8 494.3l1.2 2.1h-2.4zM226.3 478.7l1.2 2.1h-2.4zM233.3 483.6l1.2 2.1h-2.4zM230.9 491.4l1.2 2.1h-2.4zM222.9 486.8l1.2 2.1h-2.4zM236.5 483.3l1.2 2.1h-2.4zM226.5 486.2l1.2 2.1h-2.4zM231.4 489l1.2 2.1h-2.4zM223 489.3l1.2 2.1h-2.4zM232.6 489.4l1.2 2.1h-2.4zM236.7 485.3l1.2 2.1h-2.4zM239.1 485.2l1.2 2.1h-2.4z"/>
<path fill="#2FB457" opacity="0.95" d="M167.1 435.4l1.2 2.1h-2.4zM176.9 435.5l1.2 2.1h-2.4zM174.1 441.7l1.2 2.1h-2.4zM166 454l1.2 2.1h-2.4zM176.9 443.5l1.2 2.1h-2.4zM163.2 445.6l1.2 2.1h-2.4zM168.6 466l1.2 2.1h-2.4zM173.4 453.6l1.2 2.1h-2.4zM153.1 438.8l1.2 2.1h-2.4zM165.9 458.7l1.2 2.1h-2.4zM174.3 434.5l1.2 2.1h-2.4zM170.6 459l1.2 2.1h-2.4zM164.1 449.7l1.2 2.1h-2.4zM155.9 438.7l1.2 2.1h-2.4zM179.8 442.9l1.2 2.1h-2.4zM181.8 440l1.2 2.1h-2.4zM168.5 445.2l1.2 2.1h-2.4zM161.5 452.6l1.2 2.1h-2.4zM166.7 436.2l1.2 2.1h-2.4zM164.7 454.7l1.2 2.1h-2.4zM166.1 456.7l1.2 2.1h-2.4zM157.8 440.2l1.2 2.1h-2.4zM162.1 437.3l1.2 2.1h-2.4zM164.1 453.4l1.2 2.1h-2.4zM170.5 447.4l1.2 2.1h-2.4zM180.5 450.7l1.2 2.1h-2.4zM167.6 453l1.2 2.1h-2.4zM164.9 450.6l1.2 2.1h-2.4zM190.4 436.8l1.2 2.1h-2.4zM169 433.7l1.2 2.1h-2.4zM166.7 452.4l1.2 2.1h-2.4zM167.6 429.2l1.2 2.1h-2.4zM173.5 436l1.2 2.1h-2.4zM164.7 457.4l1.2 2.1h-2.4zM170.8 441.2l1.2 2.1h-2.4zM164.9 424.4l1.2 2.1h-2.4zM177.8 437.4l1.2 2.1h-2.4zM178.2 444l1.2 2.1h-2.4zM165.8 428.9l1.2 2.1h-2.4zM158.4 445.5l1.2 2.1h-2.4zM198.1 443.3l1.2 2.1h-2.4zM176.1 435.8l1.2 2.1h-2.4zM139.6 492.8l1.2 2.1h-2.4zM160 452.8l1.2 2.1h-2.4zM190.8 437.7l1.2 2.1h-2.4zM159.7 450.3l1.2 2.1h-2.4zM161.2 439.3l1.2 2.1h-2.4zM174.7 448.6l1.2 2.1h-2.4zM171.8 448.5l1.2 2.1h-2.4zM173.2 439.4l1.2 2.1h-2.4zM170.4 456.3l1.2 2.1h-2.4zM166.4 446.5l1.2 2.1h-2.4zM207.9 472.1l1.2 2.1h-2.4zM166.8 458l1.2 2.1h-2.4zM157.9 435.5l1.2 2.1h-2.4zM177.7 436.2l1.2 2.1h-2.4zM166 463.3l1.2 2.1h-2.4zM160.2 432.1l1.2 2.1h-2.4zM174.7 439.1l1.2 2.1h-2.4zM186.1 431.3l1.2 2.1h-2.4zM232 461.5l1.2 2.1h-2.4zM156.6 444.4l1.2 2.1h-2.4zM167.2 463.8l1.2 2.1h-2.4zM159.2 440.6l1.2 2.1h-2.4zM165.7 450.2l1.2 2.1h-2.4zM168.2 458.6l1.2 2.1h-2.4zM169.4 472.4l1.2 2.1h-2.4zM173 452.3l1.2 2.1h-2.4zM174.8 446l1.2 2.1h-2.4zM185.8 434.8l1.2 2.1h-2.4zM168.4 453l1.2 2.1h-2.4zM169.2 454.8l1.2 2.1h-2.4zM161.7 440.6l1.2 2.1h-2.4zM189.2 433.3l1.2 2.1h-2.4zM174.6 431.7l1.2 2.1h-2.4zM158.9 431.4l1.2 2.1h-2.4zM170.5 446.3l1.2 2.1h-2.4zM166.1 455.7l1.2 2.1h-2.4zM165.7 425.9l1.2 2.1h-2.4zM160.4 433.7l1.2 2.1h-2.4zM172.4 448.7l1.2 2.1h-2.4zM167.5 459l1.2 2.1h-2.4zM193.7 437l1.2 2.1h-2.4zM168.9 454.6l1.2 2.1h-2.4z"/>
<path fill="#F7A233" opacity="0.95" d="M167.7 509.7l1.2 2.1h-2.4zM174.6 490.9l1.2 2.1h-2.4zM164.7 509.5l1.2 2.1h-2.4zM164.7 492.4l1.2 2.1h-2.4zM157.8 503.7l1.2 2.1h-2.4zM163.2 482l1.2 2.1h-2.4zM153.9 497.3l1.2 2.1h-2.4zM151.4 480.5l1.2 2.1h-2.4zM161.7 511.1l1.2 2.1h-2.4zM157.7 505.2l1.2 2.1h-2.4zM149.6 512.7l1.2 2.1h-2.4zM147.2 520.6l1.2 2.1h-2.4zM160.9 481.1l1.2 2.1h-2.4zM144.9 504.8l1.2 2.1h-2.4zM158.9 521.3l1.2 2.1h-2.4zM161.3 491.2l1.2 2.1h-2.4zM169.1 497.7l1.2 2.1h-2.4zM146.1 497.2l1.2 2.1h-2.4zM160.2 519.3l1.2 2.1h-2.4zM161.1 491.5l1.2 2.1h-2.4zM151.7 488.1l1.2 2.1h-2.4zM160.2 478.9l1.2 2.1h-2.4zM154.6 484l1.2 2.1h-2.4zM165.1 505.7l1.2 2.1h-2.4zM153.6 521.2l1.2 2.1h-2.4zM159.3 488l1.2 2.1h-2.4zM165.5 496.8l1.2 2.1h-2.4zM153.3 506.3l1.2 2.1h-2.4zM149.4 479.1l1.2 2.1h-2.4zM158 507l1.2 2.1h-2.4zM152.6 491.2l1.2 2.1h-2.4zM152.1 494.8l1.2 2.1h-2.4zM160.7 491.4l1.2 2.1h-2.4zM156.4 498.1l1.2 2.1h-2.4zM156.4 504.8l1.2 2.1h-2.4zM168.5 490.5l1.2 2.1h-2.4zM169.2 488l1.2 2.1h-2.4zM159.7 482.3l1.2 2.1h-2.4zM152.3 502.9l1.2 2.1h-2.4zM165.8 510.2l1.2 2.1h-2.4zM170.8 493.5l1.2 2.1h-2.4zM145.9 494.8l1.2 2.1h-2.4zM142.4 506.3l1.2 2.1h-2.4zM157.7 471.8l1.2 2.1h-2.4zM155.2 514.7l1.2 2.1h-2.4zM157.8 501.2l1.2 2.1h-2.4zM144 506.3l1.2 2.1h-2.4zM156.2 506.6l1.2 2.1h-2.4zM162.2 492.1l1.2 2.1h-2.4zM166.6 504.1l1.2 2.1h-2.4zM153.2 513.9l1.2 2.1h-2.4zM165.4 494.4l1.2 2.1h-2.4zM152.4 496.7l1.2 2.1h-2.4zM162.9 485.4l1.2 2.1h-2.4zM158.2 492.4l1.2 2.1h-2.4zM149.4 486.4l1.2 2.1h-2.4zM144.7 505l1.2 2.1h-2.4zM155.5 482.1l1.2 2.1h-2.4zM146.5 495.4l1.2 2.1h-2.4zM162.5 504.3l1.2 2.1h-2.4zM164.6 495.6l1.2 2.1h-2.4zM167.5 495l1.2 2.1h-2.4zM154.7 495.4l1.2 2.1h-2.4zM165.8 515l1.2 2.1h-2.4zM155.7 511.9l1.2 2.1h-2.4zM151.9 493.7l1.2 2.1h-2.4zM147.8 516.9l1.2 2.1h-2.4zM144.2 484.7l1.2 2.1h-2.4zM170.4 494.6l1.2 2.1h-2.4zM159.2 487.5l1.2 2.1h-2.4zM169 499.1l1.2 2.1h-2.4zM156 512l1.2 2.1h-2.4zM160.6 483.4l1.2 2.1h-2.4zM159.1 492.6l1.2 2.1h-2.4zM157.9 503.4l1.2 2.1h-2.4zM154.4 507l1.2 2.1h-2.4zM155.9 505.4l1.2 2.1h-2.4zM154.4 525.3l1.2 2.1h-2.4zM171.1 506l1.2 2.1h-2.4zM162.5 524.4l1.2 2.1h-2.4zM152.6 499.8l1.2 2.1h-2.4zM166.6 492l1.2 2.1h-2.4zM162.3 517.2l1.2 2.1h-2.4zM149.6 492.1l1.2 2.1h-2.4zM165.5 497.9l1.2 2.1h-2.4zM149.3 498.6l1.2 2.1h-2.4zM164.9 481.8l1.2 2.1h-2.4zM153.1 511.5l1.2 2.1h-2.4zM164.6 505.5l1.2 2.1h-2.4zM156.9 477.4l1.2 2.1h-2.4zM146.6 484.2l1.2 2.1h-2.4zM151.8 513.6l1.2 2.1h-2.4zM162.2 507.8l1.2 2.1h-2.4zM160.1 514.5l1.2 2.1h-2.4zM161.1 487.6l1.2 2.1h-2.4zM149.8 508.7l1.2 2.1h-2.4zM149.7 496l1.2 2.1h-2.4zM161.2 476.6l1.2 2.1h-2.4zM159.6 504l1.2 2.1h-2.4zM166.8 488.9l1.2 2.1h-2.4zM160.8 482.5l1.2 2.1h-2.4zM163.9 498.1l1.2 2.1h-2.4zM149.1 495.3l1.2 2.1h-2.4zM158.2 504.5l1.2 2.1h-2.4zM153.3 509.5l1.2 2.1h-2.4zM159.8 480l1.2 2.1h-2.4zM159.6 476.8l1.2 2.1h-2.4zM149.5 492.6l1.2 2.1h-2.4zM161.6 487l1.2 2.1h-2.4zM147.3 510l1.2 2.1h-2.4zM165.7 510.3l1.2 2.1h-2.4zM144.6 490.2l1.2 2.1h-2.4zM149.1 517l1.2 2.1h-2.4zM152.8 525.5l1.2 2.1h-2.4zM167.5 497l1.2 2.1h-2.4zM168.3 497.5l1.2 2.1h-2.4zM152.6 487.8l1.2 2.1h-2.4zM165.1 512.8l1.2 2.1h-2.4zM149 494.7l1.2 2.1h-2.4zM168.4 487.4l1.2 2.1h-2.4zM154.4 486.9l1.2 2.1h-2.4zM159.3 508l1.2 2.1h-2.4zM159.3 507.9l1.2 2.1h-2.4zM153.2 506.7l1.2 2.1h-2.4zM160.3 524.8l1.2 2.1h-2.4zM154.4 511.6l1.2 2.1h-2.4zM155.5 520.9l1.2 2.1h-2.4zM152.1 492.9l1.2 2.1h-2.4zM148.6 501.6l1.2 2.1h-2.4zM157.9 504l1.2 2.1h-2.4zM146 494.8l1.2 2.1h-2.4zM161.8 514.8l1.2 2.1h-2.4zM166.8 494.5l1.2 2.1h-2.4zM167.1 508.3l1.2 2.1h-2.4zM149.4 511.9l1.2 2.1h-2.4zM151.8 501.4l1.2 2.1h-2.4zM152 494.9l1.2 2.1h-2.4zM146.5 492.4l1.2 2.1h-2.4zM169.2 509.3l1.2 2.1h-2.4zM145.2 503.2l1.2 2.1h-2.4zM150.7 479.4l1.2 2.1h-2.4zM151.8 518.2l1.2 2.1h-2.4zM149.6 518.3l1.2 2.1h-2.4zM173.6 498l1.2 2.1h-2.4zM149.9 488l1.2 2.1h-2.4zM156.9 497l1.2 2.1h-2.4zM170 510.1l1.2 2.1h-2.4zM159 525.3l1.2 2.1h-2.4zM151.3 480l1.2 2.1h-2.4zM151.7 512.7l1.2 2.1h-2.4zM152.4 478.1l1.2 2.1h-2.4z"/>
<path fill="#2E8BCB" opacity="0.95" d="M234.7 493l1.2 2.1h-2.4zM227.4 482.8l1.2 2.1h-2.4zM231.8 485.6l1.2 2.1h-2.4zM220.2 502.4l1.2 2.1h-2.4zM230.6 476.4l1.2 2.1h-2.4zM234.4 477.8l1.2 2.1h-2.4zM232.2 478.6l1.2 2.1h-2.4zM238.1 476.4l1.2 2.1h-2.4zM236.6 477.9l1.2 2.1h-2.4zM230.2 473.3l1.2 2.1h-2.4zM224 486.5l1.2 2.1h-2.4zM238 486.7l1.2 2.1h-2.4zM226.2 491.3l1.2 2.1h-2.4zM231 495.9l1.2 2.1h-2.4zM236.9 478l1.2 2.1h-2.4zM234.4 474l1.2 2.1h-2.4zM225.2 477l1.2 2.1h-2.4zM234.3 486.8l1.2 2.1h-2.4zM226.8 487l1.2 2.1h-2.4zM233 495.2l1.2 2.1h-2.4zM220.1 481.2l1.2 2.1h-2.4zM233.6 488.3l1.2 2.1h-2.4zM234.4 485.5l1.2 2.1h-2.4zM233.9 496.2l1.2 2.1h-2.4zM237.4 485.6l1.2 2.1h-2.4zM231.8 479.7l1.2 2.1h-2.4zM225.5 489.5l1.2 2.1h-2.4zM242.1 485l1.2 2.1h-2.4zM230.3 482.3l1.2 2.1h-2.4zM231.7 493.2l1.2 2.1h-2.4zM222.5 490.5l1.2 2.1h-2.4zM224.6 493.9l1.2 2.1h-2.4zM222.9 489.5l1.2 2.1h-2.4zM234.1 481.8l1.2 2.1h-2.4zM233.1 478.6l1.2 2.1h-2.4zM231.2 483.6l1.2 2.1h-2.4zM229 483.4l1.2 2.1h-2.4zM236 489.3l1.2 2.1h-2.4zM229 500.3l1.2 2.1h-2.4zM227.7 489.5l1.2 2.1h-2.4zM230.9 472.1l1.2 2.1h-2.4zM228.4 493.4l1.2 2.1h-2.4zM225.2 489l1.2 2.1h-2.4zM227.3 477.8l1.2 2.1h-2.4zM228.4 494.7l1.2 2.1h-2.4zM222.1 479.7l1.2 2.1h-2.4zM232.1 494.7l1.2 2.1h-2.4zM222.9 510.9l1.2 2.1h-2.4zM234.8 489.1l1.2 2.1h-2.4zM231.5 491.1l1.2 2.1h-2.4zM232.9 489.9l1.2 2.1h-2.4zM230.2 469.9l1.2 2.1h-2.4zM232.9 491.7l1.2 2.1h-2.4zM228.1 485.9l1.2 2.1h-2.4zM232.9 495.6l1.2 2.1h-2.4zM225.1 486.6l1.2 2.1h-2.4zM226.1 498.9l1.2 2.1h-2.4zM223.5 508.1l1.2 2.1h-2.4zM231.2 479.4l1.2 2.1h-2.4zM233.6 485.4l1.2 2.1h-2.4zM229.6 478.2l1.2 2.1h-2.4zM227.6 485.2l1.2 2.1h-2.4zM219.8 481.4l1.2 2.1h-2.4zM233.9 483.8l1.2 2.1h-2.4zM236.5 482.1l1.2 2.1h-2.4zM229.6 492.9l1.2 2.1h-2.4zM224.8 506.7l1.2 2.1h-2.4zM226.7 477l1.2 2.1h-2.4zM230.5 490.2l1.2 2.1h-2.4zM227.6 481l1.2 2.1h-2.4zM225.1 484.4l1.2 2.1h-2.4zM226.9 488.4l1.2 2.1h-2.4z"/>
<path fill="#F0554B" opacity="0.95" d="M197.4 501.4l1.2 2.1h-2.4zM208.1 505.6l1.2 2.1h-2.4zM203 506.1l1.2 2.1h-2.4zM199.9 498.9l1.2 2.1h-2.4zM201.1 511.6l1.2 2.1h-2.4zM209.5 503.2l1.2 2.1h-2.4zM219.9 492.4l1.2 2.1h-2.4zM216.5 500.6l1.2 2.1h-2.4zM205.2 513.8l1.2 2.1h-2.4zM206.1 519.5l1.2 2.1h-2.4zM214.7 485l1.2 2.1h-2.4zM206.3 493.1l1.2 2.1h-2.4zM206 497.3l1.2 2.1h-2.4zM208.8 493.8l1.2 2.1h-2.4zM204.7 504.7l1.2 2.1h-2.4zM210.2 514.1l1.2 2.1h-2.4zM212.1 509.8l1.2 2.1h-2.4zM220.4 508.5l1.2 2.1h-2.4zM163.1 523.4l1.2 2.1h-2.4zM207.9 516.8l1.2 2.1h-2.4zM209.3 519.4l1.2 2.1h-2.4zM209 496.4l1.2 2.1h-2.4zM206.7 504l1.2 2.1h-2.4zM203.5 499.7l1.2 2.1h-2.4zM209.3 521.9l1.2 2.1h-2.4zM210.3 505.8l1.2 2.1h-2.4zM213.4 491.5l1.2 2.1h-2.4zM217.1 503.2l1.2 2.1h-2.4zM211.5 497.6l1.2 2.1h-2.4zM198.3 502.6l1.2 2.1h-2.4zM209.1 498.5l1.2 2.1h-2.4zM215 501.9l1.2 2.1h-2.4zM208.5 500.5l1.2 2.1h-2.4zM205.7 496l1.2 2.1h-2.4zM200.1 505.4l1.2 2.1h-2.4zM208.8 499.3l1.2 2.1h-2.4zM219.7 500.3l1.2 2.1h-2.4zM204.4 493.1l1.2 2.1h-2.4zM232.6 497.8l1.2 2.1h-2.4zM214 498l1.2 2.1h-2.4zM207.3 517.6l1.2 2.1h-2.4zM199.1 505l1.2 2.1h-2.4zM207.2 494.4l1.2 2.1h-2.4zM214.2 503.1l1.2 2.1h-2.4zM216.4 500.2l1.2 2.1h-2.4zM206.4 484.8l1.2 2.1h-2.4zM213.2 512.1l1.2 2.1h-2.4zM205.7 493l1.2 2.1h-2.4zM205.7 518.1l1.2 2.1h-2.4zM218 495.6l1.2 2.1h-2.4zM210.6 518.7l1.2 2.1h-2.4zM216.7 511.4l1.2 2.1h-2.4zM212.2 512.2l1.2 2.1h-2.4zM200.5 511.7l1.2 2.1h-2.4zM156.4 522.3l1.2 2.1h-2.4zM210.6 518.2l1.2 2.1h-2.4zM204.8 498l1.2 2.1h-2.4zM217.7 505.9l1.2 2.1h-2.4zM199.7 507.4l1.2 2.1h-2.4zM205.3 493.3l1.2 2.1h-2.4zM216.1 507.6l1.2 2.1h-2.4zM211.2 485.6l1.2 2.1h-2.4zM204 498.1l1.2 2.1h-2.4zM200.6 501.6l1.2 2.1h-2.4zM195.4 514.5l1.2 2.1h-2.4zM202.9 510.6l1.2 2.1h-2.4zM199.6 504.2l1.2 2.1h-2.4zM204.3 492.3l1.2 2.1h-2.4zM212.6 509.4l1.2 2.1h-2.4zM216.6 502.9l1.2 2.1h-2.4zM207.5 492.3l1.2 2.1h-2.4zM207 499.4l1.2 2.1h-2.4zM211 502.9l1.2 2.1h-2.4zM214.1 507.3l1.2 2.1h-2.4zM215 512.6l1.2 2.1h-2.4zM205.5 497.7l1.2 2.1h-2.4zM200.1 501.4l1.2 2.1h-2.4zM202.8 518.1l1.2 2.1h-2.4zM211.2 497.4l1.2 2.1h-2.4zM207.9 501.8l1.2 2.1h-2.4zM211 497.4l1.2 2.1h-2.4zM222.1 502.2l1.2 2.1h-2.4zM214.3 495.4l1.2 2.1h-2.4zM216.1 493.3l1.2 2.1h-2.4zM218.4 495.9l1.2 2.1h-2.4zM199.1 506.6l1.2 2.1h-2.4zM204.5 518.9l1.2 2.1h-2.4zM197 508.1l1.2 2.1h-2.4zM213.3 505.2l1.2 2.1h-2.4zM219 500.8l1.2 2.1h-2.4zM210.8 497.1l1.2 2.1h-2.4zM200.9 490.7l1.2 2.1h-2.4zM219.3 497.2l1.2 2.1h-2.4zM219.3 498.9l1.2 2.1h-2.4zM215.8 493.6l1.2 2.1h-2.4zM204.1 492.7l1.2 2.1h-2.4zM206.3 508.6l1.2 2.1h-2.4zM212.8 500.1l1.2 2.1h-2.4zM205.5 502.8l1.2 2.1h-2.4zM207.8 520.6l1.2 2.1h-2.4zM207.6 509.7l1.2 2.1h-2.4z"/>
<path fill="#1FBBDD" opacity="0.95" d="M212.7 441.4l1.2 2.1h-2.4zM212.2 462.2l1.2 2.1h-2.4zM204.8 440.3l1.2 2.1h-2.4zM214 479.6l1.2 2.1h-2.4zM197.3 461.2l1.2 2.1h-2.4zM218.4 478.4l1.2 2.1h-2.4zM207.5 459.7l1.2 2.1h-2.4zM206.9 449.4l1.2 2.1h-2.4zM206.1 451.1l1.2 2.1h-2.4zM201.3 450.5l1.2 2.1h-2.4zM206.3 469.6l1.2 2.1h-2.4zM214.8 450.1l1.2 2.1h-2.4zM208.7 484.7l1.2 2.1h-2.4zM202.6 461.6l1.2 2.1h-2.4zM207.4 440.7l1.2 2.1h-2.4zM207.4 443.1l1.2 2.1h-2.4zM208.4 451.1l1.2 2.1h-2.4zM202.7 439.2l1.2 2.1h-2.4zM210.8 454.4l1.2 2.1h-2.4zM212 462.4l1.2 2.1h-2.4zM210 455.3l1.2 2.1h-2.4zM207.9 430l1.2 2.1h-2.4zM215.5 446.3l1.2 2.1h-2.4zM211.2 453.7l1.2 2.1h-2.4zM213.7 445.6l1.2 2.1h-2.4zM212.4 447.5l1.2 2.1h-2.4zM209 437.5l1.2 2.1h-2.4zM205 458.6l1.2 2.1h-2.4zM202.8 447.8l1.2 2.1h-2.4zM212 457.9l1.2 2.1h-2.4zM200.6 454.6l1.2 2.1h-2.4zM209.1 448.3l1.2 2.1h-2.4zM206.1 438.7l1.2 2.1h-2.4zM209.4 461.8l1.2 2.1h-2.4zM213.5 449.1l1.2 2.1h-2.4zM214.8 455.5l1.2 2.1h-2.4zM200.6 455.6l1.2 2.1h-2.4zM209.7 452.3l1.2 2.1h-2.4zM215.3 461.5l1.2 2.1h-2.4zM211.1 459.4l1.2 2.1h-2.4zM213 469.8l1.2 2.1h-2.4zM206.2 462.2l1.2 2.1h-2.4zM208.2 432.5l1.2 2.1h-2.4zM205.7 444.8l1.2 2.1h-2.4zM209.5 451.3l1.2 2.1h-2.4zM214.7 450.4l1.2 2.1h-2.4zM203.2 457.3l1.2 2.1h-2.4zM200.3 444.3l1.2 2.1h-2.4zM203.2 444.2l1.2 2.1h-2.4zM208 455.3l1.2 2.1h-2.4zM213.7 450l1.2 2.1h-2.4zM197.6 447.3l1.2 2.1h-2.4zM207.1 461.9l1.2 2.1h-2.4zM207.4 437.2l1.2 2.1h-2.4zM208.9 441.9l1.2 2.1h-2.4zM208.8 441.2l1.2 2.1h-2.4zM209.9 448.1l1.2 2.1h-2.4zM211.9 452.6l1.2 2.1h-2.4zM203 431.8l1.2 2.1h-2.4zM209.5 452.4l1.2 2.1h-2.4zM206.1 453.4l1.2 2.1h-2.4zM211.2 461.9l1.2 2.1h-2.4zM212.4 453.3l1.2 2.1h-2.4zM205.4 452.2l1.2 2.1h-2.4zM212.9 452l1.2 2.1h-2.4zM203.9 465.3l1.2 2.1h-2.4zM200.8 431.7l1.2 2.1h-2.4zM213.4 473.4l1.2 2.1h-2.4zM202.5 448.5l1.2 2.1h-2.4zM199.1 453.4l1.2 2.1h-2.4zM208.1 464.7l1.2 2.1h-2.4zM213.5 449.7l1.2 2.1h-2.4zM211.1 456.4l1.2 2.1h-2.4zM207.2 448.5l1.2 2.1h-2.4zM202.1 447.6l1.2 2.1h-2.4zM207.5 437.9l1.2 2.1h-2.4zM205.6 460.5l1.2 2.1h-2.4zM212.3 463.9l1.2 2.1h-2.4zM204.7 452.3l1.2 2.1h-2.4z"/>
<path fill="#2FB457" opacity="0.95" d="M163 455.9l1.2 2.1h-2.4zM177.8 450.3l1.2 2.1h-2.4zM162.1 429.9l1.2 2.1h-2.4zM168.3 428.1l1.2 2.1h-2.4zM158.7 435.8l1.2 2.1h-2.4zM161.8 447.5l1.2 2.1h-2.4zM172.7 456.5l1.2 2.1h-2.4zM166.2 451.9l1.2 2.1h-2.4zM165.2 426.9l1.2 2.1h-2.4zM176.5 448l1.2 2.1h-2.4zM156.3 431.8l1.2 2.1h-2.4zM176.8 448.3l1.2 2.1h-2.4zM158.4 428.7l1.2 2.1h-2.4zM166.4 436.3l1.2 2.1h-2.4zM158.8 444.6l1.2 2.1h-2.4zM170.1 450.8l1.2 2.1h-2.4zM231.4 462.7l1.2 2.1h-2.4zM159.3 439.7l1.2 2.1h-2.4zM159.7 431.7l1.2 2.1h-2.4zM160.4 434.1l1.2 2.1h-2.4zM160.9 456.7l1.2 2.1h-2.4zM177.3 437.1l1.2 2.1h-2.4zM174.1 454l1.2 2.1h-2.4zM166.9 460.6l1.2 2.1h-2.4zM174.7 440.9l1.2 2.1h-2.4zM170.7 434.3l1.2 2.1h-2.4zM168.3 440.7l1.2 2.1h-2.4zM174.6 445.4l1.2 2.1h-2.4zM176.7 439.6l1.2 2.1h-2.4zM154.8 429.4l1.2 2.1h-2.4zM166.6 445.6l1.2 2.1h-2.4zM166.8 460l1.2 2.1h-2.4zM163.5 444.3l1.2 2.1h-2.4zM157.9 445.9l1.2 2.1h-2.4zM172.7 441.2l1.2 2.1h-2.4zM173.9 444.2l1.2 2.1h-2.4zM171.1 429.7l1.2 2.1h-2.4zM164.6 459.6l1.2 2.1h-2.4zM164.3 440.5l1.2 2.1h-2.4zM168.8 445l1.2 2.1h-2.4zM171.4 437.7l1.2 2.1h-2.4zM174.7 429.9l1.2 2.1h-2.4zM161.4 428.7l1.2 2.1h-2.4zM172.1 437.5l1.2 2.1h-2.4zM166.6 467.9l1.2 2.1h-2.4zM171.9 454.6l1.2 2.1h-2.4zM180.4 445.4l1.2 2.1h-2.4zM175.8 445.1l1.2 2.1h-2.4zM165.6 465.2l1.2 2.1h-2.4zM172.8 451.6l1.2 2.1h-2.4zM162.9 436.7l1.2 2.1h-2.4zM171.7 456.9l1.2 2.1h-2.4zM167.8 454.5l1.2 2.1h-2.4zM166.6 458.8l1.2 2.1h-2.4zM175 450.3l1.2 2.1h-2.4zM167.3 426.5l1.2 2.1h-2.4zM176.1 431.2l1.2 2.1h-2.4zM162 453.3l1.2 2.1h-2.4zM176.9 450.3l1.2 2.1h-2.4zM165.3 443.7l1.2 2.1h-2.4zM176.6 452.2l1.2 2.1h-2.4zM165.4 449.3l1.2 2.1h-2.4zM176.8 434.6l1.2 2.1h-2.4zM166 431.6l1.2 2.1h-2.4zM163.9 448l1.2 2.1h-2.4zM169.6 454.9l1.2 2.1h-2.4zM160.3 453.5l1.2 2.1h-2.4zM168 443.1l1.2 2.1h-2.4zM167.4 458.8l1.2 2.1h-2.4zM153.2 437.5l1.2 2.1h-2.4zM155.2 438.7l1.2 2.1h-2.4zM176.2 438l1.2 2.1h-2.4zM174.9 443.3l1.2 2.1h-2.4zM161.6 426.7l1.2 2.1h-2.4zM170.6 437.3l1.2 2.1h-2.4z"/>
<path fill="#C4C4C4" opacity="0.95" d="M172.3 492.9l1.2 2.1h-2.4zM168.4 481.3l1.2 2.1h-2.4zM174.6 491.5l1.2 2.1h-2.4zM167.7 484.8l1.2 2.1h-2.4zM178.9 475.1l1.2 2.1h-2.4zM174.5 494.8l1.2 2.1h-2.4zM174.3 476.7l1.2 2.1h-2.4zM172.7 493.1l1.2 2.1h-2.4zM171.7 479.2l1.2 2.1h-2.4zM178.5 489.2l1.2 2.1h-2.4zM175 490.6l1.2 2.1h-2.4zM169.2 479.5l1.2 2.1h-2.4zM175.6 483.9l1.2 2.1h-2.4zM175.7 479.2l1.2 2.1h-2.4zM170.3 471.7l1.2 2.1h-2.4zM180.6 482l1.2 2.1h-2.4zM172.7 485.8l1.2 2.1h-2.4zM176.1 496.9l1.2 2.1h-2.4zM169.3 488.3l1.2 2.1h-2.4zM170.3 472.5l1.2 2.1h-2.4zM167.9 490.5l1.2 2.1h-2.4zM168.5 478.4l1.2 2.1h-2.4zM169.2 480l1.2 2.1h-2.4zM170.4 492.4l1.2 2.1h-2.4zM178.4 477.4l1.2 2.1h-2.4zM177.7 475.3l1.2 2.1h-2.4zM163.3 484.9l1.2 2.1h-2.4zM178 490.5l1.2 2.1h-2.4zM167.6 495.6l1.2 2.1h-2.4zM171 472.9l1.2 2.1h-2.4zM170.2 482.7l1.2 2.1h-2.4zM177.1 478.3l1.2 2.1h-2.4z"/>
<path fill="#B842C8" opacity="0.95" d="M195.3 472.9l1.2 2.1h-2.4zM199.2 470.7l1.2 2.1h-2.4zM171.6 462.5l1.2 2.1h-2.4zM199.1 466.9l1.2 2.1h-2.4zM197.5 464.4l1.2 2.1h-2.4zM193.9 469.4l1.2 2.1h-2.4zM198 470.1l1.2 2.1h-2.4zM174.3 463.2l1.2 2.1h-2.4zM176.6 474.3l1.2 2.1h-2.4zM194.2 469.7l1.2 2.1h-2.4zM195 464.4l1.2 2.1h-2.4zM195.1 470.3l1.2 2.1h-2.4zM198.2 462.3l1.2 2.1h-2.4zM197.8 461l1.2 2.1h-2.4zM173.1 471.3l1.2 2.1h-2.4zM199.5 466.9l1.2 2.1h-2.4zM198.4 469.9l1.2 2.1h-2.4zM177 467.2l1.2 2.1h-2.4zM182.9 461.4l1.2 2.1h-2.4zM198.9 464.8l1.2 2.1h-2.4zM171.3 462.4l1.2 2.1h-2.4zM194 468.2l1.2 2.1h-2.4zM191.1 480.5l1.2 2.1h-2.4zM179.3 464.2l1.2 2.1h-2.4zM182.2 470.9l1.2 2.1h-2.4z"/>
<rect x="134" y="421" width="112" height="111.5" fill="none" stroke="#2a2a2a" stroke-width="0.9"/>
<text x="6.2" y="362.8" font-size="10.5" font-weight="bold">D</text>
<text x="72.8" y="370.4" font-size="8.7">i_clusters</text>
<circle cx="118" cy="363.6" r="2.5" fill="#F0554B" opacity="0.85"/>
<text x="126" y="366.1" font-size="7">0</text>
<circle cx="118" cy="371.2" r="2.5" fill="#F7A233" opacity="0.85"/>
<text x="126" y="373.7" font-size="7">1</text>
<circle cx="138.2" cy="363.6" r="2.5" fill="#2FB457" opacity="0.85"/>
<text x="146.2" y="366.1" font-size="7">2</text>
<circle cx="138.2" cy="371.2" r="2.5" fill="#1FBBDD" opacity="0.85"/>
<text x="146.2" y="373.7" font-size="7">3</text>
<circle cx="158.4" cy="363.6" r="2.5" fill="#2E8BCB" opacity="0.85"/>
<text x="166.4" y="366.1" font-size="7">4</text>
<circle cx="158.4" cy="371.2" r="2.5" fill="#B842C8" opacity="0.85"/>
<text x="166.4" y="373.7" font-size="7">5</text>
<circle cx="178.6" cy="363.6" r="2.5" fill="#C4C4C4" opacity="0.85"/>
<text x="186.6" y="366.1" font-size="7">6</text>
<text x="53.5" y="389.2" font-size="8.7">Species</text>
<circle cx="92.8" cy="386.3" r="2.2" fill="#000"/>
<text x="101" y="388.8" font-size="7">homo_sapiens</text>
<path fill="#000" d="M155 384.1l2.6 4.6h-5.2z"/>
<text x="162.8" y="388.8" font-size="7">mus_musculus</text>
<text x="73.2" y="415" font-size="7.7" text-anchor="middle">homo_sapiens</text>
<text x="189.8" y="415" font-size="7.7" text-anchor="middle">mus_musculus</text>
<text x="131.5" y="543.7" font-size="8.5" text-anchor="middle">UMAP 1</text>
<text x="10.1" y="477" font-size="8.5" text-anchor="middle" transform="rotate(-90 10.1 477)">UMAP 2</text>
<path fill="#FF1414" fill-opacity="0.55" stroke="#FF1414" stroke-opacity="0.5" stroke-width="0.35" d="M324.2 425.3C360.1 425.3 360.1 425.3 396 425.3v5.1C360.1 430.4 360.1 430.4 324.2 430.4z"/>
<path fill="#FF1414" fill-opacity="0.55" stroke="#FF1414" stroke-opacity="0.5" stroke-width="0.35" d="M324.2 430.4C360.1 430.4 360.1 455.4 396 455.4v1C360.1 456.4 360.1 431.4 324.2 431.4z"/>
<path fill="#FF1414" fill-opacity="0.55" stroke="#FF1414" stroke-opacity="0.5" stroke-width="0.35" d="M324.2 431.4C360.1 431.4 360.1 457.6 396 457.6v19.9C360.1 477.5 360.1 451.3 324.2 451.3z"/>
<path fill="#FF1414" fill-opacity="0.55" stroke="#FF1414" stroke-opacity="0.5" stroke-width="0.35" d="M324.2 451.3C360.1 451.3 360.1 482.2 396 482.2v17.1C360.1 499.3 360.1 468.4 324.2 468.4z"/>
<path fill="#FF1414" fill-opacity="0.55" stroke="#FF1414" stroke-opacity="0.5" stroke-width="0.35" d="M324.2 468.4C360.1 468.4 360.1 502.2 396 502.2v1C360.1 503.1 360.1 469.4 324.2 469.4z"/>
<path fill="#FF1414" fill-opacity="0.55" stroke="#FF1414" stroke-opacity="0.5" stroke-width="0.35" d="M324.2 469.4C360.1 469.4 360.1 506 396 506v.6C360.1 506.6 360.1 469.9 324.2 469.9z"/>
<path fill="#FF1414" fill-opacity="0.55" stroke="#FF1414" stroke-opacity="0.5" stroke-width="0.35" d="M324.2 469.9C360.1 469.9 360.1 525.2 396 525.2v1C360.1 526.1 360.1 470.9 324.2 470.9z"/>
<path fill="#508CE1" fill-opacity="0.55" stroke="#508CE1" stroke-opacity="0.5" stroke-width="0.35" d="M324.2 470.9C360.1 470.9 360.1 430.4 396 430.4v24.5C360.1 454.9 360.1 495.4 324.2 495.4z"/>
<path fill="#508CE1" fill-opacity="0.55" stroke="#508CE1" stroke-opacity="0.5" stroke-width="0.35" d="M324.2 495.4C360.1 495.4 360.1 456.4 396 456.4v.3C360.1 456.6 360.1 495.7 324.2 495.7z"/>
<path fill="#508CE1" fill-opacity="0.55" stroke="#508CE1" stroke-opacity="0.5" stroke-width="0.35" d="M324.2 495.7C360.1 495.7 360.1 477.5 396 477.5v1C360.1 478.5 360.1 496.6 324.2 496.6z"/>
<path fill="#508CE1" fill-opacity="0.55" stroke="#508CE1" stroke-opacity="0.5" stroke-width="0.35" d="M324.2 496.6C360.1 496.6 360.1 499.3 396 499.3v.8C360.1 500 360.1 497.4 324.2 497.4z"/>
<path fill="#508CE1" fill-opacity="0.55" stroke="#508CE1" stroke-opacity="0.5" stroke-width="0.35" d="M324.2 497.4C360.1 497.4 360.1 503.1 396 503.1v1C360.1 504.1 360.1 498.4 324.2 498.4z"/>
<path fill="#508CE1" fill-opacity="0.55" stroke="#508CE1" stroke-opacity="0.5" stroke-width="0.35" d="M324.2 498.4C360.1 498.4 360.1 506.6 396 506.6v.4C360.1 507 360.1 498.8 324.2 498.8z"/>
<path fill="#508CE1" fill-opacity="0.55" stroke="#508CE1" stroke-opacity="0.5" stroke-width="0.35" d="M324.2 498.8C360.1 498.8 360.1 526.1 396 526.1v.4C360.1 526.5 360.1 499.2 324.2 499.2z"/>
<path fill="#64B900" fill-opacity="0.55" stroke="#64B900" stroke-opacity="0.5" stroke-width="0.35" d="M324.2 499.2C360.1 499.2 360.1 454.9 396 454.9v.5C360.1 455.4 360.1 499.6 324.2 499.6z"/>
<path fill="#64B900" fill-opacity="0.55" stroke="#64B900" stroke-opacity="0.5" stroke-width="0.35" d="M324.2 499.6C360.1 499.6 360.1 456.6 396 456.6v1C360.1 457.6 360.1 500.6 324.2 500.6z"/>
<path fill="#64B900" fill-opacity="0.55" stroke="#64B900" stroke-opacity="0.5" stroke-width="0.35" d="M324.2 500.6C360.1 500.6 360.1 478.5 396 478.5v3.7C360.1 482.2 360.1 504.3 324.2 504.3z"/>
<path fill="#64B900" fill-opacity="0.55" stroke="#64B900" stroke-opacity="0.5" stroke-width="0.35" d="M324.2 504.3C360.1 504.3 360.1 500 396 500v2.1C360.1 502.2 360.1 506.4 324.2 506.4z"/>
<path fill="#64B900" fill-opacity="0.55" stroke="#64B900" stroke-opacity="0.5" stroke-width="0.35" d="M324.2 506.4C360.1 506.4 360.1 504.1 396 504.1v1.9C360.1 506 360.1 508.4 324.2 508.4z"/>
<path fill="#64B900" fill-opacity="0.55" stroke="#64B900" stroke-opacity="0.5" stroke-width="0.35" d="M324.2 508.4C360.1 508.4 360.1 507 396 507v18.1C360.1 525.2 360.1 526.5 324.2 526.5z"/>
<path fill="#64B900" fill-opacity="0.55" stroke="#64B900" stroke-opacity="0.5" stroke-width="0.35" d="M324.2 526.5C360.1 526.5 360.1 526.5 396 526.5v.8C360.1 527.3 360.1 527.3 324.2 527.3z"/>
<rect x="317" y="425.3" width="7.199999999999989" height="101.99999999999994" fill="#BEBEBE"/>
<rect x="396" y="425.3" width="7.199999999999989" height="101.99999999999994" fill="#BEBEBE"/>
<path d="M317 470.9h7.199999999999989" stroke="#A8A8A8" stroke-width="0.5"/>
<path d="M317 499.2h7.199999999999989" stroke="#A8A8A8" stroke-width="0.5"/>
<path d="M396 455.4h7.199999999999989" stroke="#A8A8A8" stroke-width="0.5"/>
<path d="M396 457.6h7.199999999999989" stroke="#A8A8A8" stroke-width="0.5"/>
<path d="M396 482.2h7.199999999999989" stroke="#A8A8A8" stroke-width="0.5"/>
<path d="M396 502.2h7.199999999999989" stroke="#A8A8A8" stroke-width="0.5"/>
<path d="M396 506h7.199999999999989" stroke="#A8A8A8" stroke-width="0.5"/>
<path d="M396 525.2h7.199999999999989" stroke="#A8A8A8" stroke-width="0.5"/>
<text x="320.6" y="449.9" font-size="5" text-anchor="middle">hMGE_0</text>
<text x="320.6" y="486.8" font-size="5" text-anchor="middle">hMGE_1</text>
<text x="320.6" y="515" font-size="5" text-anchor="middle">hMGE_2</text>
<text x="399.6" y="443.8" font-size="5" text-anchor="middle">iMGE_0</text>
<text x="399.6" y="461" font-size="5" text-anchor="middle">iMGE_1</text>
<text x="399.6" y="473.3" font-size="5" text-anchor="middle">iMGE_2</text>
<text x="399.6" y="494.2" font-size="5" text-anchor="middle">iMGE_3</text>
<text x="399.6" y="504.7" font-size="5" text-anchor="middle">iMGE_4</text>
<text x="399.6" y="517" font-size="5" text-anchor="middle">iMGE_5</text>
<text x="399.6" y="528.4" font-size="5" text-anchor="middle">iMGE_6</text>
<rect x="305" y="421" width="111.5" height="111.20000000000005" fill="none" stroke="#111" stroke-width="1.0"/>
<path d="M302.3 527.3h2.7" stroke="#333" stroke-width="0.8"/>
<text x="300.4" y="529.8" font-size="6.9" text-anchor="end" fill="#4D4D4D">0</text>
<path d="M302.3 499h2.7" stroke="#333" stroke-width="0.8"/>
<text x="300.4" y="501.5" font-size="6.9" text-anchor="end" fill="#4D4D4D">100</text>
<path d="M302.3 470.6h2.7" stroke="#333" stroke-width="0.8"/>
<text x="300.4" y="473.1" font-size="6.9" text-anchor="end" fill="#4D4D4D">200</text>
<path d="M302.3 442.3h2.7" stroke="#333" stroke-width="0.8"/>
<text x="300.4" y="444.8" font-size="6.9" text-anchor="end" fill="#4D4D4D">300</text>
<path d="M320.6 532.2v2.6" stroke="#333" stroke-width="0.8"/>
<text x="320.6" y="542.3" font-size="6.9" text-anchor="middle" fill="#4D4D4D">h_clusters</text>
<path d="M399.6 532.2v2.6" stroke="#333" stroke-width="0.8"/>
<text x="399.6" y="542.3" font-size="6.9" text-anchor="middle" fill="#4D4D4D">i_clusters</text>
<text x="285" y="476.4" font-size="8.4" text-anchor="middle" transform="rotate(-90 285 476.4)">Freq</text>
<text x="277.5" y="362.8" font-size="10.5" font-weight="bold">E</text>
<text x="264.2" y="385.6" font-size="8.7">h_clusters</text>
<rect x="308.2" y="379.2" width="7" height="7" fill="#FB807F"/>
<text x="320.0" y="385.1" font-size="6.7">hMGE_0</text>
<rect x="352.2" y="379.2" width="7" height="7" fill="#A2C2EE"/>
<text x="364.0" y="385.1" font-size="6.7">hMGE_1</text>
<rect x="396.2" y="379.2" width="7" height="7" fill="#ABDA72"/>
<text x="408.0" y="385.1" font-size="6.7">hMGE_2</text>
</svg>
</body></html>
